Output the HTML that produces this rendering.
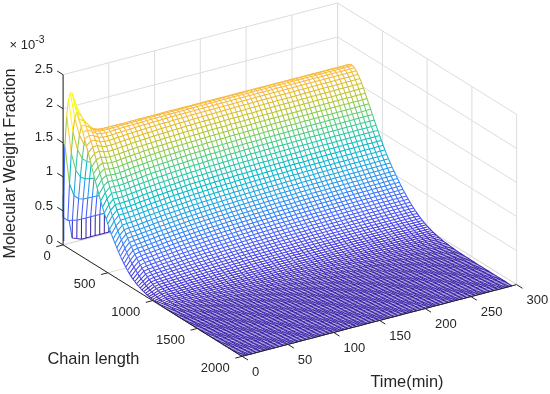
<!DOCTYPE html>
<html><head><meta charset="utf-8"><title>Molecular Weight Fraction</title><style>html,body{margin:0;padding:0;background:#fff}svg{display:block}</style></head><body>
<svg width="550" height="394" viewBox="0 0 550 394">
<rect width="550" height="394" fill="#fff"/>
<path d="M63.1 244.9 L337.6 173.2 M337.6 173.2 L337.6 3 M107.8 272.8 L382.4 201.1 M382.4 201.1 L382.4 30.9 M152.6 300.6 L427.1 228.9 M427.1 228.9 L427.1 58.7 M197.3 328.4 L471.9 256.8 M471.9 256.8 L471.9 86.6 M242.1 356.3 L516.6 284.6 M516.6 284.6 L516.6 114.4 M63.1 244.9 L242.1 356.3 M63.1 244.9 L63.1 74.7 M108.8 233 L287.9 344.4 M108.8 233 L108.8 62.8 M154.6 221 L333.6 332.4 M154.6 221 L154.6 50.8 M200.3 209.1 L379.4 320.4 M200.3 209.1 L200.3 38.9 M246.1 197.1 L425.1 308.5 M246.1 197.1 L246.1 26.9 M291.9 185.2 L470.9 296.6 M291.9 185.2 L291.9 15 M337.6 173.2 L516.6 284.6 M337.6 173.2 L337.6 3 M63.1 244.9 L337.6 173.2 M337.6 173.2 L516.6 284.6 M63.1 210.9 L337.6 139.2 M337.6 139.2 L516.6 250.6 M63.1 176.8 L337.6 105.1 M337.6 105.1 L516.6 216.5 M63.1 142.8 L337.6 71.1 M337.6 71.1 L516.6 182.5 M63.1 108.7 L337.6 37 M337.6 37 L516.6 148.4 M63.1 74.7 L337.6 3 M337.6 3 L516.6 114.4" stroke="#dcdcdc" stroke-width="1" fill="none"/>
<style>.w{fill:#fff;stroke:none}.s{fill:none;stroke-width:1.05;stroke-linejoin:round}.k0{stroke:#3e26a8}.k1{stroke:#402ab4}.k2{stroke:#422ec0}.k3{stroke:#4332cb}.k4{stroke:#4537d5}.k5{stroke:#463cde}.k6{stroke:#4741e5}.k7{stroke:#4747eb}.k8{stroke:#484df0}.k9{stroke:#4852f4}.k10{stroke:#4758f8}.k11{stroke:#465efb}.k12{stroke:#4563fd}.k13{stroke:#4269fe}.k14{stroke:#3e6fff}.k15{stroke:#3875fe}.k16{stroke:#327cfc}.k17{stroke:#2f81fa}.k18{stroke:#2e87f7}.k19{stroke:#2d8cf3}.k20{stroke:#2b91ef}.k21{stroke:#2797eb}.k22{stroke:#259be8}.k23{stroke:#23a0e5}.k24{stroke:#20a5e3}.k25{stroke:#1ca9df}.k26{stroke:#18addb}.k27{stroke:#12b1d6}.k28{stroke:#08b5d0}.k29{stroke:#01b8ca}.k30{stroke:#02bac3}.k31{stroke:#0bbdbd}.k32{stroke:#19bfb6}.k33{stroke:#24c1ae}.k34{stroke:#2cc4a7}.k35{stroke:#31c69f}.k36{stroke:#37c897}.k37{stroke:#3fca8e}.k38{stroke:#4acb84}.k39{stroke:#57cc7a}.k40{stroke:#64cd6f}.k41{stroke:#72cd64}.k42{stroke:#81cc59}.k43{stroke:#8fcb4e}.k44{stroke:#9dc943}.k45{stroke:#abc739}.k46{stroke:#b9c431}.k47{stroke:#c5c22a}.k48{stroke:#d1bf27}.k49{stroke:#dcbd29}.k50{stroke:#e6bb2d}.k51{stroke:#f0ba36}.k52{stroke:#f8ba3d}.k53{stroke:#febe3c}.k54{stroke:#fec338}.k55{stroke:#fec934}.k56{stroke:#fccf30}.k57{stroke:#fad62d}.k58{stroke:#f7dc2a}.k59{stroke:#f5e327}.k60{stroke:#f5e924}.k61{stroke:#f6ef20}.k62{stroke:#f7f51b}.k63{stroke:#f9fb15}</style>
<g class="s"><path class="w" d="M63.1 194.7L67.7 212.7L72.2 238L76.8 238.6L81.4 239.2L86 238L90.6 236.8L95.1 235.6L99.7 234.4L104.3 233.3L108.8 232.1L113.4 230.9L118 229.7L122.6 228.5L127.2 227.3L131.7 226.1L136.3 224.9L140.9 223.7L145.5 222.5L150 221.3L154.6 220.1L159.2 218.9L163.8 217.7L168.3 216.5L172.9 215.3L177.5 214.1L182.1 212.9L186.6 211.7L191.2 210.5L195.8 209.4L200.3 208.2L204.9 207L209.5 205.8L214.1 204.6L218.7 203.4L223.2 202.2L227.8 201L232.4 199.8L236.9 198.6L241.5 197.4L246.1 196.2L250.7 195L255.2 193.8L259.8 192.6L264.4 191.4L269 190.2L273.6 189L278.1 187.8L282.7 186.6L287.3 185.5L291.9 184.3L296.4 183.1L301 181.9L305.6 180.7L310.2 179.5L314.7 178.3L319.3 177.1L323.9 175.9L328.5 174.7L333 173.5L333.2 153.7L328.6 154.9L324 156.1L319.4 157.3L314.9 158.4L310.3 159.6L305.7 160.8L301.1 162L296.6 163.2L292 164.4L287.4 165.6L282.8 166.8L278.3 168L273.7 169.2L269.1 170.4L264.5 171.6L260 172.8L255.4 174L250.8 175.2L246.2 176.3L241.7 177.5L237.1 178.7L232.5 179.9L227.9 181.1L223.4 182.3L218.8 183.5L214.2 184.7L209.6 185.9L205.1 187.1L200.5 188.3L195.9 189.5L191.3 190.7L186.8 191.8L182.2 193L177.6 194.2L173 195.4L168.5 196.6L163.9 197.8L159.3 199L154.7 200.2L150.2 201.4L145.6 202.6L141 203.7L136.4 204.9L131.9 206.1L127.3 207.3L122.7 208.5L118.1 209.7L113.6 210.9L109 212.1L104.4 213.2L99.8 214.4L95.3 215.6L90.7 216.8L86.1 218L81.5 219.1L77 220.2L72.4 220.2L67.8 220.4L63.2 217.5z"/><path class="k24" d="M63.1 194.7L67.7 212.7M63.1 194.7L63.2 217.5"/><path class="k15" d="M67.7 212.7L72.2 238M67.7 212.7L67.8 220.4"/><path class="k2" d="M72.2 238L76.8 238.6M72.2 238L72.4 220.2"/><path class="k1" d="M76.8 238.6L81.4 239.2M76.8 238.6L77 220.2"/><path class="k0" d="M81.4 239.2L86 238L90.6 236.8L95.1 235.6L99.7 234.4L104.3 233.3L108.8 232.1L113.4 230.9L118 229.7L122.6 228.5L127.2 227.3L131.7 226.1L136.3 224.9L140.9 223.7L145.5 222.5L150 221.3L154.6 220.1L159.2 218.9L163.8 217.7L168.3 216.5L172.9 215.3L177.5 214.1L182.1 212.9L186.6 211.7L191.2 210.5L195.8 209.4L200.3 208.2L204.9 207L209.5 205.8L214.1 204.6L218.7 203.4L223.2 202.2L227.8 201L232.4 199.8L236.9 198.6L241.5 197.4L246.1 196.2L250.7 195L255.2 193.8L259.8 192.6L264.4 191.4L269 190.2L273.6 189L278.1 187.8L282.7 186.6L287.3 185.5L291.9 184.3L296.4 183.1L301 181.9L305.6 180.7L310.2 179.5L314.7 178.3L319.3 177.1L323.9 175.9L328.5 174.7L333 173.5M81.4 239.2L81.5 219.1M86 238L86.1 218M90.6 236.8L90.7 216.8M95.1 235.6L95.3 215.6M99.7 234.4L99.8 214.4M104.3 233.3L104.4 213.2M108.8 232.1L109 212.1M113.4 230.9L113.6 210.9M118 229.7L118.1 209.7M122.6 228.5L122.7 208.5M127.2 227.3L127.3 207.3M131.7 226.1L131.9 206.1M136.3 224.9L136.4 204.9M140.9 223.7L141 203.7M145.5 222.5L145.6 202.6M150 221.3L150.2 201.4M154.6 220.1L154.7 200.2M159.2 218.9L159.3 199M163.8 217.7L163.9 197.8M168.3 216.5L168.5 196.6M172.9 215.3L173 195.4M177.5 214.1L177.6 194.2M182.1 212.9L182.2 193M186.6 211.7L186.8 191.8M191.2 210.5L191.3 190.7M195.8 209.4L195.9 189.5M200.3 208.2L200.5 188.3M204.9 207L205.1 187.1M209.5 205.8L209.6 185.9M214.1 204.6L214.2 184.7M218.7 203.4L218.8 183.5M223.2 202.2L223.4 182.3M227.8 201L227.9 181.1M232.4 199.8L232.5 179.9M236.9 198.6L237.1 178.7M241.5 197.4L241.7 177.5M246.1 196.2L246.2 176.3M250.7 195L250.8 175.2M255.2 193.8L255.4 174M259.8 192.6L260 172.8M264.4 191.4L264.5 171.6M269 190.2L269.1 170.4M273.6 189L273.7 169.2M278.1 187.8L278.3 168M282.7 186.6L282.8 166.8M287.3 185.5L287.4 165.6M291.9 184.3L292 164.4M296.4 183.1L296.6 163.2M301 181.9L301.1 162M305.6 180.7L305.7 160.8M310.2 179.5L310.3 159.6M314.7 178.3L314.9 158.4M319.3 177.1L319.4 157.3M323.9 175.9L324 156.1M328.5 174.7L328.6 154.9M333 173.5L333.2 153.7"/><path class="w" d="M63.2 217.5L67.8 220.4L72.4 220.2L77 220.2L81.5 219.1L86.1 218L90.7 216.8L95.3 215.6L99.8 214.4L104.4 213.2L109 212.1L113.6 210.9L118.1 209.7L122.7 208.5L127.3 207.3L131.9 206.1L136.4 204.9L141 203.7L145.6 202.6L150.2 201.4L154.7 200.2L159.3 199L163.9 197.8L168.5 196.6L173 195.4L177.6 194.2L182.2 193L186.8 191.8L191.3 190.7L195.9 189.5L200.5 188.3L205.1 187.1L209.6 185.9L214.2 184.7L218.8 183.5L223.4 182.3L227.9 181.1L232.5 179.9L237.1 178.7L241.7 177.5L246.2 176.3L250.8 175.2L255.4 174L260 172.8L264.5 171.6L269.1 170.4L273.7 169.2L278.3 168L282.8 166.8L287.4 165.6L292 164.4L296.6 163.2L301.1 162L305.7 160.8L310.3 159.6L314.9 158.4L319.4 157.3L324 156.1L328.6 154.9L333.2 153.7L334.8 135.9L330.2 137.1L325.7 138.3L321.1 139.5L316.5 140.7L311.9 141.8L307.4 143L302.8 144.2L298.2 145.4L293.6 146.6L289.1 147.8L284.5 148.9L279.9 150.1L275.3 151.3L270.8 152.5L266.2 153.7L261.6 154.8L257 156L252.5 157.2L247.9 158.4L243.3 159.5L238.7 160.7L234.2 161.9L229.6 163L225 164.2L220.4 165.4L215.9 166.5L211.3 167.7L206.7 168.9L202.1 170L197.6 171.2L193 172.3L188.4 173.5L183.8 174.6L179.3 175.8L174.7 176.9L170.1 178.1L165.5 179.2L161 180.4L156.4 181.5L151.8 182.6L147.2 183.8L142.7 184.9L138.1 186L133.5 187.2L128.9 188.3L124.4 189.4L119.8 190.5L115.2 191.6L110.6 192.7L106.1 193.8L101.5 194.9L96.9 196L92.3 197.1L87.8 198.1L83.2 198.9L78.6 198.7L74 195.5L69.5 183.7L64.9 145.6z"/><path class="k14" d="M63.2 217.5L67.8 220.4M63.2 217.5L64.9 145.6"/><path class="k12" d="M67.8 220.4L72.4 220.2M67.8 220.4L69.5 183.7"/><path class="k11" d="M72.4 220.2L77 220.2L81.5 219.1L86.1 218L90.7 216.8L95.3 215.6L99.8 214.4L104.4 213.2L109 212.1L113.6 210.9L118.1 209.7L122.7 208.5L127.3 207.3L131.9 206.1L136.4 204.9L141 203.7L145.6 202.6L150.2 201.4L154.7 200.2L159.3 199L163.9 197.8L168.5 196.6L173 195.4L177.6 194.2L182.2 193L186.8 191.8L191.3 190.7L195.9 189.5L200.5 188.3L205.1 187.1L209.6 185.9L214.2 184.7L218.8 183.5L223.4 182.3L227.9 181.1L232.5 179.9L237.1 178.7L241.7 177.5L246.2 176.3L250.8 175.2L255.4 174L260 172.8L264.5 171.6L269.1 170.4L273.7 169.2L278.3 168L282.8 166.8L287.4 165.6L292 164.4L296.6 163.2L301.1 162L305.7 160.8L310.3 159.6L314.9 158.4L319.4 157.3L324 156.1L328.6 154.9L333.2 153.7M72.4 220.2L74 195.5M77 220.2L78.6 198.7M81.5 219.1L83.2 198.9M86.1 218L87.8 198.1M90.7 216.8L92.3 197.1M95.3 215.6L96.9 196M99.8 214.4L101.5 194.9M104.4 213.2L106.1 193.8M109 212.1L110.6 192.7M113.6 210.9L115.2 191.6M118.1 209.7L119.8 190.5M122.7 208.5L124.4 189.4M127.3 207.3L128.9 188.3M131.9 206.1L133.5 187.2M136.4 204.9L138.1 186M141 203.7L142.7 184.9M145.6 202.6L147.2 183.8M150.2 201.4L151.8 182.6M154.7 200.2L156.4 181.5M159.3 199L161 180.4M163.9 197.8L165.5 179.2M168.5 196.6L170.1 178.1M173 195.4L174.7 176.9M177.6 194.2L179.3 175.8M182.2 193L183.8 174.6M186.8 191.8L188.4 173.5M191.3 190.7L193 172.3M195.9 189.5L197.6 171.2M200.5 188.3L202.1 170M205.1 187.1L206.7 168.9M209.6 185.9L211.3 167.7M214.2 184.7L215.9 166.5M218.8 183.5L220.4 165.4M223.4 182.3L225 164.2M227.9 181.1L229.6 163M232.5 179.9L234.2 161.9M237.1 178.7L238.7 160.7M241.7 177.5L243.3 159.5M246.2 176.3L247.9 158.4M250.8 175.2L252.5 157.2M255.4 174L257 156M260 172.8L261.6 154.8M264.5 171.6L266.2 153.7M269.1 170.4L270.8 152.5M273.7 169.2L275.3 151.3M278.3 168L279.9 150.1M282.8 166.8L284.5 148.9M287.4 165.6L289.1 147.8M292 164.4L293.6 146.6M296.6 163.2L298.2 145.4M301.1 162L302.8 144.2M305.7 160.8L307.4 143M310.3 159.6L311.9 141.8M314.9 158.4L316.5 140.7M319.4 157.3L321.1 139.5M324 156.1L325.7 138.3M328.6 154.9L330.2 137.1M333.2 153.7L334.8 135.9"/><path class="w" d="M64.9 145.6L69.5 183.7L74 195.5L78.6 198.7L83.2 198.9L87.8 198.1L92.3 197.1L96.9 196L101.5 194.9L106.1 193.8L110.6 192.7L115.2 191.6L119.8 190.5L124.4 189.4L128.9 188.3L133.5 187.2L138.1 186L142.7 184.9L147.2 183.8L151.8 182.6L156.4 181.5L161 180.4L165.5 179.2L170.1 178.1L174.7 176.9L179.3 175.8L183.8 174.6L188.4 173.5L193 172.3L197.6 171.2L202.1 170L206.7 168.9L211.3 167.7L215.9 166.5L220.4 165.4L225 164.2L229.6 163L234.2 161.9L238.7 160.7L243.3 159.5L247.9 158.4L252.5 157.2L257 156L261.6 154.8L266.2 153.7L270.8 152.5L275.3 151.3L279.9 150.1L284.5 148.9L289.1 147.8L293.6 146.6L298.2 145.4L302.8 144.2L307.4 143L311.9 141.8L316.5 140.7L321.1 139.5L325.7 138.3L330.2 137.1L334.8 135.9L336.6 118.3L332 119.5L327.5 120.7L322.9 121.9L318.3 123L313.7 124.2L309.2 125.4L304.6 126.6L300 127.7L295.4 128.9L290.9 130.1L286.3 131.3L281.7 132.4L277.1 133.6L272.6 134.8L268 135.9L263.4 137.1L258.8 138.3L254.3 139.4L249.7 140.6L245.1 141.7L240.5 142.9L236 144L231.4 145.2L226.8 146.3L222.2 147.5L217.7 148.6L213.1 149.8L208.5 150.9L203.9 152.1L199.4 153.2L194.8 154.3L190.2 155.5L185.6 156.6L181.1 157.7L176.5 158.8L171.9 159.9L167.3 161.1L162.8 162.2L158.2 163.3L153.6 164.4L149 165.5L144.5 166.6L139.9 167.7L135.3 168.7L130.7 169.8L126.2 170.9L121.6 172L117 173L112.4 174.1L107.9 175.1L103.3 176.2L98.7 177.2L94.1 178.1L89.6 178.8L85 178.8L80.4 177L75.8 170.2L71.3 153.3L66.7 115.6z"/><path class="k44" d="M64.9 145.6L69.5 183.7M64.9 145.6L66.7 115.6"/><path class="k28" d="M69.5 183.7L74 195.5M69.5 183.7L71.3 153.3"/><path class="k23" d="M74 195.5L78.6 198.7M74 195.5L75.8 170.2"/><path class="k21" d="M78.6 198.7L83.2 198.9M78.6 198.7L80.4 177"/><path class="k20" d="M83.2 198.9L87.8 198.1L92.3 197.1L96.9 196L101.5 194.9L106.1 193.8L110.6 192.7L115.2 191.6L119.8 190.5L124.4 189.4L128.9 188.3L133.5 187.2L138.1 186L142.7 184.9L147.2 183.8L151.8 182.6L156.4 181.5L161 180.4L165.5 179.2L170.1 178.1L174.7 176.9L179.3 175.8L183.8 174.6L188.4 173.5L193 172.3L197.6 171.2L202.1 170M83.2 198.9L85 178.8M87.8 198.1L89.6 178.8M92.3 197.1L94.1 178.1M96.9 196L98.7 177.2M101.5 194.9L103.3 176.2M106.1 193.8L107.9 175.1M110.6 192.7L112.4 174.1M115.2 191.6L117 173M119.8 190.5L121.6 172M124.4 189.4L126.2 170.9M128.9 188.3L130.7 169.8M133.5 187.2L135.3 168.7M138.1 186L139.9 167.7M142.7 184.9L144.5 166.6M147.2 183.8L149 165.5M151.8 182.6L153.6 164.4M156.4 181.5L158.2 163.3M161 180.4L162.8 162.2M165.5 179.2L167.3 161.1M170.1 178.1L171.9 159.9M174.7 176.9L176.5 158.8M179.3 175.8L181.1 157.7M183.8 174.6L185.6 156.6M188.4 173.5L190.2 155.5M193 172.3L194.8 154.3M197.6 171.2L199.4 153.2"/><path class="k19" d="M202.1 170L206.7 168.9L211.3 167.7L215.9 166.5L220.4 165.4L225 164.2L229.6 163L234.2 161.9L238.7 160.7L243.3 159.5L247.9 158.4L252.5 157.2L257 156L261.6 154.8L266.2 153.7L270.8 152.5L275.3 151.3L279.9 150.1L284.5 148.9L289.1 147.8L293.6 146.6L298.2 145.4L302.8 144.2L307.4 143L311.9 141.8L316.5 140.7L321.1 139.5L325.7 138.3L330.2 137.1L334.8 135.9M202.1 170L203.9 152.1M206.7 168.9L208.5 150.9M211.3 167.7L213.1 149.8M215.9 166.5L217.7 148.6M220.4 165.4L222.2 147.5M225 164.2L226.8 146.3M229.6 163L231.4 145.2M234.2 161.9L236 144M238.7 160.7L240.5 142.9M243.3 159.5L245.1 141.7M247.9 158.4L249.7 140.6M252.5 157.2L254.3 139.4M257 156L258.8 138.3M261.6 154.8L263.4 137.1M266.2 153.7L268 135.9M270.8 152.5L272.6 134.8M275.3 151.3L277.1 133.6M279.9 150.1L281.7 132.4M284.5 148.9L286.3 131.3M289.1 147.8L290.9 130.1M293.6 146.6L295.4 128.9M298.2 145.4L300 127.7M302.8 144.2L304.6 126.6M307.4 143L309.2 125.4M311.9 141.8L313.7 124.2M316.5 140.7L318.3 123M321.1 139.5L322.9 121.9M325.7 138.3L327.5 120.7M330.2 137.1L332 119.5M334.8 135.9L336.6 118.3"/><path class="w" d="M66.7 115.6L71.3 153.3L75.8 170.2L80.4 177L85 178.8L89.6 178.8L94.1 178.1L98.7 177.2L103.3 176.2L107.9 175.1L112.4 174.1L117 173L121.6 172L126.2 170.9L130.7 169.8L135.3 168.7L139.9 167.7L144.5 166.6L149 165.5L153.6 164.4L158.2 163.3L162.8 162.2L167.3 161.1L171.9 159.9L176.5 158.8L181.1 157.7L185.6 156.6L190.2 155.5L194.8 154.3L199.4 153.2L203.9 152.1L208.5 150.9L213.1 149.8L217.7 148.6L222.2 147.5L226.8 146.3L231.4 145.2L236 144L240.5 142.9L245.1 141.7L249.7 140.6L254.3 139.4L258.8 138.3L263.4 137.1L268 135.9L272.6 134.8L277.1 133.6L281.7 132.4L286.3 131.3L290.9 130.1L295.4 128.9L300 127.7L304.6 126.6L309.2 125.4L313.7 124.2L318.3 123L322.9 121.9L327.5 120.7L332 119.5L336.6 118.3L338.4 103.2L333.8 104.4L329.2 105.5L324.7 106.7L320.1 107.9L315.5 109.1L310.9 110.2L306.4 111.4L301.8 112.6L297.2 113.7L292.6 114.9L288.1 116.1L283.5 117.2L278.9 118.4L274.3 119.6L269.8 120.7L265.2 121.9L260.6 123L256 124.2L251.5 125.3L246.9 126.5L242.3 127.6L237.7 128.8L233.2 129.9L228.6 131.1L224 132.2L219.4 133.4L214.9 134.5L210.3 135.6L205.7 136.8L201.1 137.9L196.6 139L192 140.1L187.4 141.2L182.8 142.3L178.3 143.4L173.7 144.6L169.1 145.7L164.5 146.7L160 147.8L155.4 148.9L150.8 150L146.2 151.1L141.7 152.2L137.1 153.2L132.5 154.3L127.9 155.3L123.4 156.4L118.8 157.4L114.2 158.5L109.6 159.5L105.1 160.4L100.5 161.3L95.9 162L91.3 162.3L86.8 161.6L82.2 158.5L77.6 149.8L73 131.8L68.5 99.5z"/><path class="k56" d="M66.7 115.6L71.3 153.3M66.7 115.6L68.5 99.5"/><path class="k41" d="M71.3 153.3L75.8 170.2M71.3 153.3L73 131.8"/><path class="k34" d="M75.8 170.2L80.4 177M75.8 170.2L77.6 149.8"/><path class="k31" d="M80.4 177L85 178.8M80.4 177L82.2 158.5"/><path class="k29" d="M85 178.8L89.6 178.8L94.1 178.1L98.7 177.2L103.3 176.2L107.9 175.1M85 178.8L86.8 161.6M89.6 178.8L91.3 162.3M94.1 178.1L95.9 162M98.7 177.2L100.5 161.3M103.3 176.2L105.1 160.4"/><path class="k28" d="M107.9 175.1L112.4 174.1L117 173L121.6 172L126.2 170.9L130.7 169.8L135.3 168.7L139.9 167.7L144.5 166.6L149 165.5L153.6 164.4L158.2 163.3L162.8 162.2L167.3 161.1L171.9 159.9L176.5 158.8L181.1 157.7L185.6 156.6L190.2 155.5L194.8 154.3L199.4 153.2L203.9 152.1L208.5 150.9L213.1 149.8L217.7 148.6L222.2 147.5L226.8 146.3L231.4 145.2L236 144M107.9 175.1L109.6 159.5M112.4 174.1L114.2 158.5M117 173L118.8 157.4M121.6 172L123.4 156.4M126.2 170.9L127.9 155.3M130.7 169.8L132.5 154.3M135.3 168.7L137.1 153.2M139.9 167.7L141.7 152.2M144.5 166.6L146.2 151.1M149 165.5L150.8 150M153.6 164.4L155.4 148.9M158.2 163.3L160 147.8M162.8 162.2L164.5 146.7M167.3 161.1L169.1 145.7M171.9 159.9L173.7 144.6M176.5 158.8L178.3 143.4M181.1 157.7L182.8 142.3M185.6 156.6L187.4 141.2M190.2 155.5L192 140.1M194.8 154.3L196.6 139M199.4 153.2L201.1 137.9M203.9 152.1L205.7 136.8M208.5 150.9L210.3 135.6M213.1 149.8L214.9 134.5M217.7 148.6L219.4 133.4M222.2 147.5L224 132.2M226.8 146.3L228.6 131.1M231.4 145.2L233.2 129.9"/><path class="k27" d="M236 144L240.5 142.9L245.1 141.7L249.7 140.6L254.3 139.4L258.8 138.3L263.4 137.1L268 135.9L272.6 134.8L277.1 133.6L281.7 132.4L286.3 131.3L290.9 130.1L295.4 128.9L300 127.7L304.6 126.6L309.2 125.4L313.7 124.2L318.3 123L322.9 121.9L327.5 120.7L332 119.5L336.6 118.3M236 144L237.7 128.8M240.5 142.9L242.3 127.6M245.1 141.7L246.9 126.5M249.7 140.6L251.5 125.3M254.3 139.4L256 124.2M258.8 138.3L260.6 123M263.4 137.1L265.2 121.9M268 135.9L269.8 120.7M272.6 134.8L274.3 119.6M277.1 133.6L278.9 118.4M281.7 132.4L283.5 117.2M286.3 131.3L288.1 116.1M290.9 130.1L292.6 114.9M295.4 128.9L297.2 113.7M300 127.7L301.8 112.6M304.6 126.6L306.4 111.4M309.2 125.4L310.9 110.2M313.7 124.2L315.5 109.1M318.3 123L320.1 107.9M322.9 121.9L324.7 106.7M327.5 120.7L329.2 105.5M332 119.5L333.8 104.4M336.6 118.3L338.4 103.2"/><path class="w" d="M68.5 99.5L73 131.8L77.6 149.8L82.2 158.5L86.8 161.6L91.3 162.3L95.9 162L100.5 161.3L105.1 160.4L109.6 159.5L114.2 158.5L118.8 157.4L123.4 156.4L127.9 155.3L132.5 154.3L137.1 153.2L141.7 152.2L146.2 151.1L150.8 150L155.4 148.9L160 147.8L164.5 146.7L169.1 145.7L173.7 144.6L178.3 143.4L182.8 142.3L187.4 141.2L192 140.1L196.6 139L201.1 137.9L205.7 136.8L210.3 135.6L214.9 134.5L219.4 133.4L224 132.2L228.6 131.1L233.2 129.9L237.7 128.8L242.3 127.6L246.9 126.5L251.5 125.3L256 124.2L260.6 123L265.2 121.9L269.8 120.7L274.3 119.6L278.9 118.4L283.5 117.2L288.1 116.1L292.6 114.9L297.2 113.7L301.8 112.6L306.4 111.4L310.9 110.2L315.5 109.1L320.1 107.9L324.7 106.7L329.2 105.5L333.8 104.4L338.4 103.2L340.2 90.8L335.6 91.9L331 93.1L326.5 94.3L321.9 95.5L317.3 96.6L312.7 97.8L308.2 99L303.6 100.2L299 101.3L294.4 102.5L289.9 103.7L285.3 104.8L280.7 106L276.1 107.1L271.6 108.3L267 109.5L262.4 110.6L257.8 111.8L253.3 112.9L248.7 114.1L244.1 115.2L239.5 116.4L235 117.5L230.4 118.6L225.8 119.8L221.2 120.9L216.7 122.1L212.1 123.2L207.5 124.3L202.9 125.4L198.4 126.5L193.8 127.7L189.2 128.8L184.6 129.9L180.1 131L175.5 132.1L170.9 133.2L166.3 134.3L161.8 135.4L157.2 136.5L152.6 137.5L148 138.6L143.5 139.7L138.9 140.8L134.3 141.8L129.7 142.9L125.2 143.9L120.6 145L116 146L111.4 146.9L106.9 147.8L102.3 148.6L97.7 149.1L93.1 149L88.6 147.9L84 144.2L79.4 135.1L74.8 118.4L70.3 92.8z"/><path class="k63" d="M68.5 99.5L73 131.8M68.5 99.5L70.3 92.8"/><path class="k50" d="M73 131.8L77.6 149.8M73 131.8L74.8 118.4"/><path class="k43" d="M77.6 149.8L82.2 158.5M77.6 149.8L79.4 135.1"/><path class="k39" d="M82.2 158.5L86.8 161.6M82.2 158.5L84 144.2"/><path class="k37" d="M86.8 161.6L91.3 162.3M86.8 161.6L88.6 147.9"/><path class="k36" d="M91.3 162.3L95.9 162L100.5 161.3L105.1 160.4M91.3 162.3L93.1 149M95.9 162L97.7 149.1M100.5 161.3L102.3 148.6"/><path class="k35" d="M105.1 160.4L109.6 159.5L114.2 158.5L118.8 157.4L123.4 156.4L127.9 155.3L132.5 154.3L137.1 153.2L141.7 152.2L146.2 151.1L150.8 150L155.4 148.9L160 147.8L164.5 146.7L169.1 145.7L173.7 144.6L178.3 143.4L182.8 142.3L187.4 141.2L192 140.1M105.1 160.4L106.9 147.8M109.6 159.5L111.4 146.9M114.2 158.5L116 146M118.8 157.4L120.6 145M123.4 156.4L125.2 143.9M127.9 155.3L129.7 142.9M132.5 154.3L134.3 141.8M137.1 153.2L138.9 140.8M141.7 152.2L143.5 139.7M146.2 151.1L148 138.6M150.8 150L152.6 137.5M155.4 148.9L157.2 136.5M160 147.8L161.8 135.4M164.5 146.7L166.3 134.3M169.1 145.7L170.9 133.2M173.7 144.6L175.5 132.1M178.3 143.4L180.1 131M182.8 142.3L184.6 129.9M187.4 141.2L189.2 128.8"/><path class="k34" d="M192 140.1L196.6 139L201.1 137.9L205.7 136.8L210.3 135.6L214.9 134.5L219.4 133.4L224 132.2L228.6 131.1L233.2 129.9L237.7 128.8L242.3 127.6L246.9 126.5L251.5 125.3L256 124.2L260.6 123L265.2 121.9L269.8 120.7L274.3 119.6L278.9 118.4L283.5 117.2L288.1 116.1L292.6 114.9L297.2 113.7L301.8 112.6L306.4 111.4L310.9 110.2L315.5 109.1L320.1 107.9L324.7 106.7L329.2 105.5L333.8 104.4L338.4 103.2M192 140.1L193.8 127.7M196.6 139L198.4 126.5M201.1 137.9L202.9 125.4M205.7 136.8L207.5 124.3M210.3 135.6L212.1 123.2M214.9 134.5L216.7 122.1M219.4 133.4L221.2 120.9M224 132.2L225.8 119.8M228.6 131.1L230.4 118.6M233.2 129.9L235 117.5M237.7 128.8L239.5 116.4M242.3 127.6L244.1 115.2M246.9 126.5L248.7 114.1M251.5 125.3L253.3 112.9M256 124.2L257.8 111.8M260.6 123L262.4 110.6M265.2 121.9L267 109.5M269.8 120.7L271.6 108.3M274.3 119.6L276.1 107.1M278.9 118.4L280.7 106M283.5 117.2L285.3 104.8M288.1 116.1L289.9 103.7M292.6 114.9L294.4 102.5M297.2 113.7L299 101.3M301.8 112.6L303.6 100.2M306.4 111.4L308.2 99M310.9 110.2L312.7 97.8M315.5 109.1L317.3 96.6M320.1 107.9L321.9 95.5M324.7 106.7L326.5 94.3M329.2 105.5L331 93.1M333.8 104.4L335.6 91.9M338.4 103.2L340.2 90.8"/><path class="w" d="M70.3 92.8L74.8 118.4L79.4 135.1L84 144.2L88.6 147.9L93.1 149L97.7 149.1L102.3 148.6L106.9 147.8L111.4 146.9L116 146L120.6 145L125.2 143.9L129.7 142.9L134.3 141.8L138.9 140.8L143.5 139.7L148 138.6L152.6 137.5L157.2 136.5L161.8 135.4L166.3 134.3L170.9 133.2L175.5 132.1L180.1 131L184.6 129.9L189.2 128.8L193.8 127.7L198.4 126.5L202.9 125.4L207.5 124.3L212.1 123.2L216.7 122.1L221.2 120.9L225.8 119.8L230.4 118.6L235 117.5L239.5 116.4L244.1 115.2L248.7 114.1L253.3 112.9L257.8 111.8L262.4 110.6L267 109.5L271.6 108.3L276.1 107.1L280.7 106L285.3 104.8L289.9 103.7L294.4 102.5L299 101.3L303.6 100.2L308.2 99L312.7 97.8L317.3 96.6L321.9 95.5L326.5 94.3L331 93.1L335.6 91.9L340.2 90.8L342 81L337.4 82.2L332.8 83.4L328.2 84.6L323.7 85.8L319.1 86.9L314.5 88.1L309.9 89.3L305.4 90.4L300.8 91.6L296.2 92.8L291.7 93.9L287.1 95.1L282.5 96.3L277.9 97.4L273.4 98.6L268.8 99.8L264.2 100.9L259.6 102.1L255.1 103.2L250.5 104.4L245.9 105.5L241.3 106.7L236.8 107.8L232.2 109L227.6 110.1L223 111.2L218.4 112.4L213.9 113.5L209.3 114.6L204.7 115.8L200.1 116.9L195.6 118L191 119.1L186.4 120.3L181.9 121.4L177.3 122.5L172.7 123.6L168.1 124.7L163.6 125.8L159 126.9L154.4 128L149.8 129.1L145.2 130.2L140.7 131.2L136.1 132.3L131.5 133.4L127 134.4L122.4 135.5L117.8 136.5L113.2 137.5L108.7 138.4L104.1 139.1L99.5 139.6L94.9 139.6L90.3 138.6L85.8 135.1L81.2 126.8L76.6 112.6L72 93z"/><path class="k63" d="M70.3 92.8L74.8 118.4M70.3 92.8L72 93"/><path class="k56" d="M74.8 118.4L79.4 135.1M74.8 118.4L76.6 112.6"/><path class="k49" d="M79.4 135.1L84 144.2M79.4 135.1L81.2 126.8"/><path class="k45" d="M84 144.2L88.6 147.9M84 144.2L85.8 135.1"/><path class="k43" d="M88.6 147.9L93.1 149M88.6 147.9L90.3 138.6"/><path class="k42" d="M93.1 149L97.7 149.1M93.1 149L94.9 139.6"/><path class="k41" d="M97.7 149.1L102.3 148.6L106.9 147.8L111.4 146.9L116 146L120.6 145L125.2 143.9L129.7 142.9L134.3 141.8M97.7 149.1L99.5 139.6M102.3 148.6L104.1 139.1M106.9 147.8L108.7 138.4M111.4 146.9L113.2 137.5M116 146L117.8 136.5M120.6 145L122.4 135.5M125.2 143.9L127 134.4M129.7 142.9L131.5 133.4"/><path class="k40" d="M134.3 141.8L138.9 140.8L143.5 139.7L148 138.6L152.6 137.5L157.2 136.5L161.8 135.4L166.3 134.3L170.9 133.2L175.5 132.1L180.1 131L184.6 129.9L189.2 128.8L193.8 127.7L198.4 126.5L202.9 125.4L207.5 124.3L212.1 123.2L216.7 122.1L221.2 120.9L225.8 119.8L230.4 118.6L235 117.5L239.5 116.4L244.1 115.2L248.7 114.1L253.3 112.9L257.8 111.8L262.4 110.6L267 109.5L271.6 108.3L276.1 107.1L280.7 106L285.3 104.8L289.9 103.7L294.4 102.5M134.3 141.8L136.1 132.3M138.9 140.8L140.7 131.2M143.5 139.7L145.2 130.2M148 138.6L149.8 129.1M152.6 137.5L154.4 128M157.2 136.5L159 126.9M161.8 135.4L163.6 125.8M166.3 134.3L168.1 124.7M170.9 133.2L172.7 123.6M175.5 132.1L177.3 122.5M180.1 131L181.9 121.4M184.6 129.9L186.4 120.3M189.2 128.8L191 119.1M193.8 127.7L195.6 118M198.4 126.5L200.1 116.9M202.9 125.4L204.7 115.8M207.5 124.3L209.3 114.6M212.1 123.2L213.9 113.5M216.7 122.1L218.4 112.4M221.2 120.9L223 111.2M225.8 119.8L227.6 110.1M230.4 118.6L232.2 109M235 117.5L236.8 107.8M239.5 116.4L241.3 106.7M244.1 115.2L245.9 105.5M248.7 114.1L250.5 104.4M253.3 112.9L255.1 103.2M257.8 111.8L259.6 102.1M262.4 110.6L264.2 100.9M267 109.5L268.8 99.8M271.6 108.3L273.4 98.6M276.1 107.1L277.9 97.4M280.7 106L282.5 96.3M285.3 104.8L287.1 95.1M289.9 103.7L291.7 93.9"/><path class="k39" d="M294.4 102.5L299 101.3L303.6 100.2L308.2 99L312.7 97.8L317.3 96.6L321.9 95.5L326.5 94.3L331 93.1L335.6 91.9L340.2 90.8M294.4 102.5L296.2 92.8M299 101.3L300.8 91.6M303.6 100.2L305.4 90.4M308.2 99L309.9 89.3M312.7 97.8L314.5 88.1M317.3 96.6L319.1 86.9M321.9 95.5L323.7 85.8M326.5 94.3L328.2 84.6M331 93.1L332.8 83.4M335.6 91.9L337.4 82.2M340.2 90.8L342 81"/><path class="w" d="M72 93L76.6 112.6L81.2 126.8L85.8 135.1L90.3 138.6L94.9 139.6L99.5 139.6L104.1 139.1L108.7 138.4L113.2 137.5L117.8 136.5L122.4 135.5L127 134.4L131.5 133.4L136.1 132.3L140.7 131.2L145.2 130.2L149.8 129.1L154.4 128L159 126.9L163.6 125.8L168.1 124.7L172.7 123.6L177.3 122.5L181.9 121.4L186.4 120.3L191 119.1L195.6 118L200.1 116.9L204.7 115.8L209.3 114.6L213.9 113.5L218.4 112.4L223 111.2L227.6 110.1L232.2 109L236.8 107.8L241.3 106.7L245.9 105.5L250.5 104.4L255.1 103.2L259.6 102.1L264.2 100.9L268.8 99.8L273.4 98.6L277.9 97.4L282.5 96.3L287.1 95.1L291.7 93.9L296.2 92.8L300.8 91.6L305.4 90.4L309.9 89.3L314.5 88.1L319.1 86.9L323.7 85.8L328.2 84.6L332.8 83.4L337.4 82.2L342 81L343.8 73.8L339.2 75L334.6 76.2L330 77.3L325.5 78.5L320.9 79.7L316.3 80.9L311.7 82.1L307.2 83.2L302.6 84.4L298 85.6L293.4 86.7L288.9 87.9L284.3 89.1L279.7 90.2L275.1 91.4L270.6 92.6L266 93.7L261.4 94.9L256.8 96.1L252.3 97.2L247.7 98.4L243.1 99.5L238.5 100.7L234 101.8L229.4 103L224.8 104.1L220.2 105.3L215.7 106.4L211.1 107.6L206.5 108.7L201.9 109.8L197.4 111L192.8 112.1L188.2 113.2L183.6 114.3L179.1 115.5L174.5 116.6L169.9 117.7L165.3 118.8L160.8 120L156.2 121.1L151.6 122.2L147 123.3L142.5 124.4L137.9 125.5L133.3 126.6L128.7 127.7L124.2 128.8L119.6 129.9L115 130.9L110.4 131.9L105.9 132.7L101.3 133.4L96.7 133.7L92.1 133.2L87.6 130.6L83 123.6L78.4 112.2L73.8 97.7z"/><path class="k63" d="M72 93L76.6 112.6M72 93L73.8 97.7"/><path class="k58" d="M76.6 112.6L81.2 126.8M76.6 112.6L78.4 112.2"/><path class="k52" d="M81.2 126.8L85.8 135.1M81.2 126.8L83 123.6"/><path class="k49" d="M85.8 135.1L90.3 138.6M85.8 135.1L87.6 130.6"/><path class="k47" d="M90.3 138.6L94.9 139.6M90.3 138.6L92.1 133.2"/><path class="k46" d="M94.9 139.6L99.5 139.6L104.1 139.1M94.9 139.6L96.7 133.7M99.5 139.6L101.3 133.4"/><path class="k45" d="M104.1 139.1L108.7 138.4L113.2 137.5L117.8 136.5L122.4 135.5L127 134.4L131.5 133.4L136.1 132.3L140.7 131.2L145.2 130.2L149.8 129.1L154.4 128L159 126.9M104.1 139.1L105.9 132.7M108.7 138.4L110.4 131.9M113.2 137.5L115 130.9M117.8 136.5L119.6 129.9M122.4 135.5L124.2 128.8M127 134.4L128.7 127.7M131.5 133.4L133.3 126.6M136.1 132.3L137.9 125.5M140.7 131.2L142.5 124.4M145.2 130.2L147 123.3M149.8 129.1L151.6 122.2M154.4 128L156.2 121.1"/><path class="k44" d="M159 126.9L163.6 125.8L168.1 124.7L172.7 123.6L177.3 122.5L181.9 121.4L186.4 120.3L191 119.1L195.6 118L200.1 116.9L204.7 115.8L209.3 114.6L213.9 113.5L218.4 112.4L223 111.2L227.6 110.1L232.2 109L236.8 107.8L241.3 106.7L245.9 105.5L250.5 104.4L255.1 103.2L259.6 102.1L264.2 100.9L268.8 99.8L273.4 98.6L277.9 97.4L282.5 96.3L287.1 95.1L291.7 93.9L296.2 92.8L300.8 91.6L305.4 90.4L309.9 89.3L314.5 88.1L319.1 86.9L323.7 85.8L328.2 84.6L332.8 83.4L337.4 82.2L342 81M159 126.9L160.8 120M163.6 125.8L165.3 118.8M168.1 124.7L169.9 117.7M172.7 123.6L174.5 116.6M177.3 122.5L179.1 115.5M181.9 121.4L183.6 114.3M186.4 120.3L188.2 113.2M191 119.1L192.8 112.1M195.6 118L197.4 111M200.1 116.9L201.9 109.8M204.7 115.8L206.5 108.7M209.3 114.6L211.1 107.6M213.9 113.5L215.7 106.4M218.4 112.4L220.2 105.3M223 111.2L224.8 104.1M227.6 110.1L229.4 103M232.2 109L234 101.8M236.8 107.8L238.5 100.7M241.3 106.7L243.1 99.5M245.9 105.5L247.7 98.4M250.5 104.4L252.3 97.2M255.1 103.2L256.8 96.1M259.6 102.1L261.4 94.9M264.2 100.9L266 93.7M268.8 99.8L270.6 92.6M273.4 98.6L275.1 91.4M277.9 97.4L279.7 90.2M282.5 96.3L284.3 89.1M287.1 95.1L288.9 87.9M291.7 93.9L293.4 86.7M296.2 92.8L298 85.6M300.8 91.6L302.6 84.4M305.4 90.4L307.2 83.2M309.9 89.3L311.7 82.1M314.5 88.1L316.3 80.9M319.1 86.9L320.9 79.7M323.7 85.8L325.5 78.5M328.2 84.6L330 77.3M332.8 83.4L334.6 76.2M337.4 82.2L339.2 75M342 81L343.8 73.8"/><path class="w" d="M73.8 97.7L78.4 112.2L83 123.6L87.6 130.6L92.1 133.2L96.7 133.7L101.3 133.4L105.9 132.7L110.4 131.9L115 130.9L119.6 129.9L124.2 128.8L128.7 127.7L133.3 126.6L137.9 125.5L142.5 124.4L147 123.3L151.6 122.2L156.2 121.1L160.8 120L165.3 118.8L169.9 117.7L174.5 116.6L179.1 115.5L183.6 114.3L188.2 113.2L192.8 112.1L197.4 111L201.9 109.8L206.5 108.7L211.1 107.6L215.7 106.4L220.2 105.3L224.8 104.1L229.4 103L234 101.8L238.5 100.7L243.1 99.5L247.7 98.4L252.3 97.2L256.8 96.1L261.4 94.9L266 93.7L270.6 92.6L275.1 91.4L279.7 90.2L284.3 89.1L288.9 87.9L293.4 86.7L298 85.6L302.6 84.4L307.2 83.2L311.7 82.1L316.3 80.9L320.9 79.7L325.5 78.5L330 77.3L334.6 76.2L339.2 75L343.8 73.8L345.6 68.8L341 70L336.4 71.2L331.8 72.3L327.3 73.5L322.7 74.7L318.1 75.9L313.5 77.1L309 78.2L304.4 79.4L299.8 80.6L295.2 81.8L290.7 82.9L286.1 84.1L281.5 85.3L276.9 86.5L272.4 87.6L267.8 88.8L263.2 90L258.6 91.1L254.1 92.3L249.5 93.5L244.9 94.6L240.3 95.8L235.8 96.9L231.2 98.1L226.6 99.3L222 100.4L217.5 101.6L212.9 102.7L208.3 103.9L203.7 105L199.2 106.2L194.6 107.3L190 108.5L185.4 109.6L180.9 110.8L176.3 111.9L171.7 113.1L167.1 114.2L162.6 115.3L158 116.5L153.4 117.6L148.8 118.8L144.3 119.9L139.7 121L135.1 122.2L130.5 123.3L126 124.5L121.4 125.6L116.8 126.7L112.2 127.8L107.7 128.8L103.1 129.7L98.5 130.3L93.9 130.2L89.4 128.3L84.8 122.7L80.2 114.1L75.6 104.6z"/><path class="k63" d="M73.8 97.7L78.4 112.2M73.8 97.7L75.6 104.6"/><path class="k59" d="M78.4 112.2L83 123.6M78.4 112.2L80.2 114.1"/><path class="k54" d="M83 123.6L87.6 130.6M83 123.6L84.8 122.7"/><path class="k51" d="M87.6 130.6L92.1 133.2M87.6 130.6L89.4 128.3"/><path class="k49" d="M92.1 133.2L96.7 133.7L101.3 133.4M92.1 133.2L93.9 130.2M96.7 133.7L98.5 130.3"/><path class="k48" d="M101.3 133.4L105.9 132.7L110.4 131.9L115 130.9L119.6 129.9L124.2 128.8L128.7 127.7L133.3 126.6L137.9 125.5L142.5 124.4L147 123.3L151.6 122.2L156.2 121.1L160.8 120L165.3 118.8L169.9 117.7L174.5 116.6L179.1 115.5M101.3 133.4L103.1 129.7M105.9 132.7L107.7 128.8M110.4 131.9L112.2 127.8M115 130.9L116.8 126.7M119.6 129.9L121.4 125.6M124.2 128.8L126 124.5M128.7 127.7L130.5 123.3M133.3 126.6L135.1 122.2M137.9 125.5L139.7 121M142.5 124.4L144.3 119.9M147 123.3L148.8 118.8M151.6 122.2L153.4 117.6M156.2 121.1L158 116.5M160.8 120L162.6 115.3M165.3 118.8L167.1 114.2M169.9 117.7L171.7 113.1M174.5 116.6L176.3 111.9"/><path class="k47" d="M179.1 115.5L183.6 114.3L188.2 113.2L192.8 112.1L197.4 111L201.9 109.8L206.5 108.7L211.1 107.6L215.7 106.4L220.2 105.3L224.8 104.1L229.4 103L234 101.8L238.5 100.7L243.1 99.5L247.7 98.4L252.3 97.2L256.8 96.1L261.4 94.9L266 93.7L270.6 92.6L275.1 91.4L279.7 90.2L284.3 89.1L288.9 87.9L293.4 86.7L298 85.6L302.6 84.4L307.2 83.2L311.7 82.1L316.3 80.9L320.9 79.7L325.5 78.5L330 77.3L334.6 76.2L339.2 75L343.8 73.8M179.1 115.5L180.9 110.8M183.6 114.3L185.4 109.6M188.2 113.2L190 108.5M192.8 112.1L194.6 107.3M197.4 111L199.2 106.2M201.9 109.8L203.7 105M206.5 108.7L208.3 103.9M211.1 107.6L212.9 102.7M215.7 106.4L217.5 101.6M220.2 105.3L222 100.4M224.8 104.1L226.6 99.3M229.4 103L231.2 98.1M234 101.8L235.8 96.9M238.5 100.7L240.3 95.8M243.1 99.5L244.9 94.6M247.7 98.4L249.5 93.5M252.3 97.2L254.1 92.3M256.8 96.1L258.6 91.1M261.4 94.9L263.2 90M266 93.7L267.8 88.8M270.6 92.6L272.4 87.6M275.1 91.4L276.9 86.5M279.7 90.2L281.5 85.3M284.3 89.1L286.1 84.1M288.9 87.9L290.7 82.9M293.4 86.7L295.2 81.8M298 85.6L299.8 80.6M302.6 84.4L304.4 79.4M307.2 83.2L309 78.2M311.7 82.1L313.5 77.1M316.3 80.9L318.1 75.9M320.9 79.7L322.7 74.7M325.5 78.5L327.3 73.5M330 77.3L331.8 72.3M334.6 76.2L336.4 71.2M339.2 75L341 70M343.8 73.8L345.6 68.8"/><path class="w" d="M75.6 104.6L80.2 114.1L84.8 122.7L89.4 128.3L93.9 130.2L98.5 130.3L103.1 129.7L107.7 128.8L112.2 127.8L116.8 126.7L121.4 125.6L126 124.5L130.5 123.3L135.1 122.2L139.7 121L144.3 119.9L148.8 118.8L153.4 117.6L158 116.5L162.6 115.3L167.1 114.2L171.7 113.1L176.3 111.9L180.9 110.8L185.4 109.6L190 108.5L194.6 107.3L199.2 106.2L203.7 105L208.3 103.9L212.9 102.7L217.5 101.6L222 100.4L226.6 99.3L231.2 98.1L235.8 96.9L240.3 95.8L244.9 94.6L249.5 93.5L254.1 92.3L258.6 91.1L263.2 90L267.8 88.8L272.4 87.6L276.9 86.5L281.5 85.3L286.1 84.1L290.7 82.9L295.2 81.8L299.8 80.6L304.4 79.4L309 78.2L313.5 77.1L318.1 75.9L322.7 74.7L327.3 73.5L331.8 72.3L336.4 71.2L341 70L345.6 68.8L347.3 65.7L342.8 66.9L338.2 68.1L333.6 69.3L329 70.5L324.5 71.7L319.9 72.8L315.3 74L310.7 75.2L306.2 76.4L301.6 77.6L297 78.7L292.4 79.9L287.9 81.1L283.3 82.3L278.7 83.5L274.1 84.6L269.6 85.8L265 87L260.4 88.2L255.8 89.3L251.3 90.5L246.7 91.7L242.1 92.9L237.5 94L233 95.2L228.4 96.4L223.8 97.6L219.2 98.7L214.7 99.9L210.1 101.1L205.5 102.2L200.9 103.4L196.4 104.6L191.8 105.7L187.2 106.9L182.6 108.1L178.1 109.2L173.5 110.4L168.9 111.6L164.3 112.7L159.8 113.9L155.2 115.1L150.6 116.3L146 117.4L141.5 118.6L136.9 119.8L132.3 121L127.7 122.2L123.2 123.4L118.6 124.5L114 125.7L109.4 126.8L104.9 127.9L100.3 128.8L95.7 129.1L91.1 127.9L86.6 123.3L82 117.2L77.4 111.9z"/><path class="k63" d="M75.6 104.6L80.2 114.1M75.6 104.6L77.4 111.9"/><path class="k59" d="M80.2 114.1L84.8 122.7M80.2 114.1L82 117.2"/><path class="k55" d="M84.8 122.7L89.4 128.3M84.8 122.7L86.6 123.3"/><path class="k52" d="M89.4 128.3L93.9 130.2M89.4 128.3L91.1 127.9"/><path class="k51" d="M93.9 130.2L98.5 130.3L103.1 129.7M93.9 130.2L95.7 129.1M98.5 130.3L100.3 128.8"/><path class="k50" d="M103.1 129.7L107.7 128.8L112.2 127.8L116.8 126.7L121.4 125.6L126 124.5L130.5 123.3L135.1 122.2L139.7 121L144.3 119.9L148.8 118.8L153.4 117.6L158 116.5L162.6 115.3L167.1 114.2L171.7 113.1L176.3 111.9L180.9 110.8L185.4 109.6L190 108.5L194.6 107.3L199.2 106.2L203.7 105L208.3 103.9L212.9 102.7L217.5 101.6L222 100.4L226.6 99.3L231.2 98.1L235.8 96.9L240.3 95.8L244.9 94.6L249.5 93.5L254.1 92.3M103.1 129.7L104.9 127.9M107.7 128.8L109.4 126.8M112.2 127.8L114 125.7M116.8 126.7L118.6 124.5M121.4 125.6L123.2 123.4M126 124.5L127.7 122.2M130.5 123.3L132.3 121M135.1 122.2L136.9 119.8M139.7 121L141.5 118.6M144.3 119.9L146 117.4M148.8 118.8L150.6 116.3M153.4 117.6L155.2 115.1M158 116.5L159.8 113.9M162.6 115.3L164.3 112.7M167.1 114.2L168.9 111.6M171.7 113.1L173.5 110.4M176.3 111.9L178.1 109.2M180.9 110.8L182.6 108.1M185.4 109.6L187.2 106.9M190 108.5L191.8 105.7M194.6 107.3L196.4 104.6M199.2 106.2L200.9 103.4M203.7 105L205.5 102.2M208.3 103.9L210.1 101.1M212.9 102.7L214.7 99.9M217.5 101.6L219.2 98.7M222 100.4L223.8 97.6M226.6 99.3L228.4 96.4M231.2 98.1L233 95.2M235.8 96.9L237.5 94M240.3 95.8L242.1 92.9M244.9 94.6L246.7 91.7M249.5 93.5L251.3 90.5"/><path class="k49" d="M254.1 92.3L258.6 91.1L263.2 90L267.8 88.8L272.4 87.6L276.9 86.5L281.5 85.3L286.1 84.1L290.7 82.9L295.2 81.8L299.8 80.6L304.4 79.4L309 78.2L313.5 77.1L318.1 75.9L322.7 74.7L327.3 73.5L331.8 72.3L336.4 71.2L341 70L345.6 68.8M254.1 92.3L255.8 89.3M258.6 91.1L260.4 88.2M263.2 90L265 87M267.8 88.8L269.6 85.8M272.4 87.6L274.1 84.6M276.9 86.5L278.7 83.5M281.5 85.3L283.3 82.3M286.1 84.1L287.9 81.1M290.7 82.9L292.4 79.9M295.2 81.8L297 78.7M299.8 80.6L301.6 77.6M304.4 79.4L306.2 76.4M309 78.2L310.7 75.2M313.5 77.1L315.3 74M318.1 75.9L319.9 72.8M322.7 74.7L324.5 71.7M327.3 73.5L329 70.5M331.8 72.3L333.6 69.3M336.4 71.2L338.2 68.1M341 70L342.8 66.9M345.6 68.8L347.3 65.7"/><path class="w" d="M77.4 111.9L82 117.2L86.6 123.3L91.1 127.9L95.7 129.1L100.3 128.8L104.9 127.9L109.4 126.8L114 125.7L118.6 124.5L123.2 123.4L127.7 122.2L132.3 121L136.9 119.8L141.5 118.6L146 117.4L150.6 116.3L155.2 115.1L159.8 113.9L164.3 112.7L168.9 111.6L173.5 110.4L178.1 109.2L182.6 108.1L187.2 106.9L191.8 105.7L196.4 104.6L200.9 103.4L205.5 102.2L210.1 101.1L214.7 99.9L219.2 98.7L223.8 97.6L228.4 96.4L233 95.2L237.5 94L242.1 92.9L246.7 91.7L251.3 90.5L255.8 89.3L260.4 88.2L265 87L269.6 85.8L274.1 84.6L278.7 83.5L283.3 82.3L287.9 81.1L292.4 79.9L297 78.7L301.6 77.6L306.2 76.4L310.7 75.2L315.3 74L319.9 72.8L324.5 71.7L329 70.5L333.6 69.3L338.2 68.1L342.8 66.9L347.3 65.7L349.1 64.3L344.6 65.5L340 66.7L335.4 67.9L330.8 69.1L326.3 70.3L321.7 71.5L317.1 72.7L312.5 73.8L308 75L303.4 76.2L298.8 77.4L294.2 78.6L289.7 79.8L285.1 81L280.5 82.2L275.9 83.3L271.4 84.5L266.8 85.7L262.2 86.9L257.6 88.1L253.1 89.3L248.5 90.4L243.9 91.6L239.3 92.8L234.8 94L230.2 95.2L225.6 96.4L221 97.6L216.5 98.7L211.9 99.9L207.3 101.1L202.7 102.3L198.2 103.5L193.6 104.7L189 105.9L184.4 107.1L179.9 108.2L175.3 109.4L170.7 110.6L166.1 111.8L161.6 113L157 114.3L152.4 115.5L147.8 116.7L143.3 117.9L138.7 119.1L134.1 120.4L129.5 121.6L125 122.9L120.4 124.1L115.8 125.3L111.2 126.6L106.7 127.8L102.1 128.9L97.5 129.5L92.9 128.7L88.4 125.2L83.8 121.1L79.2 119z"/><path class="k60" d="M77.4 111.9L82 117.2M77.4 111.9L79.2 119"/><path class="k58" d="M82 117.2L86.6 123.3M82 117.2L83.8 121.1"/><path class="k55" d="M86.6 123.3L91.1 127.9M86.6 123.3L88.4 125.2"/><path class="k53" d="M91.1 127.9L95.7 129.1M91.1 127.9L92.9 128.7"/><path class="k52" d="M95.7 129.1L100.3 128.8L104.9 127.9M95.7 129.1L97.5 129.5M100.3 128.8L102.1 128.9"/><path class="k51" d="M104.9 127.9L109.4 126.8L114 125.7L118.6 124.5L123.2 123.4L127.7 122.2L132.3 121L136.9 119.8L141.5 118.6L146 117.4L150.6 116.3L155.2 115.1L159.8 113.9L164.3 112.7L168.9 111.6L173.5 110.4L178.1 109.2L182.6 108.1L187.2 106.9L191.8 105.7L196.4 104.6L200.9 103.4L205.5 102.2L210.1 101.1L214.7 99.9L219.2 98.7L223.8 97.6L228.4 96.4L233 95.2L237.5 94L242.1 92.9L246.7 91.7L251.3 90.5L255.8 89.3L260.4 88.2L265 87L269.6 85.8L274.1 84.6L278.7 83.5L283.3 82.3L287.9 81.1L292.4 79.9L297 78.7L301.6 77.6L306.2 76.4L310.7 75.2L315.3 74L319.9 72.8L324.5 71.7L329 70.5L333.6 69.3L338.2 68.1L342.8 66.9L347.3 65.7M104.9 127.9L106.7 127.8M109.4 126.8L111.2 126.6M114 125.7L115.8 125.3M118.6 124.5L120.4 124.1M123.2 123.4L125 122.9M127.7 122.2L129.5 121.6M132.3 121L134.1 120.4M136.9 119.8L138.7 119.1M141.5 118.6L143.3 117.9M146 117.4L147.8 116.7M150.6 116.3L152.4 115.5M155.2 115.1L157 114.3M159.8 113.9L161.6 113M164.3 112.7L166.1 111.8M168.9 111.6L170.7 110.6M173.5 110.4L175.3 109.4M178.1 109.2L179.9 108.2M182.6 108.1L184.4 107.1M187.2 106.9L189 105.9M191.8 105.7L193.6 104.7M196.4 104.6L198.2 103.5M200.9 103.4L202.7 102.3M205.5 102.2L207.3 101.1M210.1 101.1L211.9 99.9M214.7 99.9L216.5 98.7M219.2 98.7L221 97.6M223.8 97.6L225.6 96.4M228.4 96.4L230.2 95.2M233 95.2L234.8 94M237.5 94L239.3 92.8M242.1 92.9L243.9 91.6M246.7 91.7L248.5 90.4M251.3 90.5L253.1 89.3M255.8 89.3L257.6 88.1M260.4 88.2L262.2 86.9M265 87L266.8 85.7M269.6 85.8L271.4 84.5M274.1 84.6L275.9 83.3M278.7 83.5L280.5 82.2M283.3 82.3L285.1 81M287.9 81.1L289.7 79.8M292.4 79.9L294.2 78.6M297 78.7L298.8 77.4M301.6 77.6L303.4 76.2M306.2 76.4L308 75M310.7 75.2L312.5 73.8M315.3 74L317.1 72.7M319.9 72.8L321.7 71.5M324.5 71.7L326.3 70.3M329 70.5L330.8 69.1M333.6 69.3L335.4 67.9M338.2 68.1L340 66.7M342.8 66.9L344.6 65.5M347.3 65.7L349.1 64.3"/><path class="w" d="M79.2 119L83.8 121.1L88.4 125.2L92.9 128.7L97.5 129.5L102.1 128.9L106.7 127.8L111.2 126.6L115.8 125.3L120.4 124.1L125 122.9L129.5 121.6L134.1 120.4L138.7 119.1L143.3 117.9L147.8 116.7L152.4 115.5L157 114.3L161.6 113L166.1 111.8L170.7 110.6L175.3 109.4L179.9 108.2L184.4 107.1L189 105.9L193.6 104.7L198.2 103.5L202.7 102.3L207.3 101.1L211.9 99.9L216.5 98.7L221 97.6L225.6 96.4L230.2 95.2L234.8 94L239.3 92.8L243.9 91.6L248.5 90.4L253.1 89.3L257.6 88.1L262.2 86.9L266.8 85.7L271.4 84.5L275.9 83.3L280.5 82.2L285.1 81L289.7 79.8L294.2 78.6L298.8 77.4L303.4 76.2L308 75L312.5 73.8L317.1 72.7L321.7 71.5L326.3 70.3L330.8 69.1L335.4 67.9L340 66.7L344.6 65.5L349.1 64.3L350.9 64.4L346.4 65.5L341.8 66.7L337.2 67.9L332.6 69.1L328.1 70.3L323.5 71.5L318.9 72.7L314.3 73.9L309.8 75.1L305.2 76.3L300.6 77.5L296 78.7L291.5 79.9L286.9 81.1L282.3 82.3L277.7 83.5L273.1 84.6L268.6 85.8L264 87L259.4 88.2L254.8 89.4L250.3 90.6L245.7 91.8L241.1 93L236.6 94.2L232 95.4L227.4 96.6L222.8 97.8L218.2 99L213.7 100.2L209.1 101.4L204.5 102.6L199.9 103.8L195.4 105.1L190.8 106.3L186.2 107.5L181.7 108.7L177.1 109.9L172.5 111.2L167.9 112.4L163.4 113.6L158.8 114.9L154.2 116.1L149.6 117.4L145.1 118.6L140.5 119.9L135.9 121.2L131.3 122.5L126.8 123.8L122.2 125.1L117.6 126.4L113 127.7L108.5 129L103.9 130.3L99.3 131.1L94.7 130.7L90.2 127.9L85.6 125.5L81 125.9z"/><path class="k58" d="M79.2 119L83.8 121.1M79.2 119L81 125.9"/><path class="k57" d="M83.8 121.1L88.4 125.2M83.8 121.1L85.6 125.5"/><path class="k55" d="M88.4 125.2L92.9 128.7M88.4 125.2L90.2 127.9"/><path class="k53" d="M92.9 128.7L97.5 129.5M92.9 128.7L94.7 130.7"/><path class="k52" d="M97.5 129.5L102.1 128.9L106.7 127.8L111.2 126.6L115.8 125.3L120.4 124.1L125 122.9L129.5 121.6L134.1 120.4L138.7 119.1L143.3 117.9L147.8 116.7L152.4 115.5L157 114.3L161.6 113L166.1 111.8L170.7 110.6L175.3 109.4L179.9 108.2L184.4 107.1L189 105.9L193.6 104.7L198.2 103.5L202.7 102.3L207.3 101.1L211.9 99.9L216.5 98.7L221 97.6L225.6 96.4L230.2 95.2L234.8 94L239.3 92.8L243.9 91.6L248.5 90.4L253.1 89.3L257.6 88.1L262.2 86.9L266.8 85.7L271.4 84.5L275.9 83.3L280.5 82.2L285.1 81L289.7 79.8L294.2 78.6L298.8 77.4L303.4 76.2L308 75L312.5 73.8L317.1 72.7L321.7 71.5L326.3 70.3L330.8 69.1L335.4 67.9L340 66.7L344.6 65.5L349.1 64.3M97.5 129.5L99.3 131.1M102.1 128.9L103.9 130.3M106.7 127.8L108.5 129M111.2 126.6L113 127.7M115.8 125.3L117.6 126.4M120.4 124.1L122.2 125.1M125 122.9L126.8 123.8M129.5 121.6L131.3 122.5M134.1 120.4L135.9 121.2M138.7 119.1L140.5 119.9M143.3 117.9L145.1 118.6M147.8 116.7L149.6 117.4M152.4 115.5L154.2 116.1M157 114.3L158.8 114.9M161.6 113L163.4 113.6M166.1 111.8L167.9 112.4M170.7 110.6L172.5 111.2M175.3 109.4L177.1 109.9M179.9 108.2L181.7 108.7M184.4 107.1L186.2 107.5M189 105.9L190.8 106.3M193.6 104.7L195.4 105.1M198.2 103.5L199.9 103.8M202.7 102.3L204.5 102.6M207.3 101.1L209.1 101.4M211.9 99.9L213.7 100.2M216.5 98.7L218.2 99M221 97.6L222.8 97.8M225.6 96.4L227.4 96.6M230.2 95.2L232 95.4M234.8 94L236.6 94.2M239.3 92.8L241.1 93M243.9 91.6L245.7 91.8M248.5 90.4L250.3 90.6M253.1 89.3L254.8 89.4M257.6 88.1L259.4 88.2M262.2 86.9L264 87M266.8 85.7L268.6 85.8M271.4 84.5L273.1 84.6M275.9 83.3L277.7 83.5M280.5 82.2L282.3 82.3M285.1 81L286.9 81.1M289.7 79.8L291.5 79.9M294.2 78.6L296 78.7M298.8 77.4L300.6 77.5M303.4 76.2L305.2 76.3M308 75L309.8 75.1M312.5 73.8L314.3 73.9M317.1 72.7L318.9 72.7M321.7 71.5L323.5 71.5M326.3 70.3L328.1 70.3M330.8 69.1L332.6 69.1M335.4 67.9L337.2 67.9M340 66.7L341.8 66.7M344.6 65.5L346.4 65.5M349.1 64.3L350.9 64.4"/><path class="w" d="M81 125.9L85.6 125.5L90.2 127.9L94.7 130.7L99.3 131.1L103.9 130.3L108.5 129L113 127.7L117.6 126.4L122.2 125.1L126.8 123.8L131.3 122.5L135.9 121.2L140.5 119.9L145.1 118.6L149.6 117.4L154.2 116.1L158.8 114.9L163.4 113.6L167.9 112.4L172.5 111.2L177.1 109.9L181.7 108.7L186.2 107.5L190.8 106.3L195.4 105.1L199.9 103.8L204.5 102.6L209.1 101.4L213.7 100.2L218.2 99L222.8 97.8L227.4 96.6L232 95.4L236.6 94.2L241.1 93L245.7 91.8L250.3 90.6L254.8 89.4L259.4 88.2L264 87L268.6 85.8L273.1 84.6L277.7 83.5L282.3 82.3L286.9 81.1L291.5 79.9L296 78.7L300.6 77.5L305.2 76.3L309.8 75.1L314.3 73.9L318.9 72.7L323.5 71.5L328.1 70.3L332.6 69.1L337.2 67.9L341.8 66.7L346.4 65.5L350.9 64.4L352.7 65.6L348.1 66.8L343.6 68L339 69.2L334.4 70.4L329.8 71.6L325.3 72.8L320.7 74L316.1 75.2L311.5 76.4L307 77.6L302.4 78.8L297.8 80L293.2 81.2L288.7 82.4L284.1 83.6L279.5 84.8L274.9 86L270.4 87.2L265.8 88.4L261.2 89.6L256.6 90.8L252.1 92L247.5 93.2L242.9 94.4L238.3 95.6L233.8 96.8L229.2 98.1L224.6 99.3L220 100.5L215.5 101.7L210.9 102.9L206.3 104.2L201.7 105.4L197.2 106.6L192.6 107.9L188 109.1L183.4 110.4L178.9 111.6L174.3 112.9L169.7 114.1L165.1 115.4L160.6 116.7L156 117.9L151.4 119.2L146.8 120.5L142.3 121.9L137.7 123.2L133.1 124.5L128.5 125.9L124 127.3L119.4 128.6L114.8 130L110.2 131.4L105.7 132.8L101.1 133.8L96.5 133.6L91.9 131.3L87.4 130.2L82.8 132.5z"/><path class="k56" d="M81 125.9L85.6 125.5M81 125.9L82.8 132.5"/><path class="k55" d="M85.6 125.5L90.2 127.9M85.6 125.5L87.4 130.2"/><path class="k54" d="M90.2 127.9L94.7 130.7M90.2 127.9L91.9 131.3"/><path class="k53" d="M94.7 130.7L99.3 131.1M94.7 130.7L96.5 133.6"/><path class="k52" d="M99.3 131.1L103.9 130.3L108.5 129L113 127.7L117.6 126.4L122.2 125.1L126.8 123.8L131.3 122.5L135.9 121.2L140.5 119.9L145.1 118.6L149.6 117.4L154.2 116.1L158.8 114.9L163.4 113.6L167.9 112.4L172.5 111.2L177.1 109.9L181.7 108.7L186.2 107.5L190.8 106.3L195.4 105.1L199.9 103.8L204.5 102.6L209.1 101.4L213.7 100.2L218.2 99L222.8 97.8L227.4 96.6L232 95.4L236.6 94.2L241.1 93L245.7 91.8L250.3 90.6L254.8 89.4L259.4 88.2L264 87L268.6 85.8L273.1 84.6L277.7 83.5L282.3 82.3L286.9 81.1L291.5 79.9L296 78.7L300.6 77.5L305.2 76.3L309.8 75.1L314.3 73.9L318.9 72.7L323.5 71.5L328.1 70.3L332.6 69.1L337.2 67.9L341.8 66.7L346.4 65.5L350.9 64.4M99.3 131.1L101.1 133.8M103.9 130.3L105.7 132.8M108.5 129L110.2 131.4M113 127.7L114.8 130M117.6 126.4L119.4 128.6M122.2 125.1L124 127.3M126.8 123.8L128.5 125.9M131.3 122.5L133.1 124.5M135.9 121.2L137.7 123.2M140.5 119.9L142.3 121.9M145.1 118.6L146.8 120.5M149.6 117.4L151.4 119.2M154.2 116.1L156 117.9M158.8 114.9L160.6 116.7M163.4 113.6L165.1 115.4M167.9 112.4L169.7 114.1M172.5 111.2L174.3 112.9M177.1 109.9L178.9 111.6M181.7 108.7L183.4 110.4M186.2 107.5L188 109.1M190.8 106.3L192.6 107.9M195.4 105.1L197.2 106.6M199.9 103.8L201.7 105.4M204.5 102.6L206.3 104.2M209.1 101.4L210.9 102.9M213.7 100.2L215.5 101.7M218.2 99L220 100.5M222.8 97.8L224.6 99.3M227.4 96.6L229.2 98.1M232 95.4L233.8 96.8M236.6 94.2L238.3 95.6M241.1 93L242.9 94.4M245.7 91.8L247.5 93.2M250.3 90.6L252.1 92M254.8 89.4L256.6 90.8M259.4 88.2L261.2 89.6M264 87L265.8 88.4M268.6 85.8L270.4 87.2M273.1 84.6L274.9 86M277.7 83.5L279.5 84.8M282.3 82.3L284.1 83.6M286.9 81.1L288.7 82.4M291.5 79.9L293.2 81.2M296 78.7L297.8 80M300.6 77.5L302.4 78.8M305.2 76.3L307 77.6M309.8 75.1L311.5 76.4M314.3 73.9L316.1 75.2M318.9 72.7L320.7 74M323.5 71.5L325.3 72.8M328.1 70.3L329.8 71.6M332.6 69.1L334.4 70.4M337.2 67.9L339 69.2M341.8 66.7L343.6 68M346.4 65.5L348.1 66.8M350.9 64.4L352.7 65.6"/><path class="w" d="M82.8 132.5L87.4 130.2L91.9 131.3L96.5 133.6L101.1 133.8L105.7 132.8L110.2 131.4L114.8 130L119.4 128.6L124 127.3L128.5 125.9L133.1 124.5L137.7 123.2L142.3 121.9L146.8 120.5L151.4 119.2L156 117.9L160.6 116.7L165.1 115.4L169.7 114.1L174.3 112.9L178.9 111.6L183.4 110.4L188 109.1L192.6 107.9L197.2 106.6L201.7 105.4L206.3 104.2L210.9 102.9L215.5 101.7L220 100.5L224.6 99.3L229.2 98.1L233.8 96.8L238.3 95.6L242.9 94.4L247.5 93.2L252.1 92L256.6 90.8L261.2 89.6L265.8 88.4L270.4 87.2L274.9 86L279.5 84.8L284.1 83.6L288.7 82.4L293.2 81.2L297.8 80L302.4 78.8L307 77.6L311.5 76.4L316.1 75.2L320.7 74L325.3 72.8L329.8 71.6L334.4 70.4L339 69.2L343.6 68L348.1 66.8L352.7 65.6L354.5 67.8L349.9 69L345.4 70.2L340.8 71.4L336.2 72.6L331.6 73.8L327.1 75L322.5 76.2L317.9 77.4L313.3 78.6L308.8 79.8L304.2 81L299.6 82.2L295 83.4L290.5 84.6L285.9 85.8L281.3 87.1L276.7 88.3L272.2 89.5L267.6 90.7L263 91.9L258.4 93.1L253.9 94.4L249.3 95.6L244.7 96.8L240.1 98L235.6 99.3L231 100.5L226.4 101.7L221.8 103L217.3 104.2L212.7 105.4L208.1 106.7L203.5 107.9L199 109.2L194.4 110.4L189.8 111.7L185.2 113L180.7 114.3L176.1 115.5L171.5 116.8L166.9 118.1L162.4 119.4L157.8 120.8L153.2 122.1L148.6 123.4L144.1 124.8L139.5 126.2L134.9 127.5L130.3 128.9L125.8 130.4L121.2 131.8L116.6 133.3L112 134.7L107.5 136.2L102.9 137.3L98.3 137.3L93.7 135.5L89.2 135.4L84.6 139.1z"/><path class="k54" d="M82.8 132.5L87.4 130.2L91.9 131.3M82.8 132.5L84.6 139.1M87.4 130.2L89.2 135.4"/><path class="k53" d="M91.9 131.3L96.5 133.6M91.9 131.3L93.7 135.5"/><path class="k52" d="M96.5 133.6L101.1 133.8M124 127.3L128.5 125.9L133.1 124.5L137.7 123.2L142.3 121.9L146.8 120.5L151.4 119.2L156 117.9L160.6 116.7L165.1 115.4L169.7 114.1L174.3 112.9L178.9 111.6L183.4 110.4L188 109.1L192.6 107.9L197.2 106.6L201.7 105.4L206.3 104.2L210.9 102.9L215.5 101.7L220 100.5L224.6 99.3L229.2 98.1L233.8 96.8L238.3 95.6L242.9 94.4L247.5 93.2L252.1 92L256.6 90.8L261.2 89.6L265.8 88.4L270.4 87.2L274.9 86L279.5 84.8L284.1 83.6L288.7 82.4L293.2 81.2L297.8 80L302.4 78.8L307 77.6L311.5 76.4L316.1 75.2L320.7 74L325.3 72.8L329.8 71.6L334.4 70.4L339 69.2L343.6 68L348.1 66.8L352.7 65.6M96.5 133.6L98.3 137.3M124 127.3L125.8 130.4M128.5 125.9L130.3 128.9M133.1 124.5L134.9 127.5M137.7 123.2L139.5 126.2M142.3 121.9L144.1 124.8M146.8 120.5L148.6 123.4M151.4 119.2L153.2 122.1M156 117.9L157.8 120.8M160.6 116.7L162.4 119.4M165.1 115.4L166.9 118.1M169.7 114.1L171.5 116.8M174.3 112.9L176.1 115.5M178.9 111.6L180.7 114.3M183.4 110.4L185.2 113M188 109.1L189.8 111.7M192.6 107.9L194.4 110.4M197.2 106.6L199 109.2M201.7 105.4L203.5 107.9M206.3 104.2L208.1 106.7M210.9 102.9L212.7 105.4M215.5 101.7L217.3 104.2M220 100.5L221.8 103M224.6 99.3L226.4 101.7M229.2 98.1L231 100.5M233.8 96.8L235.6 99.3M238.3 95.6L240.1 98M242.9 94.4L244.7 96.8M247.5 93.2L249.3 95.6M252.1 92L253.9 94.4M256.6 90.8L258.4 93.1M261.2 89.6L263 91.9M265.8 88.4L267.6 90.7M270.4 87.2L272.2 89.5M274.9 86L276.7 88.3M279.5 84.8L281.3 87.1M284.1 83.6L285.9 85.8M288.7 82.4L290.5 84.6M293.2 81.2L295 83.4M297.8 80L299.6 82.2M302.4 78.8L304.2 81M307 77.6L308.8 79.8M311.5 76.4L313.3 78.6M316.1 75.2L317.9 77.4M320.7 74L322.5 76.2M325.3 72.8L327.1 75M329.8 71.6L331.6 73.8M334.4 70.4L336.2 72.6M339 69.2L340.8 71.4M343.6 68L345.4 70.2M348.1 66.8L349.9 69M352.7 65.6L354.5 67.8"/><path class="k51" d="M101.1 133.8L105.7 132.8L110.2 131.4L114.8 130L119.4 128.6L124 127.3M101.1 133.8L102.9 137.3M105.7 132.8L107.5 136.2M110.2 131.4L112 134.7M114.8 130L116.6 133.3M119.4 128.6L121.2 131.8"/><path class="w" d="M84.6 139.1L89.2 135.4L93.7 135.5L98.3 137.3L102.9 137.3L107.5 136.2L112 134.7L116.6 133.3L121.2 131.8L125.8 130.4L130.3 128.9L134.9 127.5L139.5 126.2L144.1 124.8L148.6 123.4L153.2 122.1L157.8 120.8L162.4 119.4L166.9 118.1L171.5 116.8L176.1 115.5L180.7 114.3L185.2 113L189.8 111.7L194.4 110.4L199 109.2L203.5 107.9L208.1 106.7L212.7 105.4L217.3 104.2L221.8 103L226.4 101.7L231 100.5L235.6 99.3L240.1 98L244.7 96.8L249.3 95.6L253.9 94.4L258.4 93.1L263 91.9L267.6 90.7L272.2 89.5L276.7 88.3L281.3 87.1L285.9 85.8L290.5 84.6L295 83.4L299.6 82.2L304.2 81L308.8 79.8L313.3 78.6L317.9 77.4L322.5 76.2L327.1 75L331.6 73.8L336.2 72.6L340.8 71.4L345.4 70.2L349.9 69L354.5 67.8L356.3 70.8L351.7 72L347.1 73.2L342.6 74.4L338 75.6L333.4 76.8L328.8 78L324.3 79.2L319.7 80.4L315.1 81.6L310.5 82.9L306 84.1L301.4 85.3L296.8 86.5L292.2 87.7L287.7 88.9L283.1 90.2L278.5 91.4L273.9 92.6L269.4 93.8L264.8 95.1L260.2 96.3L255.6 97.5L251.1 98.7L246.5 100L241.9 101.2L237.3 102.5L232.8 103.7L228.2 105L223.6 106.2L219 107.5L214.5 108.7L209.9 110L205.3 111.3L200.7 112.5L196.2 113.8L191.6 115.1L187 116.4L182.4 117.7L177.9 119L173.3 120.3L168.7 121.7L164.1 123L159.6 124.3L155 125.7L150.4 127.1L145.8 128.5L141.3 129.9L136.7 131.3L132.1 132.8L127.5 134.2L123 135.7L118.4 137.2L113.8 138.8L109.2 140.3L104.7 141.5L100.1 141.7L95.5 140.2L90.9 141.1L86.4 145.8z"/><path class="k52" d="M84.6 139.1L89.2 135.4M93.7 135.5L98.3 137.3M185.2 113L189.8 111.7L194.4 110.4L199 109.2L203.5 107.9L208.1 106.7L212.7 105.4L217.3 104.2L221.8 103L226.4 101.7L231 100.5L235.6 99.3L240.1 98L244.7 96.8L249.3 95.6L253.9 94.4L258.4 93.1L263 91.9L267.6 90.7L272.2 89.5L276.7 88.3L281.3 87.1L285.9 85.8L290.5 84.6L295 83.4L299.6 82.2L304.2 81L308.8 79.8L313.3 78.6L317.9 77.4L322.5 76.2L327.1 75L331.6 73.8L336.2 72.6L340.8 71.4L345.4 70.2L349.9 69L354.5 67.8M84.6 139.1L86.4 145.8M93.7 135.5L95.5 140.2M185.2 113L187 116.4M189.8 111.7L191.6 115.1M194.4 110.4L196.2 113.8M199 109.2L200.7 112.5M203.5 107.9L205.3 111.3M208.1 106.7L209.9 110M212.7 105.4L214.5 108.7M217.3 104.2L219 107.5M221.8 103L223.6 106.2M226.4 101.7L228.2 105M231 100.5L232.8 103.7M235.6 99.3L237.3 102.5M240.1 98L241.9 101.2M244.7 96.8L246.5 100M249.3 95.6L251.1 98.7M253.9 94.4L255.6 97.5M258.4 93.1L260.2 96.3M263 91.9L264.8 95.1M267.6 90.7L269.4 93.8M272.2 89.5L273.9 92.6M276.7 88.3L278.5 91.4M281.3 87.1L283.1 90.2M285.9 85.8L287.7 88.9M290.5 84.6L292.2 87.7M295 83.4L296.8 86.5M299.6 82.2L301.4 85.3M304.2 81L306 84.1M308.8 79.8L310.5 82.9M313.3 78.6L315.1 81.6M317.9 77.4L319.7 80.4M322.5 76.2L324.3 79.2M327.1 75L328.8 78M331.6 73.8L333.4 76.8M336.2 72.6L338 75.6M340.8 71.4L342.6 74.4M345.4 70.2L347.1 73.2M349.9 69L351.7 72M354.5 67.8L356.3 70.8"/><path class="k53" d="M89.2 135.4L93.7 135.5M89.2 135.4L90.9 141.1"/><path class="k51" d="M98.3 137.3L102.9 137.3M116.6 133.3L121.2 131.8L125.8 130.4L130.3 128.9L134.9 127.5L139.5 126.2L144.1 124.8L148.6 123.4L153.2 122.1L157.8 120.8L162.4 119.4L166.9 118.1L171.5 116.8L176.1 115.5L180.7 114.3L185.2 113M98.3 137.3L100.1 141.7M116.6 133.3L118.4 137.2M121.2 131.8L123 135.7M125.8 130.4L127.5 134.2M130.3 128.9L132.1 132.8M134.9 127.5L136.7 131.3M139.5 126.2L141.3 129.9M144.1 124.8L145.8 128.5M148.6 123.4L150.4 127.1M153.2 122.1L155 125.7M157.8 120.8L159.6 124.3M162.4 119.4L164.1 123M166.9 118.1L168.7 121.7M171.5 116.8L173.3 120.3M176.1 115.5L177.9 119M180.7 114.3L182.4 117.7"/><path class="k50" d="M102.9 137.3L107.5 136.2L112 134.7L116.6 133.3M102.9 137.3L104.7 141.5M107.5 136.2L109.2 140.3M112 134.7L113.8 138.8"/><path class="w" d="M86.4 145.8L90.9 141.1L95.5 140.2L100.1 141.7L104.7 141.5L109.2 140.3L113.8 138.8L118.4 137.2L123 135.7L127.5 134.2L132.1 132.8L136.7 131.3L141.3 129.9L145.8 128.5L150.4 127.1L155 125.7L159.6 124.3L164.1 123L168.7 121.7L173.3 120.3L177.9 119L182.4 117.7L187 116.4L191.6 115.1L196.2 113.8L200.7 112.5L205.3 111.3L209.9 110L214.5 108.7L219 107.5L223.6 106.2L228.2 105L232.8 103.7L237.3 102.5L241.9 101.2L246.5 100L251.1 98.7L255.6 97.5L260.2 96.3L264.8 95.1L269.4 93.8L273.9 92.6L278.5 91.4L283.1 90.2L287.7 88.9L292.2 87.7L296.8 86.5L301.4 85.3L306 84.1L310.5 82.9L315.1 81.6L319.7 80.4L324.3 79.2L328.8 78L333.4 76.8L338 75.6L342.6 74.4L347.1 73.2L351.7 72L356.3 70.8L358.1 74.4L353.5 75.6L348.9 76.9L344.4 78.1L339.8 79.3L335.2 80.5L330.6 81.7L326.1 82.9L321.5 84.1L316.9 85.3L312.3 86.6L307.8 87.8L303.2 89L298.6 90.2L294 91.5L289.5 92.7L284.9 93.9L280.3 95.1L275.7 96.4L271.2 97.6L266.6 98.8L262 100.1L257.4 101.3L252.9 102.6L248.3 103.8L243.7 105.1L239.1 106.3L234.6 107.6L230 108.8L225.4 110.1L220.8 111.4L216.3 112.6L211.7 113.9L207.1 115.2L202.5 116.5L198 117.8L193.4 119.1L188.8 120.4L184.2 121.8L179.7 123.1L175.1 124.4L170.5 125.8L165.9 127.2L161.4 128.5L156.8 129.9L152.2 131.4L147.6 132.8L143.1 134.2L138.5 135.7L133.9 137.2L129.3 138.7L124.8 140.2L120.2 141.8L115.6 143.4L111 144.9L106.5 146.2L101.9 146.6L97.3 145.5L92.7 147.1L88.2 152.7z"/><path class="k49" d="M86.4 145.8L90.9 141.1M104.7 141.5L109.2 140.3L113.8 138.8L118.4 137.2L123 135.7M86.4 145.8L88.2 152.7M104.7 141.5L106.5 146.2M109.2 140.3L111 144.9M113.8 138.8L115.6 143.4M118.4 137.2L120.2 141.8"/><path class="k51" d="M90.9 141.1L95.5 140.2L100.1 141.7M177.9 119L182.4 117.7L187 116.4L191.6 115.1L196.2 113.8L200.7 112.5L205.3 111.3L209.9 110L214.5 108.7L219 107.5L223.6 106.2L228.2 105L232.8 103.7L237.3 102.5L241.9 101.2L246.5 100L251.1 98.7L255.6 97.5L260.2 96.3L264.8 95.1L269.4 93.8L273.9 92.6L278.5 91.4L283.1 90.2L287.7 88.9L292.2 87.7L296.8 86.5L301.4 85.3L306 84.1L310.5 82.9L315.1 81.6L319.7 80.4L324.3 79.2L328.8 78L333.4 76.8L338 75.6L342.6 74.4L347.1 73.2L351.7 72L356.3 70.8M90.9 141.1L92.7 147.1M95.5 140.2L97.3 145.5M177.9 119L179.7 123.1M182.4 117.7L184.2 121.8M187 116.4L188.8 120.4M191.6 115.1L193.4 119.1M196.2 113.8L198 117.8M200.7 112.5L202.5 116.5M205.3 111.3L207.1 115.2M209.9 110L211.7 113.9M214.5 108.7L216.3 112.6M219 107.5L220.8 111.4M223.6 106.2L225.4 110.1M228.2 105L230 108.8M232.8 103.7L234.6 107.6M237.3 102.5L239.1 106.3M241.9 101.2L243.7 105.1M246.5 100L248.3 103.8M251.1 98.7L252.9 102.6M255.6 97.5L257.4 101.3M260.2 96.3L262 100.1M264.8 95.1L266.6 98.8M269.4 93.8L271.2 97.6M273.9 92.6L275.7 96.4M278.5 91.4L280.3 95.1M283.1 90.2L284.9 93.9M287.7 88.9L289.5 92.7M292.2 87.7L294 91.5M296.8 86.5L298.6 90.2M301.4 85.3L303.2 89M306 84.1L307.8 87.8M310.5 82.9L312.3 86.6M315.1 81.6L316.9 85.3M319.7 80.4L321.5 84.1M324.3 79.2L326.1 82.9M328.8 78L330.6 81.7M333.4 76.8L335.2 80.5M338 75.6L339.8 79.3M342.6 74.4L344.4 78.1M347.1 73.2L348.9 76.9M351.7 72L353.5 75.6M356.3 70.8L358.1 74.4"/><path class="k50" d="M100.1 141.7L104.7 141.5M123 135.7L127.5 134.2L132.1 132.8L136.7 131.3L141.3 129.9L145.8 128.5L150.4 127.1L155 125.7L159.6 124.3L164.1 123L168.7 121.7L173.3 120.3L177.9 119M100.1 141.7L101.9 146.6M123 135.7L124.8 140.2M127.5 134.2L129.3 138.7M132.1 132.8L133.9 137.2M136.7 131.3L138.5 135.7M141.3 129.9L143.1 134.2M145.8 128.5L147.6 132.8M150.4 127.1L152.2 131.4M155 125.7L156.8 129.9M159.6 124.3L161.4 128.5M164.1 123L165.9 127.2M168.7 121.7L170.5 125.8M173.3 120.3L175.1 124.4"/><path class="w" d="M88.2 152.7L92.7 147.1L97.3 145.5L101.9 146.6L106.5 146.2L111 144.9L115.6 143.4L120.2 141.8L124.8 140.2L129.3 138.7L133.9 137.2L138.5 135.7L143.1 134.2L147.6 132.8L152.2 131.4L156.8 129.9L161.4 128.5L165.9 127.2L170.5 125.8L175.1 124.4L179.7 123.1L184.2 121.8L188.8 120.4L193.4 119.1L198 117.8L202.5 116.5L207.1 115.2L211.7 113.9L216.3 112.6L220.8 111.4L225.4 110.1L230 108.8L234.6 107.6L239.1 106.3L243.7 105.1L248.3 103.8L252.9 102.6L257.4 101.3L262 100.1L266.6 98.8L271.2 97.6L275.7 96.4L280.3 95.1L284.9 93.9L289.5 92.7L294 91.5L298.6 90.2L303.2 89L307.8 87.8L312.3 86.6L316.9 85.3L321.5 84.1L326.1 82.9L330.6 81.7L335.2 80.5L339.8 79.3L344.4 78.1L348.9 76.9L353.5 75.6L358.1 74.4L359.9 78.6L355.3 79.8L350.7 81L346.1 82.3L341.6 83.5L337 84.7L332.4 85.9L327.9 87.1L323.3 88.3L318.7 89.6L314.1 90.8L309.6 92L305 93.2L300.4 94.5L295.8 95.7L291.2 96.9L286.7 98.2L282.1 99.4L277.5 100.6L272.9 101.9L268.4 103.1L263.8 104.4L259.2 105.6L254.7 106.9L250.1 108.1L245.5 109.4L240.9 110.7L236.4 111.9L231.8 113.2L227.2 114.5L222.6 115.8L218.1 117.1L213.5 118.4L208.9 119.7L204.3 121L199.8 122.3L195.2 123.6L190.6 125L186 126.3L181.4 127.7L176.9 129L172.3 130.4L167.7 131.8L163.2 133.2L158.6 134.6L154 136.1L149.4 137.5L144.9 139L140.3 140.5L135.7 142.1L131.1 143.6L126.6 145.2L122 146.8L117.4 148.4L112.8 150L108.2 151.4L103.7 151.8L99.1 151.1L94.5 153.5L90 159.8z"/><path class="k47" d="M88.2 152.7L92.7 147.1M88.2 152.7L90 159.8"/><path class="k49" d="M92.7 147.1L97.3 145.5L101.9 146.6M133.9 137.2L138.5 135.7L143.1 134.2L147.6 132.8L152.2 131.4L156.8 129.9L161.4 128.5L165.9 127.2L170.5 125.8L175.1 124.4L179.7 123.1L184.2 121.8L188.8 120.4L193.4 119.1M92.7 147.1L94.5 153.5M97.3 145.5L99.1 151.1M133.9 137.2L135.7 142.1M138.5 135.7L140.3 140.5M143.1 134.2L144.9 139M147.6 132.8L149.4 137.5M152.2 131.4L154 136.1M156.8 129.9L158.6 134.6M161.4 128.5L163.2 133.2M165.9 127.2L167.7 131.8M170.5 125.8L172.3 130.4M175.1 124.4L176.9 129M179.7 123.1L181.4 127.7M184.2 121.8L186 126.3M188.8 120.4L190.6 125"/><path class="k48" d="M101.9 146.6L106.5 146.2L111 144.9L115.6 143.4L120.2 141.8L124.8 140.2L129.3 138.7L133.9 137.2M101.9 146.6L103.7 151.8M106.5 146.2L108.2 151.4M111 144.9L112.8 150M115.6 143.4L117.4 148.4M120.2 141.8L122 146.8M124.8 140.2L126.6 145.2M129.3 138.7L131.1 143.6"/><path class="k50" d="M193.4 119.1L198 117.8L202.5 116.5L207.1 115.2L211.7 113.9L216.3 112.6L220.8 111.4L225.4 110.1L230 108.8L234.6 107.6L239.1 106.3L243.7 105.1L248.3 103.8L252.9 102.6L257.4 101.3L262 100.1L266.6 98.8L271.2 97.6L275.7 96.4L280.3 95.1L284.9 93.9L289.5 92.7L294 91.5L298.6 90.2L303.2 89L307.8 87.8L312.3 86.6L316.9 85.3L321.5 84.1L326.1 82.9L330.6 81.7L335.2 80.5L339.8 79.3L344.4 78.1L348.9 76.9L353.5 75.6L358.1 74.4M193.4 119.1L195.2 123.6M198 117.8L199.8 122.3M202.5 116.5L204.3 121M207.1 115.2L208.9 119.7M211.7 113.9L213.5 118.4M216.3 112.6L218.1 117.1M220.8 111.4L222.6 115.8M225.4 110.1L227.2 114.5M230 108.8L231.8 113.2M234.6 107.6L236.4 111.9M239.1 106.3L240.9 110.7M243.7 105.1L245.5 109.4M248.3 103.8L250.1 108.1M252.9 102.6L254.7 106.9M257.4 101.3L259.2 105.6M262 100.1L263.8 104.4M266.6 98.8L268.4 103.1M271.2 97.6L272.9 101.9M275.7 96.4L277.5 100.6M280.3 95.1L282.1 99.4M284.9 93.9L286.7 98.2M289.5 92.7L291.2 96.9M294 91.5L295.8 95.7M298.6 90.2L300.4 94.5M303.2 89L305 93.2M307.8 87.8L309.6 92M312.3 86.6L314.1 90.8M316.9 85.3L318.7 89.6M321.5 84.1L323.3 88.3M326.1 82.9L327.9 87.1M330.6 81.7L332.4 85.9M335.2 80.5L337 84.7M339.8 79.3L341.6 83.5M344.4 78.1L346.1 82.3M348.9 76.9L350.7 81M353.5 75.6L355.3 79.8M358.1 74.4L359.9 78.6"/><path class="w" d="M90 159.8L94.5 153.5L99.1 151.1L103.7 151.8L108.2 151.4L112.8 150L117.4 148.4L122 146.8L126.6 145.2L131.1 143.6L135.7 142.1L140.3 140.5L144.9 139L149.4 137.5L154 136.1L158.6 134.6L163.2 133.2L167.7 131.8L172.3 130.4L176.9 129L181.4 127.7L186 126.3L190.6 125L195.2 123.6L199.8 122.3L204.3 121L208.9 119.7L213.5 118.4L218.1 117.1L222.6 115.8L227.2 114.5L231.8 113.2L236.4 111.9L240.9 110.7L245.5 109.4L250.1 108.1L254.7 106.9L259.2 105.6L263.8 104.4L268.4 103.1L272.9 101.9L277.5 100.6L282.1 99.4L286.7 98.2L291.2 96.9L295.8 95.7L300.4 94.5L305 93.2L309.6 92L314.1 90.8L318.7 89.6L323.3 88.3L327.9 87.1L332.4 85.9L337 84.7L341.6 83.5L346.1 82.3L350.7 81L355.3 79.8L359.9 78.6L361.7 83.2L357.1 84.4L352.5 85.6L347.9 86.9L343.4 88.1L338.8 89.3L334.2 90.5L329.6 91.7L325.1 93L320.5 94.2L315.9 95.4L311.3 96.6L306.8 97.9L302.2 99.1L297.6 100.4L293 101.6L288.5 102.8L283.9 104.1L279.3 105.3L274.7 106.6L270.2 107.8L265.6 109.1L261 110.3L256.4 111.6L251.9 112.9L247.3 114.1L242.7 115.4L238.1 116.7L233.6 118L229 119.3L224.4 120.6L219.8 121.9L215.3 123.2L210.7 124.5L206.1 125.8L201.5 127.2L197 128.5L192.4 129.9L187.8 131.2L183.2 132.6L178.7 134L174.1 135.4L169.5 136.8L164.9 138.3L160.4 139.7L155.8 141.2L151.2 142.7L146.6 144.2L142.1 145.7L137.5 147.3L132.9 148.8L128.3 150.5L123.8 152.1L119.2 153.8L114.6 155.4L110 156.8L105.5 157.4L100.9 156.9L96.3 160L91.7 166.9z"/><path class="k45" d="M90 159.8L94.5 153.5M90 159.8L91.7 166.9"/><path class="k47" d="M94.5 153.5L99.1 151.1L103.7 151.8L108.2 151.4M122 146.8L126.6 145.2L131.1 143.6L135.7 142.1L140.3 140.5L144.9 139L149.4 137.5L154 136.1M94.5 153.5L96.3 160M99.1 151.1L100.9 156.9M103.7 151.8L105.5 157.4M122 146.8L123.8 152.1M126.6 145.2L128.3 150.5M131.1 143.6L132.9 148.8M135.7 142.1L137.5 147.3M140.3 140.5L142.1 145.7M144.9 139L146.6 144.2M149.4 137.5L151.2 142.7"/><path class="k46" d="M108.2 151.4L112.8 150L117.4 148.4L122 146.8M108.2 151.4L110 156.8M112.8 150L114.6 155.4M117.4 148.4L119.2 153.8"/><path class="k48" d="M154 136.1L158.6 134.6L163.2 133.2L167.7 131.8L172.3 130.4L176.9 129L181.4 127.7L186 126.3L190.6 125L195.2 123.6L199.8 122.3L204.3 121L208.9 119.7L213.5 118.4L218.1 117.1L222.6 115.8L227.2 114.5M154 136.1L155.8 141.2M158.6 134.6L160.4 139.7M163.2 133.2L164.9 138.3M167.7 131.8L169.5 136.8M172.3 130.4L174.1 135.4M176.9 129L178.7 134M181.4 127.7L183.2 132.6M186 126.3L187.8 131.2M190.6 125L192.4 129.9M195.2 123.6L197 128.5M199.8 122.3L201.5 127.2M204.3 121L206.1 125.8M208.9 119.7L210.7 124.5M213.5 118.4L215.3 123.2M218.1 117.1L219.8 121.9M222.6 115.8L224.4 120.6"/><path class="k49" d="M227.2 114.5L231.8 113.2L236.4 111.9L240.9 110.7L245.5 109.4L250.1 108.1L254.7 106.9L259.2 105.6L263.8 104.4L268.4 103.1L272.9 101.9L277.5 100.6L282.1 99.4L286.7 98.2L291.2 96.9L295.8 95.7L300.4 94.5L305 93.2L309.6 92L314.1 90.8L318.7 89.6L323.3 88.3L327.9 87.1L332.4 85.9L337 84.7L341.6 83.5L346.1 82.3L350.7 81L355.3 79.8L359.9 78.6M227.2 114.5L229 119.3M231.8 113.2L233.6 118M236.4 111.9L238.1 116.7M240.9 110.7L242.7 115.4M245.5 109.4L247.3 114.1M250.1 108.1L251.9 112.9M254.7 106.9L256.4 111.6M259.2 105.6L261 110.3M263.8 104.4L265.6 109.1M268.4 103.1L270.2 107.8M272.9 101.9L274.7 106.6M277.5 100.6L279.3 105.3M282.1 99.4L283.9 104.1M286.7 98.2L288.5 102.8M291.2 96.9L293 101.6M295.8 95.7L297.6 100.4M300.4 94.5L302.2 99.1M305 93.2L306.8 97.9M309.6 92L311.3 96.6M314.1 90.8L315.9 95.4M318.7 89.6L320.5 94.2M323.3 88.3L325.1 93M327.9 87.1L329.6 91.7M332.4 85.9L334.2 90.5M337 84.7L338.8 89.3M341.6 83.5L343.4 88.1M346.1 82.3L347.9 86.9M350.7 81L352.5 85.6M355.3 79.8L357.1 84.4M359.9 78.6L361.7 83.2"/><path class="w" d="M91.7 166.9L96.3 160L100.9 156.9L105.5 157.4L110 156.8L114.6 155.4L119.2 153.8L123.8 152.1L128.3 150.5L132.9 148.8L137.5 147.3L142.1 145.7L146.6 144.2L151.2 142.7L155.8 141.2L160.4 139.7L164.9 138.3L169.5 136.8L174.1 135.4L178.7 134L183.2 132.6L187.8 131.2L192.4 129.9L197 128.5L201.5 127.2L206.1 125.8L210.7 124.5L215.3 123.2L219.8 121.9L224.4 120.6L229 119.3L233.6 118L238.1 116.7L242.7 115.4L247.3 114.1L251.9 112.9L256.4 111.6L261 110.3L265.6 109.1L270.2 107.8L274.7 106.6L279.3 105.3L283.9 104.1L288.5 102.8L293 101.6L297.6 100.4L302.2 99.1L306.8 97.9L311.3 96.6L315.9 95.4L320.5 94.2L325.1 93L329.6 91.7L334.2 90.5L338.8 89.3L343.4 88.1L347.9 86.9L352.5 85.6L357.1 84.4L361.7 83.2L363.5 88.1L358.9 89.3L354.3 90.5L349.7 91.8L345.2 93L340.6 94.2L336 95.4L331.4 96.7L326.9 97.9L322.3 99.1L317.7 100.3L313.1 101.6L308.6 102.8L304 104.1L299.4 105.3L294.8 106.5L290.3 107.8L285.7 109L281.1 110.3L276.5 111.5L272 112.8L267.4 114.1L262.8 115.3L258.2 116.6L253.7 117.9L249.1 119.2L244.5 120.5L239.9 121.7L235.4 123L230.8 124.3L226.2 125.7L221.6 127L217.1 128.3L212.5 129.6L207.9 131L203.3 132.3L198.8 133.7L194.2 135.1L189.6 136.4L185 137.8L180.5 139.2L175.9 140.7L171.3 142.1L166.7 143.6L162.2 145L157.6 146.5L153 148L148.4 149.6L143.9 151.1L139.3 152.7L134.7 154.3L130.1 156L125.6 157.6L121 159.3L116.4 161L111.8 162.5L107.3 163.2L102.7 163L98.1 166.6L93.5 174z"/><path class="k42" d="M91.7 166.9L96.3 160M91.7 166.9L93.5 174"/><path class="k45" d="M96.3 160L100.9 156.9L105.5 157.4L110 156.8L114.6 155.4L119.2 153.8L123.8 152.1L128.3 150.5L132.9 148.8L137.5 147.3L142.1 145.7M96.3 160L98.1 166.6M100.9 156.9L102.7 163M105.5 157.4L107.3 163.2M110 156.8L111.8 162.5M114.6 155.4L116.4 161M119.2 153.8L121 159.3M123.8 152.1L125.6 157.6M128.3 150.5L130.1 156M132.9 148.8L134.7 154.3M137.5 147.3L139.3 152.7"/><path class="k46" d="M142.1 145.7L146.6 144.2L151.2 142.7L155.8 141.2L160.4 139.7L164.9 138.3L169.5 136.8L174.1 135.4L178.7 134L183.2 132.6M142.1 145.7L143.9 151.1M146.6 144.2L148.4 149.6M151.2 142.7L153 148M155.8 141.2L157.6 146.5M160.4 139.7L162.2 145M164.9 138.3L166.7 143.6M169.5 136.8L171.3 142.1M174.1 135.4L175.9 140.7M178.7 134L180.5 139.2"/><path class="k47" d="M183.2 132.6L187.8 131.2L192.4 129.9L197 128.5L201.5 127.2L206.1 125.8L210.7 124.5L215.3 123.2L219.8 121.9L224.4 120.6L229 119.3L233.6 118L238.1 116.7L242.7 115.4L247.3 114.1L251.9 112.9L256.4 111.6L261 110.3L265.6 109.1L270.2 107.8L274.7 106.6L279.3 105.3L283.9 104.1L288.5 102.8L293 101.6L297.6 100.4L302.2 99.1L306.8 97.9M183.2 132.6L185 137.8M187.8 131.2L189.6 136.4M192.4 129.9L194.2 135.1M197 128.5L198.8 133.7M201.5 127.2L203.3 132.3M206.1 125.8L207.9 131M210.7 124.5L212.5 129.6M215.3 123.2L217.1 128.3M219.8 121.9L221.6 127M224.4 120.6L226.2 125.7M229 119.3L230.8 124.3M233.6 118L235.4 123M238.1 116.7L239.9 121.7M242.7 115.4L244.5 120.5M247.3 114.1L249.1 119.2M251.9 112.9L253.7 117.9M256.4 111.6L258.2 116.6M261 110.3L262.8 115.3M265.6 109.1L267.4 114.1M270.2 107.8L272 112.8M274.7 106.6L276.5 111.5M279.3 105.3L281.1 110.3M283.9 104.1L285.7 109M288.5 102.8L290.3 107.8M293 101.6L294.8 106.5M297.6 100.4L299.4 105.3M302.2 99.1L304 104.1"/><path class="k48" d="M306.8 97.9L311.3 96.6L315.9 95.4L320.5 94.2L325.1 93L329.6 91.7L334.2 90.5L338.8 89.3L343.4 88.1L347.9 86.9L352.5 85.6L357.1 84.4L361.7 83.2M306.8 97.9L308.6 102.8M311.3 96.6L313.1 101.6M315.9 95.4L317.7 100.3M320.5 94.2L322.3 99.1M325.1 93L326.9 97.9M329.6 91.7L331.4 96.7M334.2 90.5L336 95.4M338.8 89.3L340.6 94.2M343.4 88.1L345.2 93M347.9 86.9L349.7 91.8M352.5 85.6L354.3 90.5M357.1 84.4L358.9 89.3M361.7 83.2L363.5 88.1"/><path class="w" d="M93.5 174L98.1 166.6L102.7 163L107.3 163.2L111.8 162.5L116.4 161L121 159.3L125.6 157.6L130.1 156L134.7 154.3L139.3 152.7L143.9 151.1L148.4 149.6L153 148L157.6 146.5L162.2 145L166.7 143.6L171.3 142.1L175.9 140.7L180.5 139.2L185 137.8L189.6 136.4L194.2 135.1L198.8 133.7L203.3 132.3L207.9 131L212.5 129.6L217.1 128.3L221.6 127L226.2 125.7L230.8 124.3L235.4 123L239.9 121.7L244.5 120.5L249.1 119.2L253.7 117.9L258.2 116.6L262.8 115.3L267.4 114.1L272 112.8L276.5 111.5L281.1 110.3L285.7 109L290.3 107.8L294.8 106.5L299.4 105.3L304 104.1L308.6 102.8L313.1 101.6L317.7 100.3L322.3 99.1L326.9 97.9L331.4 96.7L336 95.4L340.6 94.2L345.2 93L349.7 91.8L354.3 90.5L358.9 89.3L363.5 88.1L365.2 93.2L360.7 94.4L356.1 95.6L351.5 96.9L346.9 98.1L342.4 99.3L337.8 100.6L333.2 101.8L328.6 103L324.1 104.3L319.5 105.5L314.9 106.7L310.3 108L305.8 109.2L301.2 110.5L296.6 111.7L292 113L287.5 114.2L282.9 115.5L278.3 116.7L273.7 118L269.2 119.3L264.6 120.5L260 121.8L255.4 123.1L250.9 124.4L246.3 125.7L241.7 127L237.1 128.3L232.6 129.6L228 130.9L223.4 132.3L218.8 133.6L214.3 134.9L209.7 136.3L205.1 137.7L200.5 139L196 140.4L191.4 141.8L186.8 143.2L182.2 144.6L177.7 146.1L173.1 147.5L168.5 149L163.9 150.5L159.4 152L154.8 153.5L150.2 155.1L145.6 156.7L141.1 158.3L136.5 159.9L131.9 161.6L127.3 163.3L122.8 165L118.2 166.7L113.6 168.2L109 169L104.5 169.1L99.9 173.2L95.3 181z"/><path class="k40" d="M93.5 174L98.1 166.6M93.5 174L95.3 181"/><path class="k43" d="M98.1 166.6L102.7 163M107.3 163.2L111.8 162.5L116.4 161L121 159.3L125.6 157.6L130.1 156L134.7 154.3M98.1 166.6L99.9 173.2M107.3 163.2L109 169M111.8 162.5L113.6 168.2M116.4 161L118.2 166.7M121 159.3L122.8 165M125.6 157.6L127.3 163.3M130.1 156L131.9 161.6"/><path class="k44" d="M102.7 163L107.3 163.2M134.7 154.3L139.3 152.7L143.9 151.1L148.4 149.6L153 148L157.6 146.5L162.2 145L166.7 143.6M102.7 163L104.5 169.1M134.7 154.3L136.5 159.9M139.3 152.7L141.1 158.3M143.9 151.1L145.6 156.7M148.4 149.6L150.2 155.1M153 148L154.8 153.5M157.6 146.5L159.4 152M162.2 145L163.9 150.5"/><path class="k45" d="M166.7 143.6L171.3 142.1L175.9 140.7L180.5 139.2L185 137.8L189.6 136.4L194.2 135.1L198.8 133.7L203.3 132.3L207.9 131L212.5 129.6L217.1 128.3L221.6 127L226.2 125.7M166.7 143.6L168.5 149M171.3 142.1L173.1 147.5M175.9 140.7L177.7 146.1M180.5 139.2L182.2 144.6M185 137.8L186.8 143.2M189.6 136.4L191.4 141.8M194.2 135.1L196 140.4M198.8 133.7L200.5 139M203.3 132.3L205.1 137.7M207.9 131L209.7 136.3M212.5 129.6L214.3 134.9M217.1 128.3L218.8 133.6M221.6 127L223.4 132.3"/><path class="k46" d="M226.2 125.7L230.8 124.3L235.4 123L239.9 121.7L244.5 120.5L249.1 119.2L253.7 117.9L258.2 116.6L262.8 115.3L267.4 114.1L272 112.8L276.5 111.5L281.1 110.3L285.7 109L290.3 107.8L294.8 106.5L299.4 105.3L304 104.1L308.6 102.8L313.1 101.6L317.7 100.3L322.3 99.1L326.9 97.9L331.4 96.7L336 95.4L340.6 94.2L345.2 93L349.7 91.8L354.3 90.5L358.9 89.3L363.5 88.1M226.2 125.7L228 130.9M230.8 124.3L232.6 129.6M235.4 123L237.1 128.3M239.9 121.7L241.7 127M244.5 120.5L246.3 125.7M249.1 119.2L250.9 124.4M253.7 117.9L255.4 123.1M258.2 116.6L260 121.8M262.8 115.3L264.6 120.5M267.4 114.1L269.2 119.3M272 112.8L273.7 118M276.5 111.5L278.3 116.7M281.1 110.3L282.9 115.5M285.7 109L287.5 114.2M290.3 107.8L292 113M294.8 106.5L296.6 111.7M299.4 105.3L301.2 110.5M304 104.1L305.8 109.2M308.6 102.8L310.3 108M313.1 101.6L314.9 106.7M317.7 100.3L319.5 105.5M322.3 99.1L324.1 104.3M326.9 97.9L328.6 103M331.4 96.7L333.2 101.8M336 95.4L337.8 100.6M340.6 94.2L342.4 99.3M345.2 93L346.9 98.1M349.7 91.8L351.5 96.9M354.3 90.5L356.1 95.6M358.9 89.3L360.7 94.4M363.5 88.1L365.2 93.2"/><path class="w" d="M95.3 181L99.9 173.2L104.5 169.1L109 169L113.6 168.2L118.2 166.7L122.8 165L127.3 163.3L131.9 161.6L136.5 159.9L141.1 158.3L145.6 156.7L150.2 155.1L154.8 153.5L159.4 152L163.9 150.5L168.5 149L173.1 147.5L177.7 146.1L182.2 144.6L186.8 143.2L191.4 141.8L196 140.4L200.5 139L205.1 137.7L209.7 136.3L214.3 134.9L218.8 133.6L223.4 132.3L228 130.9L232.6 129.6L237.1 128.3L241.7 127L246.3 125.7L250.9 124.4L255.4 123.1L260 121.8L264.6 120.5L269.2 119.3L273.7 118L278.3 116.7L282.9 115.5L287.5 114.2L292 113L296.6 111.7L301.2 110.5L305.8 109.2L310.3 108L314.9 106.7L319.5 105.5L324.1 104.3L328.6 103L333.2 101.8L337.8 100.6L342.4 99.3L346.9 98.1L351.5 96.9L356.1 95.6L360.7 94.4L365.2 93.2L367 98.5L362.5 99.7L357.9 100.9L353.3 102.1L348.7 103.4L344.2 104.6L339.6 105.8L335 107.1L330.4 108.3L325.9 109.5L321.3 110.8L316.7 112L312.1 113.3L307.6 114.5L303 115.8L298.4 117L293.8 118.3L289.3 119.5L284.7 120.8L280.1 122.1L275.5 123.3L271 124.6L266.4 125.9L261.8 127.2L257.2 128.5L252.7 129.8L248.1 131.1L243.5 132.4L238.9 133.7L234.4 135L229.8 136.3L225.2 137.7L220.6 139L216.1 140.4L211.5 141.7L206.9 143.1L202.3 144.5L197.8 145.9L193.2 147.3L188.6 148.7L184 150.2L179.5 151.6L174.9 153.1L170.3 154.6L165.7 156.1L161.2 157.6L156.6 159.2L152 160.7L147.4 162.3L142.9 163.9L138.3 165.6L133.7 167.3L129.1 169L124.6 170.7L120 172.5L115.4 174L110.8 174.9L106.3 175.3L101.7 179.7L97.1 187.8z"/><path class="k38" d="M95.3 181L99.9 173.2M95.3 181L97.1 187.8"/><path class="k40" d="M99.9 173.2L104.5 169.1M99.9 173.2L101.7 179.7"/><path class="k42" d="M104.5 169.1L109 169M131.9 161.6L136.5 159.9L141.1 158.3L145.6 156.7L150.2 155.1L154.8 153.5L159.4 152M104.5 169.1L106.3 175.3M131.9 161.6L133.7 167.3M136.5 159.9L138.3 165.6M141.1 158.3L142.9 163.9M145.6 156.7L147.4 162.3M150.2 155.1L152 160.7M154.8 153.5L156.6 159.2"/><path class="k41" d="M109 169L113.6 168.2L118.2 166.7L122.8 165L127.3 163.3L131.9 161.6M109 169L110.8 174.9M113.6 168.2L115.4 174M118.2 166.7L120 172.5M122.8 165L124.6 170.7M127.3 163.3L129.1 169"/><path class="k43" d="M159.4 152L163.9 150.5L168.5 149L173.1 147.5L177.7 146.1L182.2 144.6L186.8 143.2L191.4 141.8L196 140.4L200.5 139M159.4 152L161.2 157.6M163.9 150.5L165.7 156.1M168.5 149L170.3 154.6M173.1 147.5L174.9 153.1M177.7 146.1L179.5 151.6M182.2 144.6L184 150.2M186.8 143.2L188.6 148.7M191.4 141.8L193.2 147.3M196 140.4L197.8 145.9"/><path class="k44" d="M200.5 139L205.1 137.7L209.7 136.3L214.3 134.9L218.8 133.6L223.4 132.3L228 130.9L232.6 129.6L237.1 128.3L241.7 127L246.3 125.7L250.9 124.4L255.4 123.1L260 121.8L264.6 120.5L269.2 119.3L273.7 118L278.3 116.7L282.9 115.5L287.5 114.2L292 113L296.6 111.7L301.2 110.5L305.8 109.2L310.3 108L314.9 106.7L319.5 105.5L324.1 104.3L328.6 103M200.5 139L202.3 144.5M205.1 137.7L206.9 143.1M209.7 136.3L211.5 141.7M214.3 134.9L216.1 140.4M218.8 133.6L220.6 139M223.4 132.3L225.2 137.7M228 130.9L229.8 136.3M232.6 129.6L234.4 135M237.1 128.3L238.9 133.7M241.7 127L243.5 132.4M246.3 125.7L248.1 131.1M250.9 124.4L252.7 129.8M255.4 123.1L257.2 128.5M260 121.8L261.8 127.2M264.6 120.5L266.4 125.9M269.2 119.3L271 124.6M273.7 118L275.5 123.3M278.3 116.7L280.1 122.1M282.9 115.5L284.7 120.8M287.5 114.2L289.3 119.5M292 113L293.8 118.3M296.6 111.7L298.4 117M301.2 110.5L303 115.8M305.8 109.2L307.6 114.5M310.3 108L312.1 113.3M314.9 106.7L316.7 112M319.5 105.5L321.3 110.8M324.1 104.3L325.9 109.5"/><path class="k45" d="M328.6 103L333.2 101.8L337.8 100.6L342.4 99.3L346.9 98.1L351.5 96.9L356.1 95.6L360.7 94.4L365.2 93.2M328.6 103L330.4 108.3M333.2 101.8L335 107.1M337.8 100.6L339.6 105.8M342.4 99.3L344.2 104.6M346.9 98.1L348.7 103.4M351.5 96.9L353.3 102.1M356.1 95.6L357.9 100.9M360.7 94.4L362.5 99.7M365.2 93.2L367 98.5"/><path class="w" d="M97.1 187.8L101.7 179.7L106.3 175.3L110.8 174.9L115.4 174L120 172.5L124.6 170.7L129.1 169L133.7 167.3L138.3 165.6L142.9 163.9L147.4 162.3L152 160.7L156.6 159.2L161.2 157.6L165.7 156.1L170.3 154.6L174.9 153.1L179.5 151.6L184 150.2L188.6 148.7L193.2 147.3L197.8 145.9L202.3 144.5L206.9 143.1L211.5 141.7L216.1 140.4L220.6 139L225.2 137.7L229.8 136.3L234.4 135L238.9 133.7L243.5 132.4L248.1 131.1L252.7 129.8L257.2 128.5L261.8 127.2L266.4 125.9L271 124.6L275.5 123.3L280.1 122.1L284.7 120.8L289.3 119.5L293.8 118.3L298.4 117L303 115.8L307.6 114.5L312.1 113.3L316.7 112L321.3 110.8L325.9 109.5L330.4 108.3L335 107.1L339.6 105.8L344.2 104.6L348.7 103.4L353.3 102.1L357.9 100.9L362.5 99.7L367 98.5L368.8 103.8L364.2 105L359.7 106.3L355.1 107.5L350.5 108.7L346 110L341.4 111.2L336.8 112.4L332.2 113.7L327.6 114.9L323.1 116.1L318.5 117.4L313.9 118.6L309.4 119.9L304.8 121.1L300.2 122.4L295.6 123.7L291.1 124.9L286.5 126.2L281.9 127.5L277.3 128.7L272.8 130L268.2 131.3L263.6 132.6L259 133.9L254.5 135.2L249.9 136.5L245.3 137.8L240.7 139.1L236.2 140.5L231.6 141.8L227 143.2L222.4 144.5L217.9 145.9L213.3 147.2L208.7 148.6L204.1 150L199.6 151.4L195 152.8L190.4 154.3L185.8 155.7L181.2 157.2L176.7 158.7L172.1 160.2L167.5 161.7L162.9 163.2L158.4 164.8L153.8 166.4L149.2 168L144.7 169.6L140.1 171.3L135.5 173L130.9 174.7L126.4 176.5L121.8 178.2L117.2 179.8L112.6 180.8L108.1 181.4L103.5 186.2L98.9 194.5z"/><path class="k35" d="M97.1 187.8L101.7 179.7M97.1 187.8L98.9 194.5"/><path class="k38" d="M101.7 179.7L106.3 175.3M101.7 179.7L103.5 186.2"/><path class="k40" d="M106.3 175.3L110.8 174.9M129.1 169L133.7 167.3L138.3 165.6L142.9 163.9L147.4 162.3L152 160.7M106.3 175.3L108.1 181.4M129.1 169L130.9 174.7M133.7 167.3L135.5 173M138.3 165.6L140.1 171.3M142.9 163.9L144.7 169.6M147.4 162.3L149.2 168"/><path class="k39" d="M110.8 174.9L115.4 174L120 172.5L124.6 170.7L129.1 169M110.8 174.9L112.6 180.8M115.4 174L117.2 179.8M120 172.5L121.8 178.2M124.6 170.7L126.4 176.5"/><path class="k41" d="M152 160.7L156.6 159.2L161.2 157.6L165.7 156.1L170.3 154.6L174.9 153.1L179.5 151.6L184 150.2L188.6 148.7M152 160.7L153.8 166.4M156.6 159.2L158.4 164.8M161.2 157.6L162.9 163.2M165.7 156.1L167.5 161.7M170.3 154.6L172.1 160.2M174.9 153.1L176.7 158.7M179.5 151.6L181.2 157.2M184 150.2L185.8 155.7"/><path class="k42" d="M188.6 148.7L193.2 147.3L197.8 145.9L202.3 144.5L206.9 143.1L211.5 141.7L216.1 140.4L220.6 139L225.2 137.7L229.8 136.3L234.4 135L238.9 133.7L243.5 132.4L248.1 131.1L252.7 129.8L257.2 128.5L261.8 127.2L266.4 125.9M188.6 148.7L190.4 154.3M193.2 147.3L195 152.8M197.8 145.9L199.6 151.4M202.3 144.5L204.1 150M206.9 143.1L208.7 148.6M211.5 141.7L213.3 147.2M216.1 140.4L217.9 145.9M220.6 139L222.4 144.5M225.2 137.7L227 143.2M229.8 136.3L231.6 141.8M234.4 135L236.2 140.5M238.9 133.7L240.7 139.1M243.5 132.4L245.3 137.8M248.1 131.1L249.9 136.5M252.7 129.8L254.5 135.2M257.2 128.5L259 133.9M261.8 127.2L263.6 132.6"/><path class="k43" d="M266.4 125.9L271 124.6L275.5 123.3L280.1 122.1L284.7 120.8L289.3 119.5L293.8 118.3L298.4 117L303 115.8L307.6 114.5L312.1 113.3L316.7 112L321.3 110.8L325.9 109.5L330.4 108.3L335 107.1L339.6 105.8L344.2 104.6L348.7 103.4L353.3 102.1L357.9 100.9L362.5 99.7L367 98.5M266.4 125.9L268.2 131.3M271 124.6L272.8 130M275.5 123.3L277.3 128.7M280.1 122.1L281.9 127.5M284.7 120.8L286.5 126.2M289.3 119.5L291.1 124.9M293.8 118.3L295.6 123.7M298.4 117L300.2 122.4M303 115.8L304.8 121.1M307.6 114.5L309.4 119.9M312.1 113.3L313.9 118.6M316.7 112L318.5 117.4M321.3 110.8L323.1 116.1M325.9 109.5L327.6 114.9M330.4 108.3L332.2 113.7M335 107.1L336.8 112.4M339.6 105.8L341.4 111.2M344.2 104.6L346 110M348.7 103.4L350.5 108.7M353.3 102.1L355.1 107.5M357.9 100.9L359.7 106.3M362.5 99.7L364.2 105M367 98.5L368.8 103.8"/><path class="w" d="M98.9 194.5L103.5 186.2L108.1 181.4L112.6 180.8L117.2 179.8L121.8 178.2L126.4 176.5L130.9 174.7L135.5 173L140.1 171.3L144.7 169.6L149.2 168L153.8 166.4L158.4 164.8L162.9 163.2L167.5 161.7L172.1 160.2L176.7 158.7L181.2 157.2L185.8 155.7L190.4 154.3L195 152.8L199.6 151.4L204.1 150L208.7 148.6L213.3 147.2L217.9 145.9L222.4 144.5L227 143.2L231.6 141.8L236.2 140.5L240.7 139.1L245.3 137.8L249.9 136.5L254.5 135.2L259 133.9L263.6 132.6L268.2 131.3L272.8 130L277.3 128.7L281.9 127.5L286.5 126.2L291.1 124.9L295.6 123.7L300.2 122.4L304.8 121.1L309.4 119.9L313.9 118.6L318.5 117.4L323.1 116.1L327.6 114.9L332.2 113.7L336.8 112.4L341.4 111.2L346 110L350.5 108.7L355.1 107.5L359.7 106.3L364.2 105L368.8 103.8L370.6 109.2L366 110.4L361.5 111.7L356.9 112.9L352.3 114.1L347.7 115.4L343.2 116.6L338.6 117.8L334 119.1L329.4 120.3L324.9 121.6L320.3 122.8L315.7 124.1L311.1 125.3L306.6 126.6L302 127.8L297.4 129.1L292.8 130.4L288.3 131.6L283.7 132.9L279.1 134.2L274.5 135.5L270 136.8L265.4 138.1L260.8 139.4L256.2 140.7L251.7 142L247.1 143.3L242.5 144.6L237.9 146L233.4 147.3L228.8 148.6L224.2 150L219.6 151.4L215.1 152.8L210.5 154.1L205.9 155.5L201.3 157L196.8 158.4L192.2 159.8L187.6 161.3L183 162.8L178.5 164.3L173.9 165.8L169.3 167.3L164.7 168.8L160.2 170.4L155.6 172L151 173.6L146.4 175.3L141.9 177L137.3 178.7L132.7 180.4L128.1 182.2L123.6 184L119 185.6L114.4 186.6L109.8 187.4L105.3 192.5L100.7 201z"/><path class="k33" d="M98.9 194.5L103.5 186.2M98.9 194.5L100.7 201"/><path class="k36" d="M103.5 186.2L108.1 181.4M103.5 186.2L105.3 192.5"/><path class="k38" d="M108.1 181.4L112.6 180.8M126.4 176.5L130.9 174.7L135.5 173L140.1 171.3L144.7 169.6L149.2 168M108.1 181.4L109.8 187.4M126.4 176.5L128.1 182.2M130.9 174.7L132.7 180.4M135.5 173L137.3 178.7M140.1 171.3L141.9 177M144.7 169.6L146.4 175.3"/><path class="k37" d="M112.6 180.8L117.2 179.8L121.8 178.2L126.4 176.5M112.6 180.8L114.4 186.6M117.2 179.8L119 185.6M121.8 178.2L123.6 184"/><path class="k39" d="M149.2 168L153.8 166.4L158.4 164.8L162.9 163.2L167.5 161.7L172.1 160.2L176.7 158.7L181.2 157.2M149.2 168L151 173.6M153.8 166.4L155.6 172M158.4 164.8L160.2 170.4M162.9 163.2L164.7 168.8M167.5 161.7L169.3 167.3M172.1 160.2L173.9 165.8M176.7 158.7L178.5 164.3"/><path class="k40" d="M181.2 157.2L185.8 155.7L190.4 154.3L195 152.8L199.6 151.4L204.1 150L208.7 148.6L213.3 147.2L217.9 145.9L222.4 144.5L227 143.2L231.6 141.8L236.2 140.5M181.2 157.2L183 162.8M185.8 155.7L187.6 161.3M190.4 154.3L192.2 159.8M195 152.8L196.8 158.4M199.6 151.4L201.3 157M204.1 150L205.9 155.5M208.7 148.6L210.5 154.1M213.3 147.2L215.1 152.8M217.9 145.9L219.6 151.4M222.4 144.5L224.2 150M227 143.2L228.8 148.6M231.6 141.8L233.4 147.3"/><path class="k41" d="M236.2 140.5L240.7 139.1L245.3 137.8L249.9 136.5L254.5 135.2L259 133.9L263.6 132.6L268.2 131.3L272.8 130L277.3 128.7L281.9 127.5L286.5 126.2L291.1 124.9L295.6 123.7L300.2 122.4L304.8 121.1L309.4 119.9L313.9 118.6L318.5 117.4L323.1 116.1L327.6 114.9L332.2 113.7L336.8 112.4L341.4 111.2L346 110L350.5 108.7L355.1 107.5L359.7 106.3L364.2 105L368.8 103.8M236.2 140.5L237.9 146M240.7 139.1L242.5 144.6M245.3 137.8L247.1 143.3M249.9 136.5L251.7 142M254.5 135.2L256.2 140.7M259 133.9L260.8 139.4M263.6 132.6L265.4 138.1M268.2 131.3L270 136.8M272.8 130L274.5 135.5M277.3 128.7L279.1 134.2M281.9 127.5L283.7 132.9M286.5 126.2L288.3 131.6M291.1 124.9L292.8 130.4M295.6 123.7L297.4 129.1M300.2 122.4L302 127.8M304.8 121.1L306.6 126.6M309.4 119.9L311.1 125.3M313.9 118.6L315.7 124.1M318.5 117.4L320.3 122.8M323.1 116.1L324.9 121.6M327.6 114.9L329.4 120.3M332.2 113.7L334 119.1M336.8 112.4L338.6 117.8M341.4 111.2L343.2 116.6M346 110L347.7 115.4M350.5 108.7L352.3 114.1M355.1 107.5L356.9 112.9M359.7 106.3L361.5 111.7M364.2 105L366 110.4M368.8 103.8L370.6 109.2"/><path class="w" d="M100.7 201L105.3 192.5L109.8 187.4L114.4 186.6L119 185.6L123.6 184L128.1 182.2L132.7 180.4L137.3 178.7L141.9 177L146.4 175.3L151 173.6L155.6 172L160.2 170.4L164.7 168.8L169.3 167.3L173.9 165.8L178.5 164.3L183 162.8L187.6 161.3L192.2 159.8L196.8 158.4L201.3 157L205.9 155.5L210.5 154.1L215.1 152.8L219.6 151.4L224.2 150L228.8 148.6L233.4 147.3L237.9 146L242.5 144.6L247.1 143.3L251.7 142L256.2 140.7L260.8 139.4L265.4 138.1L270 136.8L274.5 135.5L279.1 134.2L283.7 132.9L288.3 131.6L292.8 130.4L297.4 129.1L302 127.8L306.6 126.6L311.1 125.3L315.7 124.1L320.3 122.8L324.9 121.6L329.4 120.3L334 119.1L338.6 117.8L343.2 116.6L347.7 115.4L352.3 114.1L356.9 112.9L361.5 111.7L366 110.4L370.6 109.2L372.4 114.6L367.8 115.8L363.3 117L358.7 118.3L354.1 119.5L349.5 120.7L345 122L340.4 123.2L335.8 124.5L331.2 125.7L326.7 127L322.1 128.2L317.5 129.5L312.9 130.7L308.4 132L303.8 133.2L299.2 134.5L294.6 135.8L290.1 137L285.5 138.3L280.9 139.6L276.3 140.9L271.8 142.2L267.2 143.5L262.6 144.8L258 146.1L253.5 147.4L248.9 148.7L244.3 150.1L239.7 151.4L235.2 152.8L230.6 154.1L226 155.5L221.4 156.9L216.9 158.2L212.3 159.6L207.7 161L203.1 162.5L198.6 163.9L194 165.3L189.4 166.8L184.8 168.3L180.3 169.8L175.7 171.3L171.1 172.8L166.5 174.4L162 176L157.4 177.6L152.8 179.2L148.2 180.9L143.7 182.6L139.1 184.3L134.5 186L129.9 187.8L125.4 189.6L120.8 191.2L116.2 192.3L111.6 193.3L107.1 198.6L102.5 207.2z"/><path class="k31" d="M100.7 201L105.3 192.5M100.7 201L102.5 207.2"/><path class="k34" d="M105.3 192.5L109.8 187.4M105.3 192.5L107.1 198.6"/><path class="k36" d="M109.8 187.4L114.4 186.6M123.6 184L128.1 182.2L132.7 180.4L137.3 178.7L141.9 177L146.4 175.3M109.8 187.4L111.6 193.3M123.6 184L125.4 189.6M128.1 182.2L129.9 187.8M132.7 180.4L134.5 186M137.3 178.7L139.1 184.3M141.9 177L143.7 182.6"/><path class="k35" d="M114.4 186.6L119 185.6L123.6 184M114.4 186.6L116.2 192.3M119 185.6L120.8 191.2"/><path class="k37" d="M146.4 175.3L151 173.6L155.6 172L160.2 170.4L164.7 168.8L169.3 167.3L173.9 165.8M146.4 175.3L148.2 180.9M151 173.6L152.8 179.2M155.6 172L157.4 177.6M160.2 170.4L162 176M164.7 168.8L166.5 174.4M169.3 167.3L171.1 172.8"/><path class="k38" d="M173.9 165.8L178.5 164.3L183 162.8L187.6 161.3L192.2 159.8L196.8 158.4L201.3 157L205.9 155.5L210.5 154.1L215.1 152.8L219.6 151.4M173.9 165.8L175.7 171.3M178.5 164.3L180.3 169.8M183 162.8L184.8 168.3M187.6 161.3L189.4 166.8M192.2 159.8L194 165.3M196.8 158.4L198.6 163.9M201.3 157L203.1 162.5M205.9 155.5L207.7 161M210.5 154.1L212.3 159.6M215.1 152.8L216.9 158.2"/><path class="k39" d="M219.6 151.4L224.2 150L228.8 148.6L233.4 147.3L237.9 146L242.5 144.6L247.1 143.3L251.7 142L256.2 140.7L260.8 139.4L265.4 138.1L270 136.8L274.5 135.5L279.1 134.2L283.7 132.9L288.3 131.6L292.8 130.4L297.4 129.1L302 127.8L306.6 126.6L311.1 125.3L315.7 124.1L320.3 122.8L324.9 121.6L329.4 120.3L334 119.1L338.6 117.8M219.6 151.4L221.4 156.9M224.2 150L226 155.5M228.8 148.6L230.6 154.1M233.4 147.3L235.2 152.8M237.9 146L239.7 151.4M242.5 144.6L244.3 150.1M247.1 143.3L248.9 148.7M251.7 142L253.5 147.4M256.2 140.7L258 146.1M260.8 139.4L262.6 144.8M265.4 138.1L267.2 143.5M270 136.8L271.8 142.2M274.5 135.5L276.3 140.9M279.1 134.2L280.9 139.6M283.7 132.9L285.5 138.3M288.3 131.6L290.1 137M292.8 130.4L294.6 135.8M297.4 129.1L299.2 134.5M302 127.8L303.8 133.2M306.6 126.6L308.4 132M311.1 125.3L312.9 130.7M315.7 124.1L317.5 129.5M320.3 122.8L322.1 128.2M324.9 121.6L326.7 127M329.4 120.3L331.2 125.7M334 119.1L335.8 124.5"/><path class="k40" d="M338.6 117.8L343.2 116.6L347.7 115.4L352.3 114.1L356.9 112.9L361.5 111.7L366 110.4L370.6 109.2M338.6 117.8L340.4 123.2M343.2 116.6L345 122M347.7 115.4L349.5 120.7M352.3 114.1L354.1 119.5M356.9 112.9L358.7 118.3M361.5 111.7L363.3 117M366 110.4L367.8 115.8M370.6 109.2L372.4 114.6"/><path class="w" d="M102.5 207.2L107.1 198.6L111.6 193.3L116.2 192.3L120.8 191.2L125.4 189.6L129.9 187.8L134.5 186L139.1 184.3L143.7 182.6L148.2 180.9L152.8 179.2L157.4 177.6L162 176L166.5 174.4L171.1 172.8L175.7 171.3L180.3 169.8L184.8 168.3L189.4 166.8L194 165.3L198.6 163.9L203.1 162.5L207.7 161L212.3 159.6L216.9 158.2L221.4 156.9L226 155.5L230.6 154.1L235.2 152.8L239.7 151.4L244.3 150.1L248.9 148.7L253.5 147.4L258 146.1L262.6 144.8L267.2 143.5L271.8 142.2L276.3 140.9L280.9 139.6L285.5 138.3L290.1 137L294.6 135.8L299.2 134.5L303.8 133.2L308.4 132L312.9 130.7L317.5 129.5L322.1 128.2L326.7 127L331.2 125.7L335.8 124.5L340.4 123.2L345 122L349.5 120.7L354.1 119.5L358.7 118.3L363.3 117L367.8 115.8L372.4 114.6L374.2 119.9L369.6 121.2L365 122.4L360.5 123.6L355.9 124.8L351.3 126.1L346.7 127.3L342.2 128.6L337.6 129.8L333 131.1L328.4 132.3L323.9 133.6L319.3 134.8L314.7 136.1L310.1 137.3L305.6 138.6L301 139.9L296.4 141.1L291.8 142.4L287.3 143.7L282.7 145L278.1 146.3L273.5 147.6L269 148.9L264.4 150.2L259.8 151.5L255.2 152.8L250.7 154.1L246.1 155.5L241.5 156.8L236.9 158.2L232.4 159.5L227.8 160.9L223.2 162.3L218.6 163.7L214.1 165.1L209.5 166.5L204.9 167.9L200.3 169.3L195.8 170.8L191.2 172.3L186.6 173.7L182 175.2L177.5 176.8L172.9 178.3L168.3 179.9L163.7 181.5L159.2 183.1L154.6 184.7L150 186.4L145.4 188.1L140.9 189.8L136.3 191.5L131.7 193.3L127.1 195.1L122.6 196.8L118 197.9L113.4 199.1L108.8 204.6L104.3 213.1z"/><path class="k29" d="M102.5 207.2L107.1 198.6M102.5 207.2L104.3 213.1"/><path class="k32" d="M107.1 198.6L111.6 193.3M107.1 198.6L108.8 204.6"/><path class="k34" d="M111.6 193.3L116.2 192.3L120.8 191.2M125.4 189.6L129.9 187.8L134.5 186L139.1 184.3L143.7 182.6M111.6 193.3L113.4 199.1M116.2 192.3L118 197.9M125.4 189.6L127.1 195.1M129.9 187.8L131.7 193.3M134.5 186L136.3 191.5M139.1 184.3L140.9 189.8"/><path class="k33" d="M120.8 191.2L125.4 189.6M120.8 191.2L122.6 196.8"/><path class="k35" d="M143.7 182.6L148.2 180.9L152.8 179.2L157.4 177.6L162 176L166.5 174.4L171.1 172.8M143.7 182.6L145.4 188.1M148.2 180.9L150 186.4M152.8 179.2L154.6 184.7M157.4 177.6L159.2 183.1M162 176L163.7 181.5M166.5 174.4L168.3 179.9"/><path class="k36" d="M171.1 172.8L175.7 171.3L180.3 169.8L184.8 168.3L189.4 166.8L194 165.3L198.6 163.9L203.1 162.5L207.7 161M171.1 172.8L172.9 178.3M175.7 171.3L177.5 176.8M180.3 169.8L182 175.2M184.8 168.3L186.6 173.7M189.4 166.8L191.2 172.3M194 165.3L195.8 170.8M198.6 163.9L200.3 169.3M203.1 162.5L204.9 167.9"/><path class="k37" d="M207.7 161L212.3 159.6L216.9 158.2L221.4 156.9L226 155.5L230.6 154.1L235.2 152.8L239.7 151.4L244.3 150.1L248.9 148.7L253.5 147.4L258 146.1L262.6 144.8L267.2 143.5L271.8 142.2L276.3 140.9L280.9 139.6L285.5 138.3L290.1 137M207.7 161L209.5 166.5M212.3 159.6L214.1 165.1M216.9 158.2L218.6 163.7M221.4 156.9L223.2 162.3M226 155.5L227.8 160.9M230.6 154.1L232.4 159.5M235.2 152.8L236.9 158.2M239.7 151.4L241.5 156.8M244.3 150.1L246.1 155.5M248.9 148.7L250.7 154.1M253.5 147.4L255.2 152.8M258 146.1L259.8 151.5M262.6 144.8L264.4 150.2M267.2 143.5L269 148.9M271.8 142.2L273.5 147.6M276.3 140.9L278.1 146.3M280.9 139.6L282.7 145M285.5 138.3L287.3 143.7"/><path class="k38" d="M290.1 137L294.6 135.8L299.2 134.5L303.8 133.2L308.4 132L312.9 130.7L317.5 129.5L322.1 128.2L326.7 127L331.2 125.7L335.8 124.5L340.4 123.2L345 122L349.5 120.7L354.1 119.5L358.7 118.3L363.3 117L367.8 115.8L372.4 114.6M290.1 137L291.8 142.4M294.6 135.8L296.4 141.1M299.2 134.5L301 139.9M303.8 133.2L305.6 138.6M308.4 132L310.1 137.3M312.9 130.7L314.7 136.1M317.5 129.5L319.3 134.8M322.1 128.2L323.9 133.6M326.7 127L328.4 132.3M331.2 125.7L333 131.1M335.8 124.5L337.6 129.8M340.4 123.2L342.2 128.6M345 122L346.7 127.3M349.5 120.7L351.3 126.1M354.1 119.5L355.9 124.8M358.7 118.3L360.5 123.6M363.3 117L365 122.4M367.8 115.8L369.6 121.2M372.4 114.6L374.2 119.9"/><path class="w" d="M104.3 213.1L108.8 204.6L113.4 199.1L118 197.9L122.6 196.8L127.1 195.1L131.7 193.3L136.3 191.5L140.9 189.8L145.4 188.1L150 186.4L154.6 184.7L159.2 183.1L163.7 181.5L168.3 179.9L172.9 178.3L177.5 176.8L182 175.2L186.6 173.7L191.2 172.3L195.8 170.8L200.3 169.3L204.9 167.9L209.5 166.5L214.1 165.1L218.6 163.7L223.2 162.3L227.8 160.9L232.4 159.5L236.9 158.2L241.5 156.8L246.1 155.5L250.7 154.1L255.2 152.8L259.8 151.5L264.4 150.2L269 148.9L273.5 147.6L278.1 146.3L282.7 145L287.3 143.7L291.8 142.4L296.4 141.1L301 139.9L305.6 138.6L310.1 137.3L314.7 136.1L319.3 134.8L323.9 133.6L328.4 132.3L333 131.1L337.6 129.8L342.2 128.6L346.7 127.3L351.3 126.1L355.9 124.8L360.5 123.6L365 122.4L369.6 121.2L374.2 119.9L376 125.2L371.4 126.4L366.8 127.7L362.3 128.9L357.7 130.1L353.1 131.4L348.5 132.6L344 133.8L339.4 135.1L334.8 136.3L330.2 137.6L325.7 138.8L321.1 140.1L316.5 141.4L311.9 142.6L307.4 143.9L302.8 145.2L298.2 146.4L293.6 147.7L289.1 149L284.5 150.3L279.9 151.6L275.3 152.9L270.8 154.2L266.2 155.5L261.6 156.8L257 158.1L252.5 159.4L247.9 160.8L243.3 162.1L238.7 163.5L234.2 164.8L229.6 166.2L225 167.6L220.4 169L215.9 170.4L211.3 171.8L206.7 173.2L202.1 174.7L197.6 176.1L193 177.6L188.4 179.1L183.8 180.6L179.3 182.1L174.7 183.7L170.1 185.2L165.5 186.8L161 188.4L156.4 190.1L151.8 191.7L147.2 193.4L142.7 195.1L138.1 196.9L133.5 198.7L128.9 200.5L124.4 202.1L119.8 203.4L115.2 204.6L110.6 210.3L106.1 218.7z"/><path class="k27" d="M104.3 213.1L108.8 204.6M104.3 213.1L106.1 218.7"/><path class="k30" d="M108.8 204.6L113.4 199.1M108.8 204.6L110.6 210.3"/><path class="k32" d="M113.4 199.1L118 197.9L122.6 196.8L127.1 195.1L131.7 193.3L136.3 191.5L140.9 189.8M113.4 199.1L115.2 204.6M118 197.9L119.8 203.4M122.6 196.8L124.4 202.1M127.1 195.1L128.9 200.5M131.7 193.3L133.5 198.7M136.3 191.5L138.1 196.9"/><path class="k33" d="M140.9 189.8L145.4 188.1L150 186.4L154.6 184.7L159.2 183.1L163.7 181.5M140.9 189.8L142.7 195.1M145.4 188.1L147.2 193.4M150 186.4L151.8 191.7M154.6 184.7L156.4 190.1M159.2 183.1L161 188.4"/><path class="k34" d="M163.7 181.5L168.3 179.9L172.9 178.3L177.5 176.8L182 175.2L186.6 173.7L191.2 172.3L195.8 170.8L200.3 169.3M163.7 181.5L165.5 186.8M168.3 179.9L170.1 185.2M172.9 178.3L174.7 183.7M177.5 176.8L179.3 182.1M182 175.2L183.8 180.6M186.6 173.7L188.4 179.1M191.2 172.3L193 177.6M195.8 170.8L197.6 176.1"/><path class="k35" d="M200.3 169.3L204.9 167.9L209.5 166.5L214.1 165.1L218.6 163.7L223.2 162.3L227.8 160.9L232.4 159.5L236.9 158.2L241.5 156.8L246.1 155.5L250.7 154.1L255.2 152.8L259.8 151.5M200.3 169.3L202.1 174.7M204.9 167.9L206.7 173.2M209.5 166.5L211.3 171.8M214.1 165.1L215.9 170.4M218.6 163.7L220.4 169M223.2 162.3L225 167.6M227.8 160.9L229.6 166.2M232.4 159.5L234.2 164.8M236.9 158.2L238.7 163.5M241.5 156.8L243.3 162.1M246.1 155.5L247.9 160.8M250.7 154.1L252.5 159.4M255.2 152.8L257 158.1"/><path class="k36" d="M259.8 151.5L264.4 150.2L269 148.9L273.5 147.6L278.1 146.3L282.7 145L287.3 143.7L291.8 142.4L296.4 141.1L301 139.9L305.6 138.6L310.1 137.3L314.7 136.1L319.3 134.8L323.9 133.6L328.4 132.3L333 131.1L337.6 129.8L342.2 128.6L346.7 127.3L351.3 126.1L355.9 124.8L360.5 123.6L365 122.4L369.6 121.2L374.2 119.9M259.8 151.5L261.6 156.8M264.4 150.2L266.2 155.5M269 148.9L270.8 154.2M273.5 147.6L275.3 152.9M278.1 146.3L279.9 151.6M282.7 145L284.5 150.3M287.3 143.7L289.1 149M291.8 142.4L293.6 147.7M296.4 141.1L298.2 146.4M301 139.9L302.8 145.2M305.6 138.6L307.4 143.9M310.1 137.3L311.9 142.6M314.7 136.1L316.5 141.4M319.3 134.8L321.1 140.1M323.9 133.6L325.7 138.8M328.4 132.3L330.2 137.6M333 131.1L334.8 136.3M337.6 129.8L339.4 135.1M342.2 128.6L344 133.8M346.7 127.3L348.5 132.6M351.3 126.1L353.1 131.4M355.9 124.8L357.7 130.1M360.5 123.6L362.3 128.9M365 122.4L366.8 127.7M369.6 121.2L371.4 126.4M374.2 119.9L376 125.2"/><path class="w" d="M106.1 218.7L110.6 210.3L115.2 204.6L119.8 203.4L124.4 202.1L128.9 200.5L133.5 198.7L138.1 196.9L142.7 195.1L147.2 193.4L151.8 191.7L156.4 190.1L161 188.4L165.5 186.8L170.1 185.2L174.7 183.7L179.3 182.1L183.8 180.6L188.4 179.1L193 177.6L197.6 176.1L202.1 174.7L206.7 173.2L211.3 171.8L215.9 170.4L220.4 169L225 167.6L229.6 166.2L234.2 164.8L238.7 163.5L243.3 162.1L247.9 160.8L252.5 159.4L257 158.1L261.6 156.8L266.2 155.5L270.8 154.2L275.3 152.9L279.9 151.6L284.5 150.3L289.1 149L293.6 147.7L298.2 146.4L302.8 145.2L307.4 143.9L311.9 142.6L316.5 141.4L321.1 140.1L325.7 138.8L330.2 137.6L334.8 136.3L339.4 135.1L344 133.8L348.5 132.6L353.1 131.4L357.7 130.1L362.3 128.9L366.8 127.7L371.4 126.4L376 125.2L377.8 130.4L373.2 131.6L368.6 132.8L364 134.1L359.5 135.3L354.9 136.5L350.3 137.8L345.8 139L341.2 140.3L336.6 141.5L332 142.8L327.5 144L322.9 145.3L318.3 146.5L313.7 147.8L309.1 149.1L304.6 150.3L300 151.6L295.4 152.9L290.9 154.2L286.3 155.5L281.7 156.8L277.1 158.1L272.6 159.4L268 160.7L263.4 162L258.8 163.3L254.2 164.7L249.7 166L245.1 167.3L240.5 168.7L235.9 170.1L231.4 171.4L226.8 172.8L222.2 174.2L217.7 175.6L213.1 177L208.5 178.5L203.9 179.9L199.3 181.4L194.8 182.8L190.2 184.3L185.6 185.8L181.1 187.4L176.5 188.9L171.9 190.5L167.3 192.1L162.8 193.7L158.2 195.3L153.6 197L149 198.7L144.4 200.4L139.9 202.1L135.3 203.9L130.7 205.7L126.1 207.4L121.6 208.6L117 210L112.4 215.8L107.8 224.1z"/><path class="k25" d="M106.1 218.7L110.6 210.3M106.1 218.7L107.8 224.1"/><path class="k28" d="M110.6 210.3L115.2 204.6M110.6 210.3L112.4 215.8"/><path class="k30" d="M115.2 204.6L119.8 203.4L124.4 202.1L128.9 200.5L133.5 198.7L138.1 196.9M115.2 204.6L117 210M119.8 203.4L121.6 208.6M124.4 202.1L126.1 207.4M128.9 200.5L130.7 205.7M133.5 198.7L135.3 203.9"/><path class="k31" d="M138.1 196.9L142.7 195.1L147.2 193.4L151.8 191.7L156.4 190.1L161 188.4M138.1 196.9L139.9 202.1M142.7 195.1L144.4 200.4M147.2 193.4L149 198.7M151.8 191.7L153.6 197M156.4 190.1L158.2 195.3"/><path class="k32" d="M161 188.4L165.5 186.8L170.1 185.2L174.7 183.7L179.3 182.1L183.8 180.6L188.4 179.1M161 188.4L162.8 193.7M165.5 186.8L167.3 192.1M170.1 185.2L171.9 190.5M174.7 183.7L176.5 188.9M179.3 182.1L181.1 187.4M183.8 180.6L185.6 185.8"/><path class="k33" d="M188.4 179.1L193 177.6L197.6 176.1L202.1 174.7L206.7 173.2L211.3 171.8L215.9 170.4L220.4 169L225 167.6L229.6 166.2L234.2 164.8L238.7 163.5M188.4 179.1L190.2 184.3M193 177.6L194.8 182.8M197.6 176.1L199.3 181.4M202.1 174.7L203.9 179.9M206.7 173.2L208.5 178.5M211.3 171.8L213.1 177M215.9 170.4L217.7 175.6M220.4 169L222.2 174.2M225 167.6L226.8 172.8M229.6 166.2L231.4 171.4M234.2 164.8L235.9 170.1"/><path class="k34" d="M238.7 163.5L243.3 162.1L247.9 160.8L252.5 159.4L257 158.1L261.6 156.8L266.2 155.5L270.8 154.2L275.3 152.9L279.9 151.6L284.5 150.3L289.1 149L293.6 147.7L298.2 146.4L302.8 145.2L307.4 143.9L311.9 142.6L316.5 141.4L321.1 140.1L325.7 138.8L330.2 137.6L334.8 136.3L339.4 135.1L344 133.8L348.5 132.6L353.1 131.4L357.7 130.1L362.3 128.9L366.8 127.7L371.4 126.4M238.7 163.5L240.5 168.7M243.3 162.1L245.1 167.3M247.9 160.8L249.7 166M252.5 159.4L254.2 164.7M257 158.1L258.8 163.3M261.6 156.8L263.4 162M266.2 155.5L268 160.7M270.8 154.2L272.6 159.4M275.3 152.9L277.1 158.1M279.9 151.6L281.7 156.8M284.5 150.3L286.3 155.5M289.1 149L290.9 154.2M293.6 147.7L295.4 152.9M298.2 146.4L300 151.6M302.8 145.2L304.6 150.3M307.4 143.9L309.1 149.1M311.9 142.6L313.7 147.8M316.5 141.4L318.3 146.5M321.1 140.1L322.9 145.3M325.7 138.8L327.5 144M330.2 137.6L332 142.8M334.8 136.3L336.6 141.5M339.4 135.1L341.2 140.3M344 133.8L345.8 139M348.5 132.6L350.3 137.8M353.1 131.4L354.9 136.5M357.7 130.1L359.5 135.3M362.3 128.9L364 134.1M366.8 127.7L368.6 132.8"/><path class="k35" d="M371.4 126.4L376 125.2M371.4 126.4L373.2 131.6M376 125.2L377.8 130.4"/><path class="w" d="M107.8 224.1L112.4 215.8L117 210L121.6 208.6L126.1 207.4L130.7 205.7L135.3 203.9L139.9 202.1L144.4 200.4L149 198.7L153.6 197L158.2 195.3L162.8 193.7L167.3 192.1L171.9 190.5L176.5 188.9L181.1 187.4L185.6 185.8L190.2 184.3L194.8 182.8L199.3 181.4L203.9 179.9L208.5 178.5L213.1 177L217.7 175.6L222.2 174.2L226.8 172.8L231.4 171.4L235.9 170.1L240.5 168.7L245.1 167.3L249.7 166L254.2 164.7L258.8 163.3L263.4 162L268 160.7L272.6 159.4L277.1 158.1L281.7 156.8L286.3 155.5L290.9 154.2L295.4 152.9L300 151.6L304.6 150.3L309.1 149.1L313.7 147.8L318.3 146.5L322.9 145.3L327.5 144L332 142.8L336.6 141.5L341.2 140.3L345.8 139L350.3 137.8L354.9 136.5L359.5 135.3L364 134.1L368.6 132.8L373.2 131.6L377.8 130.4L379.6 135.5L375 136.7L370.4 137.9L365.8 139.1L361.3 140.4L356.7 141.6L352.1 142.9L347.5 144.1L343 145.4L338.4 146.6L333.8 147.9L329.2 149.1L324.7 150.4L320.1 151.6L315.5 152.9L310.9 154.2L306.4 155.4L301.8 156.7L297.2 158L292.6 159.3L288.1 160.6L283.5 161.9L278.9 163.2L274.3 164.5L269.8 165.8L265.2 167.1L260.6 168.4L256 169.7L251.5 171.1L246.9 172.4L242.3 173.8L237.7 175.1L233.2 176.5L228.6 177.9L224 179.3L219.4 180.7L214.9 182.1L210.3 183.6L205.7 185L201.1 186.5L196.6 187.9L192 189.4L187.4 190.9L182.8 192.4L178.3 194L173.7 195.6L169.1 197.1L164.5 198.7L160 200.4L155.4 202L150.8 203.7L146.2 205.4L141.7 207.2L137.1 209L132.5 210.7L127.9 212.4L123.4 213.7L118.8 215.2L114.2 221L109.6 229.2z"/><path class="k23" d="M107.8 224.1L112.4 215.8M107.8 224.1L109.6 229.2"/><path class="k26" d="M112.4 215.8L117 210M112.4 215.8L114.2 221"/><path class="k28" d="M117 210L121.6 208.6L126.1 207.4L130.7 205.7L135.3 203.9M117 210L118.8 215.2M121.6 208.6L123.4 213.7M126.1 207.4L127.9 212.4M130.7 205.7L132.5 210.7"/><path class="k29" d="M135.3 203.9L139.9 202.1L144.4 200.4L149 198.7L153.6 197M135.3 203.9L137.1 209M139.9 202.1L141.7 207.2M144.4 200.4L146.2 205.4M149 198.7L150.8 203.7"/><path class="k30" d="M153.6 197L158.2 195.3L162.8 193.7L167.3 192.1L171.9 190.5L176.5 188.9L181.1 187.4M153.6 197L155.4 202M158.2 195.3L160 200.4M162.8 193.7L164.5 198.7M167.3 192.1L169.1 197.1M171.9 190.5L173.7 195.6M176.5 188.9L178.3 194"/><path class="k31" d="M181.1 187.4L185.6 185.8L190.2 184.3L194.8 182.8L199.3 181.4L203.9 179.9L208.5 178.5L213.1 177L217.7 175.6L222.2 174.2M181.1 187.4L182.8 192.4M185.6 185.8L187.4 190.9M190.2 184.3L192 189.4M194.8 182.8L196.6 187.9M199.3 181.4L201.1 186.5M203.9 179.9L205.7 185M208.5 178.5L210.3 183.6M213.1 177L214.9 182.1M217.7 175.6L219.4 180.7"/><path class="k32" d="M222.2 174.2L226.8 172.8L231.4 171.4L235.9 170.1L240.5 168.7L245.1 167.3L249.7 166L254.2 164.7L258.8 163.3L263.4 162L268 160.7L272.6 159.4L277.1 158.1L281.7 156.8L286.3 155.5L290.9 154.2L295.4 152.9L300 151.6L304.6 150.3M222.2 174.2L224 179.3M226.8 172.8L228.6 177.9M231.4 171.4L233.2 176.5M235.9 170.1L237.7 175.1M240.5 168.7L242.3 173.8M245.1 167.3L246.9 172.4M249.7 166L251.5 171.1M254.2 164.7L256 169.7M258.8 163.3L260.6 168.4M263.4 162L265.2 167.1M268 160.7L269.8 165.8M272.6 159.4L274.3 164.5M277.1 158.1L278.9 163.2M281.7 156.8L283.5 161.9M286.3 155.5L288.1 160.6M290.9 154.2L292.6 159.3M295.4 152.9L297.2 158M300 151.6L301.8 156.7"/><path class="k33" d="M304.6 150.3L309.1 149.1L313.7 147.8L318.3 146.5L322.9 145.3L327.5 144L332 142.8L336.6 141.5L341.2 140.3L345.8 139L350.3 137.8L354.9 136.5L359.5 135.3L364 134.1L368.6 132.8L373.2 131.6L377.8 130.4M304.6 150.3L306.4 155.4M309.1 149.1L310.9 154.2M313.7 147.8L315.5 152.9M318.3 146.5L320.1 151.6M322.9 145.3L324.7 150.4M327.5 144L329.2 149.1M332 142.8L333.8 147.9M336.6 141.5L338.4 146.6M341.2 140.3L343 145.4M345.8 139L347.5 144.1M350.3 137.8L352.1 142.9M354.9 136.5L356.7 141.6M359.5 135.3L361.3 140.4M364 134.1L365.8 139.1M368.6 132.8L370.4 137.9M373.2 131.6L375 136.7M377.8 130.4L379.6 135.5"/><path class="w" d="M109.6 229.2L114.2 221L118.8 215.2L123.4 213.7L127.9 212.4L132.5 210.7L137.1 209L141.7 207.2L146.2 205.4L150.8 203.7L155.4 202L160 200.4L164.5 198.7L169.1 197.1L173.7 195.6L178.3 194L182.8 192.4L187.4 190.9L192 189.4L196.6 187.9L201.1 186.5L205.7 185L210.3 183.6L214.9 182.1L219.4 180.7L224 179.3L228.6 177.9L233.2 176.5L237.7 175.1L242.3 173.8L246.9 172.4L251.5 171.1L256 169.7L260.6 168.4L265.2 167.1L269.8 165.8L274.3 164.5L278.9 163.2L283.5 161.9L288.1 160.6L292.6 159.3L297.2 158L301.8 156.7L306.4 155.4L310.9 154.2L315.5 152.9L320.1 151.6L324.7 150.4L329.2 149.1L333.8 147.9L338.4 146.6L343 145.4L347.5 144.1L352.1 142.9L356.7 141.6L361.3 140.4L365.8 139.1L370.4 137.9L375 136.7L379.6 135.5L381.4 140.4L376.8 141.6L372.2 142.9L367.6 144.1L363.1 145.3L358.5 146.6L353.9 147.8L349.3 149.1L344.8 150.3L340.2 151.6L335.6 152.8L331 154.1L326.5 155.3L321.9 156.6L317.3 157.8L312.7 159.1L308.2 160.4L303.6 161.7L299 162.9L294.4 164.2L289.9 165.5L285.3 166.8L280.7 168.1L276.1 169.4L271.6 170.7L267 172L262.4 173.4L257.8 174.7L253.3 176L248.7 177.4L244.1 178.7L239.5 180.1L235 181.5L230.4 182.9L225.8 184.3L221.2 185.7L216.7 187.1L212.1 188.5L207.5 189.9L202.9 191.4L198.4 192.9L193.8 194.4L189.2 195.9L184.6 197.4L180.1 198.9L175.5 200.5L170.9 202.1L166.3 203.7L161.8 205.3L157.2 207L152.6 208.6L148 210.3L143.5 212.1L138.9 213.8L134.3 215.6L129.7 217.3L125.2 218.7L120.6 220.3L116 226L111.4 234.1z"/><path class="k21" d="M109.6 229.2L114.2 221M109.6 229.2L111.4 234.1"/><path class="k24" d="M114.2 221L118.8 215.2M114.2 221L116 226"/><path class="k26" d="M118.8 215.2L123.4 213.7M118.8 215.2L120.6 220.3"/><path class="k27" d="M123.4 213.7L127.9 212.4L132.5 210.7L137.1 209L141.7 207.2L146.2 205.4L150.8 203.7M123.4 213.7L125.2 218.7M127.9 212.4L129.7 217.3M132.5 210.7L134.3 215.6M137.1 209L138.9 213.8M141.7 207.2L143.5 212.1M146.2 205.4L148 210.3"/><path class="k28" d="M150.8 203.7L155.4 202L160 200.4L164.5 198.7L169.1 197.1L173.7 195.6M150.8 203.7L152.6 208.6M155.4 202L157.2 207M160 200.4L161.8 205.3M164.5 198.7L166.3 203.7M169.1 197.1L170.9 202.1"/><path class="k29" d="M173.7 195.6L178.3 194L182.8 192.4L187.4 190.9L192 189.4L196.6 187.9L201.1 186.5L205.7 185M173.7 195.6L175.5 200.5M178.3 194L180.1 198.9M182.8 192.4L184.6 197.4M187.4 190.9L189.2 195.9M192 189.4L193.8 194.4M196.6 187.9L198.4 192.9M201.1 186.5L202.9 191.4"/><path class="k30" d="M205.7 185L210.3 183.6L214.9 182.1L219.4 180.7L224 179.3L228.6 177.9L233.2 176.5L237.7 175.1L242.3 173.8L246.9 172.4L251.5 171.1L256 169.7L260.6 168.4L265.2 167.1M205.7 185L207.5 189.9M210.3 183.6L212.1 188.5M214.9 182.1L216.7 187.1M219.4 180.7L221.2 185.7M224 179.3L225.8 184.3M228.6 177.9L230.4 182.9M233.2 176.5L235 181.5M237.7 175.1L239.5 180.1M242.3 173.8L244.1 178.7M246.9 172.4L248.7 177.4M251.5 171.1L253.3 176M256 169.7L257.8 174.7M260.6 168.4L262.4 173.4"/><path class="k31" d="M265.2 167.1L269.8 165.8L274.3 164.5L278.9 163.2L283.5 161.9L288.1 160.6L292.6 159.3L297.2 158L301.8 156.7L306.4 155.4L310.9 154.2L315.5 152.9L320.1 151.6L324.7 150.4L329.2 149.1L333.8 147.9L338.4 146.6L343 145.4L347.5 144.1L352.1 142.9L356.7 141.6L361.3 140.4L365.8 139.1L370.4 137.9L375 136.7L379.6 135.5M265.2 167.1L267 172M269.8 165.8L271.6 170.7M274.3 164.5L276.1 169.4M278.9 163.2L280.7 168.1M283.5 161.9L285.3 166.8M288.1 160.6L289.9 165.5M292.6 159.3L294.4 164.2M297.2 158L299 162.9M301.8 156.7L303.6 161.7M306.4 155.4L308.2 160.4M310.9 154.2L312.7 159.1M315.5 152.9L317.3 157.8M320.1 151.6L321.9 156.6M324.7 150.4L326.5 155.3M329.2 149.1L331 154.1M333.8 147.9L335.6 152.8M338.4 146.6L340.2 151.6M343 145.4L344.8 150.3M347.5 144.1L349.3 149.1M352.1 142.9L353.9 147.8M356.7 141.6L358.5 146.6M361.3 140.4L363.1 145.3M365.8 139.1L367.6 144.1M370.4 137.9L372.2 142.9M375 136.7L376.8 141.6M379.6 135.5L381.4 140.4"/><path class="w" d="M111.4 234.1L116 226L120.6 220.3L125.2 218.7L129.7 217.3L134.3 215.6L138.9 213.8L143.5 212.1L148 210.3L152.6 208.6L157.2 207L161.8 205.3L166.3 203.7L170.9 202.1L175.5 200.5L180.1 198.9L184.6 197.4L189.2 195.9L193.8 194.4L198.4 192.9L202.9 191.4L207.5 189.9L212.1 188.5L216.7 187.1L221.2 185.7L225.8 184.3L230.4 182.9L235 181.5L239.5 180.1L244.1 178.7L248.7 177.4L253.3 176L257.8 174.7L262.4 173.4L267 172L271.6 170.7L276.1 169.4L280.7 168.1L285.3 166.8L289.9 165.5L294.4 164.2L299 162.9L303.6 161.7L308.2 160.4L312.7 159.1L317.3 157.8L321.9 156.6L326.5 155.3L331 154.1L335.6 152.8L340.2 151.6L344.8 150.3L349.3 149.1L353.9 147.8L358.5 146.6L363.1 145.3L367.6 144.1L372.2 142.9L376.8 141.6L381.4 140.4L383.1 145.2L378.6 146.4L374 147.7L369.4 148.9L364.8 150.2L360.3 151.4L355.7 152.6L351.1 153.9L346.5 155.1L342 156.4L337.4 157.6L332.8 158.9L328.2 160.1L323.7 161.4L319.1 162.7L314.5 163.9L309.9 165.2L305.4 166.5L300.8 167.7L296.2 169L291.6 170.3L287.1 171.6L282.5 172.9L277.9 174.2L273.3 175.5L268.8 176.9L264.2 178.2L259.6 179.5L255 180.8L250.5 182.2L245.9 183.5L241.3 184.9L236.7 186.3L232.2 187.7L227.6 189.1L223 190.5L218.4 191.9L213.9 193.3L209.3 194.7L204.7 196.2L200.1 197.7L195.6 199.1L191 200.6L186.4 202.2L181.8 203.7L177.3 205.3L172.7 206.8L168.1 208.4L163.5 210L159 211.7L154.4 213.4L149.8 215.1L145.2 216.8L140.7 218.6L136.1 220.3L131.5 222L126.9 223.4L122.4 225.1L117.8 230.8L113.2 238.8z"/><path class="k20" d="M111.4 234.1L116 226M111.4 234.1L113.2 238.8"/><path class="k23" d="M116 226L120.6 220.3M116 226L117.8 230.8"/><path class="k25" d="M120.6 220.3L125.2 218.7L129.7 217.3L134.3 215.6L138.9 213.8L143.5 212.1M120.6 220.3L122.4 225.1M125.2 218.7L126.9 223.4M129.7 217.3L131.5 222M134.3 215.6L136.1 220.3M138.9 213.8L140.7 218.6"/><path class="k26" d="M143.5 212.1L148 210.3L152.6 208.6L157.2 207L161.8 205.3M143.5 212.1L145.2 216.8M148 210.3L149.8 215.1M152.6 208.6L154.4 213.4M157.2 207L159 211.7"/><path class="k27" d="M161.8 205.3L166.3 203.7L170.9 202.1L175.5 200.5L180.1 198.9L184.6 197.4L189.2 195.9L193.8 194.4M161.8 205.3L163.5 210M166.3 203.7L168.1 208.4M170.9 202.1L172.7 206.8M175.5 200.5L177.3 205.3M180.1 198.9L181.8 203.7M184.6 197.4L186.4 202.2M189.2 195.9L191 200.6"/><path class="k28" d="M193.8 194.4L198.4 192.9L202.9 191.4L207.5 189.9L212.1 188.5L216.7 187.1L221.2 185.7L225.8 184.3L230.4 182.9L235 181.5L239.5 180.1M193.8 194.4L195.6 199.1M198.4 192.9L200.1 197.7M202.9 191.4L204.7 196.2M207.5 189.9L209.3 194.7M212.1 188.5L213.9 193.3M216.7 187.1L218.4 191.9M221.2 185.7L223 190.5M225.8 184.3L227.6 189.1M230.4 182.9L232.2 187.7M235 181.5L236.7 186.3"/><path class="k29" d="M239.5 180.1L244.1 178.7L248.7 177.4L253.3 176L257.8 174.7L262.4 173.4L267 172L271.6 170.7L276.1 169.4L280.7 168.1L285.3 166.8L289.9 165.5L294.4 164.2L299 162.9L303.6 161.7L308.2 160.4L312.7 159.1L317.3 157.8L321.9 156.6L326.5 155.3L331 154.1L335.6 152.8L340.2 151.6L344.8 150.3M239.5 180.1L241.3 184.9M244.1 178.7L245.9 183.5M248.7 177.4L250.5 182.2M253.3 176L255 180.8M257.8 174.7L259.6 179.5M262.4 173.4L264.2 178.2M267 172L268.8 176.9M271.6 170.7L273.3 175.5M276.1 169.4L277.9 174.2M280.7 168.1L282.5 172.9M285.3 166.8L287.1 171.6M289.9 165.5L291.6 170.3M294.4 164.2L296.2 169M299 162.9L300.8 167.7M303.6 161.7L305.4 166.5M308.2 160.4L309.9 165.2M312.7 159.1L314.5 163.9M317.3 157.8L319.1 162.7M321.9 156.6L323.7 161.4M326.5 155.3L328.2 160.1M331 154.1L332.8 158.9M335.6 152.8L337.4 157.6M340.2 151.6L342 156.4"/><path class="k30" d="M344.8 150.3L349.3 149.1L353.9 147.8L358.5 146.6L363.1 145.3L367.6 144.1L372.2 142.9L376.8 141.6L381.4 140.4M344.8 150.3L346.5 155.1M349.3 149.1L351.1 153.9M353.9 147.8L355.7 152.6M358.5 146.6L360.3 151.4M363.1 145.3L364.8 150.2M367.6 144.1L369.4 148.9M372.2 142.9L374 147.7M376.8 141.6L378.6 146.4M381.4 140.4L383.1 145.2"/><path class="w" d="M113.2 238.8L117.8 230.8L122.4 225.1L126.9 223.4L131.5 222L136.1 220.3L140.7 218.6L145.2 216.8L149.8 215.1L154.4 213.4L159 211.7L163.5 210L168.1 208.4L172.7 206.8L177.3 205.3L181.8 203.7L186.4 202.2L191 200.6L195.6 199.1L200.1 197.7L204.7 196.2L209.3 194.7L213.9 193.3L218.4 191.9L223 190.5L227.6 189.1L232.2 187.7L236.7 186.3L241.3 184.9L245.9 183.5L250.5 182.2L255 180.8L259.6 179.5L264.2 178.2L268.8 176.9L273.3 175.5L277.9 174.2L282.5 172.9L287.1 171.6L291.6 170.3L296.2 169L300.8 167.7L305.4 166.5L309.9 165.2L314.5 163.9L319.1 162.7L323.7 161.4L328.2 160.1L332.8 158.9L337.4 157.6L342 156.4L346.5 155.1L351.1 153.9L355.7 152.6L360.3 151.4L364.8 150.2L369.4 148.9L374 147.7L378.6 146.4L383.1 145.2L384.9 149.9L380.4 151.1L375.8 152.4L371.2 153.6L366.6 154.8L362.1 156.1L357.5 157.3L352.9 158.5L348.3 159.8L343.8 161L339.2 162.3L334.6 163.5L330 164.8L325.5 166.1L320.9 167.3L316.3 168.6L311.7 169.9L307.2 171.1L302.6 172.4L298 173.7L293.4 175L288.9 176.3L284.3 177.6L279.7 178.9L275.1 180.2L270.6 181.5L266 182.8L261.4 184.2L256.8 185.5L252.3 186.8L247.7 188.2L243.1 189.6L238.5 190.9L234 192.3L229.4 193.7L224.8 195.1L220.2 196.5L215.7 197.9L211.1 199.4L206.5 200.8L201.9 202.3L197.4 203.8L192.8 205.3L188.2 206.8L183.6 208.3L179.1 209.9L174.5 211.4L169.9 213L165.3 214.6L160.8 216.3L156.2 217.9L151.6 219.6L147 221.3L142.5 223.1L137.9 224.8L133.3 226.5L128.7 227.9L124.2 229.7L119.6 235.3L115 243.4z"/><path class="k18" d="M113.2 238.8L117.8 230.8M113.2 238.8L115 243.4"/><path class="k21" d="M117.8 230.8L122.4 225.1M117.8 230.8L119.6 235.3"/><path class="k23" d="M122.4 225.1L126.9 223.4L131.5 222L136.1 220.3M122.4 225.1L124.2 229.7M126.9 223.4L128.7 227.9M131.5 222L133.3 226.5"/><path class="k24" d="M136.1 220.3L140.7 218.6L145.2 216.8L149.8 215.1L154.4 213.4M136.1 220.3L137.9 224.8M140.7 218.6L142.5 223.1M145.2 216.8L147 221.3M149.8 215.1L151.6 219.6"/><path class="k25" d="M154.4 213.4L159 211.7L163.5 210L168.1 208.4L172.7 206.8L177.3 205.3L181.8 203.7M154.4 213.4L156.2 217.9M159 211.7L160.8 216.3M163.5 210L165.3 214.6M168.1 208.4L169.9 213M172.7 206.8L174.5 211.4M177.3 205.3L179.1 209.9"/><path class="k26" d="M181.8 203.7L186.4 202.2L191 200.6L195.6 199.1L200.1 197.7L204.7 196.2L209.3 194.7L213.9 193.3M181.8 203.7L183.6 208.3M186.4 202.2L188.2 206.8M191 200.6L192.8 205.3M195.6 199.1L197.4 203.8M200.1 197.7L201.9 202.3M204.7 196.2L206.5 200.8M209.3 194.7L211.1 199.4"/><path class="k27" d="M213.9 193.3L218.4 191.9L223 190.5L227.6 189.1L232.2 187.7L236.7 186.3L241.3 184.9L245.9 183.5L250.5 182.2L255 180.8L259.6 179.5L264.2 178.2L268.8 176.9L273.3 175.5L277.9 174.2L282.5 172.9M213.9 193.3L215.7 197.9M218.4 191.9L220.2 196.5M223 190.5L224.8 195.1M227.6 189.1L229.4 193.7M232.2 187.7L234 192.3M236.7 186.3L238.5 190.9M241.3 184.9L243.1 189.6M245.9 183.5L247.7 188.2M250.5 182.2L252.3 186.8M255 180.8L256.8 185.5M259.6 179.5L261.4 184.2M264.2 178.2L266 182.8M268.8 176.9L270.6 181.5M273.3 175.5L275.1 180.2M277.9 174.2L279.7 178.9"/><path class="k28" d="M282.5 172.9L287.1 171.6L291.6 170.3L296.2 169L300.8 167.7L305.4 166.5L309.9 165.2L314.5 163.9L319.1 162.7L323.7 161.4L328.2 160.1L332.8 158.9L337.4 157.6L342 156.4L346.5 155.1L351.1 153.9L355.7 152.6L360.3 151.4L364.8 150.2L369.4 148.9L374 147.7L378.6 146.4L383.1 145.2M282.5 172.9L284.3 177.6M287.1 171.6L288.9 176.3M291.6 170.3L293.4 175M296.2 169L298 173.7M300.8 167.7L302.6 172.4M305.4 166.5L307.2 171.1M309.9 165.2L311.7 169.9M314.5 163.9L316.3 168.6M319.1 162.7L320.9 167.3M323.7 161.4L325.5 166.1M328.2 160.1L330 164.8M332.8 158.9L334.6 163.5M337.4 157.6L339.2 162.3M342 156.4L343.8 161M346.5 155.1L348.3 159.8M351.1 153.9L352.9 158.5M355.7 152.6L357.5 157.3M360.3 151.4L362.1 156.1M364.8 150.2L366.6 154.8M369.4 148.9L371.2 153.6M374 147.7L375.8 152.4M378.6 146.4L380.4 151.1M383.1 145.2L384.9 149.9"/><path class="w" d="M115 243.4L119.6 235.3L124.2 229.7L128.7 227.9L133.3 226.5L137.9 224.8L142.5 223.1L147 221.3L151.6 219.6L156.2 217.9L160.8 216.3L165.3 214.6L169.9 213L174.5 211.4L179.1 209.9L183.6 208.3L188.2 206.8L192.8 205.3L197.4 203.8L201.9 202.3L206.5 200.8L211.1 199.4L215.7 197.9L220.2 196.5L224.8 195.1L229.4 193.7L234 192.3L238.5 190.9L243.1 189.6L247.7 188.2L252.3 186.8L256.8 185.5L261.4 184.2L266 182.8L270.6 181.5L275.1 180.2L279.7 178.9L284.3 177.6L288.9 176.3L293.4 175L298 173.7L302.6 172.4L307.2 171.1L311.7 169.9L316.3 168.6L320.9 167.3L325.5 166.1L330 164.8L334.6 163.5L339.2 162.3L343.8 161L348.3 159.8L352.9 158.5L357.5 157.3L362.1 156.1L366.6 154.8L371.2 153.6L375.8 152.4L380.4 151.1L384.9 149.9L386.7 154.4L382.2 155.6L377.6 156.9L373 158.1L368.4 159.4L363.9 160.6L359.3 161.8L354.7 163.1L350.1 164.3L345.6 165.6L341 166.8L336.4 168.1L331.8 169.3L327.2 170.6L322.7 171.8L318.1 173.1L313.5 174.4L308.9 175.7L304.4 176.9L299.8 178.2L295.2 179.5L290.6 180.8L286.1 182.1L281.5 183.4L276.9 184.7L272.4 186L267.8 187.3L263.2 188.7L258.6 190L254.1 191.3L249.5 192.7L244.9 194.1L240.3 195.4L235.8 196.8L231.2 198.2L226.6 199.6L222 201L217.4 202.4L212.9 203.8L208.3 205.3L203.7 206.8L199.2 208.2L194.6 209.7L190 211.2L185.4 212.7L180.8 214.3L176.3 215.9L171.7 217.4L167.1 219L162.6 220.7L158 222.3L153.4 224L148.8 225.7L144.2 227.4L139.7 229.2L135.1 230.8L130.5 232.3L126 234.1L121.4 239.8L116.8 247.9z"/><path class="k17" d="M115 243.4L119.6 235.3M115 243.4L116.8 247.9"/><path class="k20" d="M119.6 235.3L124.2 229.7M119.6 235.3L121.4 239.8"/><path class="k22" d="M124.2 229.7L128.7 227.9L133.3 226.5L137.9 224.8L142.5 223.1L147 221.3M124.2 229.7L126 234.1M128.7 227.9L130.5 232.3M133.3 226.5L135.1 230.8M137.9 224.8L139.7 229.2M142.5 223.1L144.2 227.4"/><path class="k23" d="M147 221.3L151.6 219.6L156.2 217.9L160.8 216.3L165.3 214.6M147 221.3L148.8 225.7M151.6 219.6L153.4 224M156.2 217.9L158 222.3M160.8 216.3L162.6 220.7"/><path class="k24" d="M165.3 214.6L169.9 213L174.5 211.4L179.1 209.9L183.6 208.3L188.2 206.8L192.8 205.3L197.4 203.8M165.3 214.6L167.1 219M169.9 213L171.7 217.4M174.5 211.4L176.3 215.9M179.1 209.9L180.8 214.3M183.6 208.3L185.4 212.7M188.2 206.8L190 211.2M192.8 205.3L194.6 209.7"/><path class="k25" d="M197.4 203.8L201.9 202.3L206.5 200.8L211.1 199.4L215.7 197.9L220.2 196.5L224.8 195.1L229.4 193.7L234 192.3L238.5 190.9L243.1 189.6M197.4 203.8L199.2 208.2M201.9 202.3L203.7 206.8M206.5 200.8L208.3 205.3M211.1 199.4L212.9 203.8M215.7 197.9L217.4 202.4M220.2 196.5L222 201M224.8 195.1L226.6 199.6M229.4 193.7L231.2 198.2M234 192.3L235.8 196.8M238.5 190.9L240.3 195.4"/><path class="k26" d="M243.1 189.6L247.7 188.2L252.3 186.8L256.8 185.5L261.4 184.2L266 182.8L270.6 181.5L275.1 180.2L279.7 178.9L284.3 177.6L288.9 176.3L293.4 175L298 173.7L302.6 172.4L307.2 171.1L311.7 169.9L316.3 168.6L320.9 167.3L325.5 166.1L330 164.8L334.6 163.5L339.2 162.3L343.8 161L348.3 159.8L352.9 158.5M243.1 189.6L244.9 194.1M247.7 188.2L249.5 192.7M252.3 186.8L254.1 191.3M256.8 185.5L258.6 190M261.4 184.2L263.2 188.7M266 182.8L267.8 187.3M270.6 181.5L272.4 186M275.1 180.2L276.9 184.7M279.7 178.9L281.5 183.4M284.3 177.6L286.1 182.1M288.9 176.3L290.6 180.8M293.4 175L295.2 179.5M298 173.7L299.8 178.2M302.6 172.4L304.4 176.9M307.2 171.1L308.9 175.7M311.7 169.9L313.5 174.4M316.3 168.6L318.1 173.1M320.9 167.3L322.7 171.8M325.5 166.1L327.2 170.6M330 164.8L331.8 169.3M334.6 163.5L336.4 168.1M339.2 162.3L341 166.8M343.8 161L345.6 165.6M348.3 159.8L350.1 164.3"/><path class="k27" d="M352.9 158.5L357.5 157.3L362.1 156.1L366.6 154.8L371.2 153.6L375.8 152.4L380.4 151.1L384.9 149.9M352.9 158.5L354.7 163.1M357.5 157.3L359.3 161.8M362.1 156.1L363.9 160.6M366.6 154.8L368.4 159.4M371.2 153.6L373 158.1M375.8 152.4L377.6 156.9M380.4 151.1L382.2 155.6M384.9 149.9L386.7 154.4"/><path class="w" d="M116.8 247.9L121.4 239.8L126 234.1L130.5 232.3L135.1 230.8L139.7 229.2L144.2 227.4L148.8 225.7L153.4 224L158 222.3L162.6 220.7L167.1 219L171.7 217.4L176.3 215.9L180.8 214.3L185.4 212.7L190 211.2L194.6 209.7L199.2 208.2L203.7 206.8L208.3 205.3L212.9 203.8L217.4 202.4L222 201L226.6 199.6L231.2 198.2L235.8 196.8L240.3 195.4L244.9 194.1L249.5 192.7L254.1 191.3L258.6 190L263.2 188.7L267.8 187.3L272.4 186L276.9 184.7L281.5 183.4L286.1 182.1L290.6 180.8L295.2 179.5L299.8 178.2L304.4 176.9L308.9 175.7L313.5 174.4L318.1 173.1L322.7 171.8L327.2 170.6L331.8 169.3L336.4 168.1L341 166.8L345.6 165.6L350.1 164.3L354.7 163.1L359.3 161.8L363.9 160.6L368.4 159.4L373 158.1L377.6 156.9L382.2 155.6L386.7 154.4L388.5 158.8L383.9 160L379.4 161.3L374.8 162.5L370.2 163.7L365.6 165L361.1 166.2L356.5 167.4L351.9 168.7L347.3 169.9L342.8 171.2L338.2 172.4L333.6 173.7L329 175L324.5 176.2L319.9 177.5L315.3 178.7L310.7 180L306.2 181.3L301.6 182.6L297 183.9L292.4 185.2L287.9 186.5L283.3 187.8L278.7 189.1L274.1 190.4L269.6 191.7L265 193L260.4 194.4L255.8 195.7L251.3 197L246.7 198.4L242.1 199.8L237.5 201.1L233 202.5L228.4 203.9L223.8 205.3L219.2 206.7L214.7 208.2L210.1 209.6L205.5 211.1L200.9 212.5L196.4 214L191.8 215.5L187.2 217L182.6 218.6L178.1 220.1L173.5 221.7L168.9 223.3L164.3 224.9L159.8 226.5L155.2 228.2L150.6 229.9L146 231.6L141.5 233.3L136.9 235L132.3 236.4L127.7 238.3L123.2 244.1L118.6 252.1z"/><path class="k15" d="M116.8 247.9L121.4 239.8M116.8 247.9L118.6 252.1"/><path class="k18" d="M121.4 239.8L126 234.1M121.4 239.8L123.2 244.1"/><path class="k20" d="M126 234.1L130.5 232.3M126 234.1L127.7 238.3"/><path class="k21" d="M130.5 232.3L135.1 230.8L139.7 229.2L144.2 227.4L148.8 225.7L153.4 224L158 222.3M130.5 232.3L132.3 236.4M135.1 230.8L136.9 235M139.7 229.2L141.5 233.3M144.2 227.4L146 231.6M148.8 225.7L150.6 229.9M153.4 224L155.2 228.2"/><path class="k22" d="M158 222.3L162.6 220.7L167.1 219L171.7 217.4L176.3 215.9L180.8 214.3M158 222.3L159.8 226.5M162.6 220.7L164.3 224.9M167.1 219L168.9 223.3M171.7 217.4L173.5 221.7M176.3 215.9L178.1 220.1"/><path class="k23" d="M180.8 214.3L185.4 212.7L190 211.2L194.6 209.7L199.2 208.2L203.7 206.8L208.3 205.3L212.9 203.8L217.4 202.4M180.8 214.3L182.6 218.6M185.4 212.7L187.2 217M190 211.2L191.8 215.5M194.6 209.7L196.4 214M199.2 208.2L200.9 212.5M203.7 206.8L205.5 211.1M208.3 205.3L210.1 209.6M212.9 203.8L214.7 208.2"/><path class="k24" d="M217.4 202.4L222 201L226.6 199.6L231.2 198.2L235.8 196.8L240.3 195.4L244.9 194.1L249.5 192.7L254.1 191.3L258.6 190L263.2 188.7L267.8 187.3L272.4 186L276.9 184.7M217.4 202.4L219.2 206.7M222 201L223.8 205.3M226.6 199.6L228.4 203.9M231.2 198.2L233 202.5M235.8 196.8L237.5 201.1M240.3 195.4L242.1 199.8M244.9 194.1L246.7 198.4M249.5 192.7L251.3 197M254.1 191.3L255.8 195.7M258.6 190L260.4 194.4M263.2 188.7L265 193M267.8 187.3L269.6 191.7M272.4 186L274.1 190.4"/><path class="k25" d="M276.9 184.7L281.5 183.4L286.1 182.1L290.6 180.8L295.2 179.5L299.8 178.2L304.4 176.9L308.9 175.7L313.5 174.4L318.1 173.1L322.7 171.8L327.2 170.6L331.8 169.3L336.4 168.1L341 166.8L345.6 165.6L350.1 164.3L354.7 163.1L359.3 161.8L363.9 160.6L368.4 159.4L373 158.1L377.6 156.9L382.2 155.6L386.7 154.4M276.9 184.7L278.7 189.1M281.5 183.4L283.3 187.8M286.1 182.1L287.9 186.5M290.6 180.8L292.4 185.2M295.2 179.5L297 183.9M299.8 178.2L301.6 182.6M304.4 176.9L306.2 181.3M308.9 175.7L310.7 180M313.5 174.4L315.3 178.7M318.1 173.1L319.9 177.5M322.7 171.8L324.5 176.2M327.2 170.6L329 175M331.8 169.3L333.6 173.7M336.4 168.1L338.2 172.4M341 166.8L342.8 171.2M345.6 165.6L347.3 169.9M350.1 164.3L351.9 168.7M354.7 163.1L356.5 167.4M359.3 161.8L361.1 166.2M363.9 160.6L365.6 165M368.4 159.4L370.2 163.7M373 158.1L374.8 162.5M377.6 156.9L379.4 161.3M382.2 155.6L383.9 160M386.7 154.4L388.5 158.8"/><path class="w" d="M118.6 252.1L123.2 244.1L127.7 238.3L132.3 236.4L136.9 235L141.5 233.3L146 231.6L150.6 229.9L155.2 228.2L159.8 226.5L164.3 224.9L168.9 223.3L173.5 221.7L178.1 220.1L182.6 218.6L187.2 217L191.8 215.5L196.4 214L200.9 212.5L205.5 211.1L210.1 209.6L214.7 208.2L219.2 206.7L223.8 205.3L228.4 203.9L233 202.5L237.5 201.1L242.1 199.8L246.7 198.4L251.3 197L255.8 195.7L260.4 194.4L265 193L269.6 191.7L274.1 190.4L278.7 189.1L283.3 187.8L287.9 186.5L292.4 185.2L297 183.9L301.6 182.6L306.2 181.3L310.7 180L315.3 178.7L319.9 177.5L324.5 176.2L329 175L333.6 173.7L338.2 172.4L342.8 171.2L347.3 169.9L351.9 168.7L356.5 167.4L361.1 166.2L365.6 165L370.2 163.7L374.8 162.5L379.4 161.3L383.9 160L388.5 158.8L390.3 163L385.7 164.3L381.2 165.5L376.6 166.7L372 168L367.4 169.2L362.9 170.4L358.3 171.7L353.7 172.9L349.1 174.2L344.6 175.4L340 176.7L335.4 177.9L330.8 179.2L326.3 180.4L321.7 181.7L317.1 183L312.5 184.2L308 185.5L303.4 186.8L298.8 188.1L294.2 189.4L289.7 190.7L285.1 192L280.5 193.3L275.9 194.6L271.4 195.9L266.8 197.2L262.2 198.5L257.6 199.9L253.1 201.2L248.5 202.6L243.9 203.9L239.3 205.3L234.8 206.7L230.2 208.1L225.6 209.5L221 210.9L216.5 212.3L211.9 213.7L207.3 215.2L202.7 216.7L198.2 218.1L193.6 219.6L189 221.1L184.4 222.7L179.9 224.2L175.3 225.8L170.7 227.3L166.1 228.9L161.6 230.6L157 232.2L152.4 233.9L147.8 235.6L143.3 237.3L138.7 239L134.1 240.5L129.5 242.4L125 248.3L120.4 256.2z"/><path class="k14" d="M118.6 252.1L123.2 244.1M118.6 252.1L120.4 256.2"/><path class="k17" d="M123.2 244.1L127.7 238.3M123.2 244.1L125 248.3"/><path class="k19" d="M127.7 238.3L132.3 236.4L136.9 235L141.5 233.3L146 231.6M127.7 238.3L129.5 242.4M132.3 236.4L134.1 240.5M136.9 235L138.7 239M141.5 233.3L143.3 237.3"/><path class="k20" d="M146 231.6L150.6 229.9L155.2 228.2L159.8 226.5L164.3 224.9M146 231.6L147.8 235.6M150.6 229.9L152.4 233.9M155.2 228.2L157 232.2M159.8 226.5L161.6 230.6"/><path class="k21" d="M164.3 224.9L168.9 223.3L173.5 221.7L178.1 220.1L182.6 218.6L187.2 217L191.8 215.5M164.3 224.9L166.1 228.9M168.9 223.3L170.7 227.3M173.5 221.7L175.3 225.8M178.1 220.1L179.9 224.2M182.6 218.6L184.4 222.7M187.2 217L189 221.1"/><path class="k22" d="M191.8 215.5L196.4 214L200.9 212.5L205.5 211.1L210.1 209.6L214.7 208.2L219.2 206.7L223.8 205.3L228.4 203.9L233 202.5L237.5 201.1M191.8 215.5L193.6 219.6M196.4 214L198.2 218.1M200.9 212.5L202.7 216.7M205.5 211.1L207.3 215.2M210.1 209.6L211.9 213.7M214.7 208.2L216.5 212.3M219.2 206.7L221 210.9M223.8 205.3L225.6 209.5M228.4 203.9L230.2 208.1M233 202.5L234.8 206.7"/><path class="k23" d="M237.5 201.1L242.1 199.8L246.7 198.4L251.3 197L255.8 195.7L260.4 194.4L265 193L269.6 191.7L274.1 190.4L278.7 189.1L283.3 187.8L287.9 186.5L292.4 185.2L297 183.9L301.6 182.6L306.2 181.3L310.7 180L315.3 178.7L319.9 177.5L324.5 176.2M237.5 201.1L239.3 205.3M242.1 199.8L243.9 203.9M246.7 198.4L248.5 202.6M251.3 197L253.1 201.2M255.8 195.7L257.6 199.9M260.4 194.4L262.2 198.5M265 193L266.8 197.2M269.6 191.7L271.4 195.9M274.1 190.4L275.9 194.6M278.7 189.1L280.5 193.3M283.3 187.8L285.1 192M287.9 186.5L289.7 190.7M292.4 185.2L294.2 189.4M297 183.9L298.8 188.1M301.6 182.6L303.4 186.8M306.2 181.3L308 185.5M310.7 180L312.5 184.2M315.3 178.7L317.1 183M319.9 177.5L321.7 181.7"/><path class="k24" d="M324.5 176.2L329 175L333.6 173.7L338.2 172.4L342.8 171.2L347.3 169.9L351.9 168.7L356.5 167.4L361.1 166.2L365.6 165L370.2 163.7L374.8 162.5L379.4 161.3L383.9 160L388.5 158.8M324.5 176.2L326.3 180.4M329 175L330.8 179.2M333.6 173.7L335.4 177.9M338.2 172.4L340 176.7M342.8 171.2L344.6 175.4M347.3 169.9L349.1 174.2M351.9 168.7L353.7 172.9M356.5 167.4L358.3 171.7M361.1 166.2L362.9 170.4M365.6 165L367.4 169.2M370.2 163.7L372 168M374.8 162.5L376.6 166.7M379.4 161.3L381.2 165.5M383.9 160L385.7 164.3M388.5 158.8L390.3 163"/><path class="w" d="M120.4 256.2L125 248.3L129.5 242.4L134.1 240.5L138.7 239L143.3 237.3L147.8 235.6L152.4 233.9L157 232.2L161.6 230.6L166.1 228.9L170.7 227.3L175.3 225.8L179.9 224.2L184.4 222.7L189 221.1L193.6 219.6L198.2 218.1L202.7 216.7L207.3 215.2L211.9 213.7L216.5 212.3L221 210.9L225.6 209.5L230.2 208.1L234.8 206.7L239.3 205.3L243.9 203.9L248.5 202.6L253.1 201.2L257.6 199.9L262.2 198.5L266.8 197.2L271.4 195.9L275.9 194.6L280.5 193.3L285.1 192L289.7 190.7L294.2 189.4L298.8 188.1L303.4 186.8L308 185.5L312.5 184.2L317.1 183L321.7 181.7L326.3 180.4L330.8 179.2L335.4 177.9L340 176.7L344.6 175.4L349.1 174.2L353.7 172.9L358.3 171.7L362.9 170.4L367.4 169.2L372 168L376.6 166.7L381.2 165.5L385.7 164.3L390.3 163L392.1 167.1L387.5 168.3L382.9 169.6L378.4 170.8L373.8 172L369.2 173.3L364.6 174.5L360.1 175.7L355.5 177L350.9 178.2L346.3 179.5L341.8 180.7L337.2 182L332.6 183.2L328 184.5L323.5 185.8L318.9 187L314.3 188.3L309.7 189.6L305.2 190.8L300.6 192.1L296 193.4L291.4 194.7L286.9 196L282.3 197.3L277.7 198.6L273.1 199.9L268.6 201.2L264 202.6L259.4 203.9L254.8 205.2L250.3 206.6L245.7 208L241.1 209.3L236.5 210.7L232 212.1L227.4 213.5L222.8 214.9L218.2 216.3L213.7 217.7L209.1 219.2L204.5 220.6L199.9 222.1L195.4 223.6L190.8 225.1L186.2 226.6L181.6 228.1L177.1 229.7L172.5 231.3L167.9 232.9L163.3 234.5L158.8 236.1L154.2 237.8L149.6 239.5L145 241.2L140.5 242.9L135.9 244.4L131.3 246.5L126.7 252.4L122.2 260.1z"/><path class="k12" d="M120.4 256.2L125 248.3M120.4 256.2L122.2 260.1"/><path class="k15" d="M125 248.3L129.5 242.4M125 248.3L126.7 252.4"/><path class="k18" d="M129.5 242.4L134.1 240.5L138.7 239L143.3 237.3L147.8 235.6L152.4 233.9M129.5 242.4L131.3 246.5M134.1 240.5L135.9 244.4M138.7 239L140.5 242.9M143.3 237.3L145 241.2M147.8 235.6L149.6 239.5"/><path class="k19" d="M152.4 233.9L157 232.2L161.6 230.6L166.1 228.9L170.7 227.3L175.3 225.8M152.4 233.9L154.2 237.8M157 232.2L158.8 236.1M161.6 230.6L163.3 234.5M166.1 228.9L167.9 232.9M170.7 227.3L172.5 231.3"/><path class="k20" d="M175.3 225.8L179.9 224.2L184.4 222.7L189 221.1L193.6 219.6L198.2 218.1L202.7 216.7L207.3 215.2M175.3 225.8L177.1 229.7M179.9 224.2L181.6 228.1M184.4 222.7L186.2 226.6M189 221.1L190.8 225.1M193.6 219.6L195.4 223.6M198.2 218.1L199.9 222.1M202.7 216.7L204.5 220.6"/><path class="k21" d="M207.3 215.2L211.9 213.7L216.5 212.3L221 210.9L225.6 209.5L230.2 208.1L234.8 206.7L239.3 205.3L243.9 203.9L248.5 202.6L253.1 201.2L257.6 199.9M207.3 215.2L209.1 219.2M211.9 213.7L213.7 217.7M216.5 212.3L218.2 216.3M221 210.9L222.8 214.9M225.6 209.5L227.4 213.5M230.2 208.1L232 212.1M234.8 206.7L236.5 210.7M239.3 205.3L241.1 209.3M243.9 203.9L245.7 208M248.5 202.6L250.3 206.6M253.1 201.2L254.8 205.2"/><path class="k22" d="M257.6 199.9L262.2 198.5L266.8 197.2L271.4 195.9L275.9 194.6L280.5 193.3L285.1 192L289.7 190.7L294.2 189.4L298.8 188.1L303.4 186.8L308 185.5L312.5 184.2L317.1 183L321.7 181.7L326.3 180.4L330.8 179.2L335.4 177.9L340 176.7L344.6 175.4L349.1 174.2L353.7 172.9L358.3 171.7L362.9 170.4L367.4 169.2L372 168L376.6 166.7L381.2 165.5L385.7 164.3L390.3 163M257.6 199.9L259.4 203.9M262.2 198.5L264 202.6M266.8 197.2L268.6 201.2M271.4 195.9L273.1 199.9M275.9 194.6L277.7 198.6M280.5 193.3L282.3 197.3M285.1 192L286.9 196M289.7 190.7L291.4 194.7M294.2 189.4L296 193.4M298.8 188.1L300.6 192.1M303.4 186.8L305.2 190.8M308 185.5L309.7 189.6M312.5 184.2L314.3 188.3M317.1 183L318.9 187M321.7 181.7L323.5 185.8M326.3 180.4L328 184.5M330.8 179.2L332.6 183.2M335.4 177.9L337.2 182M340 176.7L341.8 180.7M344.6 175.4L346.3 179.5M349.1 174.2L350.9 178.2M353.7 172.9L355.5 177M358.3 171.7L360.1 175.7M362.9 170.4L364.6 174.5M367.4 169.2L369.2 173.3M372 168L373.8 172M376.6 166.7L378.4 170.8M381.2 165.5L382.9 169.6M385.7 164.3L387.5 168.3M390.3 163L392.1 167.1"/><path class="w" d="M122.2 260.1L126.7 252.4L131.3 246.5L135.9 244.4L140.5 242.9L145 241.2L149.6 239.5L154.2 237.8L158.8 236.1L163.3 234.5L167.9 232.9L172.5 231.3L177.1 229.7L181.6 228.1L186.2 226.6L190.8 225.1L195.4 223.6L199.9 222.1L204.5 220.6L209.1 219.2L213.7 217.7L218.2 216.3L222.8 214.9L227.4 213.5L232 212.1L236.5 210.7L241.1 209.3L245.7 208L250.3 206.6L254.8 205.2L259.4 203.9L264 202.6L268.6 201.2L273.1 199.9L277.7 198.6L282.3 197.3L286.9 196L291.4 194.7L296 193.4L300.6 192.1L305.2 190.8L309.7 189.6L314.3 188.3L318.9 187L323.5 185.8L328 184.5L332.6 183.2L337.2 182L341.8 180.7L346.3 179.5L350.9 178.2L355.5 177L360.1 175.7L364.6 174.5L369.2 173.3L373.8 172L378.4 170.8L382.9 169.6L387.5 168.3L392.1 167.1L393.9 171L389.3 172.3L384.7 173.5L380.2 174.7L375.6 176L371 177.2L366.4 178.4L361.9 179.7L357.3 180.9L352.7 182.1L348.1 183.4L343.6 184.6L339 185.9L334.4 187.2L329.8 188.4L325.3 189.7L320.7 190.9L316.1 192.2L311.5 193.5L307 194.8L302.4 196L297.8 197.3L293.2 198.6L288.7 199.9L284.1 201.2L279.5 202.5L274.9 203.8L270.4 205.1L265.8 206.5L261.2 207.8L256.6 209.1L252.1 210.5L247.5 211.8L242.9 213.2L238.3 214.6L233.8 215.9L229.2 217.3L224.6 218.7L220 220.1L215.5 221.6L210.9 223L206.3 224.5L201.7 225.9L197.2 227.4L192.6 228.9L188 230.4L183.4 232L178.9 233.5L174.3 235.1L169.7 236.7L165.1 238.3L160.6 240L156 241.7L151.4 243.4L146.8 245.1L142.3 246.7L137.7 248.3L133.1 250.4L128.5 256.3L124 263.8z"/><path class="k11" d="M122.2 260.1L126.7 252.4M122.2 260.1L124 263.8"/><path class="k14" d="M126.7 252.4L131.3 246.5M126.7 252.4L128.5 256.3"/><path class="k16" d="M131.3 246.5L135.9 244.4M131.3 246.5L133.1 250.4"/><path class="k17" d="M135.9 244.4L140.5 242.9L145 241.2L149.6 239.5L154.2 237.8L158.8 236.1M135.9 244.4L137.7 248.3M140.5 242.9L142.3 246.7M145 241.2L146.8 245.1M149.6 239.5L151.4 243.4M154.2 237.8L156 241.7"/><path class="k18" d="M158.8 236.1L163.3 234.5L167.9 232.9L172.5 231.3L177.1 229.7L181.6 228.1M158.8 236.1L160.6 240M163.3 234.5L165.1 238.3M167.9 232.9L169.7 236.7M172.5 231.3L174.3 235.1M177.1 229.7L178.9 233.5"/><path class="k19" d="M181.6 228.1L186.2 226.6L190.8 225.1L195.4 223.6L199.9 222.1L204.5 220.6L209.1 219.2L213.7 217.7L218.2 216.3M181.6 228.1L183.4 232M186.2 226.6L188 230.4M190.8 225.1L192.6 228.9M195.4 223.6L197.2 227.4M199.9 222.1L201.7 225.9M204.5 220.6L206.3 224.5M209.1 219.2L210.9 223M213.7 217.7L215.5 221.6"/><path class="k20" d="M218.2 216.3L222.8 214.9L227.4 213.5L232 212.1L236.5 210.7L241.1 209.3L245.7 208L250.3 206.6L254.8 205.2L259.4 203.9L264 202.6L268.6 201.2L273.1 199.9L277.7 198.6L282.3 197.3M218.2 216.3L220 220.1M222.8 214.9L224.6 218.7M227.4 213.5L229.2 217.3M232 212.1L233.8 215.9M236.5 210.7L238.3 214.6M241.1 209.3L242.9 213.2M245.7 208L247.5 211.8M250.3 206.6L252.1 210.5M254.8 205.2L256.6 209.1M259.4 203.9L261.2 207.8M264 202.6L265.8 206.5M268.6 201.2L270.4 205.1M273.1 199.9L274.9 203.8M277.7 198.6L279.5 202.5"/><path class="k21" d="M282.3 197.3L286.9 196L291.4 194.7L296 193.4L300.6 192.1L305.2 190.8L309.7 189.6L314.3 188.3L318.9 187L323.5 185.8L328 184.5L332.6 183.2L337.2 182L341.8 180.7L346.3 179.5L350.9 178.2L355.5 177L360.1 175.7L364.6 174.5L369.2 173.3L373.8 172L378.4 170.8L382.9 169.6L387.5 168.3L392.1 167.1M282.3 197.3L284.1 201.2M286.9 196L288.7 199.9M291.4 194.7L293.2 198.6M296 193.4L297.8 197.3M300.6 192.1L302.4 196M305.2 190.8L307 194.8M309.7 189.6L311.5 193.5M314.3 188.3L316.1 192.2M318.9 187L320.7 190.9M323.5 185.8L325.3 189.7M328 184.5L329.8 188.4M332.6 183.2L334.4 187.2M337.2 182L339 185.9M341.8 180.7L343.6 184.6M346.3 179.5L348.1 183.4M350.9 178.2L352.7 182.1M355.5 177L357.3 180.9M360.1 175.7L361.9 179.7M364.6 174.5L366.4 178.4M369.2 173.3L371 177.2M373.8 172L375.6 176M378.4 170.8L380.2 174.7M382.9 169.6L384.7 173.5M387.5 168.3L389.3 172.3M392.1 167.1L393.9 171"/><path class="w" d="M124 263.8L128.5 256.3L133.1 250.4L137.7 248.3L142.3 246.7L146.8 245.1L151.4 243.4L156 241.7L160.6 240L165.1 238.3L169.7 236.7L174.3 235.1L178.9 233.5L183.4 232L188 230.4L192.6 228.9L197.2 227.4L201.7 225.9L206.3 224.5L210.9 223L215.5 221.6L220 220.1L224.6 218.7L229.2 217.3L233.8 215.9L238.3 214.6L242.9 213.2L247.5 211.8L252.1 210.5L256.6 209.1L261.2 207.8L265.8 206.5L270.4 205.1L274.9 203.8L279.5 202.5L284.1 201.2L288.7 199.9L293.2 198.6L297.8 197.3L302.4 196L307 194.8L311.5 193.5L316.1 192.2L320.7 190.9L325.3 189.7L329.8 188.4L334.4 187.2L339 185.9L343.6 184.6L348.1 183.4L352.7 182.1L357.3 180.9L361.9 179.7L366.4 178.4L371 177.2L375.6 176L380.2 174.7L384.7 173.5L389.3 172.3L393.9 171L395.7 174.8L391.1 176L386.5 177.3L381.9 178.5L377.4 179.7L372.8 181L368.2 182.2L363.6 183.4L359.1 184.7L354.5 185.9L349.9 187.2L345.4 188.4L340.8 189.7L336.2 190.9L331.6 192.2L327.1 193.4L322.5 194.7L317.9 196L313.3 197.2L308.8 198.5L304.2 199.8L299.6 201.1L295 202.4L290.5 203.7L285.9 205L281.3 206.3L276.7 207.6L272.1 208.9L267.6 210.2L263 211.6L258.4 212.9L253.8 214.2L249.3 215.6L244.7 217L240.1 218.3L235.6 219.7L231 221.1L226.4 222.5L221.8 223.9L217.2 225.4L212.7 226.8L208.1 228.2L203.5 229.7L198.9 231.2L194.4 232.7L189.8 234.2L185.2 235.8L180.7 237.3L176.1 238.9L171.5 240.5L166.9 242.1L162.3 243.7L157.8 245.4L153.2 247.1L148.6 248.8L144.1 250.5L139.5 252.1L134.9 254.2L130.3 260.1L125.8 267.3z"/><path class="k10" d="M124 263.8L128.5 256.3M124 263.8L125.8 267.3"/><path class="k13" d="M128.5 256.3L133.1 250.4M128.5 256.3L130.3 260.1"/><path class="k15" d="M133.1 250.4L137.7 248.3L142.3 246.7M133.1 250.4L134.9 254.2M137.7 248.3L139.5 252.1"/><path class="k16" d="M142.3 246.7L146.8 245.1L151.4 243.4L156 241.7L160.6 240L165.1 238.3M142.3 246.7L144.1 250.5M146.8 245.1L148.6 248.8M151.4 243.4L153.2 247.1M156 241.7L157.8 245.4M160.6 240L162.3 243.7"/><path class="k17" d="M165.1 238.3L169.7 236.7L174.3 235.1L178.9 233.5L183.4 232L188 230.4L192.6 228.9M165.1 238.3L166.9 242.1M169.7 236.7L171.5 240.5M174.3 235.1L176.1 238.9M178.9 233.5L180.7 237.3M183.4 232L185.2 235.8M188 230.4L189.8 234.2"/><path class="k18" d="M192.6 228.9L197.2 227.4L201.7 225.9L206.3 224.5L210.9 223L215.5 221.6L220 220.1L224.6 218.7L229.2 217.3M192.6 228.9L194.4 232.7M197.2 227.4L198.9 231.2M201.7 225.9L203.5 229.7M206.3 224.5L208.1 228.2M210.9 223L212.7 226.8M215.5 221.6L217.2 225.4M220 220.1L221.8 223.9M224.6 218.7L226.4 222.5"/><path class="k19" d="M229.2 217.3L233.8 215.9L238.3 214.6L242.9 213.2L247.5 211.8L252.1 210.5L256.6 209.1L261.2 207.8L265.8 206.5L270.4 205.1L274.9 203.8L279.5 202.5L284.1 201.2L288.7 199.9L293.2 198.6L297.8 197.3L302.4 196L307 194.8M229.2 217.3L231 221.1M233.8 215.9L235.6 219.7M238.3 214.6L240.1 218.3M242.9 213.2L244.7 217M247.5 211.8L249.3 215.6M252.1 210.5L253.8 214.2M256.6 209.1L258.4 212.9M261.2 207.8L263 211.6M265.8 206.5L267.6 210.2M270.4 205.1L272.1 208.9M274.9 203.8L276.7 207.6M279.5 202.5L281.3 206.3M284.1 201.2L285.9 205M288.7 199.9L290.5 203.7M293.2 198.6L295 202.4M297.8 197.3L299.6 201.1M302.4 196L304.2 199.8"/><path class="k20" d="M307 194.8L311.5 193.5L316.1 192.2L320.7 190.9L325.3 189.7L329.8 188.4L334.4 187.2L339 185.9L343.6 184.6L348.1 183.4L352.7 182.1L357.3 180.9L361.9 179.7L366.4 178.4L371 177.2L375.6 176L380.2 174.7L384.7 173.5L389.3 172.3L393.9 171M307 194.8L308.8 198.5M311.5 193.5L313.3 197.2M316.1 192.2L317.9 196M320.7 190.9L322.5 194.7M325.3 189.7L327.1 193.4M329.8 188.4L331.6 192.2M334.4 187.2L336.2 190.9M339 185.9L340.8 189.7M343.6 184.6L345.4 188.4M348.1 183.4L349.9 187.2M352.7 182.1L354.5 185.9M357.3 180.9L359.1 184.7M361.9 179.7L363.6 183.4M366.4 178.4L368.2 182.2M371 177.2L372.8 181M375.6 176L377.4 179.7M380.2 174.7L381.9 178.5M384.7 173.5L386.5 177.3M389.3 172.3L391.1 176M393.9 171L395.7 174.8"/><path class="w" d="M125.8 267.3L130.3 260.1L134.9 254.2L139.5 252.1L144.1 250.5L148.6 248.8L153.2 247.1L157.8 245.4L162.3 243.7L166.9 242.1L171.5 240.5L176.1 238.9L180.7 237.3L185.2 235.8L189.8 234.2L194.4 232.7L198.9 231.2L203.5 229.7L208.1 228.2L212.7 226.8L217.2 225.4L221.8 223.9L226.4 222.5L231 221.1L235.6 219.7L240.1 218.3L244.7 217L249.3 215.6L253.8 214.2L258.4 212.9L263 211.6L267.6 210.2L272.1 208.9L276.7 207.6L281.3 206.3L285.9 205L290.5 203.7L295 202.4L299.6 201.1L304.2 199.8L308.8 198.5L313.3 197.2L317.9 196L322.5 194.7L327.1 193.4L331.6 192.2L336.2 190.9L340.8 189.7L345.4 188.4L349.9 187.2L354.5 185.9L359.1 184.7L363.6 183.4L368.2 182.2L372.8 181L377.4 179.7L381.9 178.5L386.5 177.3L391.1 176L395.7 174.8L397.5 178.5L392.9 179.7L388.3 181L383.7 182.2L379.2 183.4L374.6 184.7L370 185.9L365.4 187.2L360.9 188.4L356.3 189.6L351.7 190.9L347.1 192.1L342.6 193.4L338 194.6L333.4 195.9L328.8 197.2L324.3 198.4L319.7 199.7L315.1 201L310.5 202.2L306 203.5L301.4 204.8L296.8 206.1L292.2 207.4L287.7 208.7L283.1 210L278.5 211.3L273.9 212.6L269.4 213.9L264.8 215.3L260.2 216.6L255.6 218L251.1 219.3L246.5 220.7L241.9 222L237.3 223.4L232.8 224.8L228.2 226.2L223.6 227.6L219 229.1L214.5 230.5L209.9 232L205.3 233.4L200.7 234.9L196.2 236.4L191.6 237.9L187 239.5L182.4 241L177.9 242.6L173.3 244.2L168.7 245.8L164.1 247.4L159.6 249.1L155 250.8L150.4 252.5L145.8 254.1L141.3 255.7L136.7 257.9L132.1 263.7L127.5 270.5z"/><path class="k9" d="M125.8 267.3L130.3 260.1M125.8 267.3L127.5 270.5"/><path class="k12" d="M130.3 260.1L134.9 254.2M130.3 260.1L132.1 263.7"/><path class="k14" d="M134.9 254.2L139.5 252.1L144.1 250.5L148.6 248.8M134.9 254.2L136.7 257.9M139.5 252.1L141.3 255.7M144.1 250.5L145.8 254.1"/><path class="k15" d="M148.6 248.8L153.2 247.1L157.8 245.4L162.3 243.7L166.9 242.1L171.5 240.5M148.6 248.8L150.4 252.5M153.2 247.1L155 250.8M157.8 245.4L159.6 249.1M162.3 243.7L164.1 247.4M166.9 242.1L168.7 245.8"/><path class="k16" d="M171.5 240.5L176.1 238.9L180.7 237.3L185.2 235.8L189.8 234.2L194.4 232.7L198.9 231.2M171.5 240.5L173.3 244.2M176.1 238.9L177.9 242.6M180.7 237.3L182.4 241M185.2 235.8L187 239.5M189.8 234.2L191.6 237.9M194.4 232.7L196.2 236.4"/><path class="k17" d="M198.9 231.2L203.5 229.7L208.1 228.2L212.7 226.8L217.2 225.4L221.8 223.9L226.4 222.5L231 221.1L235.6 219.7L240.1 218.3M198.9 231.2L200.7 234.9M203.5 229.7L205.3 233.4M208.1 228.2L209.9 232M212.7 226.8L214.5 230.5M217.2 225.4L219 229.1M221.8 223.9L223.6 227.6M226.4 222.5L228.2 226.2M231 221.1L232.8 224.8M235.6 219.7L237.3 223.4"/><path class="k18" d="M240.1 218.3L244.7 217L249.3 215.6L253.8 214.2L258.4 212.9L263 211.6L267.6 210.2L272.1 208.9L276.7 207.6L281.3 206.3L285.9 205L290.5 203.7L295 202.4L299.6 201.1L304.2 199.8L308.8 198.5L313.3 197.2L317.9 196L322.5 194.7L327.1 193.4L331.6 192.2M240.1 218.3L241.9 222M244.7 217L246.5 220.7M249.3 215.6L251.1 219.3M253.8 214.2L255.6 218M258.4 212.9L260.2 216.6M263 211.6L264.8 215.3M267.6 210.2L269.4 213.9M272.1 208.9L273.9 212.6M276.7 207.6L278.5 211.3M281.3 206.3L283.1 210M285.9 205L287.7 208.7M290.5 203.7L292.2 207.4M295 202.4L296.8 206.1M299.6 201.1L301.4 204.8M304.2 199.8L306 203.5M308.8 198.5L310.5 202.2M313.3 197.2L315.1 201M317.9 196L319.7 199.7M322.5 194.7L324.3 198.4M327.1 193.4L328.8 197.2"/><path class="k19" d="M331.6 192.2L336.2 190.9L340.8 189.7L345.4 188.4L349.9 187.2L354.5 185.9L359.1 184.7L363.6 183.4L368.2 182.2L372.8 181L377.4 179.7L381.9 178.5L386.5 177.3L391.1 176L395.7 174.8M331.6 192.2L333.4 195.9M336.2 190.9L338 194.6M340.8 189.7L342.6 193.4M345.4 188.4L347.1 192.1M349.9 187.2L351.7 190.9M354.5 185.9L356.3 189.6M359.1 184.7L360.9 188.4M363.6 183.4L365.4 187.2M368.2 182.2L370 185.9M372.8 181L374.6 184.7M377.4 179.7L379.2 183.4M381.9 178.5L383.7 182.2M386.5 177.3L388.3 181M391.1 176L392.9 179.7M395.7 174.8L397.5 178.5"/><path class="w" d="M127.5 270.5L132.1 263.7L136.7 257.9L141.3 255.7L145.8 254.1L150.4 252.5L155 250.8L159.6 249.1L164.1 247.4L168.7 245.8L173.3 244.2L177.9 242.6L182.4 241L187 239.5L191.6 237.9L196.2 236.4L200.7 234.9L205.3 233.4L209.9 232L214.5 230.5L219 229.1L223.6 227.6L228.2 226.2L232.8 224.8L237.3 223.4L241.9 222L246.5 220.7L251.1 219.3L255.6 218L260.2 216.6L264.8 215.3L269.4 213.9L273.9 212.6L278.5 211.3L283.1 210L287.7 208.7L292.2 207.4L296.8 206.1L301.4 204.8L306 203.5L310.5 202.2L315.1 201L319.7 199.7L324.3 198.4L328.8 197.2L333.4 195.9L338 194.6L342.6 193.4L347.1 192.1L351.7 190.9L356.3 189.6L360.9 188.4L365.4 187.2L370 185.9L374.6 184.7L379.2 183.4L383.7 182.2L388.3 181L392.9 179.7L397.5 178.5L399.3 182.2L394.7 183.4L390.1 184.6L385.5 185.9L381 187.1L376.4 188.3L371.8 189.6L367.2 190.8L362.7 192L358.1 193.3L353.5 194.5L348.9 195.8L344.4 197L339.8 198.3L335.2 199.5L330.6 200.8L326.1 202.1L321.5 203.3L316.9 204.6L312.3 205.9L307.8 207.2L303.2 208.4L298.6 209.7L294 211L289.5 212.3L284.9 213.6L280.3 214.9L275.7 216.3L271.2 217.6L266.6 218.9L262 220.3L257.4 221.6L252.9 223L248.3 224.3L243.7 225.7L239.1 227.1L234.6 228.5L230 229.9L225.4 231.3L220.8 232.7L216.3 234.1L211.7 235.6L207.1 237L202.5 238.5L198 240L193.4 241.5L188.8 243.1L184.2 244.6L179.7 246.2L175.1 247.7L170.5 249.3L165.9 251L161.4 252.6L156.8 254.3L152.2 256L147.6 257.6L143.1 259.2L138.5 261.5L133.9 267.1L129.3 273.6z"/><path class="k8" d="M127.5 270.5L132.1 263.7M127.5 270.5L129.3 273.6"/><path class="k10" d="M132.1 263.7L136.7 257.9M132.1 263.7L133.9 267.1"/><path class="k13" d="M136.7 257.9L141.3 255.7L145.8 254.1L150.4 252.5L155 250.8M136.7 257.9L138.5 261.5M141.3 255.7L143.1 259.2M145.8 254.1L147.6 257.6M150.4 252.5L152.2 256"/><path class="k14" d="M155 250.8L159.6 249.1L164.1 247.4L168.7 245.8L173.3 244.2L177.9 242.6M155 250.8L156.8 254.3M159.6 249.1L161.4 252.6M164.1 247.4L165.9 251M168.7 245.8L170.5 249.3M173.3 244.2L175.1 247.7"/><path class="k15" d="M177.9 242.6L182.4 241L187 239.5L191.6 237.9L196.2 236.4L200.7 234.9L205.3 233.4M177.9 242.6L179.7 246.2M182.4 241L184.2 244.6M187 239.5L188.8 243.1M191.6 237.9L193.4 241.5M196.2 236.4L198 240M200.7 234.9L202.5 238.5"/><path class="k16" d="M205.3 233.4L209.9 232L214.5 230.5L219 229.1L223.6 227.6L228.2 226.2L232.8 224.8L237.3 223.4L241.9 222L246.5 220.7L251.1 219.3M205.3 233.4L207.1 237M209.9 232L211.7 235.6M214.5 230.5L216.3 234.1M219 229.1L220.8 232.7M223.6 227.6L225.4 231.3M228.2 226.2L230 229.9M232.8 224.8L234.6 228.5M237.3 223.4L239.1 227.1M241.9 222L243.7 225.7M246.5 220.7L248.3 224.3"/><path class="k17" d="M251.1 219.3L255.6 218L260.2 216.6L264.8 215.3L269.4 213.9L273.9 212.6L278.5 211.3L283.1 210L287.7 208.7L292.2 207.4L296.8 206.1L301.4 204.8L306 203.5L310.5 202.2L315.1 201L319.7 199.7L324.3 198.4L328.8 197.2L333.4 195.9L338 194.6L342.6 193.4L347.1 192.1L351.7 190.9L356.3 189.6L360.9 188.4M251.1 219.3L252.9 223M255.6 218L257.4 221.6M260.2 216.6L262 220.3M264.8 215.3L266.6 218.9M269.4 213.9L271.2 217.6M273.9 212.6L275.7 216.3M278.5 211.3L280.3 214.9M283.1 210L284.9 213.6M287.7 208.7L289.5 212.3M292.2 207.4L294 211M296.8 206.1L298.6 209.7M301.4 204.8L303.2 208.4M306 203.5L307.8 207.2M310.5 202.2L312.3 205.9M315.1 201L316.9 204.6M319.7 199.7L321.5 203.3M324.3 198.4L326.1 202.1M328.8 197.2L330.6 200.8M333.4 195.9L335.2 199.5M338 194.6L339.8 198.3M342.6 193.4L344.4 197M347.1 192.1L348.9 195.8M351.7 190.9L353.5 194.5M356.3 189.6L358.1 193.3"/><path class="k18" d="M360.9 188.4L365.4 187.2L370 185.9L374.6 184.7L379.2 183.4L383.7 182.2L388.3 181L392.9 179.7L397.5 178.5M360.9 188.4L362.7 192M365.4 187.2L367.2 190.8M370 185.9L371.8 189.6M374.6 184.7L376.4 188.3M379.2 183.4L381 187.1M383.7 182.2L385.5 185.9M388.3 181L390.1 184.6M392.9 179.7L394.7 183.4M397.5 178.5L399.3 182.2"/><path class="w" d="M129.3 273.6L133.9 267.1L138.5 261.5L143.1 259.2L147.6 257.6L152.2 256L156.8 254.3L161.4 252.6L165.9 251L170.5 249.3L175.1 247.7L179.7 246.2L184.2 244.6L188.8 243.1L193.4 241.5L198 240L202.5 238.5L207.1 237L211.7 235.6L216.3 234.1L220.8 232.7L225.4 231.3L230 229.9L234.6 228.5L239.1 227.1L243.7 225.7L248.3 224.3L252.9 223L257.4 221.6L262 220.3L266.6 218.9L271.2 217.6L275.7 216.3L280.3 214.9L284.9 213.6L289.5 212.3L294 211L298.6 209.7L303.2 208.4L307.8 207.2L312.3 205.9L316.9 204.6L321.5 203.3L326.1 202.1L330.6 200.8L335.2 199.5L339.8 198.3L344.4 197L348.9 195.8L353.5 194.5L358.1 193.3L362.7 192L367.2 190.8L371.8 189.6L376.4 188.3L381 187.1L385.5 185.9L390.1 184.6L394.7 183.4L399.3 182.2L401 185.7L396.5 187L391.9 188.2L387.3 189.4L382.7 190.7L378.2 191.9L373.6 193.1L369 194.4L364.4 195.6L359.9 196.9L355.3 198.1L350.7 199.4L346.1 200.6L341.6 201.9L337 203.1L332.4 204.4L327.8 205.6L323.3 206.9L318.7 208.2L314.1 209.5L309.5 210.7L305 212L300.4 213.3L295.8 214.6L291.2 215.9L286.7 217.2L282.1 218.5L277.5 219.8L272.9 221.1L268.4 222.5L263.8 223.8L259.2 225.2L254.6 226.5L250.1 227.9L245.5 229.2L240.9 230.6L236.3 232L231.8 233.4L227.2 234.8L222.6 236.2L218 237.7L213.5 239.1L208.9 240.6L204.3 242L199.7 243.5L195.2 245L190.6 246.5L186 248.1L181.4 249.6L176.9 251.2L172.3 252.8L167.7 254.4L163.1 256L158.6 257.7L154 259.4L149.4 261L144.8 262.6L140.3 264.9L135.7 270.3L131.1 276.4z"/><path class="k7" d="M129.3 273.6L133.9 267.1M129.3 273.6L131.1 276.4"/><path class="k9" d="M133.9 267.1L138.5 261.5M133.9 267.1L135.7 270.3"/><path class="k11" d="M138.5 261.5L143.1 259.2M138.5 261.5L140.3 264.9"/><path class="k12" d="M143.1 259.2L147.6 257.6L152.2 256L156.8 254.3M143.1 259.2L144.8 262.6M147.6 257.6L149.4 261M152.2 256L154 259.4"/><path class="k13" d="M156.8 254.3L161.4 252.6L165.9 251L170.5 249.3L175.1 247.7L179.7 246.2M156.8 254.3L158.6 257.7M161.4 252.6L163.1 256M165.9 251L167.7 254.4M170.5 249.3L172.3 252.8M175.1 247.7L176.9 251.2"/><path class="k14" d="M179.7 246.2L184.2 244.6L188.8 243.1L193.4 241.5L198 240L202.5 238.5L207.1 237L211.7 235.6M179.7 246.2L181.4 249.6M184.2 244.6L186 248.1M188.8 243.1L190.6 246.5M193.4 241.5L195.2 245M198 240L199.7 243.5M202.5 238.5L204.3 242M207.1 237L208.9 240.6"/><path class="k15" d="M211.7 235.6L216.3 234.1L220.8 232.7L225.4 231.3L230 229.9L234.6 228.5L239.1 227.1L243.7 225.7L248.3 224.3L252.9 223L257.4 221.6L262 220.3M211.7 235.6L213.5 239.1M216.3 234.1L218 237.7M220.8 232.7L222.6 236.2M225.4 231.3L227.2 234.8M230 229.9L231.8 233.4M234.6 228.5L236.3 232M239.1 227.1L240.9 230.6M243.7 225.7L245.5 229.2M248.3 224.3L250.1 227.9M252.9 223L254.6 226.5M257.4 221.6L259.2 225.2"/><path class="k16" d="M262 220.3L266.6 218.9L271.2 217.6L275.7 216.3L280.3 214.9L284.9 213.6L289.5 212.3L294 211L298.6 209.7L303.2 208.4L307.8 207.2L312.3 205.9L316.9 204.6L321.5 203.3L326.1 202.1L330.6 200.8L335.2 199.5L339.8 198.3L344.4 197L348.9 195.8L353.5 194.5L358.1 193.3L362.7 192L367.2 190.8L371.8 189.6L376.4 188.3L381 187.1L385.5 185.9L390.1 184.6L394.7 183.4M262 220.3L263.8 223.8M266.6 218.9L268.4 222.5M271.2 217.6L272.9 221.1M275.7 216.3L277.5 219.8M280.3 214.9L282.1 218.5M284.9 213.6L286.7 217.2M289.5 212.3L291.2 215.9M294 211L295.8 214.6M298.6 209.7L300.4 213.3M303.2 208.4L305 212M307.8 207.2L309.5 210.7M312.3 205.9L314.1 209.5M316.9 204.6L318.7 208.2M321.5 203.3L323.3 206.9M326.1 202.1L327.8 205.6M330.6 200.8L332.4 204.4M335.2 199.5L337 203.1M339.8 198.3L341.6 201.9M344.4 197L346.1 200.6M348.9 195.8L350.7 199.4M353.5 194.5L355.3 198.1M358.1 193.3L359.9 196.9M362.7 192L364.4 195.6M367.2 190.8L369 194.4M371.8 189.6L373.6 193.1M376.4 188.3L378.2 191.9M381 187.1L382.7 190.7M385.5 185.9L387.3 189.4M390.1 184.6L391.9 188.2"/><path class="k17" d="M394.7 183.4L399.3 182.2M394.7 183.4L396.5 187M399.3 182.2L401 185.7"/><path class="w" d="M131.1 276.4L135.7 270.3L140.3 264.9L144.8 262.6L149.4 261L154 259.4L158.6 257.7L163.1 256L167.7 254.4L172.3 252.8L176.9 251.2L181.4 249.6L186 248.1L190.6 246.5L195.2 245L199.7 243.5L204.3 242L208.9 240.6L213.5 239.1L218 237.7L222.6 236.2L227.2 234.8L231.8 233.4L236.3 232L240.9 230.6L245.5 229.2L250.1 227.9L254.6 226.5L259.2 225.2L263.8 223.8L268.4 222.5L272.9 221.1L277.5 219.8L282.1 218.5L286.7 217.2L291.2 215.9L295.8 214.6L300.4 213.3L305 212L309.5 210.7L314.1 209.5L318.7 208.2L323.3 206.9L327.8 205.6L332.4 204.4L337 203.1L341.6 201.9L346.1 200.6L350.7 199.4L355.3 198.1L359.9 196.9L364.4 195.6L369 194.4L373.6 193.1L378.2 191.9L382.7 190.7L387.3 189.4L391.9 188.2L396.5 187L401 185.7L402.8 189.2L398.3 190.5L393.7 191.7L389.1 192.9L384.5 194.2L380 195.4L375.4 196.6L370.8 197.9L366.2 199.1L361.7 200.3L357.1 201.6L352.5 202.8L347.9 204.1L343.4 205.3L338.8 206.6L334.2 207.9L329.6 209.1L325.1 210.4L320.5 211.7L315.9 212.9L311.3 214.2L306.8 215.5L302.2 216.8L297.6 218.1L293 219.4L288.5 220.7L283.9 222L279.3 223.3L274.7 224.6L270.2 225.9L265.6 227.3L261 228.6L256.4 230L251.9 231.3L247.3 232.7L242.7 234.1L238.1 235.4L233.6 236.8L229 238.2L224.4 239.7L219.8 241.1L215.3 242.5L210.7 244L206.1 245.4L201.5 246.9L197 248.4L192.4 249.9L187.8 251.4L183.2 253L178.7 254.5L174.1 256.1L169.5 257.7L164.9 259.3L160.4 261L155.8 262.6L151.2 264.3L146.6 265.9L142.1 268.1L137.5 273.3L132.9 279.1z"/><path class="k6" d="M131.1 276.4L135.7 270.3M131.1 276.4L132.9 279.1"/><path class="k8" d="M135.7 270.3L140.3 264.9M135.7 270.3L137.5 273.3"/><path class="k10" d="M140.3 264.9L144.8 262.6M140.3 264.9L142.1 268.1"/><path class="k11" d="M144.8 262.6L149.4 261L154 259.4L158.6 257.7L163.1 256M144.8 262.6L146.6 265.9M149.4 261L151.2 264.3M154 259.4L155.8 262.6M158.6 257.7L160.4 261"/><path class="k12" d="M163.1 256L167.7 254.4L172.3 252.8L176.9 251.2L181.4 249.6L186 248.1M163.1 256L164.9 259.3M167.7 254.4L169.5 257.7M172.3 252.8L174.1 256.1M176.9 251.2L178.7 254.5M181.4 249.6L183.2 253"/><path class="k13" d="M186 248.1L190.6 246.5L195.2 245L199.7 243.5L204.3 242L208.9 240.6L213.5 239.1L218 237.7M186 248.1L187.8 251.4M190.6 246.5L192.4 249.9M195.2 245L197 248.4M199.7 243.5L201.5 246.9M204.3 242L206.1 245.4M208.9 240.6L210.7 244M213.5 239.1L215.3 242.5"/><path class="k14" d="M218 237.7L222.6 236.2L227.2 234.8L231.8 233.4L236.3 232L240.9 230.6L245.5 229.2L250.1 227.9L254.6 226.5L259.2 225.2L263.8 223.8L268.4 222.5L272.9 221.1M218 237.7L219.8 241.1M222.6 236.2L224.4 239.7M227.2 234.8L229 238.2M231.8 233.4L233.6 236.8M236.3 232L238.1 235.4M240.9 230.6L242.7 234.1M245.5 229.2L247.3 232.7M250.1 227.9L251.9 231.3M254.6 226.5L256.4 230M259.2 225.2L261 228.6M263.8 223.8L265.6 227.3M268.4 222.5L270.2 225.9"/><path class="k15" d="M272.9 221.1L277.5 219.8L282.1 218.5L286.7 217.2L291.2 215.9L295.8 214.6L300.4 213.3L305 212L309.5 210.7L314.1 209.5L318.7 208.2L323.3 206.9L327.8 205.6L332.4 204.4L337 203.1L341.6 201.9L346.1 200.6L350.7 199.4L355.3 198.1L359.9 196.9L364.4 195.6L369 194.4L373.6 193.1L378.2 191.9L382.7 190.7L387.3 189.4L391.9 188.2L396.5 187L401 185.7M272.9 221.1L274.7 224.6M277.5 219.8L279.3 223.3M282.1 218.5L283.9 222M286.7 217.2L288.5 220.7M291.2 215.9L293 219.4M295.8 214.6L297.6 218.1M300.4 213.3L302.2 216.8M305 212L306.8 215.5M309.5 210.7L311.3 214.2M314.1 209.5L315.9 212.9M318.7 208.2L320.5 211.7M323.3 206.9L325.1 210.4M327.8 205.6L329.6 209.1M332.4 204.4L334.2 207.9M337 203.1L338.8 206.6M341.6 201.9L343.4 205.3M346.1 200.6L347.9 204.1M350.7 199.4L352.5 202.8M355.3 198.1L357.1 201.6M359.9 196.9L361.7 200.3M364.4 195.6L366.2 199.1M369 194.4L370.8 197.9M373.6 193.1L375.4 196.6M378.2 191.9L380 195.4M382.7 190.7L384.5 194.2M387.3 189.4L389.1 192.9M391.9 188.2L393.7 191.7M396.5 187L398.3 190.5M401 185.7L402.8 189.2"/><path class="w" d="M132.9 279.1L137.5 273.3L142.1 268.1L146.6 265.9L151.2 264.3L155.8 262.6L160.4 261L164.9 259.3L169.5 257.7L174.1 256.1L178.7 254.5L183.2 253L187.8 251.4L192.4 249.9L197 248.4L201.5 246.9L206.1 245.4L210.7 244L215.3 242.5L219.8 241.1L224.4 239.7L229 238.2L233.6 236.8L238.1 235.4L242.7 234.1L247.3 232.7L251.9 231.3L256.4 230L261 228.6L265.6 227.3L270.2 225.9L274.7 224.6L279.3 223.3L283.9 222L288.5 220.7L293 219.4L297.6 218.1L302.2 216.8L306.8 215.5L311.3 214.2L315.9 212.9L320.5 211.7L325.1 210.4L329.6 209.1L334.2 207.9L338.8 206.6L343.4 205.3L347.9 204.1L352.5 202.8L357.1 201.6L361.7 200.3L366.2 199.1L370.8 197.9L375.4 196.6L380 195.4L384.5 194.2L389.1 192.9L393.7 191.7L398.3 190.5L402.8 189.2L404.6 192.6L400.1 193.9L395.5 195.1L390.9 196.3L386.3 197.6L381.8 198.8L377.2 200L372.6 201.3L368 202.5L363.4 203.7L358.9 205L354.3 206.2L349.7 207.5L345.1 208.7L340.6 210L336 211.2L331.4 212.5L326.9 213.8L322.3 215L317.7 216.3L313.1 217.6L308.5 218.9L304 220.2L299.4 221.4L294.8 222.7L290.2 224L285.7 225.3L281.1 226.7L276.5 228L271.9 229.3L267.4 230.6L262.8 232L258.2 233.3L253.6 234.7L249.1 236L244.5 237.4L239.9 238.8L235.3 240.2L230.8 241.6L226.2 243L221.6 244.4L217.1 245.8L212.5 247.3L207.9 248.7L203.3 250.2L198.8 251.7L194.2 253.2L189.6 254.7L185 256.2L180.4 257.8L175.9 259.3L171.3 260.9L166.7 262.5L162.1 264.1L157.6 265.7L153 267.4L148.4 269L143.8 271.2L139.3 276.1L134.7 281.5z"/><path class="k5" d="M132.9 279.1L137.5 273.3M132.9 279.1L134.7 281.5"/><path class="k7" d="M137.5 273.3L142.1 268.1M137.5 273.3L139.3 276.1"/><path class="k9" d="M142.1 268.1L146.6 265.9M142.1 268.1L143.8 271.2"/><path class="k10" d="M146.6 265.9L151.2 264.3L155.8 262.6L160.4 261L164.9 259.3M146.6 265.9L148.4 269M151.2 264.3L153 267.4M155.8 262.6L157.6 265.7M160.4 261L162.1 264.1"/><path class="k11" d="M164.9 259.3L169.5 257.7L174.1 256.1L178.7 254.5L183.2 253L187.8 251.4M164.9 259.3L166.7 262.5M169.5 257.7L171.3 260.9M174.1 256.1L175.9 259.3M178.7 254.5L180.4 257.8M183.2 253L185 256.2"/><path class="k12" d="M187.8 251.4L192.4 249.9L197 248.4L201.5 246.9L206.1 245.4L210.7 244L215.3 242.5L219.8 241.1L224.4 239.7M187.8 251.4L189.6 254.7M192.4 249.9L194.2 253.2M197 248.4L198.8 251.7M201.5 246.9L203.3 250.2M206.1 245.4L207.9 248.7M210.7 244L212.5 247.3M215.3 242.5L217.1 245.8M219.8 241.1L221.6 244.4"/><path class="k13" d="M224.4 239.7L229 238.2L233.6 236.8L238.1 235.4L242.7 234.1L247.3 232.7L251.9 231.3L256.4 230L261 228.6L265.6 227.3L270.2 225.9L274.7 224.6L279.3 223.3M224.4 239.7L226.2 243M229 238.2L230.8 241.6M233.6 236.8L235.3 240.2M238.1 235.4L239.9 238.8M242.7 234.1L244.5 237.4M247.3 232.7L249.1 236M251.9 231.3L253.6 234.7M256.4 230L258.2 233.3M261 228.6L262.8 232M265.6 227.3L267.4 230.6M270.2 225.9L271.9 229.3M274.7 224.6L276.5 228"/><path class="k14" d="M279.3 223.3L283.9 222L288.5 220.7L293 219.4L297.6 218.1L302.2 216.8L306.8 215.5L311.3 214.2L315.9 212.9L320.5 211.7L325.1 210.4L329.6 209.1L334.2 207.9L338.8 206.6L343.4 205.3L347.9 204.1L352.5 202.8L357.1 201.6L361.7 200.3L366.2 199.1L370.8 197.9L375.4 196.6L380 195.4L384.5 194.2L389.1 192.9L393.7 191.7L398.3 190.5L402.8 189.2M279.3 223.3L281.1 226.7M283.9 222L285.7 225.3M288.5 220.7L290.2 224M293 219.4L294.8 222.7M297.6 218.1L299.4 221.4M302.2 216.8L304 220.2M306.8 215.5L308.5 218.9M311.3 214.2L313.1 217.6M315.9 212.9L317.7 216.3M320.5 211.7L322.3 215M325.1 210.4L326.9 213.8M329.6 209.1L331.4 212.5M334.2 207.9L336 211.2M338.8 206.6L340.6 210M343.4 205.3L345.1 208.7M347.9 204.1L349.7 207.5M352.5 202.8L354.3 206.2M357.1 201.6L358.9 205M361.7 200.3L363.4 203.7M366.2 199.1L368 202.5M370.8 197.9L372.6 201.3M375.4 196.6L377.2 200M380 195.4L381.8 198.8M384.5 194.2L386.3 197.6M389.1 192.9L390.9 196.3M393.7 191.7L395.5 195.1M398.3 190.5L400.1 193.9M402.8 189.2L404.6 192.6"/><path class="w" d="M134.7 281.5L139.3 276.1L143.8 271.2L148.4 269L153 267.4L157.6 265.7L162.1 264.1L166.7 262.5L171.3 260.9L175.9 259.3L180.4 257.8L185 256.2L189.6 254.7L194.2 253.2L198.8 251.7L203.3 250.2L207.9 248.7L212.5 247.3L217.1 245.8L221.6 244.4L226.2 243L230.8 241.6L235.3 240.2L239.9 238.8L244.5 237.4L249.1 236L253.6 234.7L258.2 233.3L262.8 232L267.4 230.6L271.9 229.3L276.5 228L281.1 226.7L285.7 225.3L290.2 224L294.8 222.7L299.4 221.4L304 220.2L308.5 218.9L313.1 217.6L317.7 216.3L322.3 215L326.9 213.8L331.4 212.5L336 211.2L340.6 210L345.1 208.7L349.7 207.5L354.3 206.2L358.9 205L363.4 203.7L368 202.5L372.6 201.3L377.2 200L381.8 198.8L386.3 197.6L390.9 196.3L395.5 195.1L400.1 193.9L404.6 192.6L406.4 195.9L401.8 197.2L397.3 198.4L392.7 199.6L388.1 200.9L383.5 202.1L379 203.3L374.4 204.6L369.8 205.8L365.2 207L360.7 208.3L356.1 209.5L351.5 210.8L346.9 212L342.4 213.3L337.8 214.5L333.2 215.8L328.6 217.1L324.1 218.3L319.5 219.6L314.9 220.9L310.3 222.1L305.8 223.4L301.2 224.7L296.6 226L292 227.3L287.5 228.6L282.9 229.9L278.3 231.2L273.7 232.5L269.2 233.9L264.6 235.2L260 236.5L255.4 237.9L250.9 239.2L246.3 240.6L241.7 242L237.1 243.4L232.6 244.8L228 246.2L223.4 247.6L218.8 249L214.3 250.4L209.7 251.9L205.1 253.3L200.5 254.8L196 256.3L191.4 257.8L186.8 259.3L182.2 260.8L177.7 262.4L173.1 263.9L168.5 265.5L163.9 267.1L159.4 268.7L154.8 270.3L150.2 271.9L145.6 274.1L141.1 278.8L136.5 283.9z"/><path class="k4" d="M134.7 281.5L139.3 276.1M134.7 281.5L136.5 283.9"/><path class="k6" d="M139.3 276.1L143.8 271.2M139.3 276.1L141.1 278.8"/><path class="k8" d="M143.8 271.2L148.4 269M143.8 271.2L145.6 274.1"/><path class="k9" d="M148.4 269L153 267.4L157.6 265.7L162.1 264.1L166.7 262.5M148.4 269L150.2 271.9M153 267.4L154.8 270.3M157.6 265.7L159.4 268.7M162.1 264.1L163.9 267.1"/><path class="k10" d="M166.7 262.5L171.3 260.9L175.9 259.3L180.4 257.8L185 256.2L189.6 254.7M166.7 262.5L168.5 265.5M171.3 260.9L173.1 263.9M175.9 259.3L177.7 262.4M180.4 257.8L182.2 260.8M185 256.2L186.8 259.3"/><path class="k11" d="M189.6 254.7L194.2 253.2L198.8 251.7L203.3 250.2L207.9 248.7L212.5 247.3L217.1 245.8L221.6 244.4L226.2 243M189.6 254.7L191.4 257.8M194.2 253.2L196 256.3M198.8 251.7L200.5 254.8M203.3 250.2L205.1 253.3M207.9 248.7L209.7 251.9M212.5 247.3L214.3 250.4M217.1 245.8L218.8 249M221.6 244.4L223.4 247.6"/><path class="k12" d="M226.2 243L230.8 241.6L235.3 240.2L239.9 238.8L244.5 237.4L249.1 236L253.6 234.7L258.2 233.3L262.8 232L267.4 230.6L271.9 229.3L276.5 228L281.1 226.7L285.7 225.3M226.2 243L228 246.2M230.8 241.6L232.6 244.8M235.3 240.2L237.1 243.4M239.9 238.8L241.7 242M244.5 237.4L246.3 240.6M249.1 236L250.9 239.2M253.6 234.7L255.4 237.9M258.2 233.3L260 236.5M262.8 232L264.6 235.2M267.4 230.6L269.2 233.9M271.9 229.3L273.7 232.5M276.5 228L278.3 231.2M281.1 226.7L282.9 229.9"/><path class="k13" d="M285.7 225.3L290.2 224L294.8 222.7L299.4 221.4L304 220.2L308.5 218.9L313.1 217.6L317.7 216.3L322.3 215L326.9 213.8L331.4 212.5L336 211.2L340.6 210L345.1 208.7L349.7 207.5L354.3 206.2L358.9 205L363.4 203.7L368 202.5L372.6 201.3L377.2 200L381.8 198.8L386.3 197.6L390.9 196.3L395.5 195.1L400.1 193.9L404.6 192.6M285.7 225.3L287.5 228.6M290.2 224L292 227.3M294.8 222.7L296.6 226M299.4 221.4L301.2 224.7M304 220.2L305.8 223.4M308.5 218.9L310.3 222.1M313.1 217.6L314.9 220.9M317.7 216.3L319.5 219.6M322.3 215L324.1 218.3M326.9 213.8L328.6 217.1M331.4 212.5L333.2 215.8M336 211.2L337.8 214.5M340.6 210L342.4 213.3M345.1 208.7L346.9 212M349.7 207.5L351.5 210.8M354.3 206.2L356.1 209.5M358.9 205L360.7 208.3M363.4 203.7L365.2 207M368 202.5L369.8 205.8M372.6 201.3L374.4 204.6M377.2 200L379 203.3M381.8 198.8L383.5 202.1M386.3 197.6L388.1 200.9M390.9 196.3L392.7 199.6M395.5 195.1L397.3 198.4M400.1 193.9L401.8 197.2M404.6 192.6L406.4 195.9"/><path class="w" d="M136.5 283.9L141.1 278.8L145.6 274.1L150.2 271.9L154.8 270.3L159.4 268.7L163.9 267.1L168.5 265.5L173.1 263.9L177.7 262.4L182.2 260.8L186.8 259.3L191.4 257.8L196 256.3L200.5 254.8L205.1 253.3L209.7 251.9L214.3 250.4L218.8 249L223.4 247.6L228 246.2L232.6 244.8L237.1 243.4L241.7 242L246.3 240.6L250.9 239.2L255.4 237.9L260 236.5L264.6 235.2L269.2 233.9L273.7 232.5L278.3 231.2L282.9 229.9L287.5 228.6L292 227.3L296.6 226L301.2 224.7L305.8 223.4L310.3 222.1L314.9 220.9L319.5 219.6L324.1 218.3L328.6 217.1L333.2 215.8L337.8 214.5L342.4 213.3L346.9 212L351.5 210.8L356.1 209.5L360.7 208.3L365.2 207L369.8 205.8L374.4 204.6L379 203.3L383.5 202.1L388.1 200.9L392.7 199.6L397.3 198.4L401.8 197.2L406.4 195.9L408.2 199.1L403.6 200.4L399.1 201.6L394.5 202.8L389.9 204L385.3 205.3L380.8 206.5L376.2 207.7L371.6 209L367 210.2L362.5 211.5L357.9 212.7L353.3 213.9L348.7 215.2L344.2 216.4L339.6 217.7L335 219L330.4 220.2L325.9 221.5L321.3 222.8L316.7 224L312.1 225.3L307.6 226.6L303 227.9L298.4 229.2L293.8 230.4L289.3 231.7L284.7 233L280.1 234.4L275.5 235.7L271 237L266.4 238.3L261.8 239.7L257.2 241L252.7 242.3L248.1 243.7L243.5 245.1L238.9 246.4L234.4 247.8L229.8 249.2L225.2 250.6L220.6 252L216.1 253.5L211.5 254.9L206.9 256.3L202.3 257.8L197.8 259.3L193.2 260.8L188.6 262.3L184 263.8L179.5 265.3L174.9 266.8L170.3 268.4L165.7 270L161.2 271.6L156.6 273.1L152 274.7L147.4 276.8L142.9 281.3L138.3 286z"/><path class="k4" d="M136.5 283.9L141.1 278.8M136.5 283.9L138.3 286"/><path class="k6" d="M141.1 278.8L145.6 274.1M141.1 278.8L142.9 281.3"/><path class="k7" d="M145.6 274.1L150.2 271.9M145.6 274.1L147.4 276.8"/><path class="k8" d="M150.2 271.9L154.8 270.3L159.4 268.7L163.9 267.1M150.2 271.9L152 274.7M154.8 270.3L156.6 273.1M159.4 268.7L161.2 271.6"/><path class="k9" d="M163.9 267.1L168.5 265.5L173.1 263.9L177.7 262.4L182.2 260.8L186.8 259.3L191.4 257.8M163.9 267.1L165.7 270M168.5 265.5L170.3 268.4M173.1 263.9L174.9 266.8M177.7 262.4L179.5 265.3M182.2 260.8L184 263.8M186.8 259.3L188.6 262.3"/><path class="k10" d="M191.4 257.8L196 256.3L200.5 254.8L205.1 253.3L209.7 251.9L214.3 250.4L218.8 249L223.4 247.6L228 246.2M191.4 257.8L193.2 260.8M196 256.3L197.8 259.3M200.5 254.8L202.3 257.8M205.1 253.3L206.9 256.3M209.7 251.9L211.5 254.9M214.3 250.4L216.1 253.5M218.8 249L220.6 252M223.4 247.6L225.2 250.6"/><path class="k11" d="M228 246.2L232.6 244.8L237.1 243.4L241.7 242L246.3 240.6L250.9 239.2L255.4 237.9L260 236.5L264.6 235.2L269.2 233.9L273.7 232.5L278.3 231.2L282.9 229.9L287.5 228.6M228 246.2L229.8 249.2M232.6 244.8L234.4 247.8M237.1 243.4L238.9 246.4M241.7 242L243.5 245.1M246.3 240.6L248.1 243.7M250.9 239.2L252.7 242.3M255.4 237.9L257.2 241M260 236.5L261.8 239.7M264.6 235.2L266.4 238.3M269.2 233.9L271 237M273.7 232.5L275.5 235.7M278.3 231.2L280.1 234.4M282.9 229.9L284.7 233"/><path class="k12" d="M287.5 228.6L292 227.3L296.6 226L301.2 224.7L305.8 223.4L310.3 222.1L314.9 220.9L319.5 219.6L324.1 218.3L328.6 217.1L333.2 215.8L337.8 214.5L342.4 213.3L346.9 212L351.5 210.8L356.1 209.5L360.7 208.3L365.2 207L369.8 205.8L374.4 204.6L379 203.3L383.5 202.1L388.1 200.9L392.7 199.6L397.3 198.4L401.8 197.2L406.4 195.9M287.5 228.6L289.3 231.7M292 227.3L293.8 230.4M296.6 226L298.4 229.2M301.2 224.7L303 227.9M305.8 223.4L307.6 226.6M310.3 222.1L312.1 225.3M314.9 220.9L316.7 224M319.5 219.6L321.3 222.8M324.1 218.3L325.9 221.5M328.6 217.1L330.4 220.2M333.2 215.8L335 219M337.8 214.5L339.6 217.7M342.4 213.3L344.2 216.4M346.9 212L348.7 215.2M351.5 210.8L353.3 213.9M356.1 209.5L357.9 212.7M360.7 208.3L362.5 211.5M365.2 207L367 210.2M369.8 205.8L371.6 209M374.4 204.6L376.2 207.7M379 203.3L380.8 206.5M383.5 202.1L385.3 205.3M388.1 200.9L389.9 204M392.7 199.6L394.5 202.8M397.3 198.4L399.1 201.6M401.8 197.2L403.6 200.4M406.4 195.9L408.2 199.1"/><path class="w" d="M138.3 286L142.9 281.3L147.4 276.8L152 274.7L156.6 273.1L161.2 271.6L165.7 270L170.3 268.4L174.9 266.8L179.5 265.3L184 263.8L188.6 262.3L193.2 260.8L197.8 259.3L202.3 257.8L206.9 256.3L211.5 254.9L216.1 253.5L220.6 252L225.2 250.6L229.8 249.2L234.4 247.8L238.9 246.4L243.5 245.1L248.1 243.7L252.7 242.3L257.2 241L261.8 239.7L266.4 238.3L271 237L275.5 235.7L280.1 234.4L284.7 233L289.3 231.7L293.8 230.4L298.4 229.2L303 227.9L307.6 226.6L312.1 225.3L316.7 224L321.3 222.8L325.9 221.5L330.4 220.2L335 219L339.6 217.7L344.2 216.4L348.7 215.2L353.3 213.9L357.9 212.7L362.5 211.5L367 210.2L371.6 209L376.2 207.7L380.8 206.5L385.3 205.3L389.9 204L394.5 202.8L399.1 201.6L403.6 200.4L408.2 199.1L410 202.2L405.4 203.4L400.8 204.7L396.3 205.9L391.7 207.1L387.1 208.3L382.5 209.6L378 210.8L373.4 212L368.8 213.3L364.2 214.5L359.7 215.8L355.1 217L350.5 218.3L345.9 219.5L341.4 220.8L336.8 222L332.2 223.3L327.6 224.5L323.1 225.8L318.5 227.1L313.9 228.3L309.3 229.6L304.8 230.9L300.2 232.2L295.6 233.5L291 234.8L286.5 236.1L281.9 237.4L277.3 238.7L272.7 240L268.2 241.3L263.6 242.7L259 244L254.4 245.3L249.9 246.7L245.3 248L240.7 249.4L236.1 250.8L231.6 252.2L227 253.6L222.4 255L217.8 256.4L213.3 257.8L208.7 259.2L204.1 260.7L199.5 262.1L195 263.6L190.4 265.1L185.8 266.6L181.2 268.1L176.7 269.6L172.1 271.1L167.5 272.7L162.9 274.3L158.4 275.8L153.8 277.4L149.2 279.5L144.6 283.7L140.1 288z"/><path class="k3" d="M138.3 286L142.9 281.3M138.3 286L140.1 288"/><path class="k5" d="M142.9 281.3L147.4 276.8M142.9 281.3L144.6 283.7"/><path class="k7" d="M147.4 276.8L152 274.7L156.6 273.1L161.2 271.6L165.7 270M147.4 276.8L149.2 279.5M152 274.7L153.8 277.4M156.6 273.1L158.4 275.8M161.2 271.6L162.9 274.3"/><path class="k8" d="M165.7 270L170.3 268.4L174.9 266.8L179.5 265.3L184 263.8L188.6 262.3M165.7 270L167.5 272.7M170.3 268.4L172.1 271.1M174.9 266.8L176.7 269.6M179.5 265.3L181.2 268.1M184 263.8L185.8 266.6"/><path class="k9" d="M188.6 262.3L193.2 260.8L197.8 259.3L202.3 257.8L206.9 256.3L211.5 254.9L216.1 253.5L220.6 252L225.2 250.6M188.6 262.3L190.4 265.1M193.2 260.8L195 263.6M197.8 259.3L199.5 262.1M202.3 257.8L204.1 260.7M206.9 256.3L208.7 259.2M211.5 254.9L213.3 257.8M216.1 253.5L217.8 256.4M220.6 252L222.4 255"/><path class="k10" d="M225.2 250.6L229.8 249.2L234.4 247.8L238.9 246.4L243.5 245.1L248.1 243.7L252.7 242.3L257.2 241L261.8 239.7L266.4 238.3L271 237L275.5 235.7L280.1 234.4L284.7 233M225.2 250.6L227 253.6M229.8 249.2L231.6 252.2M234.4 247.8L236.1 250.8M238.9 246.4L240.7 249.4M243.5 245.1L245.3 248M248.1 243.7L249.9 246.7M252.7 242.3L254.4 245.3M257.2 241L259 244M261.8 239.7L263.6 242.7M266.4 238.3L268.2 241.3M271 237L272.7 240M275.5 235.7L277.3 238.7M280.1 234.4L281.9 237.4"/><path class="k11" d="M284.7 233L289.3 231.7L293.8 230.4L298.4 229.2L303 227.9L307.6 226.6L312.1 225.3L316.7 224L321.3 222.8L325.9 221.5L330.4 220.2L335 219L339.6 217.7L344.2 216.4L348.7 215.2L353.3 213.9L357.9 212.7L362.5 211.5L367 210.2L371.6 209L376.2 207.7L380.8 206.5L385.3 205.3L389.9 204L394.5 202.8L399.1 201.6L403.6 200.4L408.2 199.1M284.7 233L286.5 236.1M289.3 231.7L291 234.8M293.8 230.4L295.6 233.5M298.4 229.2L300.2 232.2M303 227.9L304.8 230.9M307.6 226.6L309.3 229.6M312.1 225.3L313.9 228.3M316.7 224L318.5 227.1M321.3 222.8L323.1 225.8M325.9 221.5L327.6 224.5M330.4 220.2L332.2 223.3M335 219L336.8 222M339.6 217.7L341.4 220.8M344.2 216.4L345.9 219.5M348.7 215.2L350.5 218.3M353.3 213.9L355.1 217M357.9 212.7L359.7 215.8M362.5 211.5L364.2 214.5M367 210.2L368.8 213.3M371.6 209L373.4 212M376.2 207.7L378 210.8M380.8 206.5L382.5 209.6M385.3 205.3L387.1 208.3M389.9 204L391.7 207.1M394.5 202.8L396.3 205.9M399.1 201.6L400.8 204.7M403.6 200.4L405.4 203.4M408.2 199.1L410 202.2"/><path class="w" d="M140.1 288L144.6 283.7L149.2 279.5L153.8 277.4L158.4 275.8L162.9 274.3L167.5 272.7L172.1 271.1L176.7 269.6L181.2 268.1L185.8 266.6L190.4 265.1L195 263.6L199.5 262.1L204.1 260.7L208.7 259.2L213.3 257.8L217.8 256.4L222.4 255L227 253.6L231.6 252.2L236.1 250.8L240.7 249.4L245.3 248L249.9 246.7L254.4 245.3L259 244L263.6 242.7L268.2 241.3L272.7 240L277.3 238.7L281.9 237.4L286.5 236.1L291 234.8L295.6 233.5L300.2 232.2L304.8 230.9L309.3 229.6L313.9 228.3L318.5 227.1L323.1 225.8L327.6 224.5L332.2 223.3L336.8 222L341.4 220.8L345.9 219.5L350.5 218.3L355.1 217L359.7 215.8L364.2 214.5L368.8 213.3L373.4 212L378 210.8L382.5 209.6L387.1 208.3L391.7 207.1L396.3 205.9L400.8 204.7L405.4 203.4L410 202.2L411.8 205.2L407.2 206.4L402.6 207.6L398.1 208.8L393.5 210.1L388.9 211.3L384.3 212.5L379.8 213.8L375.2 215L370.6 216.2L366 217.5L361.5 218.7L356.9 220L352.3 221.2L347.7 222.4L343.2 223.7L338.6 225L334 226.2L329.4 227.5L324.9 228.7L320.3 230L315.7 231.3L311.1 232.5L306.6 233.8L302 235.1L297.4 236.4L292.8 237.7L288.3 239L283.7 240.3L279.1 241.6L274.5 242.9L270 244.2L265.4 245.5L260.8 246.8L256.2 248.2L251.7 249.5L247.1 250.9L242.5 252.2L237.9 253.6L233.4 255L228.8 256.4L224.2 257.7L219.6 259.1L215.1 260.6L210.5 262L205.9 263.4L201.3 264.9L196.8 266.3L192.2 267.8L187.6 269.3L183 270.7L178.5 272.2L173.9 273.8L169.3 275.3L164.7 276.8L160.2 278.4L155.6 279.9L151 281.9L146.4 285.9L141.9 289.9z"/><path class="k3" d="M140.1 288L144.6 283.7M140.1 288L141.9 289.9"/><path class="k4" d="M144.6 283.7L149.2 279.5M144.6 283.7L146.4 285.9"/><path class="k6" d="M149.2 279.5L153.8 277.4L158.4 275.8M149.2 279.5L151 281.9M153.8 277.4L155.6 279.9"/><path class="k7" d="M158.4 275.8L162.9 274.3L167.5 272.7L172.1 271.1L176.7 269.6L181.2 268.1L185.8 266.6M158.4 275.8L160.2 278.4M162.9 274.3L164.7 276.8M167.5 272.7L169.3 275.3M172.1 271.1L173.9 273.8M176.7 269.6L178.5 272.2M181.2 268.1L183 270.7"/><path class="k8" d="M185.8 266.6L190.4 265.1L195 263.6L199.5 262.1L204.1 260.7L208.7 259.2L213.3 257.8L217.8 256.4L222.4 255M185.8 266.6L187.6 269.3M190.4 265.1L192.2 267.8M195 263.6L196.8 266.3M199.5 262.1L201.3 264.9M204.1 260.7L205.9 263.4M208.7 259.2L210.5 262M213.3 257.8L215.1 260.6M217.8 256.4L219.6 259.1"/><path class="k9" d="M222.4 255L227 253.6L231.6 252.2L236.1 250.8L240.7 249.4L245.3 248L249.9 246.7L254.4 245.3L259 244L263.6 242.7L268.2 241.3L272.7 240L277.3 238.7L281.9 237.4M222.4 255L224.2 257.7M227 253.6L228.8 256.4M231.6 252.2L233.4 255M236.1 250.8L237.9 253.6M240.7 249.4L242.5 252.2M245.3 248L247.1 250.9M249.9 246.7L251.7 249.5M254.4 245.3L256.2 248.2M259 244L260.8 246.8M263.6 242.7L265.4 245.5M268.2 241.3L270 244.2M272.7 240L274.5 242.9M277.3 238.7L279.1 241.6"/><path class="k10" d="M281.9 237.4L286.5 236.1L291 234.8L295.6 233.5L300.2 232.2L304.8 230.9L309.3 229.6L313.9 228.3L318.5 227.1L323.1 225.8L327.6 224.5L332.2 223.3L336.8 222L341.4 220.8L345.9 219.5L350.5 218.3L355.1 217L359.7 215.8L364.2 214.5L368.8 213.3L373.4 212L378 210.8L382.5 209.6L387.1 208.3L391.7 207.1L396.3 205.9L400.8 204.7L405.4 203.4L410 202.2M281.9 237.4L283.7 240.3M286.5 236.1L288.3 239M291 234.8L292.8 237.7M295.6 233.5L297.4 236.4M300.2 232.2L302 235.1M304.8 230.9L306.6 233.8M309.3 229.6L311.1 232.5M313.9 228.3L315.7 231.3M318.5 227.1L320.3 230M323.1 225.8L324.9 228.7M327.6 224.5L329.4 227.5M332.2 223.3L334 226.2M336.8 222L338.6 225M341.4 220.8L343.2 223.7M345.9 219.5L347.7 222.4M350.5 218.3L352.3 221.2M355.1 217L356.9 220M359.7 215.8L361.5 218.7M364.2 214.5L366 217.5M368.8 213.3L370.6 216.2M373.4 212L375.2 215M378 210.8L379.8 213.8M382.5 209.6L384.3 212.5M387.1 208.3L388.9 211.3M391.7 207.1L393.5 210.1M396.3 205.9L398.1 208.8M400.8 204.7L402.6 207.6M405.4 203.4L407.2 206.4M410 202.2L411.8 205.2"/><path class="w" d="M141.9 289.9L146.4 285.9L151 281.9L155.6 279.9L160.2 278.4L164.7 276.8L169.3 275.3L173.9 273.8L178.5 272.2L183 270.7L187.6 269.3L192.2 267.8L196.8 266.3L201.3 264.9L205.9 263.4L210.5 262L215.1 260.6L219.6 259.1L224.2 257.7L228.8 256.4L233.4 255L237.9 253.6L242.5 252.2L247.1 250.9L251.7 249.5L256.2 248.2L260.8 246.8L265.4 245.5L270 244.2L274.5 242.9L279.1 241.6L283.7 240.3L288.3 239L292.8 237.7L297.4 236.4L302 235.1L306.6 233.8L311.1 232.5L315.7 231.3L320.3 230L324.9 228.7L329.4 227.5L334 226.2L338.6 225L343.2 223.7L347.7 222.4L352.3 221.2L356.9 220L361.5 218.7L366 217.5L370.6 216.2L375.2 215L379.8 213.8L384.3 212.5L388.9 211.3L393.5 210.1L398.1 208.8L402.6 207.6L407.2 206.4L411.8 205.2L413.6 208L409 209.2L404.4 210.5L399.9 211.7L395.3 212.9L390.7 214.1L386.1 215.4L381.6 216.6L377 217.8L372.4 219.1L367.8 220.3L363.2 221.5L358.7 222.8L354.1 224L349.5 225.3L345 226.5L340.4 227.8L335.8 229L331.2 230.3L326.6 231.5L322.1 232.8L317.5 234.1L312.9 235.3L308.4 236.6L303.8 237.9L299.2 239.2L294.6 240.5L290.1 241.7L285.5 243L280.9 244.3L276.3 245.6L271.8 247L267.2 248.3L262.6 249.6L258 250.9L253.5 252.3L248.9 253.6L244.3 254.9L239.7 256.3L235.2 257.7L230.6 259L226 260.4L221.4 261.8L216.9 263.2L212.3 264.6L207.7 266L203.1 267.5L198.6 268.9L194 270.3L189.4 271.8L184.8 273.3L180.2 274.8L175.7 276.2L171.1 277.7L166.5 279.3L162 280.8L157.4 282.3L152.8 284.3L148.2 288L143.7 291.7z"/><path class="k2" d="M141.9 289.9L146.4 285.9M141.9 289.9L143.7 291.7"/><path class="k4" d="M146.4 285.9L151 281.9M146.4 285.9L148.2 288"/><path class="k5" d="M151 281.9L155.6 279.9M151 281.9L152.8 284.3"/><path class="k6" d="M155.6 279.9L160.2 278.4L164.7 276.8L169.3 275.3L173.9 273.8L178.5 272.2L183 270.7M155.6 279.9L157.4 282.3M160.2 278.4L162 280.8M164.7 276.8L166.5 279.3M169.3 275.3L171.1 277.7M173.9 273.8L175.7 276.2M178.5 272.2L180.2 274.8"/><path class="k7" d="M183 270.7L187.6 269.3L192.2 267.8L196.8 266.3L201.3 264.9L205.9 263.4L210.5 262L215.1 260.6M183 270.7L184.8 273.3M187.6 269.3L189.4 271.8M192.2 267.8L194 270.3M196.8 266.3L198.6 268.9M201.3 264.9L203.1 267.5M205.9 263.4L207.7 266M210.5 262L212.3 264.6"/><path class="k8" d="M215.1 260.6L219.6 259.1L224.2 257.7L228.8 256.4L233.4 255L237.9 253.6L242.5 252.2L247.1 250.9L251.7 249.5L256.2 248.2L260.8 246.8L265.4 245.5L270 244.2M215.1 260.6L216.9 263.2M219.6 259.1L221.4 261.8M224.2 257.7L226 260.4M228.8 256.4L230.6 259M233.4 255L235.2 257.7M237.9 253.6L239.7 256.3M242.5 252.2L244.3 254.9M247.1 250.9L248.9 253.6M251.7 249.5L253.5 252.3M256.2 248.2L258 250.9M260.8 246.8L262.6 249.6M265.4 245.5L267.2 248.3"/><path class="k9" d="M270 244.2L274.5 242.9L279.1 241.6L283.7 240.3L288.3 239L292.8 237.7L297.4 236.4L302 235.1L306.6 233.8L311.1 232.5L315.7 231.3L320.3 230L324.9 228.7L329.4 227.5L334 226.2L338.6 225L343.2 223.7L347.7 222.4L352.3 221.2L356.9 220L361.5 218.7L366 217.5L370.6 216.2L375.2 215L379.8 213.8L384.3 212.5L388.9 211.3L393.5 210.1L398.1 208.8L402.6 207.6L407.2 206.4L411.8 205.2M270 244.2L271.8 247M274.5 242.9L276.3 245.6M279.1 241.6L280.9 244.3M283.7 240.3L285.5 243M288.3 239L290.1 241.7M292.8 237.7L294.6 240.5M297.4 236.4L299.2 239.2M302 235.1L303.8 237.9M306.6 233.8L308.4 236.6M311.1 232.5L312.9 235.3M315.7 231.3L317.5 234.1M320.3 230L322.1 232.8M324.9 228.7L326.6 231.5M329.4 227.5L331.2 230.3M334 226.2L335.8 229M338.6 225L340.4 227.8M343.2 223.7L345 226.5M347.7 222.4L349.5 225.3M352.3 221.2L354.1 224M356.9 220L358.7 222.8M361.5 218.7L363.2 221.5M366 217.5L367.8 220.3M370.6 216.2L372.4 219.1M375.2 215L377 217.8M379.8 213.8L381.6 216.6M384.3 212.5L386.1 215.4M388.9 211.3L390.7 214.1M393.5 210.1L395.3 212.9M398.1 208.8L399.9 211.7M402.6 207.6L404.4 210.5M407.2 206.4L409 209.2M411.8 205.2L413.6 208"/><path class="w" d="M143.7 291.7L148.2 288L152.8 284.3L157.4 282.3L162 280.8L166.5 279.3L171.1 277.7L175.7 276.2L180.2 274.8L184.8 273.3L189.4 271.8L194 270.3L198.6 268.9L203.1 267.5L207.7 266L212.3 264.6L216.9 263.2L221.4 261.8L226 260.4L230.6 259L235.2 257.7L239.7 256.3L244.3 254.9L248.9 253.6L253.5 252.3L258 250.9L262.6 249.6L267.2 248.3L271.8 247L276.3 245.6L280.9 244.3L285.5 243L290.1 241.7L294.6 240.5L299.2 239.2L303.8 237.9L308.4 236.6L312.9 235.3L317.5 234.1L322.1 232.8L326.6 231.5L331.2 230.3L335.8 229L340.4 227.8L345 226.5L349.5 225.3L354.1 224L358.7 222.8L363.2 221.5L367.8 220.3L372.4 219.1L377 217.8L381.6 216.6L386.1 215.4L390.7 214.1L395.3 212.9L399.9 211.7L404.4 210.5L409 209.2L413.6 208L415.4 210.8L410.8 212L406.2 213.2L401.6 214.4L397.1 215.6L392.5 216.9L387.9 218.1L383.3 219.3L378.8 220.6L374.2 221.8L369.6 223L365 224.3L360.5 225.5L355.9 226.7L351.3 228L346.7 229.2L342.2 230.5L337.6 231.7L333 233L328.4 234.2L323.9 235.5L319.3 236.7L314.7 238L310.1 239.3L305.6 240.6L301 241.8L296.4 243.1L291.8 244.4L287.3 245.7L282.7 247L278.1 248.3L273.5 249.6L269 250.9L264.4 252.2L259.8 253.5L255.2 254.9L250.7 256.2L246.1 257.5L241.5 258.9L236.9 260.2L232.4 261.6L227.8 263L223.2 264.3L218.6 265.7L214.1 267.1L209.5 268.5L204.9 269.9L200.3 271.3L195.8 272.8L191.2 274.2L186.6 275.7L182 277.1L177.5 278.6L172.9 280.1L168.3 281.6L163.7 283.1L159.2 284.6L154.6 286.5L150 290L145.4 293.4z"/><path class="k2" d="M143.7 291.7L148.2 288M143.7 291.7L145.4 293.4"/><path class="k3" d="M148.2 288L152.8 284.3M148.2 288L150 290"/><path class="k5" d="M152.8 284.3L157.4 282.3L162 280.8L166.5 279.3L171.1 277.7L175.7 276.2M152.8 284.3L154.6 286.5M157.4 282.3L159.2 284.6M162 280.8L163.7 283.1M166.5 279.3L168.3 281.6M171.1 277.7L172.9 280.1"/><path class="k6" d="M175.7 276.2L180.2 274.8L184.8 273.3L189.4 271.8L194 270.3L198.6 268.9L203.1 267.5L207.7 266M175.7 276.2L177.5 278.6M180.2 274.8L182 277.1M184.8 273.3L186.6 275.7M189.4 271.8L191.2 274.2M194 270.3L195.8 272.8M198.6 268.9L200.3 271.3M203.1 267.5L204.9 269.9"/><path class="k7" d="M207.7 266L212.3 264.6L216.9 263.2L221.4 261.8L226 260.4L230.6 259L235.2 257.7L239.7 256.3L244.3 254.9L248.9 253.6L253.5 252.3L258 250.9M207.7 266L209.5 268.5M212.3 264.6L214.1 267.1M216.9 263.2L218.6 265.7M221.4 261.8L223.2 264.3M226 260.4L227.8 263M230.6 259L232.4 261.6M235.2 257.7L236.9 260.2M239.7 256.3L241.5 258.9M244.3 254.9L246.1 257.5M248.9 253.6L250.7 256.2M253.5 252.3L255.2 254.9"/><path class="k8" d="M258 250.9L262.6 249.6L267.2 248.3L271.8 247L276.3 245.6L280.9 244.3L285.5 243L290.1 241.7L294.6 240.5L299.2 239.2L303.8 237.9L308.4 236.6L312.9 235.3L317.5 234.1L322.1 232.8L326.6 231.5L331.2 230.3L335.8 229L340.4 227.8L345 226.5L349.5 225.3L354.1 224L358.7 222.8L363.2 221.5L367.8 220.3L372.4 219.1L377 217.8M258 250.9L259.8 253.5M262.6 249.6L264.4 252.2M267.2 248.3L269 250.9M271.8 247L273.5 249.6M276.3 245.6L278.1 248.3M280.9 244.3L282.7 247M285.5 243L287.3 245.7M290.1 241.7L291.8 244.4M294.6 240.5L296.4 243.1M299.2 239.2L301 241.8M303.8 237.9L305.6 240.6M308.4 236.6L310.1 239.3M312.9 235.3L314.7 238M317.5 234.1L319.3 236.7M322.1 232.8L323.9 235.5M326.6 231.5L328.4 234.2M331.2 230.3L333 233M335.8 229L337.6 231.7M340.4 227.8L342.2 230.5M345 226.5L346.7 229.2M349.5 225.3L351.3 228M354.1 224L355.9 226.7M358.7 222.8L360.5 225.5M363.2 221.5L365 224.3M367.8 220.3L369.6 223M372.4 219.1L374.2 221.8"/><path class="k9" d="M377 217.8L381.6 216.6L386.1 215.4L390.7 214.1L395.3 212.9L399.9 211.7L404.4 210.5L409 209.2L413.6 208M377 217.8L378.8 220.6M381.6 216.6L383.3 219.3M386.1 215.4L387.9 218.1M390.7 214.1L392.5 216.9M395.3 212.9L397.1 215.6M399.9 211.7L401.6 214.4M404.4 210.5L406.2 213.2M409 209.2L410.8 212M413.6 208L415.4 210.8"/><path class="w" d="M145.4 293.4L150 290L154.6 286.5L159.2 284.6L163.7 283.1L168.3 281.6L172.9 280.1L177.5 278.6L182 277.1L186.6 275.7L191.2 274.2L195.8 272.8L200.3 271.3L204.9 269.9L209.5 268.5L214.1 267.1L218.6 265.7L223.2 264.3L227.8 263L232.4 261.6L236.9 260.2L241.5 258.9L246.1 257.5L250.7 256.2L255.2 254.9L259.8 253.5L264.4 252.2L269 250.9L273.5 249.6L278.1 248.3L282.7 247L287.3 245.7L291.8 244.4L296.4 243.1L301 241.8L305.6 240.6L310.1 239.3L314.7 238L319.3 236.7L323.9 235.5L328.4 234.2L333 233L337.6 231.7L342.2 230.5L346.7 229.2L351.3 228L355.9 226.7L360.5 225.5L365 224.3L369.6 223L374.2 221.8L378.8 220.6L383.3 219.3L387.9 218.1L392.5 216.9L397.1 215.6L401.6 214.4L406.2 213.2L410.8 212L415.4 210.8L417.2 213.4L412.6 214.6L408 215.8L403.4 217L398.9 218.3L394.3 219.5L389.7 220.7L385.1 221.9L380.6 223.2L376 224.4L371.4 225.6L366.8 226.9L362.3 228.1L357.7 229.3L353.1 230.6L348.5 231.8L344 233.1L339.4 234.3L334.8 235.5L330.2 236.8L325.7 238.1L321.1 239.3L316.5 240.6L311.9 241.8L307.4 243.1L302.8 244.4L298.2 245.7L293.6 246.9L289.1 248.2L284.5 249.5L279.9 250.8L275.3 252.1L270.8 253.4L266.2 254.7L261.6 256L257 257.3L252.5 258.7L247.9 260L243.3 261.3L238.7 262.7L234.2 264L229.6 265.4L225 266.7L220.4 268.1L215.9 269.5L211.3 270.9L206.7 272.3L202.1 273.7L197.6 275.1L193 276.5L188.4 278L183.8 279.4L179.3 280.8L174.7 282.3L170.1 283.8L165.5 285.2L161 286.7L156.4 288.6L151.8 291.9L147.2 295z"/><path class="k1" d="M145.4 293.4L150 290M145.4 293.4L147.2 295"/><path class="k3" d="M150 290L154.6 286.5M150 290L151.8 291.9"/><path class="k4" d="M154.6 286.5L159.2 284.6L163.7 283.1L168.3 281.6M154.6 286.5L156.4 288.6M159.2 284.6L161 286.7M163.7 283.1L165.5 285.2"/><path class="k5" d="M168.3 281.6L172.9 280.1L177.5 278.6L182 277.1L186.6 275.7L191.2 274.2L195.8 272.8L200.3 271.3M168.3 281.6L170.1 283.8M172.9 280.1L174.7 282.3M177.5 278.6L179.3 280.8M182 277.1L183.8 279.4M186.6 275.7L188.4 278M191.2 274.2L193 276.5M195.8 272.8L197.6 275.1"/><path class="k6" d="M200.3 271.3L204.9 269.9L209.5 268.5L214.1 267.1L218.6 265.7L223.2 264.3L227.8 263L232.4 261.6L236.9 260.2L241.5 258.9L246.1 257.5M200.3 271.3L202.1 273.7M204.9 269.9L206.7 272.3M209.5 268.5L211.3 270.9M214.1 267.1L215.9 269.5M218.6 265.7L220.4 268.1M223.2 264.3L225 266.7M227.8 263L229.6 265.4M232.4 261.6L234.2 264M236.9 260.2L238.7 262.7M241.5 258.9L243.3 261.3"/><path class="k7" d="M246.1 257.5L250.7 256.2L255.2 254.9L259.8 253.5L264.4 252.2L269 250.9L273.5 249.6L278.1 248.3L282.7 247L287.3 245.7L291.8 244.4L296.4 243.1L301 241.8L305.6 240.6L310.1 239.3L314.7 238L319.3 236.7L323.9 235.5L328.4 234.2L333 233L337.6 231.7M246.1 257.5L247.9 260M250.7 256.2L252.5 258.7M255.2 254.9L257 257.3M259.8 253.5L261.6 256M264.4 252.2L266.2 254.7M269 250.9L270.8 253.4M273.5 249.6L275.3 252.1M278.1 248.3L279.9 250.8M282.7 247L284.5 249.5M287.3 245.7L289.1 248.2M291.8 244.4L293.6 246.9M296.4 243.1L298.2 245.7M301 241.8L302.8 244.4M305.6 240.6L307.4 243.1M310.1 239.3L311.9 241.8M314.7 238L316.5 240.6M319.3 236.7L321.1 239.3M323.9 235.5L325.7 238.1M328.4 234.2L330.2 236.8M333 233L334.8 235.5"/><path class="k8" d="M337.6 231.7L342.2 230.5L346.7 229.2L351.3 228L355.9 226.7L360.5 225.5L365 224.3L369.6 223L374.2 221.8L378.8 220.6L383.3 219.3L387.9 218.1L392.5 216.9L397.1 215.6L401.6 214.4L406.2 213.2L410.8 212L415.4 210.8M337.6 231.7L339.4 234.3M342.2 230.5L344 233.1M346.7 229.2L348.5 231.8M351.3 228L353.1 230.6M355.9 226.7L357.7 229.3M360.5 225.5L362.3 228.1M365 224.3L366.8 226.9M369.6 223L371.4 225.6M374.2 221.8L376 224.4M378.8 220.6L380.6 223.2M383.3 219.3L385.1 221.9M387.9 218.1L389.7 220.7M392.5 216.9L394.3 219.5M397.1 215.6L398.9 218.3M401.6 214.4L403.4 217M406.2 213.2L408 215.8M410.8 212L412.6 214.6M415.4 210.8L417.2 213.4"/><path class="w" d="M147.2 295L151.8 291.9L156.4 288.6L161 286.7L165.5 285.2L170.1 283.8L174.7 282.3L179.3 280.8L183.8 279.4L188.4 278L193 276.5L197.6 275.1L202.1 273.7L206.7 272.3L211.3 270.9L215.9 269.5L220.4 268.1L225 266.7L229.6 265.4L234.2 264L238.7 262.7L243.3 261.3L247.9 260L252.5 258.7L257 257.3L261.6 256L266.2 254.7L270.8 253.4L275.3 252.1L279.9 250.8L284.5 249.5L289.1 248.2L293.6 246.9L298.2 245.7L302.8 244.4L307.4 243.1L311.9 241.8L316.5 240.6L321.1 239.3L325.7 238.1L330.2 236.8L334.8 235.5L339.4 234.3L344 233.1L348.5 231.8L353.1 230.6L357.7 229.3L362.3 228.1L366.8 226.9L371.4 225.6L376 224.4L380.6 223.2L385.1 221.9L389.7 220.7L394.3 219.5L398.9 218.3L403.4 217L408 215.8L412.6 214.6L417.2 213.4L418.9 215.9L414.4 217.1L409.8 218.3L405.2 219.5L400.6 220.7L396.1 222L391.5 223.2L386.9 224.4L382.3 225.6L377.8 226.9L373.2 228.1L368.6 229.3L364 230.6L359.5 231.8L354.9 233L350.3 234.3L345.7 235.5L341.2 236.8L336.6 238L332 239.3L327.4 240.5L322.9 241.8L318.3 243L313.7 244.3L309.1 245.5L304.6 246.8L300 248.1L295.4 249.4L290.8 250.6L286.3 251.9L281.7 253.2L277.1 254.5L272.5 255.8L268 257.1L263.4 258.4L258.8 259.7L254.2 261L249.7 262.3L245.1 263.7L240.5 265L235.9 266.3L231.4 267.7L226.8 269L222.2 270.4L217.6 271.8L213.1 273.1L208.5 274.5L203.9 275.9L199.3 277.3L194.8 278.7L190.2 280.1L185.6 281.5L181 283L176.5 284.4L171.9 285.8L167.3 287.3L162.7 288.7L158.2 290.6L153.6 293.7L149 296.5z"/><path class="k1" d="M147.2 295L151.8 291.9M147.2 295L149 296.5"/><path class="k2" d="M151.8 291.9L156.4 288.6M151.8 291.9L153.6 293.7"/><path class="k3" d="M156.4 288.6L161 286.7M156.4 288.6L158.2 290.6"/><path class="k4" d="M161 286.7L165.5 285.2L170.1 283.8L174.7 282.3L179.3 280.8L183.8 279.4L188.4 278M161 286.7L162.7 288.7M165.5 285.2L167.3 287.3M170.1 283.8L171.9 285.8M174.7 282.3L176.5 284.4M179.3 280.8L181 283M183.8 279.4L185.6 281.5"/><path class="k5" d="M188.4 278L193 276.5L197.6 275.1L202.1 273.7L206.7 272.3L211.3 270.9L215.9 269.5L220.4 268.1L225 266.7L229.6 265.4M188.4 278L190.2 280.1M193 276.5L194.8 278.7M197.6 275.1L199.3 277.3M202.1 273.7L203.9 275.9M206.7 272.3L208.5 274.5M211.3 270.9L213.1 273.1M215.9 269.5L217.6 271.8M220.4 268.1L222.2 270.4M225 266.7L226.8 269"/><path class="k6" d="M229.6 265.4L234.2 264L238.7 262.7L243.3 261.3L247.9 260L252.5 258.7L257 257.3L261.6 256L266.2 254.7L270.8 253.4L275.3 252.1L279.9 250.8L284.5 249.5L289.1 248.2L293.6 246.9L298.2 245.7L302.8 244.4M229.6 265.4L231.4 267.7M234.2 264L235.9 266.3M238.7 262.7L240.5 265M243.3 261.3L245.1 263.7M247.9 260L249.7 262.3M252.5 258.7L254.2 261M257 257.3L258.8 259.7M261.6 256L263.4 258.4M266.2 254.7L268 257.1M270.8 253.4L272.5 255.8M275.3 252.1L277.1 254.5M279.9 250.8L281.7 253.2M284.5 249.5L286.3 251.9M289.1 248.2L290.8 250.6M293.6 246.9L295.4 249.4M298.2 245.7L300 248.1"/><path class="k7" d="M302.8 244.4L307.4 243.1L311.9 241.8L316.5 240.6L321.1 239.3L325.7 238.1L330.2 236.8L334.8 235.5L339.4 234.3L344 233.1L348.5 231.8L353.1 230.6L357.7 229.3L362.3 228.1L366.8 226.9L371.4 225.6L376 224.4L380.6 223.2L385.1 221.9L389.7 220.7L394.3 219.5L398.9 218.3L403.4 217L408 215.8L412.6 214.6L417.2 213.4M302.8 244.4L304.6 246.8M307.4 243.1L309.1 245.5M311.9 241.8L313.7 244.3M316.5 240.6L318.3 243M321.1 239.3L322.9 241.8M325.7 238.1L327.4 240.5M330.2 236.8L332 239.3M334.8 235.5L336.6 238M339.4 234.3L341.2 236.8M344 233.1L345.7 235.5M348.5 231.8L350.3 234.3M353.1 230.6L354.9 233M357.7 229.3L359.5 231.8M362.3 228.1L364 230.6M366.8 226.9L368.6 229.3M371.4 225.6L373.2 228.1M376 224.4L377.8 226.9M380.6 223.2L382.3 225.6M385.1 221.9L386.9 224.4M389.7 220.7L391.5 223.2M394.3 219.5L396.1 222M398.9 218.3L400.6 220.7M403.4 217L405.2 219.5M408 215.8L409.8 218.3M412.6 214.6L414.4 217.1M417.2 213.4L418.9 215.9"/><path class="w" d="M149 296.5L153.6 293.7L158.2 290.6L162.7 288.7L167.3 287.3L171.9 285.8L176.5 284.4L181 283L185.6 281.5L190.2 280.1L194.8 278.7L199.3 277.3L203.9 275.9L208.5 274.5L213.1 273.1L217.6 271.8L222.2 270.4L226.8 269L231.4 267.7L235.9 266.3L240.5 265L245.1 263.7L249.7 262.3L254.2 261L258.8 259.7L263.4 258.4L268 257.1L272.5 255.8L277.1 254.5L281.7 253.2L286.3 251.9L290.8 250.6L295.4 249.4L300 248.1L304.6 246.8L309.1 245.5L313.7 244.3L318.3 243L322.9 241.8L327.4 240.5L332 239.3L336.6 238L341.2 236.8L345.7 235.5L350.3 234.3L354.9 233L359.5 231.8L364 230.6L368.6 229.3L373.2 228.1L377.8 226.9L382.3 225.6L386.9 224.4L391.5 223.2L396.1 222L400.6 220.7L405.2 219.5L409.8 218.3L414.4 217.1L418.9 215.9L420.7 218.3L416.2 219.5L411.6 220.7L407 221.9L402.4 223.1L397.9 224.4L393.3 225.6L388.7 226.8L384.1 228L379.6 229.3L375 230.5L370.4 231.7L365.8 232.9L361.3 234.2L356.7 235.4L352.1 236.6L347.5 237.9L343 239.1L338.4 240.4L333.8 241.6L329.2 242.9L324.7 244.1L320.1 245.4L315.5 246.6L310.9 247.9L306.4 249.1L301.8 250.4L297.2 251.7L292.6 252.9L288.1 254.2L283.5 255.5L278.9 256.8L274.3 258.1L269.8 259.4L265.2 260.7L260.6 262L256 263.3L251.5 264.6L246.9 265.9L242.3 267.2L237.7 268.6L233.2 269.9L228.6 271.2L224 272.6L219.4 273.9L214.9 275.3L210.3 276.7L205.7 278L201.1 279.4L196.6 280.8L192 282.2L187.4 283.6L182.8 285L178.3 286.4L173.7 287.8L169.1 289.2L164.5 290.7L160 292.5L155.4 295.3L150.8 298z"/><path class="k1" d="M149 296.5L153.6 293.7M149 296.5L150.8 298"/><path class="k2" d="M153.6 293.7L158.2 290.6M153.6 293.7L155.4 295.3"/><path class="k3" d="M158.2 290.6L162.7 288.7L167.3 287.3L171.9 285.8M158.2 290.6L160 292.5M162.7 288.7L164.5 290.7M167.3 287.3L169.1 289.2"/><path class="k4" d="M171.9 285.8L176.5 284.4L181 283L185.6 281.5L190.2 280.1L194.8 278.7L199.3 277.3L203.9 275.9L208.5 274.5M171.9 285.8L173.7 287.8M176.5 284.4L178.3 286.4M181 283L182.8 285M185.6 281.5L187.4 283.6M190.2 280.1L192 282.2M194.8 278.7L196.6 280.8M199.3 277.3L201.1 279.4M203.9 275.9L205.7 278"/><path class="k5" d="M208.5 274.5L213.1 273.1L217.6 271.8L222.2 270.4L226.8 269L231.4 267.7L235.9 266.3L240.5 265L245.1 263.7L249.7 262.3L254.2 261L258.8 259.7L263.4 258.4L268 257.1L272.5 255.8M208.5 274.5L210.3 276.7M213.1 273.1L214.9 275.3M217.6 271.8L219.4 273.9M222.2 270.4L224 272.6M226.8 269L228.6 271.2M231.4 267.7L233.2 269.9M235.9 266.3L237.7 268.6M240.5 265L242.3 267.2M245.1 263.7L246.9 265.9M249.7 262.3L251.5 264.6M254.2 261L256 263.3M258.8 259.7L260.6 262M263.4 258.4L265.2 260.7M268 257.1L269.8 259.4"/><path class="k6" d="M272.5 255.8L277.1 254.5L281.7 253.2L286.3 251.9L290.8 250.6L295.4 249.4L300 248.1L304.6 246.8L309.1 245.5L313.7 244.3L318.3 243L322.9 241.8L327.4 240.5L332 239.3L336.6 238L341.2 236.8L345.7 235.5L350.3 234.3L354.9 233L359.5 231.8L364 230.6L368.6 229.3L373.2 228.1L377.8 226.9L382.3 225.6L386.9 224.4L391.5 223.2L396.1 222L400.6 220.7L405.2 219.5L409.8 218.3L414.4 217.1L418.9 215.9M272.5 255.8L274.3 258.1M277.1 254.5L278.9 256.8M281.7 253.2L283.5 255.5M286.3 251.9L288.1 254.2M290.8 250.6L292.6 252.9M295.4 249.4L297.2 251.7M300 248.1L301.8 250.4M304.6 246.8L306.4 249.1M309.1 245.5L310.9 247.9M313.7 244.3L315.5 246.6M318.3 243L320.1 245.4M322.9 241.8L324.7 244.1M327.4 240.5L329.2 242.9M332 239.3L333.8 241.6M336.6 238L338.4 240.4M341.2 236.8L343 239.1M345.7 235.5L347.5 237.9M350.3 234.3L352.1 236.6M354.9 233L356.7 235.4M359.5 231.8L361.3 234.2M364 230.6L365.8 232.9M368.6 229.3L370.4 231.7M373.2 228.1L375 230.5M377.8 226.9L379.6 229.3M382.3 225.6L384.1 228M386.9 224.4L388.7 226.8M391.5 223.2L393.3 225.6M396.1 222L397.9 224.4M400.6 220.7L402.4 223.1M405.2 219.5L407 221.9M409.8 218.3L411.6 220.7M414.4 217.1L416.2 219.5M418.9 215.9L420.7 218.3"/><path class="w" d="M150.8 298L155.4 295.3L160 292.5L164.5 290.7L169.1 289.2L173.7 287.8L178.3 286.4L182.8 285L187.4 283.6L192 282.2L196.6 280.8L201.1 279.4L205.7 278L210.3 276.7L214.9 275.3L219.4 273.9L224 272.6L228.6 271.2L233.2 269.9L237.7 268.6L242.3 267.2L246.9 265.9L251.5 264.6L256 263.3L260.6 262L265.2 260.7L269.8 259.4L274.3 258.1L278.9 256.8L283.5 255.5L288.1 254.2L292.6 252.9L297.2 251.7L301.8 250.4L306.4 249.1L310.9 247.9L315.5 246.6L320.1 245.4L324.7 244.1L329.2 242.9L333.8 241.6L338.4 240.4L343 239.1L347.5 237.9L352.1 236.6L356.7 235.4L361.3 234.2L365.8 232.9L370.4 231.7L375 230.5L379.6 229.3L384.1 228L388.7 226.8L393.3 225.6L397.9 224.4L402.4 223.1L407 221.9L411.6 220.7L416.2 219.5L420.7 218.3L422.5 220.6L418 221.8L413.4 223L408.8 224.2L404.2 225.4L399.6 226.6L395.1 227.9L390.5 229.1L385.9 230.3L381.4 231.5L376.8 232.7L372.2 234L367.6 235.2L363.1 236.4L358.5 237.7L353.9 238.9L349.3 240.1L344.8 241.4L340.2 242.6L335.6 243.9L331 245.1L326.4 246.3L321.9 247.6L317.3 248.8L312.7 250.1L308.1 251.4L303.6 252.6L299 253.9L294.4 255.1L289.9 256.4L285.3 257.7L280.7 259L276.1 260.2L271.6 261.5L267 262.8L262.4 264.1L257.8 265.4L253.2 266.7L248.7 268L244.1 269.3L239.5 270.7L234.9 272L230.4 273.3L225.8 274.6L221.2 276L216.6 277.3L212.1 278.7L207.5 280L202.9 281.4L198.3 282.8L193.8 284.1L189.2 285.5L184.6 286.9L180.1 288.3L175.5 289.7L170.9 291.1L166.3 292.5L161.8 294.2L157.2 296.9L152.6 299.4z"/><path class="k1" d="M150.8 298L155.4 295.3M150.8 298L152.6 299.4"/><path class="k2" d="M155.4 295.3L160 292.5L164.5 290.7M155.4 295.3L157.2 296.9M160 292.5L161.8 294.2"/><path class="k3" d="M164.5 290.7L169.1 289.2L173.7 287.8L178.3 286.4L182.8 285L187.4 283.6L192 282.2M164.5 290.7L166.3 292.5M169.1 289.2L170.9 291.1M173.7 287.8L175.5 289.7M178.3 286.4L180.1 288.3M182.8 285L184.6 286.9M187.4 283.6L189.2 285.5"/><path class="k4" d="M192 282.2L196.6 280.8L201.1 279.4L205.7 278L210.3 276.7L214.9 275.3L219.4 273.9L224 272.6L228.6 271.2L233.2 269.9L237.7 268.6L242.3 267.2M192 282.2L193.8 284.1M196.6 280.8L198.3 282.8M201.1 279.4L202.9 281.4M205.7 278L207.5 280M210.3 276.7L212.1 278.7M214.9 275.3L216.6 277.3M219.4 273.9L221.2 276M224 272.6L225.8 274.6M228.6 271.2L230.4 273.3M233.2 269.9L234.9 272M237.7 268.6L239.5 270.7"/><path class="k5" d="M242.3 267.2L246.9 265.9L251.5 264.6L256 263.3L260.6 262L265.2 260.7L269.8 259.4L274.3 258.1L278.9 256.8L283.5 255.5L288.1 254.2L292.6 252.9L297.2 251.7L301.8 250.4L306.4 249.1L310.9 247.9L315.5 246.6L320.1 245.4L324.7 244.1L329.2 242.9L333.8 241.6L338.4 240.4L343 239.1L347.5 237.9L352.1 236.6M242.3 267.2L244.1 269.3M246.9 265.9L248.7 268M251.5 264.6L253.2 266.7M256 263.3L257.8 265.4M260.6 262L262.4 264.1M265.2 260.7L267 262.8M269.8 259.4L271.6 261.5M274.3 258.1L276.1 260.2M278.9 256.8L280.7 259M283.5 255.5L285.3 257.7M288.1 254.2L289.9 256.4M292.6 252.9L294.4 255.1M297.2 251.7L299 253.9M301.8 250.4L303.6 252.6M306.4 249.1L308.1 251.4M310.9 247.9L312.7 250.1M315.5 246.6L317.3 248.8M320.1 245.4L321.9 247.6M324.7 244.1L326.4 246.3M329.2 242.9L331 245.1M333.8 241.6L335.6 243.9M338.4 240.4L340.2 242.6M343 239.1L344.8 241.4M347.5 237.9L349.3 240.1"/><path class="k6" d="M352.1 236.6L356.7 235.4L361.3 234.2L365.8 232.9L370.4 231.7L375 230.5L379.6 229.3L384.1 228L388.7 226.8L393.3 225.6L397.9 224.4L402.4 223.1L407 221.9L411.6 220.7L416.2 219.5L420.7 218.3M352.1 236.6L353.9 238.9M356.7 235.4L358.5 237.7M361.3 234.2L363.1 236.4M365.8 232.9L367.6 235.2M370.4 231.7L372.2 234M375 230.5L376.8 232.7M379.6 229.3L381.4 231.5M384.1 228L385.9 230.3M388.7 226.8L390.5 229.1M393.3 225.6L395.1 227.9M397.9 224.4L399.6 226.6M402.4 223.1L404.2 225.4M407 221.9L408.8 224.2M411.6 220.7L413.4 223M416.2 219.5L418 221.8M420.7 218.3L422.5 220.6"/><path class="w" d="M152.6 299.4L157.2 296.9L161.8 294.2L166.3 292.5L170.9 291.1L175.5 289.7L180.1 288.3L184.6 286.9L189.2 285.5L193.8 284.1L198.3 282.8L202.9 281.4L207.5 280L212.1 278.7L216.6 277.3L221.2 276L225.8 274.6L230.4 273.3L234.9 272L239.5 270.7L244.1 269.3L248.7 268L253.2 266.7L257.8 265.4L262.4 264.1L267 262.8L271.6 261.5L276.1 260.2L280.7 259L285.3 257.7L289.9 256.4L294.4 255.1L299 253.9L303.6 252.6L308.1 251.4L312.7 250.1L317.3 248.8L321.9 247.6L326.4 246.3L331 245.1L335.6 243.9L340.2 242.6L344.8 241.4L349.3 240.1L353.9 238.9L358.5 237.7L363.1 236.4L367.6 235.2L372.2 234L376.8 232.7L381.4 231.5L385.9 230.3L390.5 229.1L395.1 227.9L399.6 226.6L404.2 225.4L408.8 224.2L413.4 223L418 221.8L422.5 220.6L424.3 222.7L419.7 223.9L415.2 225.2L410.6 226.4L406 227.6L401.4 228.8L396.9 230L392.3 231.2L387.7 232.5L383.1 233.7L378.6 234.9L374 236.1L369.4 237.4L364.8 238.6L360.3 239.8L355.7 241.1L351.1 242.3L346.5 243.5L342 244.8L337.4 246L332.8 247.2L328.2 248.5L323.7 249.7L319.1 251L314.5 252.2L309.9 253.5L305.4 254.7L300.8 256L296.2 257.2L291.6 258.5L287.1 259.8L282.5 261.1L277.9 262.3L273.3 263.6L268.8 264.9L264.2 266.2L259.6 267.5L255 268.8L250.5 270.1L245.9 271.4L241.3 272.7L236.7 274L232.2 275.3L227.6 276.6L223 277.9L218.4 279.3L213.9 280.6L209.3 282L204.7 283.3L200.1 284.7L195.6 286L191 287.4L186.4 288.8L181.8 290.1L177.3 291.5L172.7 292.9L168.1 294.3L163.5 295.9L159 298.5L154.4 300.7z"/><path class="k0" d="M152.6 299.4L157.2 296.9M152.6 299.4L154.4 300.7"/><path class="k1" d="M157.2 296.9L161.8 294.2M157.2 296.9L159 298.5"/><path class="k2" d="M161.8 294.2L166.3 292.5L170.9 291.1M161.8 294.2L163.5 295.9M166.3 292.5L168.1 294.3"/><path class="k3" d="M170.9 291.1L175.5 289.7L180.1 288.3L184.6 286.9L189.2 285.5L193.8 284.1L198.3 282.8L202.9 281.4L207.5 280L212.1 278.7L216.6 277.3M170.9 291.1L172.7 292.9M175.5 289.7L177.3 291.5M180.1 288.3L181.8 290.1M184.6 286.9L186.4 288.8M189.2 285.5L191 287.4M193.8 284.1L195.6 286M198.3 282.8L200.1 284.7M202.9 281.4L204.7 283.3M207.5 280L209.3 282M212.1 278.7L213.9 280.6"/><path class="k4" d="M216.6 277.3L221.2 276L225.8 274.6L230.4 273.3L234.9 272L239.5 270.7L244.1 269.3L248.7 268L253.2 266.7L257.8 265.4L262.4 264.1L267 262.8L271.6 261.5L276.1 260.2L280.7 259L285.3 257.7L289.9 256.4M216.6 277.3L218.4 279.3M221.2 276L223 277.9M225.8 274.6L227.6 276.6M230.4 273.3L232.2 275.3M234.9 272L236.7 274M239.5 270.7L241.3 272.7M244.1 269.3L245.9 271.4M248.7 268L250.5 270.1M253.2 266.7L255 268.8M257.8 265.4L259.6 267.5M262.4 264.1L264.2 266.2M267 262.8L268.8 264.9M271.6 261.5L273.3 263.6M276.1 260.2L277.9 262.3M280.7 259L282.5 261.1M285.3 257.7L287.1 259.8"/><path class="k5" d="M289.9 256.4L294.4 255.1L299 253.9L303.6 252.6L308.1 251.4L312.7 250.1L317.3 248.8L321.9 247.6L326.4 246.3L331 245.1L335.6 243.9L340.2 242.6L344.8 241.4L349.3 240.1L353.9 238.9L358.5 237.7L363.1 236.4L367.6 235.2L372.2 234L376.8 232.7L381.4 231.5L385.9 230.3L390.5 229.1L395.1 227.9L399.6 226.6L404.2 225.4L408.8 224.2L413.4 223L418 221.8L422.5 220.6M289.9 256.4L291.6 258.5M294.4 255.1L296.2 257.2M299 253.9L300.8 256M303.6 252.6L305.4 254.7M308.1 251.4L309.9 253.5M312.7 250.1L314.5 252.2M317.3 248.8L319.1 251M321.9 247.6L323.7 249.7M326.4 246.3L328.2 248.5M331 245.1L332.8 247.2M335.6 243.9L337.4 246M340.2 242.6L342 244.8M344.8 241.4L346.5 243.5M349.3 240.1L351.1 242.3M353.9 238.9L355.7 241.1M358.5 237.7L360.3 239.8M363.1 236.4L364.8 238.6M367.6 235.2L369.4 237.4M372.2 234L374 236.1M376.8 232.7L378.6 234.9M381.4 231.5L383.1 233.7M385.9 230.3L387.7 232.5M390.5 229.1L392.3 231.2M395.1 227.9L396.9 230M399.6 226.6L401.4 228.8M404.2 225.4L406 227.6M408.8 224.2L410.6 226.4M413.4 223L415.2 225.2M418 221.8L419.7 223.9M422.5 220.6L424.3 222.7"/><path class="w" d="M154.4 300.7L159 298.5L163.5 295.9L168.1 294.3L172.7 292.9L177.3 291.5L181.8 290.1L186.4 288.8L191 287.4L195.6 286L200.1 284.7L204.7 283.3L209.3 282L213.9 280.6L218.4 279.3L223 277.9L227.6 276.6L232.2 275.3L236.7 274L241.3 272.7L245.9 271.4L250.5 270.1L255 268.8L259.6 267.5L264.2 266.2L268.8 264.9L273.3 263.6L277.9 262.3L282.5 261.1L287.1 259.8L291.6 258.5L296.2 257.2L300.8 256L305.4 254.7L309.9 253.5L314.5 252.2L319.1 251L323.7 249.7L328.2 248.5L332.8 247.2L337.4 246L342 244.8L346.5 243.5L351.1 242.3L355.7 241.1L360.3 239.8L364.8 238.6L369.4 237.4L374 236.1L378.6 234.9L383.1 233.7L387.7 232.5L392.3 231.2L396.9 230L401.4 228.8L406 227.6L410.6 226.4L415.2 225.2L419.7 223.9L424.3 222.7L426.1 224.8L421.5 226L417 227.2L412.4 228.5L407.8 229.7L403.2 230.9L398.7 232.1L394.1 233.3L389.5 234.5L384.9 235.8L380.4 237L375.8 238.2L371.2 239.4L366.6 240.7L362.1 241.9L357.5 243.1L352.9 244.3L348.3 245.6L343.8 246.8L339.2 248L334.6 249.3L330 250.5L325.5 251.8L320.9 253L316.3 254.2L311.7 255.5L307.2 256.7L302.6 258L298 259.3L293.4 260.5L288.9 261.8L284.3 263L279.7 264.3L275.1 265.6L270.6 266.9L266 268.1L261.4 269.4L256.8 270.7L252.3 272L247.7 273.3L243.1 274.6L238.5 275.9L234 277.2L229.4 278.5L224.8 279.8L220.2 281.1L215.7 282.5L211.1 283.8L206.5 285.1L201.9 286.5L197.4 287.8L192.8 289.2L188.2 290.5L183.6 291.9L179.1 293.2L174.5 294.6L169.9 296L165.3 297.6L160.8 299.9L156.2 302z"/><path class="k0" d="M154.4 300.7L159 298.5M154.4 300.7L156.2 302"/><path class="k1" d="M159 298.5L163.5 295.9M159 298.5L160.8 299.9"/><path class="k2" d="M163.5 295.9L168.1 294.3L172.7 292.9L177.3 291.5L181.8 290.1L186.4 288.8L191 287.4M163.5 295.9L165.3 297.6M168.1 294.3L169.9 296M172.7 292.9L174.5 294.6M177.3 291.5L179.1 293.2M181.8 290.1L183.6 291.9M186.4 288.8L188.2 290.5"/><path class="k3" d="M191 287.4L195.6 286L200.1 284.7L204.7 283.3L209.3 282L213.9 280.6L218.4 279.3L223 277.9L227.6 276.6L232.2 275.3L236.7 274L241.3 272.7L245.9 271.4M191 287.4L192.8 289.2M195.6 286L197.4 287.8M200.1 284.7L201.9 286.5M204.7 283.3L206.5 285.1M209.3 282L211.1 283.8M213.9 280.6L215.7 282.5M218.4 279.3L220.2 281.1M223 277.9L224.8 279.8M227.6 276.6L229.4 278.5M232.2 275.3L234 277.2M236.7 274L238.5 275.9M241.3 272.7L243.1 274.6"/><path class="k4" d="M245.9 271.4L250.5 270.1L255 268.8L259.6 267.5L264.2 266.2L268.8 264.9L273.3 263.6L277.9 262.3L282.5 261.1L287.1 259.8L291.6 258.5L296.2 257.2L300.8 256L305.4 254.7L309.9 253.5L314.5 252.2L319.1 251L323.7 249.7L328.2 248.5L332.8 247.2L337.4 246L342 244.8L346.5 243.5L351.1 242.3L355.7 241.1L360.3 239.8L364.8 238.6L369.4 237.4L374 236.1L378.6 234.9L383.1 233.7L387.7 232.5L392.3 231.2M245.9 271.4L247.7 273.3M250.5 270.1L252.3 272M255 268.8L256.8 270.7M259.6 267.5L261.4 269.4M264.2 266.2L266 268.1M268.8 264.9L270.6 266.9M273.3 263.6L275.1 265.6M277.9 262.3L279.7 264.3M282.5 261.1L284.3 263M287.1 259.8L288.9 261.8M291.6 258.5L293.4 260.5M296.2 257.2L298 259.3M300.8 256L302.6 258M305.4 254.7L307.2 256.7M309.9 253.5L311.7 255.5M314.5 252.2L316.3 254.2M319.1 251L320.9 253M323.7 249.7L325.5 251.8M328.2 248.5L330 250.5M332.8 247.2L334.6 249.3M337.4 246L339.2 248M342 244.8L343.8 246.8M346.5 243.5L348.3 245.6M351.1 242.3L352.9 244.3M355.7 241.1L357.5 243.1M360.3 239.8L362.1 241.9M364.8 238.6L366.6 240.7M369.4 237.4L371.2 239.4M374 236.1L375.8 238.2M378.6 234.9L380.4 237M383.1 233.7L384.9 235.8M387.7 232.5L389.5 234.5"/><path class="k5" d="M392.3 231.2L396.9 230L401.4 228.8L406 227.6L410.6 226.4L415.2 225.2L419.7 223.9L424.3 222.7M392.3 231.2L394.1 233.3M396.9 230L398.7 232.1M401.4 228.8L403.2 230.9M406 227.6L407.8 229.7M410.6 226.4L412.4 228.5M415.2 225.2L417 227.2M419.7 223.9L421.5 226M424.3 222.7L426.1 224.8"/><path class="w" d="M156.2 302L160.8 299.9L165.3 297.6L169.9 296L174.5 294.6L179.1 293.2L183.6 291.9L188.2 290.5L192.8 289.2L197.4 287.8L201.9 286.5L206.5 285.1L211.1 283.8L215.7 282.5L220.2 281.1L224.8 279.8L229.4 278.5L234 277.2L238.5 275.9L243.1 274.6L247.7 273.3L252.3 272L256.8 270.7L261.4 269.4L266 268.1L270.6 266.9L275.1 265.6L279.7 264.3L284.3 263L288.9 261.8L293.4 260.5L298 259.3L302.6 258L307.2 256.7L311.7 255.5L316.3 254.2L320.9 253L325.5 251.8L330 250.5L334.6 249.3L339.2 248L343.8 246.8L348.3 245.6L352.9 244.3L357.5 243.1L362.1 241.9L366.6 240.7L371.2 239.4L375.8 238.2L380.4 237L384.9 235.8L389.5 234.5L394.1 233.3L398.7 232.1L403.2 230.9L407.8 229.7L412.4 228.5L417 227.2L421.5 226L426.1 224.8L427.9 226.8L423.3 228L418.7 229.2L414.2 230.5L409.6 231.7L405 232.9L400.4 234.1L395.9 235.3L391.3 236.5L386.7 237.7L382.1 239L377.6 240.2L373 241.4L368.4 242.6L363.8 243.9L359.3 245.1L354.7 246.3L350.1 247.5L345.5 248.8L341 250L336.4 251.2L331.8 252.5L327.2 253.7L322.7 254.9L318.1 256.2L313.5 257.4L308.9 258.7L304.4 259.9L299.8 261.2L295.2 262.4L290.6 263.7L286.1 264.9L281.5 266.2L276.9 267.5L272.3 268.7L267.8 270L263.2 271.3L258.6 272.6L254 273.8L249.5 275.1L244.9 276.4L240.3 277.7L235.7 279L231.2 280.3L226.6 281.6L222 282.9L217.4 284.2L212.9 285.5L208.3 286.9L203.7 288.2L199.1 289.5L194.6 290.8L190 292.2L185.4 293.5L180.8 294.9L176.3 296.2L171.7 297.6L167.1 299.1L162.5 301.3L158 303.3z"/><path class="k0" d="M156.2 302L160.8 299.9M156.2 302L158 303.3"/><path class="k1" d="M160.8 299.9L165.3 297.6L169.9 296M160.8 299.9L162.5 301.3M165.3 297.6L167.1 299.1"/><path class="k2" d="M169.9 296L174.5 294.6L179.1 293.2L183.6 291.9L188.2 290.5L192.8 289.2L197.4 287.8L201.9 286.5L206.5 285.1L211.1 283.8M169.9 296L171.7 297.6M174.5 294.6L176.3 296.2M179.1 293.2L180.8 294.9M183.6 291.9L185.4 293.5M188.2 290.5L190 292.2M192.8 289.2L194.6 290.8M197.4 287.8L199.1 289.5M201.9 286.5L203.7 288.2M206.5 285.1L208.3 286.9"/><path class="k3" d="M211.1 283.8L215.7 282.5L220.2 281.1L224.8 279.8L229.4 278.5L234 277.2L238.5 275.9L243.1 274.6L247.7 273.3L252.3 272L256.8 270.7L261.4 269.4L266 268.1L270.6 266.9L275.1 265.6L279.7 264.3L284.3 263L288.9 261.8L293.4 260.5M211.1 283.8L212.9 285.5M215.7 282.5L217.4 284.2M220.2 281.1L222 282.9M224.8 279.8L226.6 281.6M229.4 278.5L231.2 280.3M234 277.2L235.7 279M238.5 275.9L240.3 277.7M243.1 274.6L244.9 276.4M247.7 273.3L249.5 275.1M252.3 272L254 273.8M256.8 270.7L258.6 272.6M261.4 269.4L263.2 271.3M266 268.1L267.8 270M270.6 266.9L272.3 268.7M275.1 265.6L276.9 267.5M279.7 264.3L281.5 266.2M284.3 263L286.1 264.9M288.9 261.8L290.6 263.7"/><path class="k4" d="M293.4 260.5L298 259.3L302.6 258L307.2 256.7L311.7 255.5L316.3 254.2L320.9 253L325.5 251.8L330 250.5L334.6 249.3L339.2 248L343.8 246.8L348.3 245.6L352.9 244.3L357.5 243.1L362.1 241.9L366.6 240.7L371.2 239.4L375.8 238.2L380.4 237L384.9 235.8L389.5 234.5L394.1 233.3L398.7 232.1L403.2 230.9L407.8 229.7L412.4 228.5L417 227.2L421.5 226L426.1 224.8M293.4 260.5L295.2 262.4M298 259.3L299.8 261.2M302.6 258L304.4 259.9M307.2 256.7L308.9 258.7M311.7 255.5L313.5 257.4M316.3 254.2L318.1 256.2M320.9 253L322.7 254.9M325.5 251.8L327.2 253.7M330 250.5L331.8 252.5M334.6 249.3L336.4 251.2M339.2 248L341 250M343.8 246.8L345.5 248.8M348.3 245.6L350.1 247.5M352.9 244.3L354.7 246.3M357.5 243.1L359.3 245.1M362.1 241.9L363.8 243.9M366.6 240.7L368.4 242.6M371.2 239.4L373 241.4M375.8 238.2L377.6 240.2M380.4 237L382.1 239M384.9 235.8L386.7 237.7M389.5 234.5L391.3 236.5M394.1 233.3L395.9 235.3M398.7 232.1L400.4 234.1M403.2 230.9L405 232.9M407.8 229.7L409.6 231.7M412.4 228.5L414.2 230.5M417 227.2L418.7 229.2M421.5 226L423.3 228M426.1 224.8L427.9 226.8"/><path class="w" d="M158 303.3L162.5 301.3L167.1 299.1L171.7 297.6L176.3 296.2L180.8 294.9L185.4 293.5L190 292.2L194.6 290.8L199.1 289.5L203.7 288.2L208.3 286.9L212.9 285.5L217.4 284.2L222 282.9L226.6 281.6L231.2 280.3L235.7 279L240.3 277.7L244.9 276.4L249.5 275.1L254 273.8L258.6 272.6L263.2 271.3L267.8 270L272.3 268.7L276.9 267.5L281.5 266.2L286.1 264.9L290.6 263.7L295.2 262.4L299.8 261.2L304.4 259.9L308.9 258.7L313.5 257.4L318.1 256.2L322.7 254.9L327.2 253.7L331.8 252.5L336.4 251.2L341 250L345.5 248.8L350.1 247.5L354.7 246.3L359.3 245.1L363.8 243.9L368.4 242.6L373 241.4L377.6 240.2L382.1 239L386.7 237.7L391.3 236.5L395.9 235.3L400.4 234.1L405 232.9L409.6 231.7L414.2 230.5L418.7 229.2L423.3 228L427.9 226.8L429.7 228.7L425.1 229.9L420.5 231.2L416 232.4L411.4 233.6L406.8 234.8L402.2 236L397.7 237.2L393.1 238.4L388.5 239.6L383.9 240.9L379.4 242.1L374.8 243.3L370.2 244.5L365.6 245.7L361.1 247L356.5 248.2L351.9 249.4L347.3 250.6L342.8 251.9L338.2 253.1L333.6 254.3L329 255.6L324.5 256.8L319.9 258L315.3 259.3L310.7 260.5L306.2 261.8L301.6 263L297 264.3L292.4 265.5L287.9 266.8L283.3 268L278.7 269.3L274.1 270.5L269.6 271.8L265 273.1L260.4 274.3L255.8 275.6L251.3 276.9L246.7 278.2L242.1 279.4L237.5 280.7L233 282L228.4 283.3L223.8 284.6L219.2 285.9L214.7 287.2L210.1 288.5L205.5 289.8L200.9 291.2L196.4 292.5L191.8 293.8L187.2 295.1L182.6 296.4L178.1 297.8L173.5 299.1L168.9 300.6L164.3 302.7L159.8 304.6z"/><path class="k0" d="M158 303.3L162.5 301.3M158 303.3L159.8 304.6"/><path class="k1" d="M162.5 301.3L167.1 299.1L171.7 297.6L176.3 296.2M162.5 301.3L164.3 302.7M167.1 299.1L168.9 300.6M171.7 297.6L173.5 299.1"/><path class="k2" d="M176.3 296.2L180.8 294.9L185.4 293.5L190 292.2L194.6 290.8L199.1 289.5L203.7 288.2L208.3 286.9L212.9 285.5L217.4 284.2L222 282.9L226.6 281.6L231.2 280.3L235.7 279L240.3 277.7M176.3 296.2L178.1 297.8M180.8 294.9L182.6 296.4M185.4 293.5L187.2 295.1M190 292.2L191.8 293.8M194.6 290.8L196.4 292.5M199.1 289.5L200.9 291.2M203.7 288.2L205.5 289.8M208.3 286.9L210.1 288.5M212.9 285.5L214.7 287.2M217.4 284.2L219.2 285.9M222 282.9L223.8 284.6M226.6 281.6L228.4 283.3M231.2 280.3L233 282M235.7 279L237.5 280.7"/><path class="k3" d="M240.3 277.7L244.9 276.4L249.5 275.1L254 273.8L258.6 272.6L263.2 271.3L267.8 270L272.3 268.7L276.9 267.5L281.5 266.2L286.1 264.9L290.6 263.7L295.2 262.4L299.8 261.2L304.4 259.9L308.9 258.7L313.5 257.4L318.1 256.2L322.7 254.9L327.2 253.7L331.8 252.5L336.4 251.2L341 250L345.5 248.8L350.1 247.5L354.7 246.3L359.3 245.1L363.8 243.9L368.4 242.6L373 241.4L377.6 240.2L382.1 239L386.7 237.7L391.3 236.5M240.3 277.7L242.1 279.4M244.9 276.4L246.7 278.2M249.5 275.1L251.3 276.9M254 273.8L255.8 275.6M258.6 272.6L260.4 274.3M263.2 271.3L265 273.1M267.8 270L269.6 271.8M272.3 268.7L274.1 270.5M276.9 267.5L278.7 269.3M281.5 266.2L283.3 268M286.1 264.9L287.9 266.8M290.6 263.7L292.4 265.5M295.2 262.4L297 264.3M299.8 261.2L301.6 263M304.4 259.9L306.2 261.8M308.9 258.7L310.7 260.5M313.5 257.4L315.3 259.3M318.1 256.2L319.9 258M322.7 254.9L324.5 256.8M327.2 253.7L329 255.6M331.8 252.5L333.6 254.3M336.4 251.2L338.2 253.1M341 250L342.8 251.9M345.5 248.8L347.3 250.6M350.1 247.5L351.9 249.4M354.7 246.3L356.5 248.2M359.3 245.1L361.1 247M363.8 243.9L365.6 245.7M368.4 242.6L370.2 244.5M373 241.4L374.8 243.3M377.6 240.2L379.4 242.1M382.1 239L383.9 240.9M386.7 237.7L388.5 239.6"/><path class="k4" d="M391.3 236.5L395.9 235.3L400.4 234.1L405 232.9L409.6 231.7L414.2 230.5L418.7 229.2L423.3 228L427.9 226.8M391.3 236.5L393.1 238.4M395.9 235.3L397.7 237.2M400.4 234.1L402.2 236M405 232.9L406.8 234.8M409.6 231.7L411.4 233.6M414.2 230.5L416 232.4M418.7 229.2L420.5 231.2M423.3 228L425.1 229.9M427.9 226.8L429.7 228.7"/><path class="w" d="M159.8 304.6L164.3 302.7L168.9 300.6L173.5 299.1L178.1 297.8L182.6 296.4L187.2 295.1L191.8 293.8L196.4 292.5L200.9 291.2L205.5 289.8L210.1 288.5L214.7 287.2L219.2 285.9L223.8 284.6L228.4 283.3L233 282L237.5 280.7L242.1 279.4L246.7 278.2L251.3 276.9L255.8 275.6L260.4 274.3L265 273.1L269.6 271.8L274.1 270.5L278.7 269.3L283.3 268L287.9 266.8L292.4 265.5L297 264.3L301.6 263L306.2 261.8L310.7 260.5L315.3 259.3L319.9 258L324.5 256.8L329 255.6L333.6 254.3L338.2 253.1L342.8 251.9L347.3 250.6L351.9 249.4L356.5 248.2L361.1 247L365.6 245.7L370.2 244.5L374.8 243.3L379.4 242.1L383.9 240.9L388.5 239.6L393.1 238.4L397.7 237.2L402.2 236L406.8 234.8L411.4 233.6L416 232.4L420.5 231.2L425.1 229.9L429.7 228.7L431.5 230.6L426.9 231.8L422.3 233L417.8 234.2L413.2 235.4L408.6 236.6L404 237.8L399.5 239L394.9 240.2L390.3 241.5L385.7 242.7L381.2 243.9L376.6 245.1L372 246.3L367.4 247.5L362.9 248.8L358.3 250L353.7 251.2L349.1 252.4L344.6 253.7L340 254.9L335.4 256.1L330.8 257.3L326.2 258.6L321.7 259.8L317.1 261L312.5 262.3L308 263.5L303.4 264.8L298.8 266L294.2 267.3L289.6 268.5L285.1 269.8L280.5 271L275.9 272.3L271.4 273.5L266.8 274.8L262.2 276L257.6 277.3L253.1 278.6L248.5 279.8L243.9 281.1L239.3 282.4L234.8 283.7L230.2 285L225.6 286.2L221 287.5L216.5 288.8L211.9 290.1L207.3 291.4L202.7 292.7L198.2 294L193.6 295.3L189 296.6L184.4 298L179.9 299.3L175.3 300.6L170.7 302.1L166.1 304L161.6 305.8z"/><path class="k0" d="M159.8 304.6L164.3 302.7L168.9 300.6M159.8 304.6L161.6 305.8M164.3 302.7L166.1 304"/><path class="k1" d="M168.9 300.6L173.5 299.1L178.1 297.8L182.6 296.4L187.2 295.1L191.8 293.8L196.4 292.5M168.9 300.6L170.7 302.1M173.5 299.1L175.3 300.6M178.1 297.8L179.9 299.3M182.6 296.4L184.4 298M187.2 295.1L189 296.6M191.8 293.8L193.6 295.3"/><path class="k2" d="M196.4 292.5L200.9 291.2L205.5 289.8L210.1 288.5L214.7 287.2L219.2 285.9L223.8 284.6L228.4 283.3L233 282L237.5 280.7L242.1 279.4L246.7 278.2L251.3 276.9L255.8 275.6L260.4 274.3L265 273.1L269.6 271.8L274.1 270.5L278.7 269.3M196.4 292.5L198.2 294M200.9 291.2L202.7 292.7M205.5 289.8L207.3 291.4M210.1 288.5L211.9 290.1M214.7 287.2L216.5 288.8M219.2 285.9L221 287.5M223.8 284.6L225.6 286.2M228.4 283.3L230.2 285M233 282L234.8 283.7M237.5 280.7L239.3 282.4M242.1 279.4L243.9 281.1M246.7 278.2L248.5 279.8M251.3 276.9L253.1 278.6M255.8 275.6L257.6 277.3M260.4 274.3L262.2 276M265 273.1L266.8 274.8M269.6 271.8L271.4 273.5M274.1 270.5L275.9 272.3"/><path class="k3" d="M278.7 269.3L283.3 268L287.9 266.8L292.4 265.5L297 264.3L301.6 263L306.2 261.8L310.7 260.5L315.3 259.3L319.9 258L324.5 256.8L329 255.6L333.6 254.3L338.2 253.1L342.8 251.9L347.3 250.6L351.9 249.4L356.5 248.2L361.1 247L365.6 245.7L370.2 244.5L374.8 243.3L379.4 242.1L383.9 240.9L388.5 239.6L393.1 238.4L397.7 237.2L402.2 236L406.8 234.8L411.4 233.6L416 232.4L420.5 231.2L425.1 229.9L429.7 228.7M278.7 269.3L280.5 271M283.3 268L285.1 269.8M287.9 266.8L289.6 268.5M292.4 265.5L294.2 267.3M297 264.3L298.8 266M301.6 263L303.4 264.8M306.2 261.8L308 263.5M310.7 260.5L312.5 262.3M315.3 259.3L317.1 261M319.9 258L321.7 259.8M324.5 256.8L326.2 258.6M329 255.6L330.8 257.3M333.6 254.3L335.4 256.1M338.2 253.1L340 254.9M342.8 251.9L344.6 253.7M347.3 250.6L349.1 252.4M351.9 249.4L353.7 251.2M356.5 248.2L358.3 250M361.1 247L362.9 248.8M365.6 245.7L367.4 247.5M370.2 244.5L372 246.3M374.8 243.3L376.6 245.1M379.4 242.1L381.2 243.9M383.9 240.9L385.7 242.7M388.5 239.6L390.3 241.5M393.1 238.4L394.9 240.2M397.7 237.2L399.5 239M402.2 236L404 237.8M406.8 234.8L408.6 236.6M411.4 233.6L413.2 235.4M416 232.4L417.8 234.2M420.5 231.2L422.3 233M425.1 229.9L426.9 231.8M429.7 228.7L431.5 230.6"/><path class="w" d="M161.6 305.8L166.1 304L170.7 302.1L175.3 300.6L179.9 299.3L184.4 298L189 296.6L193.6 295.3L198.2 294L202.7 292.7L207.3 291.4L211.9 290.1L216.5 288.8L221 287.5L225.6 286.2L230.2 285L234.8 283.7L239.3 282.4L243.9 281.1L248.5 279.8L253.1 278.6L257.6 277.3L262.2 276L266.8 274.8L271.4 273.5L275.9 272.3L280.5 271L285.1 269.8L289.6 268.5L294.2 267.3L298.8 266L303.4 264.8L308 263.5L312.5 262.3L317.1 261L321.7 259.8L326.2 258.6L330.8 257.3L335.4 256.1L340 254.9L344.6 253.7L349.1 252.4L353.7 251.2L358.3 250L362.9 248.8L367.4 247.5L372 246.3L376.6 245.1L381.2 243.9L385.7 242.7L390.3 241.5L394.9 240.2L399.5 239L404 237.8L408.6 236.6L413.2 235.4L417.8 234.2L422.3 233L426.9 231.8L431.5 230.6L433.3 232.3L428.7 233.5L424.1 234.7L419.5 235.9L415 237.1L410.4 238.4L405.8 239.6L401.2 240.8L396.7 242L392.1 243.2L387.5 244.4L382.9 245.6L378.4 246.8L373.8 248.1L369.2 249.3L364.6 250.5L360.1 251.7L355.5 252.9L350.9 254.2L346.3 255.4L341.8 256.6L337.2 257.8L332.6 259.1L328 260.3L323.5 261.5L318.9 262.7L314.3 264L309.7 265.2L305.2 266.5L300.6 267.7L296 268.9L291.4 270.2L286.9 271.4L282.3 272.7L277.7 273.9L273.1 275.2L268.6 276.4L264 277.7L259.4 278.9L254.8 280.2L250.3 281.5L245.7 282.7L241.1 284L236.5 285.3L232 286.5L227.4 287.8L222.8 289.1L218.2 290.4L213.7 291.7L209.1 292.9L204.5 294.2L199.9 295.5L195.4 296.8L190.8 298.1L186.2 299.4L181.6 300.7L177.1 302L172.5 303.5L167.9 305.3L163.3 307z"/><path class="k0" d="M161.6 305.8L166.1 304L170.7 302.1M161.6 305.8L163.3 307M166.1 304L167.9 305.3"/><path class="k1" d="M170.7 302.1L175.3 300.6L179.9 299.3L184.4 298L189 296.6L193.6 295.3L198.2 294L202.7 292.7L207.3 291.4L211.9 290.1L216.5 288.8M170.7 302.1L172.5 303.5M175.3 300.6L177.1 302M179.9 299.3L181.6 300.7M184.4 298L186.2 299.4M189 296.6L190.8 298.1M193.6 295.3L195.4 296.8M198.2 294L199.9 295.5M202.7 292.7L204.5 294.2M207.3 291.4L209.1 292.9M211.9 290.1L213.7 291.7"/><path class="k2" d="M216.5 288.8L221 287.5L225.6 286.2L230.2 285L234.8 283.7L239.3 282.4L243.9 281.1L248.5 279.8L253.1 278.6L257.6 277.3L262.2 276L266.8 274.8L271.4 273.5L275.9 272.3L280.5 271L285.1 269.8L289.6 268.5L294.2 267.3L298.8 266L303.4 264.8L308 263.5L312.5 262.3L317.1 261L321.7 259.8L326.2 258.6L330.8 257.3L335.4 256.1L340 254.9M216.5 288.8L218.2 290.4M221 287.5L222.8 289.1M225.6 286.2L227.4 287.8M230.2 285L232 286.5M234.8 283.7L236.5 285.3M239.3 282.4L241.1 284M243.9 281.1L245.7 282.7M248.5 279.8L250.3 281.5M253.1 278.6L254.8 280.2M257.6 277.3L259.4 278.9M262.2 276L264 277.7M266.8 274.8L268.6 276.4M271.4 273.5L273.1 275.2M275.9 272.3L277.7 273.9M280.5 271L282.3 272.7M285.1 269.8L286.9 271.4M289.6 268.5L291.4 270.2M294.2 267.3L296 268.9M298.8 266L300.6 267.7M303.4 264.8L305.2 266.5M308 263.5L309.7 265.2M312.5 262.3L314.3 264M317.1 261L318.9 262.7M321.7 259.8L323.5 261.5M326.2 258.6L328 260.3M330.8 257.3L332.6 259.1M335.4 256.1L337.2 257.8"/><path class="k3" d="M340 254.9L344.6 253.7L349.1 252.4L353.7 251.2L358.3 250L362.9 248.8L367.4 247.5L372 246.3L376.6 245.1L381.2 243.9L385.7 242.7L390.3 241.5L394.9 240.2L399.5 239L404 237.8L408.6 236.6L413.2 235.4L417.8 234.2L422.3 233L426.9 231.8L431.5 230.6M340 254.9L341.8 256.6M344.6 253.7L346.3 255.4M349.1 252.4L350.9 254.2M353.7 251.2L355.5 252.9M358.3 250L360.1 251.7M362.9 248.8L364.6 250.5M367.4 247.5L369.2 249.3M372 246.3L373.8 248.1M376.6 245.1L378.4 246.8M381.2 243.9L382.9 245.6M385.7 242.7L387.5 244.4M390.3 241.5L392.1 243.2M394.9 240.2L396.7 242M399.5 239L401.2 240.8M404 237.8L405.8 239.6M408.6 236.6L410.4 238.4M413.2 235.4L415 237.1M417.8 234.2L419.5 235.9M422.3 233L424.1 234.7M426.9 231.8L428.7 233.5M431.5 230.6L433.3 232.3"/><path class="w" d="M163.3 307L167.9 305.3L172.5 303.5L177.1 302L181.6 300.7L186.2 299.4L190.8 298.1L195.4 296.8L199.9 295.5L204.5 294.2L209.1 292.9L213.7 291.7L218.2 290.4L222.8 289.1L227.4 287.8L232 286.5L236.5 285.3L241.1 284L245.7 282.7L250.3 281.5L254.8 280.2L259.4 278.9L264 277.7L268.6 276.4L273.1 275.2L277.7 273.9L282.3 272.7L286.9 271.4L291.4 270.2L296 268.9L300.6 267.7L305.2 266.5L309.7 265.2L314.3 264L318.9 262.7L323.5 261.5L328 260.3L332.6 259.1L337.2 257.8L341.8 256.6L346.3 255.4L350.9 254.2L355.5 252.9L360.1 251.7L364.6 250.5L369.2 249.3L373.8 248.1L378.4 246.8L382.9 245.6L387.5 244.4L392.1 243.2L396.7 242L401.2 240.8L405.8 239.6L410.4 238.4L415 237.1L419.5 235.9L424.1 234.7L428.7 233.5L433.3 232.3L435.1 234L430.5 235.2L425.9 236.4L421.3 237.6L416.8 238.8L412.2 240L407.6 241.2L403 242.5L398.5 243.7L393.9 244.9L389.3 246.1L384.7 247.3L380.2 248.5L375.6 249.7L371 250.9L366.4 252.2L361.9 253.4L357.3 254.6L352.7 255.8L348.1 257L343.6 258.3L339 259.5L334.4 260.7L329.8 261.9L325.3 263.2L320.7 264.4L316.1 265.6L311.5 266.8L307 268.1L302.4 269.3L297.8 270.5L293.2 271.8L288.7 273L284.1 274.3L279.5 275.5L274.9 276.8L270.4 278L265.8 279.3L261.2 280.5L256.6 281.8L252.1 283L247.5 284.3L242.9 285.5L238.3 286.8L233.8 288.1L229.2 289.3L224.6 290.6L220 291.9L215.5 293.1L210.9 294.4L206.3 295.7L201.7 297L197.2 298.3L192.6 299.5L188 300.8L183.4 302.1L178.9 303.4L174.3 304.8L169.7 306.6L165.1 308.2z"/><path class="k0" d="M163.3 307L167.9 305.3L172.5 303.5M163.3 307L165.1 308.2M167.9 305.3L169.7 306.6"/><path class="k1" d="M172.5 303.5L177.1 302L181.6 300.7L186.2 299.4L190.8 298.1L195.4 296.8L199.9 295.5L204.5 294.2L209.1 292.9L213.7 291.7L218.2 290.4L222.8 289.1L227.4 287.8L232 286.5L236.5 285.3L241.1 284M172.5 303.5L174.3 304.8M177.1 302L178.9 303.4M181.6 300.7L183.4 302.1M186.2 299.4L188 300.8M190.8 298.1L192.6 299.5M195.4 296.8L197.2 298.3M199.9 295.5L201.7 297M204.5 294.2L206.3 295.7M209.1 292.9L210.9 294.4M213.7 291.7L215.5 293.1M218.2 290.4L220 291.9M222.8 289.1L224.6 290.6M227.4 287.8L229.2 289.3M232 286.5L233.8 288.1M236.5 285.3L238.3 286.8"/><path class="k2" d="M241.1 284L245.7 282.7L250.3 281.5L254.8 280.2L259.4 278.9L264 277.7L268.6 276.4L273.1 275.2L277.7 273.9L282.3 272.7L286.9 271.4L291.4 270.2L296 268.9L300.6 267.7L305.2 266.5L309.7 265.2L314.3 264L318.9 262.7L323.5 261.5L328 260.3L332.6 259.1L337.2 257.8L341.8 256.6L346.3 255.4L350.9 254.2L355.5 252.9L360.1 251.7L364.6 250.5L369.2 249.3L373.8 248.1L378.4 246.8L382.9 245.6L387.5 244.4L392.1 243.2L396.7 242L401.2 240.8L405.8 239.6L410.4 238.4L415 237.1L419.5 235.9L424.1 234.7L428.7 233.5L433.3 232.3M241.1 284L242.9 285.5M245.7 282.7L247.5 284.3M250.3 281.5L252.1 283M254.8 280.2L256.6 281.8M259.4 278.9L261.2 280.5M264 277.7L265.8 279.3M268.6 276.4L270.4 278M273.1 275.2L274.9 276.8M277.7 273.9L279.5 275.5M282.3 272.7L284.1 274.3M286.9 271.4L288.7 273M291.4 270.2L293.2 271.8M296 268.9L297.8 270.5M300.6 267.7L302.4 269.3M305.2 266.5L307 268.1M309.7 265.2L311.5 266.8M314.3 264L316.1 265.6M318.9 262.7L320.7 264.4M323.5 261.5L325.3 263.2M328 260.3L329.8 261.9M332.6 259.1L334.4 260.7M337.2 257.8L339 259.5M341.8 256.6L343.6 258.3M346.3 255.4L348.1 257M350.9 254.2L352.7 255.8M355.5 252.9L357.3 254.6M360.1 251.7L361.9 253.4M364.6 250.5L366.4 252.2M369.2 249.3L371 250.9M373.8 248.1L375.6 249.7M378.4 246.8L380.2 248.5M382.9 245.6L384.7 247.3M387.5 244.4L389.3 246.1M392.1 243.2L393.9 244.9M396.7 242L398.5 243.7M401.2 240.8L403 242.5M405.8 239.6L407.6 241.2M410.4 238.4L412.2 240M415 237.1L416.8 238.8M419.5 235.9L421.3 237.6M424.1 234.7L425.9 236.4M428.7 233.5L430.5 235.2M433.3 232.3L435.1 234"/><path class="w" d="M165.1 308.2L169.7 306.6L174.3 304.8L178.9 303.4L183.4 302.1L188 300.8L192.6 299.5L197.2 298.3L201.7 297L206.3 295.7L210.9 294.4L215.5 293.1L220 291.9L224.6 290.6L229.2 289.3L233.8 288.1L238.3 286.8L242.9 285.5L247.5 284.3L252.1 283L256.6 281.8L261.2 280.5L265.8 279.3L270.4 278L274.9 276.8L279.5 275.5L284.1 274.3L288.7 273L293.2 271.8L297.8 270.5L302.4 269.3L307 268.1L311.5 266.8L316.1 265.6L320.7 264.4L325.3 263.2L329.8 261.9L334.4 260.7L339 259.5L343.6 258.3L348.1 257L352.7 255.8L357.3 254.6L361.9 253.4L366.4 252.2L371 250.9L375.6 249.7L380.2 248.5L384.7 247.3L389.3 246.1L393.9 244.9L398.5 243.7L403 242.5L407.6 241.2L412.2 240L416.8 238.8L421.3 237.6L425.9 236.4L430.5 235.2L435.1 234L436.8 235.6L432.3 236.8L427.7 238L423.1 239.2L418.5 240.5L414 241.7L409.4 242.9L404.8 244.1L400.2 245.3L395.7 246.5L391.1 247.7L386.5 248.9L381.9 250.1L377.4 251.3L372.8 252.5L368.2 253.8L363.6 255L359.1 256.2L354.5 257.4L349.9 258.6L345.3 259.8L340.8 261.1L336.2 262.3L331.6 263.5L327 264.7L322.5 266L317.9 267.2L313.3 268.4L308.7 269.6L304.2 270.9L299.6 272.1L295 273.3L290.4 274.6L285.9 275.8L281.3 277L276.7 278.3L272.1 279.5L267.6 280.8L263 282L258.4 283.3L253.8 284.5L249.3 285.8L244.7 287L240.1 288.3L235.5 289.5L231 290.8L226.4 292L221.8 293.3L217.2 294.6L212.7 295.8L208.1 297.1L203.5 298.4L198.9 299.7L194.4 300.9L189.8 302.2L185.2 303.5L180.6 304.7L176.1 306.1L171.5 307.8L166.9 309.3z"/><path class="k0" d="M165.1 308.2L169.7 306.6L174.3 304.8L178.9 303.4M165.1 308.2L166.9 309.3M169.7 306.6L171.5 307.8M174.3 304.8L176.1 306.1"/><path class="k1" d="M178.9 303.4L183.4 302.1L188 300.8L192.6 299.5L197.2 298.3L201.7 297L206.3 295.7L210.9 294.4L215.5 293.1L220 291.9L224.6 290.6L229.2 289.3L233.8 288.1L238.3 286.8L242.9 285.5L247.5 284.3L252.1 283L256.6 281.8L261.2 280.5L265.8 279.3L270.4 278L274.9 276.8M178.9 303.4L180.6 304.7M183.4 302.1L185.2 303.5M188 300.8L189.8 302.2M192.6 299.5L194.4 300.9M197.2 298.3L198.9 299.7M201.7 297L203.5 298.4M206.3 295.7L208.1 297.1M210.9 294.4L212.7 295.8M215.5 293.1L217.2 294.6M220 291.9L221.8 293.3M224.6 290.6L226.4 292M229.2 289.3L231 290.8M233.8 288.1L235.5 289.5M238.3 286.8L240.1 288.3M242.9 285.5L244.7 287M247.5 284.3L249.3 285.8M252.1 283L253.8 284.5M256.6 281.8L258.4 283.3M261.2 280.5L263 282M265.8 279.3L267.6 280.8M270.4 278L272.1 279.5"/><path class="k2" d="M274.9 276.8L279.5 275.5L284.1 274.3L288.7 273L293.2 271.8L297.8 270.5L302.4 269.3L307 268.1L311.5 266.8L316.1 265.6L320.7 264.4L325.3 263.2L329.8 261.9L334.4 260.7L339 259.5L343.6 258.3L348.1 257L352.7 255.8L357.3 254.6L361.9 253.4L366.4 252.2L371 250.9L375.6 249.7L380.2 248.5L384.7 247.3L389.3 246.1L393.9 244.9L398.5 243.7L403 242.5L407.6 241.2L412.2 240L416.8 238.8L421.3 237.6L425.9 236.4L430.5 235.2L435.1 234M274.9 276.8L276.7 278.3M279.5 275.5L281.3 277M284.1 274.3L285.9 275.8M288.7 273L290.4 274.6M293.2 271.8L295 273.3M297.8 270.5L299.6 272.1M302.4 269.3L304.2 270.9M307 268.1L308.7 269.6M311.5 266.8L313.3 268.4M316.1 265.6L317.9 267.2M320.7 264.4L322.5 266M325.3 263.2L327 264.7M329.8 261.9L331.6 263.5M334.4 260.7L336.2 262.3M339 259.5L340.8 261.1M343.6 258.3L345.3 259.8M348.1 257L349.9 258.6M352.7 255.8L354.5 257.4M357.3 254.6L359.1 256.2M361.9 253.4L363.6 255M366.4 252.2L368.2 253.8M371 250.9L372.8 252.5M375.6 249.7L377.4 251.3M380.2 248.5L381.9 250.1M384.7 247.3L386.5 248.9M389.3 246.1L391.1 247.7M393.9 244.9L395.7 246.5M398.5 243.7L400.2 245.3M403 242.5L404.8 244.1M407.6 241.2L409.4 242.9M412.2 240L414 241.7M416.8 238.8L418.5 240.5M421.3 237.6L423.1 239.2M425.9 236.4L427.7 238M430.5 235.2L432.3 236.8M435.1 234L436.8 235.6"/><path class="w" d="M166.9 309.3L171.5 307.8L176.1 306.1L180.6 304.7L185.2 303.5L189.8 302.2L194.4 300.9L198.9 299.7L203.5 298.4L208.1 297.1L212.7 295.8L217.2 294.6L221.8 293.3L226.4 292L231 290.8L235.5 289.5L240.1 288.3L244.7 287L249.3 285.8L253.8 284.5L258.4 283.3L263 282L267.6 280.8L272.1 279.5L276.7 278.3L281.3 277L285.9 275.8L290.4 274.6L295 273.3L299.6 272.1L304.2 270.9L308.7 269.6L313.3 268.4L317.9 267.2L322.5 266L327 264.7L331.6 263.5L336.2 262.3L340.8 261.1L345.3 259.8L349.9 258.6L354.5 257.4L359.1 256.2L363.6 255L368.2 253.8L372.8 252.5L377.4 251.3L381.9 250.1L386.5 248.9L391.1 247.7L395.7 246.5L400.2 245.3L404.8 244.1L409.4 242.9L414 241.7L418.5 240.5L423.1 239.2L427.7 238L432.3 236.8L436.8 235.6L438.6 237.2L434.1 238.4L429.5 239.6L424.9 240.8L420.3 242L415.8 243.2L411.2 244.4L406.6 245.6L402 246.8L397.5 248L392.9 249.3L388.3 250.5L383.7 251.7L379.2 252.9L374.6 254.1L370 255.3L365.4 256.5L360.9 257.7L356.3 258.9L351.7 260.2L347.1 261.4L342.6 262.6L338 263.8L333.4 265L328.8 266.3L324.3 267.5L319.7 268.7L315.1 269.9L310.5 271.1L306 272.4L301.4 273.6L296.8 274.8L292.2 276.1L287.7 277.3L283.1 278.5L278.5 279.8L273.9 281L269.4 282.2L264.8 283.5L260.2 284.7L255.6 286L251.1 287.2L246.5 288.5L241.9 289.7L237.3 291L232.8 292.2L228.2 293.5L223.6 294.7L219 296L214.5 297.2L209.9 298.5L205.3 299.7L200.7 301L196.2 302.3L191.6 303.5L187 304.8L182.4 306.1L177.9 307.4L173.3 309L168.7 310.5z"/><path class="k0" d="M166.9 309.3L171.5 307.8L176.1 306.1L180.6 304.7L185.2 303.5L189.8 302.2M166.9 309.3L168.7 310.5M171.5 307.8L173.3 309M176.1 306.1L177.9 307.4M180.6 304.7L182.4 306.1M185.2 303.5L187 304.8"/><path class="k1" d="M189.8 302.2L194.4 300.9L198.9 299.7L203.5 298.4L208.1 297.1L212.7 295.8L217.2 294.6L221.8 293.3L226.4 292L231 290.8L235.5 289.5L240.1 288.3L244.7 287L249.3 285.8L253.8 284.5L258.4 283.3L263 282L267.6 280.8L272.1 279.5L276.7 278.3L281.3 277L285.9 275.8L290.4 274.6L295 273.3L299.6 272.1L304.2 270.9L308.7 269.6L313.3 268.4L317.9 267.2L322.5 266L327 264.7M189.8 302.2L191.6 303.5M194.4 300.9L196.2 302.3M198.9 299.7L200.7 301M203.5 298.4L205.3 299.7M208.1 297.1L209.9 298.5M212.7 295.8L214.5 297.2M217.2 294.6L219 296M221.8 293.3L223.6 294.7M226.4 292L228.2 293.5M231 290.8L232.8 292.2M235.5 289.5L237.3 291M240.1 288.3L241.9 289.7M244.7 287L246.5 288.5M249.3 285.8L251.1 287.2M253.8 284.5L255.6 286M258.4 283.3L260.2 284.7M263 282L264.8 283.5M267.6 280.8L269.4 282.2M272.1 279.5L273.9 281M276.7 278.3L278.5 279.8M281.3 277L283.1 278.5M285.9 275.8L287.7 277.3M290.4 274.6L292.2 276.1M295 273.3L296.8 274.8M299.6 272.1L301.4 273.6M304.2 270.9L306 272.4M308.7 269.6L310.5 271.1M313.3 268.4L315.1 269.9M317.9 267.2L319.7 268.7M322.5 266L324.3 267.5"/><path class="k2" d="M327 264.7L331.6 263.5L336.2 262.3L340.8 261.1L345.3 259.8L349.9 258.6L354.5 257.4L359.1 256.2L363.6 255L368.2 253.8L372.8 252.5L377.4 251.3L381.9 250.1L386.5 248.9L391.1 247.7L395.7 246.5L400.2 245.3L404.8 244.1L409.4 242.9L414 241.7L418.5 240.5L423.1 239.2L427.7 238L432.3 236.8L436.8 235.6M327 264.7L328.8 266.3M331.6 263.5L333.4 265M336.2 262.3L338 263.8M340.8 261.1L342.6 262.6M345.3 259.8L347.1 261.4M349.9 258.6L351.7 260.2M354.5 257.4L356.3 258.9M359.1 256.2L360.9 257.7M363.6 255L365.4 256.5M368.2 253.8L370 255.3M372.8 252.5L374.6 254.1M377.4 251.3L379.2 252.9M381.9 250.1L383.7 251.7M386.5 248.9L388.3 250.5M391.1 247.7L392.9 249.3M395.7 246.5L397.5 248M400.2 245.3L402 246.8M404.8 244.1L406.6 245.6M409.4 242.9L411.2 244.4M414 241.7L415.8 243.2M418.5 240.5L420.3 242M423.1 239.2L424.9 240.8M427.7 238L429.5 239.6M432.3 236.8L434.1 238.4M436.8 235.6L438.6 237.2"/><path class="w" d="M168.7 310.5L173.3 309L177.9 307.4L182.4 306.1L187 304.8L191.6 303.5L196.2 302.3L200.7 301L205.3 299.7L209.9 298.5L214.5 297.2L219 296L223.6 294.7L228.2 293.5L232.8 292.2L237.3 291L241.9 289.7L246.5 288.5L251.1 287.2L255.6 286L260.2 284.7L264.8 283.5L269.4 282.2L273.9 281L278.5 279.8L283.1 278.5L287.7 277.3L292.2 276.1L296.8 274.8L301.4 273.6L306 272.4L310.5 271.1L315.1 269.9L319.7 268.7L324.3 267.5L328.8 266.3L333.4 265L338 263.8L342.6 262.6L347.1 261.4L351.7 260.2L356.3 258.9L360.9 257.7L365.4 256.5L370 255.3L374.6 254.1L379.2 252.9L383.7 251.7L388.3 250.5L392.9 249.3L397.5 248L402 246.8L406.6 245.6L411.2 244.4L415.8 243.2L420.3 242L424.9 240.8L429.5 239.6L434.1 238.4L438.6 237.2L440.4 238.7L435.9 239.9L431.3 241.1L426.7 242.3L422.1 243.5L417.6 244.7L413 245.9L408.4 247.1L403.8 248.3L399.2 249.5L394.7 250.8L390.1 252L385.5 253.2L381 254.4L376.4 255.6L371.8 256.8L367.2 258L362.6 259.2L358.1 260.4L353.5 261.6L348.9 262.9L344.4 264.1L339.8 265.3L335.2 266.5L330.6 267.7L326.1 268.9L321.5 270.2L316.9 271.4L312.3 272.6L307.8 273.8L303.2 275.1L298.6 276.3L294 277.5L289.4 278.7L284.9 280L280.3 281.2L275.7 282.4L271.1 283.7L266.6 284.9L262 286.1L257.4 287.4L252.9 288.6L248.3 289.8L243.7 291.1L239.1 292.3L234.6 293.6L230 294.8L225.4 296.1L220.8 297.3L216.2 298.6L211.7 299.8L207.1 301.1L202.5 302.3L197.9 303.6L193.4 304.8L188.8 306.1L184.2 307.3L179.7 308.7L175.1 310.2L170.5 311.6z"/><path class="k0" d="M168.7 310.5L173.3 309L177.9 307.4L182.4 306.1L187 304.8L191.6 303.5L196.2 302.3L200.7 301L205.3 299.7L209.9 298.5M168.7 310.5L170.5 311.6M173.3 309L175.1 310.2M177.9 307.4L179.7 308.7M182.4 306.1L184.2 307.3M187 304.8L188.8 306.1M191.6 303.5L193.4 304.8M196.2 302.3L197.9 303.6M200.7 301L202.5 302.3M205.3 299.7L207.1 301.1"/><path class="k1" d="M209.9 298.5L214.5 297.2L219 296L223.6 294.7L228.2 293.5L232.8 292.2L237.3 291L241.9 289.7L246.5 288.5L251.1 287.2L255.6 286L260.2 284.7L264.8 283.5L269.4 282.2L273.9 281L278.5 279.8L283.1 278.5L287.7 277.3L292.2 276.1L296.8 274.8L301.4 273.6L306 272.4L310.5 271.1L315.1 269.9L319.7 268.7L324.3 267.5L328.8 266.3L333.4 265L338 263.8L342.6 262.6L347.1 261.4L351.7 260.2L356.3 258.9L360.9 257.7L365.4 256.5L370 255.3L374.6 254.1L379.2 252.9L383.7 251.7L388.3 250.5L392.9 249.3L397.5 248L402 246.8L406.6 245.6L411.2 244.4L415.8 243.2L420.3 242L424.9 240.8L429.5 239.6L434.1 238.4L438.6 237.2M209.9 298.5L211.7 299.8M214.5 297.2L216.2 298.6M219 296L220.8 297.3M223.6 294.7L225.4 296.1M228.2 293.5L230 294.8M232.8 292.2L234.6 293.6M237.3 291L239.1 292.3M241.9 289.7L243.7 291.1M246.5 288.5L248.3 289.8M251.1 287.2L252.9 288.6M255.6 286L257.4 287.4M260.2 284.7L262 286.1M264.8 283.5L266.6 284.9M269.4 282.2L271.1 283.7M273.9 281L275.7 282.4M278.5 279.8L280.3 281.2M283.1 278.5L284.9 280M287.7 277.3L289.4 278.7M292.2 276.1L294 277.5M296.8 274.8L298.6 276.3M301.4 273.6L303.2 275.1M306 272.4L307.8 273.8M310.5 271.1L312.3 272.6M315.1 269.9L316.9 271.4M319.7 268.7L321.5 270.2M324.3 267.5L326.1 268.9M328.8 266.3L330.6 267.7M333.4 265L335.2 266.5M338 263.8L339.8 265.3M342.6 262.6L344.4 264.1M347.1 261.4L348.9 262.9M351.7 260.2L353.5 261.6M356.3 258.9L358.1 260.4M360.9 257.7L362.6 259.2M365.4 256.5L367.2 258M370 255.3L371.8 256.8M374.6 254.1L376.4 255.6M379.2 252.9L381 254.4M383.7 251.7L385.5 253.2M388.3 250.5L390.1 252M392.9 249.3L394.7 250.8M397.5 248L399.2 249.5M402 246.8L403.8 248.3M406.6 245.6L408.4 247.1M411.2 244.4L413 245.9M415.8 243.2L417.6 244.7M420.3 242L422.1 243.5M424.9 240.8L426.7 242.3M429.5 239.6L431.3 241.1M434.1 238.4L435.9 239.9M438.6 237.2L440.4 238.7"/><path class="w" d="M170.5 311.6L175.1 310.2L179.7 308.7L184.2 307.3L188.8 306.1L193.4 304.8L197.9 303.6L202.5 302.3L207.1 301.1L211.7 299.8L216.2 298.6L220.8 297.3L225.4 296.1L230 294.8L234.6 293.6L239.1 292.3L243.7 291.1L248.3 289.8L252.9 288.6L257.4 287.4L262 286.1L266.6 284.9L271.1 283.7L275.7 282.4L280.3 281.2L284.9 280L289.4 278.7L294 277.5L298.6 276.3L303.2 275.1L307.8 273.8L312.3 272.6L316.9 271.4L321.5 270.2L326.1 268.9L330.6 267.7L335.2 266.5L339.8 265.3L344.4 264.1L348.9 262.9L353.5 261.6L358.1 260.4L362.6 259.2L367.2 258L371.8 256.8L376.4 255.6L381 254.4L385.5 253.2L390.1 252L394.7 250.8L399.2 249.5L403.8 248.3L408.4 247.1L413 245.9L417.6 244.7L422.1 243.5L426.7 242.3L431.3 241.1L435.9 239.9L440.4 238.7L442.2 240.2L437.6 241.4L433.1 242.6L428.5 243.8L423.9 245L419.3 246.2L414.8 247.4L410.2 248.6L405.6 249.8L401 251L396.5 252.2L391.9 253.4L387.3 254.6L382.7 255.8L378.2 257L373.6 258.2L369 259.5L364.4 260.7L359.9 261.9L355.3 263.1L350.7 264.3L346.1 265.5L341.6 266.7L337 267.9L332.4 269.2L327.8 270.4L323.3 271.6L318.7 272.8L314.1 274L309.5 275.2L305 276.5L300.4 277.7L295.8 278.9L291.2 280.1L286.7 281.4L282.1 282.6L277.5 283.8L272.9 285L268.4 286.3L263.8 287.5L259.2 288.7L254.6 290L250.1 291.2L245.5 292.4L240.9 293.7L236.3 294.9L231.8 296.2L227.2 297.4L222.6 298.6L218 299.9L213.5 301.1L208.9 302.4L204.3 303.6L199.7 304.9L195.2 306.1L190.6 307.3L186 308.6L181.4 309.9L176.9 311.4L172.3 312.8z"/><path class="k0" d="M170.5 311.6L175.1 310.2L179.7 308.7L184.2 307.3L188.8 306.1L193.4 304.8L197.9 303.6L202.5 302.3L207.1 301.1L211.7 299.8L216.2 298.6L220.8 297.3L225.4 296.1L230 294.8M170.5 311.6L172.3 312.8M175.1 310.2L176.9 311.4M179.7 308.7L181.4 309.9M184.2 307.3L186 308.6M188.8 306.1L190.6 307.3M193.4 304.8L195.2 306.1M197.9 303.6L199.7 304.9M202.5 302.3L204.3 303.6M207.1 301.1L208.9 302.4M211.7 299.8L213.5 301.1M216.2 298.6L218 299.9M220.8 297.3L222.6 298.6M225.4 296.1L227.2 297.4"/><path class="k1" d="M230 294.8L234.6 293.6L239.1 292.3L243.7 291.1L248.3 289.8L252.9 288.6L257.4 287.4L262 286.1L266.6 284.9L271.1 283.7L275.7 282.4L280.3 281.2L284.9 280L289.4 278.7L294 277.5L298.6 276.3L303.2 275.1L307.8 273.8L312.3 272.6L316.9 271.4L321.5 270.2L326.1 268.9L330.6 267.7L335.2 266.5L339.8 265.3L344.4 264.1L348.9 262.9L353.5 261.6L358.1 260.4L362.6 259.2L367.2 258L371.8 256.8L376.4 255.6L381 254.4L385.5 253.2L390.1 252L394.7 250.8L399.2 249.5L403.8 248.3L408.4 247.1L413 245.9L417.6 244.7L422.1 243.5L426.7 242.3L431.3 241.1L435.9 239.9L440.4 238.7M230 294.8L231.8 296.2M234.6 293.6L236.3 294.9M239.1 292.3L240.9 293.7M243.7 291.1L245.5 292.4M248.3 289.8L250.1 291.2M252.9 288.6L254.6 290M257.4 287.4L259.2 288.7M262 286.1L263.8 287.5M266.6 284.9L268.4 286.3M271.1 283.7L272.9 285M275.7 282.4L277.5 283.8M280.3 281.2L282.1 282.6M284.9 280L286.7 281.4M289.4 278.7L291.2 280.1M294 277.5L295.8 278.9M298.6 276.3L300.4 277.7M303.2 275.1L305 276.5M307.8 273.8L309.5 275.2M312.3 272.6L314.1 274M316.9 271.4L318.7 272.8M321.5 270.2L323.3 271.6M326.1 268.9L327.8 270.4M330.6 267.7L332.4 269.2M335.2 266.5L337 267.9M339.8 265.3L341.6 266.7M344.4 264.1L346.1 265.5M348.9 262.9L350.7 264.3M353.5 261.6L355.3 263.1M358.1 260.4L359.9 261.9M362.6 259.2L364.4 260.7M367.2 258L369 259.5M371.8 256.8L373.6 258.2M376.4 255.6L378.2 257M381 254.4L382.7 255.8M385.5 253.2L387.3 254.6M390.1 252L391.9 253.4M394.7 250.8L396.5 252.2M399.2 249.5L401 251M403.8 248.3L405.6 249.8M408.4 247.1L410.2 248.6M413 245.9L414.8 247.4M417.6 244.7L419.3 246.2M422.1 243.5L423.9 245M426.7 242.3L428.5 243.8M431.3 241.1L433.1 242.6M435.9 239.9L437.6 241.4M440.4 238.7L442.2 240.2"/><path class="w" d="M172.3 312.8L176.9 311.4L181.4 309.9L186 308.6L190.6 307.3L195.2 306.1L199.7 304.9L204.3 303.6L208.9 302.4L213.5 301.1L218 299.9L222.6 298.6L227.2 297.4L231.8 296.2L236.3 294.9L240.9 293.7L245.5 292.4L250.1 291.2L254.6 290L259.2 288.7L263.8 287.5L268.4 286.3L272.9 285L277.5 283.8L282.1 282.6L286.7 281.4L291.2 280.1L295.8 278.9L300.4 277.7L305 276.5L309.5 275.2L314.1 274L318.7 272.8L323.3 271.6L327.8 270.4L332.4 269.2L337 267.9L341.6 266.7L346.1 265.5L350.7 264.3L355.3 263.1L359.9 261.9L364.4 260.7L369 259.5L373.6 258.2L378.2 257L382.7 255.8L387.3 254.6L391.9 253.4L396.5 252.2L401 251L405.6 249.8L410.2 248.6L414.8 247.4L419.3 246.2L423.9 245L428.5 243.8L433.1 242.6L437.6 241.4L442.2 240.2L444 241.6L439.4 242.8L434.9 244L430.3 245.2L425.7 246.4L421.1 247.6L416.6 248.8L412 250L407.4 251.2L402.8 252.4L398.3 253.6L393.7 254.8L389.1 256L384.5 257.2L380 258.4L375.4 259.7L370.8 260.9L366.2 262.1L361.7 263.3L357.1 264.5L352.5 265.7L347.9 266.9L343.4 268.1L338.8 269.3L334.2 270.5L329.6 271.8L325.1 273L320.5 274.2L315.9 275.4L311.3 276.6L306.8 277.8L302.2 279.1L297.6 280.3L293 281.5L288.5 282.7L283.9 283.9L279.3 285.2L274.7 286.4L270.2 287.6L265.6 288.8L261 290.1L256.4 291.3L251.9 292.5L247.3 293.8L242.7 295L238.1 296.2L233.6 297.5L229 298.7L224.4 299.9L219.8 301.2L215.3 302.4L210.7 303.6L206.1 304.9L201.5 306.1L197 307.4L192.4 308.6L187.8 309.8L183.2 311.1L178.7 312.6L174.1 313.9z"/><path class="k0" d="M172.3 312.8L176.9 311.4L181.4 309.9L186 308.6L190.6 307.3L195.2 306.1L199.7 304.9L204.3 303.6L208.9 302.4L213.5 301.1L218 299.9L222.6 298.6L227.2 297.4L231.8 296.2L236.3 294.9L240.9 293.7L245.5 292.4L250.1 291.2L254.6 290M172.3 312.8L174.1 313.9M176.9 311.4L178.7 312.6M181.4 309.9L183.2 311.1M186 308.6L187.8 309.8M190.6 307.3L192.4 308.6M195.2 306.1L197 307.4M199.7 304.9L201.5 306.1M204.3 303.6L206.1 304.9M208.9 302.4L210.7 303.6M213.5 301.1L215.3 302.4M218 299.9L219.8 301.2M222.6 298.6L224.4 299.9M227.2 297.4L229 298.7M231.8 296.2L233.6 297.5M236.3 294.9L238.1 296.2M240.9 293.7L242.7 295M245.5 292.4L247.3 293.8M250.1 291.2L251.9 292.5"/><path class="k1" d="M254.6 290L259.2 288.7L263.8 287.5L268.4 286.3L272.9 285L277.5 283.8L282.1 282.6L286.7 281.4L291.2 280.1L295.8 278.9L300.4 277.7L305 276.5L309.5 275.2L314.1 274L318.7 272.8L323.3 271.6L327.8 270.4L332.4 269.2L337 267.9L341.6 266.7L346.1 265.5L350.7 264.3L355.3 263.1L359.9 261.9L364.4 260.7L369 259.5L373.6 258.2L378.2 257L382.7 255.8L387.3 254.6L391.9 253.4L396.5 252.2L401 251L405.6 249.8L410.2 248.6L414.8 247.4L419.3 246.2L423.9 245L428.5 243.8L433.1 242.6L437.6 241.4L442.2 240.2M254.6 290L256.4 291.3M259.2 288.7L261 290.1M263.8 287.5L265.6 288.8M268.4 286.3L270.2 287.6M272.9 285L274.7 286.4M277.5 283.8L279.3 285.2M282.1 282.6L283.9 283.9M286.7 281.4L288.5 282.7M291.2 280.1L293 281.5M295.8 278.9L297.6 280.3M300.4 277.7L302.2 279.1M305 276.5L306.8 277.8M309.5 275.2L311.3 276.6M314.1 274L315.9 275.4M318.7 272.8L320.5 274.2M323.3 271.6L325.1 273M327.8 270.4L329.6 271.8M332.4 269.2L334.2 270.5M337 267.9L338.8 269.3M341.6 266.7L343.4 268.1M346.1 265.5L347.9 266.9M350.7 264.3L352.5 265.7M355.3 263.1L357.1 264.5M359.9 261.9L361.7 263.3M364.4 260.7L366.2 262.1M369 259.5L370.8 260.9M373.6 258.2L375.4 259.7M378.2 257L380 258.4M382.7 255.8L384.5 257.2M387.3 254.6L389.1 256M391.9 253.4L393.7 254.8M396.5 252.2L398.3 253.6M401 251L402.8 252.4M405.6 249.8L407.4 251.2M410.2 248.6L412 250M414.8 247.4L416.6 248.8M419.3 246.2L421.1 247.6M423.9 245L425.7 246.4M428.5 243.8L430.3 245.2M433.1 242.6L434.9 244M437.6 241.4L439.4 242.8M442.2 240.2L444 241.6"/><path class="w" d="M174.1 313.9L178.7 312.6L183.2 311.1L187.8 309.8L192.4 308.6L197 307.4L201.5 306.1L206.1 304.9L210.7 303.6L215.3 302.4L219.8 301.2L224.4 299.9L229 298.7L233.6 297.5L238.1 296.2L242.7 295L247.3 293.8L251.9 292.5L256.4 291.3L261 290.1L265.6 288.8L270.2 287.6L274.7 286.4L279.3 285.2L283.9 283.9L288.5 282.7L293 281.5L297.6 280.3L302.2 279.1L306.8 277.8L311.3 276.6L315.9 275.4L320.5 274.2L325.1 273L329.6 271.8L334.2 270.5L338.8 269.3L343.4 268.1L347.9 266.9L352.5 265.7L357.1 264.5L361.7 263.3L366.2 262.1L370.8 260.9L375.4 259.7L380 258.4L384.5 257.2L389.1 256L393.7 254.8L398.3 253.6L402.8 252.4L407.4 251.2L412 250L416.6 248.8L421.1 247.6L425.7 246.4L430.3 245.2L434.9 244L439.4 242.8L444 241.6L445.8 243L441.2 244.2L436.6 245.4L432.1 246.6L427.5 247.8L422.9 249L418.3 250.2L413.8 251.4L409.2 252.6L404.6 253.8L400 255L395.5 256.2L390.9 257.4L386.3 258.6L381.7 259.8L377.2 261L372.6 262.2L368 263.4L363.4 264.6L358.9 265.8L354.3 267.1L349.7 268.3L345.1 269.5L340.6 270.7L336 271.9L331.4 273.1L326.8 274.3L322.3 275.5L317.7 276.7L313.1 278L308.5 279.2L304 280.4L299.4 281.6L294.8 282.8L290.2 284L285.7 285.3L281.1 286.5L276.5 287.7L271.9 288.9L267.4 290.1L262.8 291.4L258.2 292.6L253.6 293.8L249.1 295L244.5 296.3L239.9 297.5L235.3 298.7L230.8 300L226.2 301.2L221.6 302.4L217 303.7L212.5 304.9L207.9 306.1L203.3 307.3L198.7 308.6L194.2 309.8L189.6 311L185 312.3L180.4 313.7L175.9 315z"/><path class="k0" d="M174.1 313.9L178.7 312.6L183.2 311.1L187.8 309.8L192.4 308.6L197 307.4L201.5 306.1L206.1 304.9L210.7 303.6L215.3 302.4L219.8 301.2L224.4 299.9L229 298.7L233.6 297.5L238.1 296.2L242.7 295L247.3 293.8L251.9 292.5L256.4 291.3L261 290.1L265.6 288.8L270.2 287.6L274.7 286.4L279.3 285.2L283.9 283.9M174.1 313.9L175.9 315M178.7 312.6L180.4 313.7M183.2 311.1L185 312.3M187.8 309.8L189.6 311M192.4 308.6L194.2 309.8M197 307.4L198.7 308.6M201.5 306.1L203.3 307.3M206.1 304.9L207.9 306.1M210.7 303.6L212.5 304.9M215.3 302.4L217 303.7M219.8 301.2L221.6 302.4M224.4 299.9L226.2 301.2M229 298.7L230.8 300M233.6 297.5L235.3 298.7M238.1 296.2L239.9 297.5M242.7 295L244.5 296.3M247.3 293.8L249.1 295M251.9 292.5L253.6 293.8M256.4 291.3L258.2 292.6M261 290.1L262.8 291.4M265.6 288.8L267.4 290.1M270.2 287.6L271.9 288.9M274.7 286.4L276.5 287.7M279.3 285.2L281.1 286.5"/><path class="k1" d="M283.9 283.9L288.5 282.7L293 281.5L297.6 280.3L302.2 279.1L306.8 277.8L311.3 276.6L315.9 275.4L320.5 274.2L325.1 273L329.6 271.8L334.2 270.5L338.8 269.3L343.4 268.1L347.9 266.9L352.5 265.7L357.1 264.5L361.7 263.3L366.2 262.1L370.8 260.9L375.4 259.7L380 258.4L384.5 257.2L389.1 256L393.7 254.8L398.3 253.6L402.8 252.4L407.4 251.2L412 250L416.6 248.8L421.1 247.6L425.7 246.4L430.3 245.2L434.9 244L439.4 242.8L444 241.6M283.9 283.9L285.7 285.3M288.5 282.7L290.2 284M293 281.5L294.8 282.8M297.6 280.3L299.4 281.6M302.2 279.1L304 280.4M306.8 277.8L308.5 279.2M311.3 276.6L313.1 278M315.9 275.4L317.7 276.7M320.5 274.2L322.3 275.5M325.1 273L326.8 274.3M329.6 271.8L331.4 273.1M334.2 270.5L336 271.9M338.8 269.3L340.6 270.7M343.4 268.1L345.1 269.5M347.9 266.9L349.7 268.3M352.5 265.7L354.3 267.1M357.1 264.5L358.9 265.8M361.7 263.3L363.4 264.6M366.2 262.1L368 263.4M370.8 260.9L372.6 262.2M375.4 259.7L377.2 261M380 258.4L381.7 259.8M384.5 257.2L386.3 258.6M389.1 256L390.9 257.4M393.7 254.8L395.5 256.2M398.3 253.6L400 255M402.8 252.4L404.6 253.8M407.4 251.2L409.2 252.6M412 250L413.8 251.4M416.6 248.8L418.3 250.2M421.1 247.6L422.9 249M425.7 246.4L427.5 247.8M430.3 245.2L432.1 246.6M434.9 244L436.6 245.4M439.4 242.8L441.2 244.2M444 241.6L445.8 243"/><path class="w" d="M175.9 315L180.4 313.7L185 312.3L189.6 311L194.2 309.8L198.7 308.6L203.3 307.3L207.9 306.1L212.5 304.9L217 303.7L221.6 302.4L226.2 301.2L230.8 300L235.3 298.7L239.9 297.5L244.5 296.3L249.1 295L253.6 293.8L258.2 292.6L262.8 291.4L267.4 290.1L271.9 288.9L276.5 287.7L281.1 286.5L285.7 285.3L290.2 284L294.8 282.8L299.4 281.6L304 280.4L308.5 279.2L313.1 278L317.7 276.7L322.3 275.5L326.8 274.3L331.4 273.1L336 271.9L340.6 270.7L345.1 269.5L349.7 268.3L354.3 267.1L358.9 265.8L363.4 264.6L368 263.4L372.6 262.2L377.2 261L381.7 259.8L386.3 258.6L390.9 257.4L395.5 256.2L400 255L404.6 253.8L409.2 252.6L413.8 251.4L418.3 250.2L422.9 249L427.5 247.8L432.1 246.6L436.6 245.4L441.2 244.2L445.8 243L447.6 244.3L443 245.5L438.4 246.7L433.9 247.9L429.3 249.1L424.7 250.3L420.1 251.5L415.6 252.7L411 253.9L406.4 255.1L401.8 256.3L397.3 257.5L392.7 258.7L388.1 259.9L383.5 261.2L379 262.4L374.4 263.6L369.8 264.8L365.2 266L360.7 267.2L356.1 268.4L351.5 269.6L346.9 270.8L342.4 272L337.8 273.2L333.2 274.4L328.6 275.6L324.1 276.8L319.5 278.1L314.9 279.3L310.3 280.5L305.8 281.7L301.2 282.9L296.6 284.1L292 285.3L287.5 286.6L282.9 287.8L278.3 289L273.7 290.2L269.2 291.4L264.6 292.6L260 293.9L255.4 295.1L250.9 296.3L246.3 297.5L241.7 298.8L237.1 300L232.6 301.2L228 302.4L223.4 303.7L218.8 304.9L214.3 306.1L209.7 307.3L205.1 308.6L200.5 309.8L196 311L191.4 312.2L186.8 313.5L182.2 314.9L177.7 316.2z"/><path class="k0" d="M175.9 315L180.4 313.7L185 312.3L189.6 311L194.2 309.8L198.7 308.6L203.3 307.3L207.9 306.1L212.5 304.9L217 303.7L221.6 302.4L226.2 301.2L230.8 300L235.3 298.7L239.9 297.5L244.5 296.3L249.1 295L253.6 293.8L258.2 292.6L262.8 291.4L267.4 290.1L271.9 288.9L276.5 287.7L281.1 286.5L285.7 285.3L290.2 284L294.8 282.8L299.4 281.6L304 280.4L308.5 279.2L313.1 278L317.7 276.7L322.3 275.5L326.8 274.3L331.4 273.1M175.9 315L177.7 316.2M180.4 313.7L182.2 314.9M185 312.3L186.8 313.5M189.6 311L191.4 312.2M194.2 309.8L196 311M198.7 308.6L200.5 309.8M203.3 307.3L205.1 308.6M207.9 306.1L209.7 307.3M212.5 304.9L214.3 306.1M217 303.7L218.8 304.9M221.6 302.4L223.4 303.7M226.2 301.2L228 302.4M230.8 300L232.6 301.2M235.3 298.7L237.1 300M239.9 297.5L241.7 298.8M244.5 296.3L246.3 297.5M249.1 295L250.9 296.3M253.6 293.8L255.4 295.1M258.2 292.6L260 293.9M262.8 291.4L264.6 292.6M267.4 290.1L269.2 291.4M271.9 288.9L273.7 290.2M276.5 287.7L278.3 289M281.1 286.5L282.9 287.8M285.7 285.3L287.5 286.6M290.2 284L292 285.3M294.8 282.8L296.6 284.1M299.4 281.6L301.2 282.9M304 280.4L305.8 281.7M308.5 279.2L310.3 280.5M313.1 278L314.9 279.3M317.7 276.7L319.5 278.1M322.3 275.5L324.1 276.8M326.8 274.3L328.6 275.6"/><path class="k1" d="M331.4 273.1L336 271.9L340.6 270.7L345.1 269.5L349.7 268.3L354.3 267.1L358.9 265.8L363.4 264.6L368 263.4L372.6 262.2L377.2 261L381.7 259.8L386.3 258.6L390.9 257.4L395.5 256.2L400 255L404.6 253.8L409.2 252.6L413.8 251.4L418.3 250.2L422.9 249L427.5 247.8L432.1 246.6L436.6 245.4L441.2 244.2L445.8 243M331.4 273.1L333.2 274.4M336 271.9L337.8 273.2M340.6 270.7L342.4 272M345.1 269.5L346.9 270.8M349.7 268.3L351.5 269.6M354.3 267.1L356.1 268.4M358.9 265.8L360.7 267.2M363.4 264.6L365.2 266M368 263.4L369.8 264.8M372.6 262.2L374.4 263.6M377.2 261L379 262.4M381.7 259.8L383.5 261.2M386.3 258.6L388.1 259.9M390.9 257.4L392.7 258.7M395.5 256.2L397.3 257.5M400 255L401.8 256.3M404.6 253.8L406.4 255.1M409.2 252.6L411 253.9M413.8 251.4L415.6 252.7M418.3 250.2L420.1 251.5M422.9 249L424.7 250.3M427.5 247.8L429.3 249.1M432.1 246.6L433.9 247.9M436.6 245.4L438.4 246.7M441.2 244.2L443 245.5M445.8 243L447.6 244.3"/><path class="w" d="M177.7 316.2L182.2 314.9L186.8 313.5L191.4 312.2L196 311L200.5 309.8L205.1 308.6L209.7 307.3L214.3 306.1L218.8 304.9L223.4 303.7L228 302.4L232.6 301.2L237.1 300L241.7 298.8L246.3 297.5L250.9 296.3L255.4 295.1L260 293.9L264.6 292.6L269.2 291.4L273.7 290.2L278.3 289L282.9 287.8L287.5 286.6L292 285.3L296.6 284.1L301.2 282.9L305.8 281.7L310.3 280.5L314.9 279.3L319.5 278.1L324.1 276.8L328.6 275.6L333.2 274.4L337.8 273.2L342.4 272L346.9 270.8L351.5 269.6L356.1 268.4L360.7 267.2L365.2 266L369.8 264.8L374.4 263.6L379 262.4L383.5 261.2L388.1 259.9L392.7 258.7L397.3 257.5L401.8 256.3L406.4 255.1L411 253.9L415.6 252.7L420.1 251.5L424.7 250.3L429.3 249.1L433.9 247.9L438.4 246.7L443 245.5L447.6 244.3L449.4 245.6L444.8 246.8L440.2 248L435.6 249.2L431.1 250.4L426.5 251.6L421.9 252.8L417.4 254L412.8 255.2L408.2 256.4L403.6 257.6L399.1 258.9L394.5 260.1L389.9 261.3L385.3 262.5L380.8 263.7L376.2 264.9L371.6 266.1L367 267.3L362.4 268.5L357.9 269.7L353.3 270.9L348.7 272.1L344.1 273.3L339.6 274.5L335 275.7L330.4 276.9L325.9 278.1L321.3 279.3L316.7 280.6L312.1 281.8L307.5 283L303 284.2L298.4 285.4L293.8 286.6L289.2 287.8L284.7 289L280.1 290.3L275.5 291.5L270.9 292.7L266.4 293.9L261.8 295.1L257.2 296.3L252.6 297.6L248.1 298.8L243.5 300L238.9 301.2L234.3 302.4L229.8 303.7L225.2 304.9L220.6 306.1L216 307.3L211.5 308.5L206.9 309.8L202.3 311L197.8 312.2L193.2 313.4L188.6 314.7L184 316L179.4 317.3z"/><path class="k0" d="M177.7 316.2L182.2 314.9L186.8 313.5L191.4 312.2L196 311L200.5 309.8L205.1 308.6L209.7 307.3L214.3 306.1L218.8 304.9L223.4 303.7L228 302.4L232.6 301.2L237.1 300L241.7 298.8L246.3 297.5L250.9 296.3L255.4 295.1L260 293.9L264.6 292.6L269.2 291.4L273.7 290.2L278.3 289L282.9 287.8L287.5 286.6L292 285.3L296.6 284.1L301.2 282.9L305.8 281.7L310.3 280.5L314.9 279.3L319.5 278.1L324.1 276.8L328.6 275.6L333.2 274.4L337.8 273.2L342.4 272L346.9 270.8L351.5 269.6L356.1 268.4L360.7 267.2L365.2 266L369.8 264.8L374.4 263.6L379 262.4L383.5 261.2L388.1 259.9L392.7 258.7L397.3 257.5L401.8 256.3L406.4 255.1L411 253.9L415.6 252.7L420.1 251.5L424.7 250.3M177.7 316.2L179.4 317.3M182.2 314.9L184 316M186.8 313.5L188.6 314.7M191.4 312.2L193.2 313.4M196 311L197.8 312.2M200.5 309.8L202.3 311M205.1 308.6L206.9 309.8M209.7 307.3L211.5 308.5M214.3 306.1L216 307.3M218.8 304.9L220.6 306.1M223.4 303.7L225.2 304.9M228 302.4L229.8 303.7M232.6 301.2L234.3 302.4M237.1 300L238.9 301.2M241.7 298.8L243.5 300M246.3 297.5L248.1 298.8M250.9 296.3L252.6 297.6M255.4 295.1L257.2 296.3M260 293.9L261.8 295.1M264.6 292.6L266.4 293.9M269.2 291.4L270.9 292.7M273.7 290.2L275.5 291.5M278.3 289L280.1 290.3M282.9 287.8L284.7 289M287.5 286.6L289.2 287.8M292 285.3L293.8 286.6M296.6 284.1L298.4 285.4M301.2 282.9L303 284.2M305.8 281.7L307.5 283M310.3 280.5L312.1 281.8M314.9 279.3L316.7 280.6M319.5 278.1L321.3 279.3M324.1 276.8L325.9 278.1M328.6 275.6L330.4 276.9M333.2 274.4L335 275.7M337.8 273.2L339.6 274.5M342.4 272L344.1 273.3M346.9 270.8L348.7 272.1M351.5 269.6L353.3 270.9M356.1 268.4L357.9 269.7M360.7 267.2L362.4 268.5M365.2 266L367 267.3M369.8 264.8L371.6 266.1M374.4 263.6L376.2 264.9M379 262.4L380.8 263.7M383.5 261.2L385.3 262.5M388.1 259.9L389.9 261.3M392.7 258.7L394.5 260.1M397.3 257.5L399.1 258.9M401.8 256.3L403.6 257.6M406.4 255.1L408.2 256.4M411 253.9L412.8 255.2M415.6 252.7L417.4 254M420.1 251.5L421.9 252.8"/><path class="k1" d="M424.7 250.3L429.3 249.1L433.9 247.9L438.4 246.7L443 245.5L447.6 244.3M424.7 250.3L426.5 251.6M429.3 249.1L431.1 250.4M433.9 247.9L435.6 249.2M438.4 246.7L440.2 248M443 245.5L444.8 246.8M447.6 244.3L449.4 245.6"/><path class="w" d="M179.4 317.3L184 316L188.6 314.7L193.2 313.4L197.8 312.2L202.3 311L206.9 309.8L211.5 308.5L216 307.3L220.6 306.1L225.2 304.9L229.8 303.7L234.3 302.4L238.9 301.2L243.5 300L248.1 298.8L252.6 297.6L257.2 296.3L261.8 295.1L266.4 293.9L270.9 292.7L275.5 291.5L280.1 290.3L284.7 289L289.2 287.8L293.8 286.6L298.4 285.4L303 284.2L307.5 283L312.1 281.8L316.7 280.6L321.3 279.3L325.9 278.1L330.4 276.9L335 275.7L339.6 274.5L344.1 273.3L348.7 272.1L353.3 270.9L357.9 269.7L362.4 268.5L367 267.3L371.6 266.1L376.2 264.9L380.8 263.7L385.3 262.5L389.9 261.3L394.5 260.1L399.1 258.9L403.6 257.6L408.2 256.4L412.8 255.2L417.4 254L421.9 252.8L426.5 251.6L431.1 250.4L435.6 249.2L440.2 248L444.8 246.8L449.4 245.6L451.2 246.9L446.6 248.1L442 249.3L437.4 250.5L432.9 251.7L428.3 252.9L423.7 254.1L419.1 255.3L414.6 256.5L410 257.7L405.4 258.9L400.8 260.1L396.3 261.3L391.7 262.5L387.1 263.7L382.5 264.9L378 266.1L373.4 267.3L368.8 268.5L364.2 269.8L359.7 271L355.1 272.2L350.5 273.4L345.9 274.6L341.4 275.8L336.8 277L332.2 278.2L327.6 279.4L323.1 280.6L318.5 281.8L313.9 283L309.3 284.2L304.8 285.4L300.2 286.6L295.6 287.9L291 289.1L286.5 290.3L281.9 291.5L277.3 292.7L272.7 293.9L268.2 295.1L263.6 296.3L259 297.6L254.4 298.8L249.9 300L245.3 301.2L240.7 302.4L236.1 303.6L231.6 304.9L227 306.1L222.4 307.3L217.8 308.5L213.3 309.7L208.7 310.9L204.1 312.2L199.5 313.4L195 314.6L190.4 315.8L185.8 317.2L181.2 318.4z"/><path class="k0" d="M179.4 317.3L184 316L188.6 314.7L193.2 313.4L197.8 312.2L202.3 311L206.9 309.8L211.5 308.5L216 307.3L220.6 306.1L225.2 304.9L229.8 303.7L234.3 302.4L238.9 301.2L243.5 300L248.1 298.8L252.6 297.6L257.2 296.3L261.8 295.1L266.4 293.9L270.9 292.7L275.5 291.5L280.1 290.3L284.7 289L289.2 287.8L293.8 286.6L298.4 285.4L303 284.2L307.5 283L312.1 281.8L316.7 280.6L321.3 279.3L325.9 278.1L330.4 276.9L335 275.7L339.6 274.5L344.1 273.3L348.7 272.1L353.3 270.9L357.9 269.7L362.4 268.5L367 267.3L371.6 266.1L376.2 264.9L380.8 263.7L385.3 262.5L389.9 261.3L394.5 260.1L399.1 258.9L403.6 257.6L408.2 256.4L412.8 255.2L417.4 254L421.9 252.8L426.5 251.6L431.1 250.4L435.6 249.2L440.2 248L444.8 246.8L449.4 245.6M179.4 317.3L181.2 318.4M184 316L185.8 317.2M188.6 314.7L190.4 315.8M193.2 313.4L195 314.6M197.8 312.2L199.5 313.4M202.3 311L204.1 312.2M206.9 309.8L208.7 310.9M211.5 308.5L213.3 309.7M216 307.3L217.8 308.5M220.6 306.1L222.4 307.3M225.2 304.9L227 306.1M229.8 303.7L231.6 304.9M234.3 302.4L236.1 303.6M238.9 301.2L240.7 302.4M243.5 300L245.3 301.2M248.1 298.8L249.9 300M252.6 297.6L254.4 298.8M257.2 296.3L259 297.6M261.8 295.1L263.6 296.3M266.4 293.9L268.2 295.1M270.9 292.7L272.7 293.9M275.5 291.5L277.3 292.7M280.1 290.3L281.9 291.5M284.7 289L286.5 290.3M289.2 287.8L291 289.1M293.8 286.6L295.6 287.9M298.4 285.4L300.2 286.6M303 284.2L304.8 285.4M307.5 283L309.3 284.2M312.1 281.8L313.9 283M316.7 280.6L318.5 281.8M321.3 279.3L323.1 280.6M325.9 278.1L327.6 279.4M330.4 276.9L332.2 278.2M335 275.7L336.8 277M339.6 274.5L341.4 275.8M344.1 273.3L345.9 274.6M348.7 272.1L350.5 273.4M353.3 270.9L355.1 272.2M357.9 269.7L359.7 271M362.4 268.5L364.2 269.8M367 267.3L368.8 268.5M371.6 266.1L373.4 267.3M376.2 264.9L378 266.1M380.8 263.7L382.5 264.9M385.3 262.5L387.1 263.7M389.9 261.3L391.7 262.5M394.5 260.1L396.3 261.3M399.1 258.9L400.8 260.1M403.6 257.6L405.4 258.9M408.2 256.4L410 257.7M412.8 255.2L414.6 256.5M417.4 254L419.1 255.3M421.9 252.8L423.7 254.1M426.5 251.6L428.3 252.9M431.1 250.4L432.9 251.7M435.6 249.2L437.4 250.5M440.2 248L442 249.3M444.8 246.8L446.6 248.1M449.4 245.6L451.2 246.9"/><path class="w" d="M181.2 318.4L185.8 317.2L190.4 315.8L195 314.6L199.5 313.4L204.1 312.2L208.7 310.9L213.3 309.7L217.8 308.5L222.4 307.3L227 306.1L231.6 304.9L236.1 303.6L240.7 302.4L245.3 301.2L249.9 300L254.4 298.8L259 297.6L263.6 296.3L268.2 295.1L272.7 293.9L277.3 292.7L281.9 291.5L286.5 290.3L291 289.1L295.6 287.9L300.2 286.6L304.8 285.4L309.3 284.2L313.9 283L318.5 281.8L323.1 280.6L327.6 279.4L332.2 278.2L336.8 277L341.4 275.8L345.9 274.6L350.5 273.4L355.1 272.2L359.7 271L364.2 269.8L368.8 268.5L373.4 267.3L378 266.1L382.5 264.9L387.1 263.7L391.7 262.5L396.3 261.3L400.8 260.1L405.4 258.9L410 257.7L414.6 256.5L419.1 255.3L423.7 254.1L428.3 252.9L432.9 251.7L437.4 250.5L442 249.3L446.6 248.1L451.2 246.9L453 248.2L448.4 249.4L443.8 250.6L439.2 251.8L434.7 253L430.1 254.2L425.5 255.4L420.9 256.6L416.4 257.8L411.8 259L407.2 260.2L402.6 261.4L398.1 262.6L393.5 263.8L388.9 265L384.3 266.2L379.8 267.4L375.2 268.6L370.6 269.8L366 271L361.5 272.2L356.9 273.4L352.3 274.6L347.7 275.8L343.2 277L338.6 278.2L334 279.4L329.4 280.6L324.9 281.8L320.3 283L315.7 284.3L311.1 285.5L306.6 286.7L302 287.9L297.4 289.1L292.8 290.3L288.3 291.5L283.7 292.7L279.1 293.9L274.5 295.1L270 296.3L265.4 297.6L260.8 298.8L256.2 300L251.7 301.2L247.1 302.4L242.5 303.6L237.9 304.8L233.4 306L228.8 307.3L224.2 308.5L219.6 309.7L215.1 310.9L210.5 312.1L205.9 313.3L201.3 314.5L196.8 315.8L192.2 317L187.6 318.3L183 319.5z"/><path class="k0" d="M181.2 318.4L185.8 317.2L190.4 315.8L195 314.6L199.5 313.4L204.1 312.2L208.7 310.9L213.3 309.7L217.8 308.5L222.4 307.3L227 306.1L231.6 304.9L236.1 303.6L240.7 302.4L245.3 301.2L249.9 300L254.4 298.8L259 297.6L263.6 296.3L268.2 295.1L272.7 293.9L277.3 292.7L281.9 291.5L286.5 290.3L291 289.1L295.6 287.9L300.2 286.6L304.8 285.4L309.3 284.2L313.9 283L318.5 281.8L323.1 280.6L327.6 279.4L332.2 278.2L336.8 277L341.4 275.8L345.9 274.6L350.5 273.4L355.1 272.2L359.7 271L364.2 269.8L368.8 268.5L373.4 267.3L378 266.1L382.5 264.9L387.1 263.7L391.7 262.5L396.3 261.3L400.8 260.1L405.4 258.9L410 257.7L414.6 256.5L419.1 255.3L423.7 254.1L428.3 252.9L432.9 251.7L437.4 250.5L442 249.3L446.6 248.1L451.2 246.9M181.2 318.4L183 319.5M185.8 317.2L187.6 318.3M190.4 315.8L192.2 317M195 314.6L196.8 315.8M199.5 313.4L201.3 314.5M204.1 312.2L205.9 313.3M208.7 310.9L210.5 312.1M213.3 309.7L215.1 310.9M217.8 308.5L219.6 309.7M222.4 307.3L224.2 308.5M227 306.1L228.8 307.3M231.6 304.9L233.4 306M236.1 303.6L237.9 304.8M240.7 302.4L242.5 303.6M245.3 301.2L247.1 302.4M249.9 300L251.7 301.2M254.4 298.8L256.2 300M259 297.6L260.8 298.8M263.6 296.3L265.4 297.6M268.2 295.1L270 296.3M272.7 293.9L274.5 295.1M277.3 292.7L279.1 293.9M281.9 291.5L283.7 292.7M286.5 290.3L288.3 291.5M291 289.1L292.8 290.3M295.6 287.9L297.4 289.1M300.2 286.6L302 287.9M304.8 285.4L306.6 286.7M309.3 284.2L311.1 285.5M313.9 283L315.7 284.3M318.5 281.8L320.3 283M323.1 280.6L324.9 281.8M327.6 279.4L329.4 280.6M332.2 278.2L334 279.4M336.8 277L338.6 278.2M341.4 275.8L343.2 277M345.9 274.6L347.7 275.8M350.5 273.4L352.3 274.6M355.1 272.2L356.9 273.4M359.7 271L361.5 272.2M364.2 269.8L366 271M368.8 268.5L370.6 269.8M373.4 267.3L375.2 268.6M378 266.1L379.8 267.4M382.5 264.9L384.3 266.2M387.1 263.7L388.9 265M391.7 262.5L393.5 263.8M396.3 261.3L398.1 262.6M400.8 260.1L402.6 261.4M405.4 258.9L407.2 260.2M410 257.7L411.8 259M414.6 256.5L416.4 257.8M419.1 255.3L420.9 256.6M423.7 254.1L425.5 255.4M428.3 252.9L430.1 254.2M432.9 251.7L434.7 253M437.4 250.5L439.2 251.8M442 249.3L443.8 250.6M446.6 248.1L448.4 249.4M451.2 246.9L453 248.2"/><path class="w" d="M183 319.5L187.6 318.3L192.2 317L196.8 315.8L201.3 314.5L205.9 313.3L210.5 312.1L215.1 310.9L219.6 309.7L224.2 308.5L228.8 307.3L233.4 306L237.9 304.8L242.5 303.6L247.1 302.4L251.7 301.2L256.2 300L260.8 298.8L265.4 297.6L270 296.3L274.5 295.1L279.1 293.9L283.7 292.7L288.3 291.5L292.8 290.3L297.4 289.1L302 287.9L306.6 286.7L311.1 285.5L315.7 284.3L320.3 283L324.9 281.8L329.4 280.6L334 279.4L338.6 278.2L343.2 277L347.7 275.8L352.3 274.6L356.9 273.4L361.5 272.2L366 271L370.6 269.8L375.2 268.6L379.8 267.4L384.3 266.2L388.9 265L393.5 263.8L398.1 262.6L402.6 261.4L407.2 260.2L411.8 259L416.4 257.8L420.9 256.6L425.5 255.4L430.1 254.2L434.7 253L439.2 251.8L443.8 250.6L448.4 249.4L453 248.2L454.7 249.4L450.2 250.6L445.6 251.8L441 253L436.4 254.2L431.9 255.4L427.3 256.6L422.7 257.8L418.1 259L413.6 260.2L409 261.4L404.4 262.6L399.8 263.8L395.3 265L390.7 266.2L386.1 267.4L381.5 268.6L377 269.8L372.4 271L367.8 272.2L363.2 273.4L358.7 274.6L354.1 275.8L349.5 277L344.9 278.2L340.4 279.4L335.8 280.7L331.2 281.9L326.6 283.1L322.1 284.3L317.5 285.5L312.9 286.7L308.3 287.9L303.8 289.1L299.2 290.3L294.6 291.5L290 292.7L285.5 293.9L280.9 295.1L276.3 296.3L271.7 297.5L267.2 298.7L262.6 300L258 301.2L253.4 302.4L248.9 303.6L244.3 304.8L239.7 306L235.1 307.2L230.6 308.4L226 309.6L221.4 310.9L216.8 312.1L212.3 313.3L207.7 314.5L203.1 315.7L198.5 316.9L194 318.1L189.4 319.4L184.8 320.6z"/><path class="k0" d="M183 319.5L187.6 318.3L192.2 317L196.8 315.8L201.3 314.5L205.9 313.3L210.5 312.1L215.1 310.9L219.6 309.7L224.2 308.5L228.8 307.3L233.4 306L237.9 304.8L242.5 303.6L247.1 302.4L251.7 301.2L256.2 300L260.8 298.8L265.4 297.6L270 296.3L274.5 295.1L279.1 293.9L283.7 292.7L288.3 291.5L292.8 290.3L297.4 289.1L302 287.9L306.6 286.7L311.1 285.5L315.7 284.3L320.3 283L324.9 281.8L329.4 280.6L334 279.4L338.6 278.2L343.2 277L347.7 275.8L352.3 274.6L356.9 273.4L361.5 272.2L366 271L370.6 269.8L375.2 268.6L379.8 267.4L384.3 266.2L388.9 265L393.5 263.8L398.1 262.6L402.6 261.4L407.2 260.2L411.8 259L416.4 257.8L420.9 256.6L425.5 255.4L430.1 254.2L434.7 253L439.2 251.8L443.8 250.6L448.4 249.4L453 248.2M183 319.5L184.8 320.6M187.6 318.3L189.4 319.4M192.2 317L194 318.1M196.8 315.8L198.5 316.9M201.3 314.5L203.1 315.7M205.9 313.3L207.7 314.5M210.5 312.1L212.3 313.3M215.1 310.9L216.8 312.1M219.6 309.7L221.4 310.9M224.2 308.5L226 309.6M228.8 307.3L230.6 308.4M233.4 306L235.1 307.2M237.9 304.8L239.7 306M242.5 303.6L244.3 304.8M247.1 302.4L248.9 303.6M251.7 301.2L253.4 302.4M256.2 300L258 301.2M260.8 298.8L262.6 300M265.4 297.6L267.2 298.7M270 296.3L271.7 297.5M274.5 295.1L276.3 296.3M279.1 293.9L280.9 295.1M283.7 292.7L285.5 293.9M288.3 291.5L290 292.7M292.8 290.3L294.6 291.5M297.4 289.1L299.2 290.3M302 287.9L303.8 289.1M306.6 286.7L308.3 287.9M311.1 285.5L312.9 286.7M315.7 284.3L317.5 285.5M320.3 283L322.1 284.3M324.9 281.8L326.6 283.1M329.4 280.6L331.2 281.9M334 279.4L335.8 280.7M338.6 278.2L340.4 279.4M343.2 277L344.9 278.2M347.7 275.8L349.5 277M352.3 274.6L354.1 275.8M356.9 273.4L358.7 274.6M361.5 272.2L363.2 273.4M366 271L367.8 272.2M370.6 269.8L372.4 271M375.2 268.6L377 269.8M379.8 267.4L381.5 268.6M384.3 266.2L386.1 267.4M388.9 265L390.7 266.2M393.5 263.8L395.3 265M398.1 262.6L399.8 263.8M402.6 261.4L404.4 262.6M407.2 260.2L409 261.4M411.8 259L413.6 260.2M416.4 257.8L418.1 259M420.9 256.6L422.7 257.8M425.5 255.4L427.3 256.6M430.1 254.2L431.9 255.4M434.7 253L436.4 254.2M439.2 251.8L441 253M443.8 250.6L445.6 251.8M448.4 249.4L450.2 250.6M453 248.2L454.7 249.4"/><path class="w" d="M184.8 320.6L189.4 319.4L194 318.1L198.5 316.9L203.1 315.7L207.7 314.5L212.3 313.3L216.8 312.1L221.4 310.9L226 309.6L230.6 308.4L235.1 307.2L239.7 306L244.3 304.8L248.9 303.6L253.4 302.4L258 301.2L262.6 300L267.2 298.7L271.7 297.5L276.3 296.3L280.9 295.1L285.5 293.9L290 292.7L294.6 291.5L299.2 290.3L303.8 289.1L308.3 287.9L312.9 286.7L317.5 285.5L322.1 284.3L326.6 283.1L331.2 281.9L335.8 280.7L340.4 279.4L344.9 278.2L349.5 277L354.1 275.8L358.7 274.6L363.2 273.4L367.8 272.2L372.4 271L377 269.8L381.5 268.6L386.1 267.4L390.7 266.2L395.3 265L399.8 263.8L404.4 262.6L409 261.4L413.6 260.2L418.1 259L422.7 257.8L427.3 256.6L431.9 255.4L436.4 254.2L441 253L445.6 251.8L450.2 250.6L454.7 249.4L456.5 250.7L452 251.9L447.4 253.1L442.8 254.3L438.2 255.5L433.7 256.7L429.1 257.9L424.5 259.1L419.9 260.3L415.4 261.5L410.8 262.7L406.2 263.9L401.6 265L397.1 266.2L392.5 267.4L387.9 268.6L383.3 269.8L378.8 271L374.2 272.2L369.6 273.4L365 274.6L360.5 275.9L355.9 277.1L351.3 278.3L346.7 279.5L342.2 280.7L337.6 281.9L333 283.1L328.4 284.3L323.9 285.5L319.3 286.7L314.7 287.9L310.1 289.1L305.6 290.3L301 291.5L296.4 292.7L291.8 293.9L287.3 295.1L282.7 296.3L278.1 297.5L273.5 298.7L269 299.9L264.4 301.1L259.8 302.3L255.2 303.6L250.7 304.8L246.1 306L241.5 307.2L236.9 308.4L232.4 309.6L227.8 310.8L223.2 312L218.6 313.2L214.1 314.4L209.5 315.6L204.9 316.8L200.3 318.1L195.8 319.3L191.2 320.5L186.6 321.8z"/><path class="k0" d="M184.8 320.6L189.4 319.4L194 318.1L198.5 316.9L203.1 315.7L207.7 314.5L212.3 313.3L216.8 312.1L221.4 310.9L226 309.6L230.6 308.4L235.1 307.2L239.7 306L244.3 304.8L248.9 303.6L253.4 302.4L258 301.2L262.6 300L267.2 298.7L271.7 297.5L276.3 296.3L280.9 295.1L285.5 293.9L290 292.7L294.6 291.5L299.2 290.3L303.8 289.1L308.3 287.9L312.9 286.7L317.5 285.5L322.1 284.3L326.6 283.1L331.2 281.9L335.8 280.7L340.4 279.4L344.9 278.2L349.5 277L354.1 275.8L358.7 274.6L363.2 273.4L367.8 272.2L372.4 271L377 269.8L381.5 268.6L386.1 267.4L390.7 266.2L395.3 265L399.8 263.8L404.4 262.6L409 261.4L413.6 260.2L418.1 259L422.7 257.8L427.3 256.6L431.9 255.4L436.4 254.2L441 253L445.6 251.8L450.2 250.6L454.7 249.4M184.8 320.6L186.6 321.8M189.4 319.4L191.2 320.5M194 318.1L195.8 319.3M198.5 316.9L200.3 318.1M203.1 315.7L204.9 316.8M207.7 314.5L209.5 315.6M212.3 313.3L214.1 314.4M216.8 312.1L218.6 313.2M221.4 310.9L223.2 312M226 309.6L227.8 310.8M230.6 308.4L232.4 309.6M235.1 307.2L236.9 308.4M239.7 306L241.5 307.2M244.3 304.8L246.1 306M248.9 303.6L250.7 304.8M253.4 302.4L255.2 303.6M258 301.2L259.8 302.3M262.6 300L264.4 301.1M267.2 298.7L269 299.9M271.7 297.5L273.5 298.7M276.3 296.3L278.1 297.5M280.9 295.1L282.7 296.3M285.5 293.9L287.3 295.1M290 292.7L291.8 293.9M294.6 291.5L296.4 292.7M299.2 290.3L301 291.5M303.8 289.1L305.6 290.3M308.3 287.9L310.1 289.1M312.9 286.7L314.7 287.9M317.5 285.5L319.3 286.7M322.1 284.3L323.9 285.5M326.6 283.1L328.4 284.3M331.2 281.9L333 283.1M335.8 280.7L337.6 281.9M340.4 279.4L342.2 280.7M344.9 278.2L346.7 279.5M349.5 277L351.3 278.3M354.1 275.8L355.9 277.1M358.7 274.6L360.5 275.9M363.2 273.4L365 274.6M367.8 272.2L369.6 273.4M372.4 271L374.2 272.2M377 269.8L378.8 271M381.5 268.6L383.3 269.8M386.1 267.4L387.9 268.6M390.7 266.2L392.5 267.4M395.3 265L397.1 266.2M399.8 263.8L401.6 265M404.4 262.6L406.2 263.9M409 261.4L410.8 262.7M413.6 260.2L415.4 261.5M418.1 259L419.9 260.3M422.7 257.8L424.5 259.1M427.3 256.6L429.1 257.9M431.9 255.4L433.7 256.7M436.4 254.2L438.2 255.5M441 253L442.8 254.3M445.6 251.8L447.4 253.1M450.2 250.6L452 251.9M454.7 249.4L456.5 250.7"/><path class="w" d="M186.6 321.8L191.2 320.5L195.8 319.3L200.3 318.1L204.9 316.8L209.5 315.6L214.1 314.4L218.6 313.2L223.2 312L227.8 310.8L232.4 309.6L236.9 308.4L241.5 307.2L246.1 306L250.7 304.8L255.2 303.6L259.8 302.3L264.4 301.1L269 299.9L273.5 298.7L278.1 297.5L282.7 296.3L287.3 295.1L291.8 293.9L296.4 292.7L301 291.5L305.6 290.3L310.1 289.1L314.7 287.9L319.3 286.7L323.9 285.5L328.4 284.3L333 283.1L337.6 281.9L342.2 280.7L346.7 279.5L351.3 278.3L355.9 277.1L360.5 275.9L365 274.6L369.6 273.4L374.2 272.2L378.8 271L383.3 269.8L387.9 268.6L392.5 267.4L397.1 266.2L401.6 265L406.2 263.9L410.8 262.7L415.4 261.5L419.9 260.3L424.5 259.1L429.1 257.9L433.7 256.7L438.2 255.5L442.8 254.3L447.4 253.1L452 251.9L456.5 250.7L458.3 251.9L453.8 253.1L449.2 254.3L444.6 255.5L440 256.7L435.5 257.9L430.9 259.1L426.3 260.3L421.7 261.5L417.1 262.7L412.6 263.9L408 265.1L403.4 266.3L398.9 267.5L394.3 268.7L389.7 269.9L385.1 271L380.6 272.2L376 273.4L371.4 274.6L366.8 275.8L362.2 277L357.7 278.2L353.1 279.4L348.5 280.7L344 281.9L339.4 283.1L334.8 284.3L330.2 285.5L325.6 286.7L321.1 287.9L316.5 289.1L311.9 290.3L307.4 291.5L302.8 292.7L298.2 293.9L293.6 295.1L289.1 296.3L284.5 297.5L279.9 298.7L275.3 299.9L270.8 301.1L266.2 302.3L261.6 303.5L257 304.7L252.4 305.9L247.9 307.1L243.3 308.3L238.7 309.5L234.2 310.8L229.6 312L225 313.2L220.4 314.4L215.9 315.6L211.3 316.8L206.7 318L202.1 319.2L197.6 320.4L193 321.7L188.4 322.9z"/><path class="k0" d="M186.6 321.8L191.2 320.5L195.8 319.3L200.3 318.1L204.9 316.8L209.5 315.6L214.1 314.4L218.6 313.2L223.2 312L227.8 310.8L232.4 309.6L236.9 308.4L241.5 307.2L246.1 306L250.7 304.8L255.2 303.6L259.8 302.3L264.4 301.1L269 299.9L273.5 298.7L278.1 297.5L282.7 296.3L287.3 295.1L291.8 293.9L296.4 292.7L301 291.5L305.6 290.3L310.1 289.1L314.7 287.9L319.3 286.7L323.9 285.5L328.4 284.3L333 283.1L337.6 281.9L342.2 280.7L346.7 279.5L351.3 278.3L355.9 277.1L360.5 275.9L365 274.6L369.6 273.4L374.2 272.2L378.8 271L383.3 269.8L387.9 268.6L392.5 267.4L397.1 266.2L401.6 265L406.2 263.9L410.8 262.7L415.4 261.5L419.9 260.3L424.5 259.1L429.1 257.9L433.7 256.7L438.2 255.5L442.8 254.3L447.4 253.1L452 251.9L456.5 250.7M186.6 321.8L188.4 322.9M191.2 320.5L193 321.7M195.8 319.3L197.6 320.4M200.3 318.1L202.1 319.2M204.9 316.8L206.7 318M209.5 315.6L211.3 316.8M214.1 314.4L215.9 315.6M218.6 313.2L220.4 314.4M223.2 312L225 313.2M227.8 310.8L229.6 312M232.4 309.6L234.2 310.8M236.9 308.4L238.7 309.5M241.5 307.2L243.3 308.3M246.1 306L247.9 307.1M250.7 304.8L252.4 305.9M255.2 303.6L257 304.7M259.8 302.3L261.6 303.5M264.4 301.1L266.2 302.3M269 299.9L270.8 301.1M273.5 298.7L275.3 299.9M278.1 297.5L279.9 298.7M282.7 296.3L284.5 297.5M287.3 295.1L289.1 296.3M291.8 293.9L293.6 295.1M296.4 292.7L298.2 293.9M301 291.5L302.8 292.7M305.6 290.3L307.4 291.5M310.1 289.1L311.9 290.3M314.7 287.9L316.5 289.1M319.3 286.7L321.1 287.9M323.9 285.5L325.6 286.7M328.4 284.3L330.2 285.5M333 283.1L334.8 284.3M337.6 281.9L339.4 283.1M342.2 280.7L344 281.9M346.7 279.5L348.5 280.7M351.3 278.3L353.1 279.4M355.9 277.1L357.7 278.2M360.5 275.9L362.2 277M365 274.6L366.8 275.8M369.6 273.4L371.4 274.6M374.2 272.2L376 273.4M378.8 271L380.6 272.2M383.3 269.8L385.1 271M387.9 268.6L389.7 269.9M392.5 267.4L394.3 268.7M397.1 266.2L398.9 267.5M401.6 265L403.4 266.3M406.2 263.9L408 265.1M410.8 262.7L412.6 263.9M415.4 261.5L417.1 262.7M419.9 260.3L421.7 261.5M424.5 259.1L426.3 260.3M429.1 257.9L430.9 259.1M433.7 256.7L435.5 257.9M438.2 255.5L440 256.7M442.8 254.3L444.6 255.5M447.4 253.1L449.2 254.3M452 251.9L453.8 253.1M456.5 250.7L458.3 251.9"/><path class="w" d="M188.4 322.9L193 321.7L197.6 320.4L202.1 319.2L206.7 318L211.3 316.8L215.9 315.6L220.4 314.4L225 313.2L229.6 312L234.2 310.8L238.7 309.5L243.3 308.3L247.9 307.1L252.4 305.9L257 304.7L261.6 303.5L266.2 302.3L270.8 301.1L275.3 299.9L279.9 298.7L284.5 297.5L289.1 296.3L293.6 295.1L298.2 293.9L302.8 292.7L307.4 291.5L311.9 290.3L316.5 289.1L321.1 287.9L325.6 286.7L330.2 285.5L334.8 284.3L339.4 283.1L344 281.9L348.5 280.7L353.1 279.4L357.7 278.2L362.2 277L366.8 275.8L371.4 274.6L376 273.4L380.6 272.2L385.1 271L389.7 269.9L394.3 268.7L398.9 267.5L403.4 266.3L408 265.1L412.6 263.9L417.1 262.7L421.7 261.5L426.3 260.3L430.9 259.1L435.5 257.9L440 256.7L444.6 255.5L449.2 254.3L453.8 253.1L458.3 251.9L460.1 253.1L455.5 254.3L451 255.5L446.4 256.7L441.8 257.9L437.2 259.1L432.7 260.3L428.1 261.5L423.5 262.7L418.9 263.9L414.4 265L409.8 266.2L405.2 267.4L400.6 268.6L396.1 269.8L391.5 271L386.9 272.2L382.3 273.4L377.8 274.6L373.2 275.8L368.6 277L364 278.2L359.5 279.4L354.9 280.6L350.3 281.8L345.7 283L341.2 284.2L336.6 285.4L332 286.6L327.4 287.8L322.9 289L318.3 290.2L313.7 291.4L309.1 292.6L304.6 293.8L300 295L295.4 296.2L290.8 297.5L286.3 298.7L281.7 299.9L277.1 301.1L272.5 302.3L268 303.5L263.4 304.7L258.8 305.9L254.2 307.1L249.7 308.3L245.1 309.5L240.5 310.7L235.9 311.9L231.4 313.1L226.8 314.3L222.2 315.5L217.6 316.7L213.1 317.9L208.5 319.1L203.9 320.3L199.3 321.5L194.8 322.8L190.2 324z"/><path class="k0" d="M188.4 322.9L193 321.7L197.6 320.4L202.1 319.2L206.7 318L211.3 316.8L215.9 315.6L220.4 314.4L225 313.2L229.6 312L234.2 310.8L238.7 309.5L243.3 308.3L247.9 307.1L252.4 305.9L257 304.7L261.6 303.5L266.2 302.3L270.8 301.1L275.3 299.9L279.9 298.7L284.5 297.5L289.1 296.3L293.6 295.1L298.2 293.9L302.8 292.7L307.4 291.5L311.9 290.3L316.5 289.1L321.1 287.9L325.6 286.7L330.2 285.5L334.8 284.3L339.4 283.1L344 281.9L348.5 280.7L353.1 279.4L357.7 278.2L362.2 277L366.8 275.8L371.4 274.6L376 273.4L380.6 272.2L385.1 271L389.7 269.9L394.3 268.7L398.9 267.5L403.4 266.3L408 265.1L412.6 263.9L417.1 262.7L421.7 261.5L426.3 260.3L430.9 259.1L435.5 257.9L440 256.7L444.6 255.5L449.2 254.3L453.8 253.1L458.3 251.9M188.4 322.9L190.2 324M193 321.7L194.8 322.8M197.6 320.4L199.3 321.5M202.1 319.2L203.9 320.3M206.7 318L208.5 319.1M211.3 316.8L213.1 317.9M215.9 315.6L217.6 316.7M220.4 314.4L222.2 315.5M225 313.2L226.8 314.3M229.6 312L231.4 313.1M234.2 310.8L235.9 311.9M238.7 309.5L240.5 310.7M243.3 308.3L245.1 309.5M247.9 307.1L249.7 308.3M252.4 305.9L254.2 307.1M257 304.7L258.8 305.9M261.6 303.5L263.4 304.7M266.2 302.3L268 303.5M270.8 301.1L272.5 302.3M275.3 299.9L277.1 301.1M279.9 298.7L281.7 299.9M284.5 297.5L286.3 298.7M289.1 296.3L290.8 297.5M293.6 295.1L295.4 296.2M298.2 293.9L300 295M302.8 292.7L304.6 293.8M307.4 291.5L309.1 292.6M311.9 290.3L313.7 291.4M316.5 289.1L318.3 290.2M321.1 287.9L322.9 289M325.6 286.7L327.4 287.8M330.2 285.5L332 286.6M334.8 284.3L336.6 285.4M339.4 283.1L341.2 284.2M344 281.9L345.7 283M348.5 280.7L350.3 281.8M353.1 279.4L354.9 280.6M357.7 278.2L359.5 279.4M362.2 277L364 278.2M366.8 275.8L368.6 277M371.4 274.6L373.2 275.8M376 273.4L377.8 274.6M380.6 272.2L382.3 273.4M385.1 271L386.9 272.2M389.7 269.9L391.5 271M394.3 268.7L396.1 269.8M398.9 267.5L400.6 268.6M403.4 266.3L405.2 267.4M408 265.1L409.8 266.2M412.6 263.9L414.4 265M417.1 262.7L418.9 263.9M421.7 261.5L423.5 262.7M426.3 260.3L428.1 261.5M430.9 259.1L432.7 260.3M435.5 257.9L437.2 259.1M440 256.7L441.8 257.9M444.6 255.5L446.4 256.7M449.2 254.3L451 255.5M453.8 253.1L455.5 254.3M458.3 251.9L460.1 253.1"/><path class="w" d="M190.2 324L194.8 322.8L199.3 321.5L203.9 320.3L208.5 319.1L213.1 317.9L217.6 316.7L222.2 315.5L226.8 314.3L231.4 313.1L235.9 311.9L240.5 310.7L245.1 309.5L249.7 308.3L254.2 307.1L258.8 305.9L263.4 304.7L268 303.5L272.5 302.3L277.1 301.1L281.7 299.9L286.3 298.7L290.8 297.5L295.4 296.2L300 295L304.6 293.8L309.1 292.6L313.7 291.4L318.3 290.2L322.9 289L327.4 287.8L332 286.6L336.6 285.4L341.2 284.2L345.7 283L350.3 281.8L354.9 280.6L359.5 279.4L364 278.2L368.6 277L373.2 275.8L377.8 274.6L382.3 273.4L386.9 272.2L391.5 271L396.1 269.8L400.6 268.6L405.2 267.4L409.8 266.2L414.4 265L418.9 263.9L423.5 262.7L428.1 261.5L432.7 260.3L437.2 259.1L441.8 257.9L446.4 256.7L451 255.5L455.5 254.3L460.1 253.1L461.9 254.3L457.3 255.5L452.8 256.7L448.2 257.8L443.6 259L439 260.2L434.5 261.4L429.9 262.6L425.3 263.8L420.7 265L416.2 266.2L411.6 267.4L407 268.6L402.4 269.8L397.9 271L393.3 272.2L388.7 273.4L384.1 274.6L379.6 275.8L375 277L370.4 278.2L365.8 279.4L361.3 280.6L356.7 281.8L352.1 283L347.5 284.2L343 285.4L338.4 286.6L333.8 287.8L329.2 289L324.7 290.2L320.1 291.4L315.5 292.6L310.9 293.8L306.4 295L301.8 296.2L297.2 297.4L292.6 298.6L288.1 299.8L283.5 301L278.9 302.2L274.3 303.4L269.8 304.6L265.2 305.8L260.6 307L256 308.2L251.5 309.4L246.9 310.6L242.3 311.8L237.7 313L233.2 314.2L228.6 315.4L224 316.6L219.4 317.9L214.9 319.1L210.3 320.3L205.7 321.5L201.1 322.7L196.6 323.9L192 325.1z"/><path class="k0" d="M190.2 324L194.8 322.8L199.3 321.5L203.9 320.3L208.5 319.1L213.1 317.9L217.6 316.7L222.2 315.5L226.8 314.3L231.4 313.1L235.9 311.9L240.5 310.7L245.1 309.5L249.7 308.3L254.2 307.1L258.8 305.9L263.4 304.7L268 303.5L272.5 302.3L277.1 301.1L281.7 299.9L286.3 298.7L290.8 297.5L295.4 296.2L300 295L304.6 293.8L309.1 292.6L313.7 291.4L318.3 290.2L322.9 289L327.4 287.8L332 286.6L336.6 285.4L341.2 284.2L345.7 283L350.3 281.8L354.9 280.6L359.5 279.4L364 278.2L368.6 277L373.2 275.8L377.8 274.6L382.3 273.4L386.9 272.2L391.5 271L396.1 269.8L400.6 268.6L405.2 267.4L409.8 266.2L414.4 265L418.9 263.9L423.5 262.7L428.1 261.5L432.7 260.3L437.2 259.1L441.8 257.9L446.4 256.7L451 255.5L455.5 254.3L460.1 253.1M190.2 324L192 325.1M194.8 322.8L196.6 323.9M199.3 321.5L201.1 322.7M203.9 320.3L205.7 321.5M208.5 319.1L210.3 320.3M213.1 317.9L214.9 319.1M217.6 316.7L219.4 317.9M222.2 315.5L224 316.6M226.8 314.3L228.6 315.4M231.4 313.1L233.2 314.2M235.9 311.9L237.7 313M240.5 310.7L242.3 311.8M245.1 309.5L246.9 310.6M249.7 308.3L251.5 309.4M254.2 307.1L256 308.2M258.8 305.9L260.6 307M263.4 304.7L265.2 305.8M268 303.5L269.8 304.6M272.5 302.3L274.3 303.4M277.1 301.1L278.9 302.2M281.7 299.9L283.5 301M286.3 298.7L288.1 299.8M290.8 297.5L292.6 298.6M295.4 296.2L297.2 297.4M300 295L301.8 296.2M304.6 293.8L306.4 295M309.1 292.6L310.9 293.8M313.7 291.4L315.5 292.6M318.3 290.2L320.1 291.4M322.9 289L324.7 290.2M327.4 287.8L329.2 289M332 286.6L333.8 287.8M336.6 285.4L338.4 286.6M341.2 284.2L343 285.4M345.7 283L347.5 284.2M350.3 281.8L352.1 283M354.9 280.6L356.7 281.8M359.5 279.4L361.3 280.6M364 278.2L365.8 279.4M368.6 277L370.4 278.2M373.2 275.8L375 277M377.8 274.6L379.6 275.8M382.3 273.4L384.1 274.6M386.9 272.2L388.7 273.4M391.5 271L393.3 272.2M396.1 269.8L397.9 271M400.6 268.6L402.4 269.8M405.2 267.4L407 268.6M409.8 266.2L411.6 267.4M414.4 265L416.2 266.2M418.9 263.9L420.7 265M423.5 262.7L425.3 263.8M428.1 261.5L429.9 262.6M432.7 260.3L434.5 261.4M437.2 259.1L439 260.2M441.8 257.9L443.6 259M446.4 256.7L448.2 257.8M451 255.5L452.8 256.7M455.5 254.3L457.3 255.5M460.1 253.1L461.9 254.3"/><path class="w" d="M192 325.1L196.6 323.9L201.1 322.7L205.7 321.5L210.3 320.3L214.9 319.1L219.4 317.9L224 316.6L228.6 315.4L233.2 314.2L237.7 313L242.3 311.8L246.9 310.6L251.5 309.4L256 308.2L260.6 307L265.2 305.8L269.8 304.6L274.3 303.4L278.9 302.2L283.5 301L288.1 299.8L292.6 298.6L297.2 297.4L301.8 296.2L306.4 295L310.9 293.8L315.5 292.6L320.1 291.4L324.7 290.2L329.2 289L333.8 287.8L338.4 286.6L343 285.4L347.5 284.2L352.1 283L356.7 281.8L361.3 280.6L365.8 279.4L370.4 278.2L375 277L379.6 275.8L384.1 274.6L388.7 273.4L393.3 272.2L397.9 271L402.4 269.8L407 268.6L411.6 267.4L416.2 266.2L420.7 265L425.3 263.8L429.9 262.6L434.5 261.4L439 260.2L443.6 259L448.2 257.8L452.8 256.7L457.3 255.5L461.9 254.3L463.7 255.4L459.1 256.6L454.5 257.8L450 259L445.4 260.2L440.8 261.4L436.2 262.6L431.7 263.8L427.1 265L422.5 266.2L417.9 267.4L413.4 268.6L408.8 269.8L404.2 271L399.6 272.2L395.1 273.4L390.5 274.6L385.9 275.8L381.3 277L376.8 278.2L372.2 279.4L367.6 280.6L363 281.8L358.5 283L353.9 284.2L349.3 285.4L344.7 286.6L340.2 287.8L335.6 289L331 290.2L326.4 291.4L321.9 292.6L317.3 293.8L312.7 295L308.1 296.2L303.6 297.4L299 298.6L294.4 299.8L289.8 301L285.3 302.2L280.7 303.4L276.1 304.6L271.5 305.8L267 307L262.4 308.2L257.8 309.4L253.2 310.6L248.7 311.8L244.1 313L239.5 314.2L234.9 315.4L230.4 316.6L225.8 317.8L221.2 319L216.6 320.2L212.1 321.4L207.5 322.6L202.9 323.8L198.3 325L193.8 326.2z"/><path class="k0" d="M192 325.1L196.6 323.9L201.1 322.7L205.7 321.5L210.3 320.3L214.9 319.1L219.4 317.9L224 316.6L228.6 315.4L233.2 314.2L237.7 313L242.3 311.8L246.9 310.6L251.5 309.4L256 308.2L260.6 307L265.2 305.8L269.8 304.6L274.3 303.4L278.9 302.2L283.5 301L288.1 299.8L292.6 298.6L297.2 297.4L301.8 296.2L306.4 295L310.9 293.8L315.5 292.6L320.1 291.4L324.7 290.2L329.2 289L333.8 287.8L338.4 286.6L343 285.4L347.5 284.2L352.1 283L356.7 281.8L361.3 280.6L365.8 279.4L370.4 278.2L375 277L379.6 275.8L384.1 274.6L388.7 273.4L393.3 272.2L397.9 271L402.4 269.8L407 268.6L411.6 267.4L416.2 266.2L420.7 265L425.3 263.8L429.9 262.6L434.5 261.4L439 260.2L443.6 259L448.2 257.8L452.8 256.7L457.3 255.5L461.9 254.3M192 325.1L193.8 326.2M196.6 323.9L198.3 325M201.1 322.7L202.9 323.8M205.7 321.5L207.5 322.6M210.3 320.3L212.1 321.4M214.9 319.1L216.6 320.2M219.4 317.9L221.2 319M224 316.6L225.8 317.8M228.6 315.4L230.4 316.6M233.2 314.2L234.9 315.4M237.7 313L239.5 314.2M242.3 311.8L244.1 313M246.9 310.6L248.7 311.8M251.5 309.4L253.2 310.6M256 308.2L257.8 309.4M260.6 307L262.4 308.2M265.2 305.8L267 307M269.8 304.6L271.5 305.8M274.3 303.4L276.1 304.6M278.9 302.2L280.7 303.4M283.5 301L285.3 302.2M288.1 299.8L289.8 301M292.6 298.6L294.4 299.8M297.2 297.4L299 298.6M301.8 296.2L303.6 297.4M306.4 295L308.1 296.2M310.9 293.8L312.7 295M315.5 292.6L317.3 293.8M320.1 291.4L321.9 292.6M324.7 290.2L326.4 291.4M329.2 289L331 290.2M333.8 287.8L335.6 289M338.4 286.6L340.2 287.8M343 285.4L344.7 286.6M347.5 284.2L349.3 285.4M352.1 283L353.9 284.2M356.7 281.8L358.5 283M361.3 280.6L363 281.8M365.8 279.4L367.6 280.6M370.4 278.2L372.2 279.4M375 277L376.8 278.2M379.6 275.8L381.3 277M384.1 274.6L385.9 275.8M388.7 273.4L390.5 274.6M393.3 272.2L395.1 273.4M397.9 271L399.6 272.2M402.4 269.8L404.2 271M407 268.6L408.8 269.8M411.6 267.4L413.4 268.6M416.2 266.2L417.9 267.4M420.7 265L422.5 266.2M425.3 263.8L427.1 265M429.9 262.6L431.7 263.8M434.5 261.4L436.2 262.6M439 260.2L440.8 261.4M443.6 259L445.4 260.2M448.2 257.8L450 259M452.8 256.7L454.5 257.8M457.3 255.5L459.1 256.6M461.9 254.3L463.7 255.4"/><path class="w" d="M193.8 326.2L198.3 325L202.9 323.8L207.5 322.6L212.1 321.4L216.6 320.2L221.2 319L225.8 317.8L230.4 316.6L234.9 315.4L239.5 314.2L244.1 313L248.7 311.8L253.2 310.6L257.8 309.4L262.4 308.2L267 307L271.5 305.8L276.1 304.6L280.7 303.4L285.3 302.2L289.8 301L294.4 299.8L299 298.6L303.6 297.4L308.1 296.2L312.7 295L317.3 293.8L321.9 292.6L326.4 291.4L331 290.2L335.6 289L340.2 287.8L344.7 286.6L349.3 285.4L353.9 284.2L358.5 283L363 281.8L367.6 280.6L372.2 279.4L376.8 278.2L381.3 277L385.9 275.8L390.5 274.6L395.1 273.4L399.6 272.2L404.2 271L408.8 269.8L413.4 268.6L417.9 267.4L422.5 266.2L427.1 265L431.7 263.8L436.2 262.6L440.8 261.4L445.4 260.2L450 259L454.5 257.8L459.1 256.6L463.7 255.4L465.5 256.6L460.9 257.8L456.3 259L451.8 260.2L447.2 261.4L442.6 262.6L438 263.8L433.5 265L428.9 266.2L424.3 267.4L419.7 268.6L415.2 269.8L410.6 271L406 272.1L401.4 273.3L396.9 274.5L392.3 275.7L387.7 276.9L383.1 278.1L378.6 279.3L374 280.5L369.4 281.7L364.8 282.9L360.3 284.1L355.7 285.3L351.1 286.5L346.5 287.7L342 288.9L337.4 290.1L332.8 291.3L328.2 292.5L323.7 293.7L319.1 294.9L314.5 296.1L309.9 297.3L305.4 298.5L300.8 299.7L296.2 300.9L291.6 302.1L287.1 303.3L282.5 304.5L277.9 305.7L273.3 306.9L268.8 308.1L264.2 309.3L259.6 310.5L255 311.7L250.5 312.9L245.9 314.1L241.3 315.3L236.7 316.5L232.2 317.7L227.6 318.9L223 320.1L218.4 321.3L213.9 322.5L209.3 323.7L204.7 324.9L200.1 326.1L195.6 327.3z"/><path class="k0" d="M193.8 326.2L198.3 325L202.9 323.8L207.5 322.6L212.1 321.4L216.6 320.2L221.2 319L225.8 317.8L230.4 316.6L234.9 315.4L239.5 314.2L244.1 313L248.7 311.8L253.2 310.6L257.8 309.4L262.4 308.2L267 307L271.5 305.8L276.1 304.6L280.7 303.4L285.3 302.2L289.8 301L294.4 299.8L299 298.6L303.6 297.4L308.1 296.2L312.7 295L317.3 293.8L321.9 292.6L326.4 291.4L331 290.2L335.6 289L340.2 287.8L344.7 286.6L349.3 285.4L353.9 284.2L358.5 283L363 281.8L367.6 280.6L372.2 279.4L376.8 278.2L381.3 277L385.9 275.8L390.5 274.6L395.1 273.4L399.6 272.2L404.2 271L408.8 269.8L413.4 268.6L417.9 267.4L422.5 266.2L427.1 265L431.7 263.8L436.2 262.6L440.8 261.4L445.4 260.2L450 259L454.5 257.8L459.1 256.6L463.7 255.4M193.8 326.2L195.6 327.3M198.3 325L200.1 326.1M202.9 323.8L204.7 324.9M207.5 322.6L209.3 323.7M212.1 321.4L213.9 322.5M216.6 320.2L218.4 321.3M221.2 319L223 320.1M225.8 317.8L227.6 318.9M230.4 316.6L232.2 317.7M234.9 315.4L236.7 316.5M239.5 314.2L241.3 315.3M244.1 313L245.9 314.1M248.7 311.8L250.5 312.9M253.2 310.6L255 311.7M257.8 309.4L259.6 310.5M262.4 308.2L264.2 309.3M267 307L268.8 308.1M271.5 305.8L273.3 306.9M276.1 304.6L277.9 305.7M280.7 303.4L282.5 304.5M285.3 302.2L287.1 303.3M289.8 301L291.6 302.1M294.4 299.8L296.2 300.9M299 298.6L300.8 299.7M303.6 297.4L305.4 298.5M308.1 296.2L309.9 297.3M312.7 295L314.5 296.1M317.3 293.8L319.1 294.9M321.9 292.6L323.7 293.7M326.4 291.4L328.2 292.5M331 290.2L332.8 291.3M335.6 289L337.4 290.1M340.2 287.8L342 288.9M344.7 286.6L346.5 287.7M349.3 285.4L351.1 286.5M353.9 284.2L355.7 285.3M358.5 283L360.3 284.1M363 281.8L364.8 282.9M367.6 280.6L369.4 281.7M372.2 279.4L374 280.5M376.8 278.2L378.6 279.3M381.3 277L383.1 278.1M385.9 275.8L387.7 276.9M390.5 274.6L392.3 275.7M395.1 273.4L396.9 274.5M399.6 272.2L401.4 273.3M404.2 271L406 272.1M408.8 269.8L410.6 271M413.4 268.6L415.2 269.8M417.9 267.4L419.7 268.6M422.5 266.2L424.3 267.4M427.1 265L428.9 266.2M431.7 263.8L433.5 265M436.2 262.6L438 263.8M440.8 261.4L442.6 262.6M445.4 260.2L447.2 261.4M450 259L451.8 260.2M454.5 257.8L456.3 259M459.1 256.6L460.9 257.8M463.7 255.4L465.5 256.6"/><path class="w" d="M195.6 327.3L200.1 326.1L204.7 324.9L209.3 323.7L213.9 322.5L218.4 321.3L223 320.1L227.6 318.9L232.2 317.7L236.7 316.5L241.3 315.3L245.9 314.1L250.5 312.9L255 311.7L259.6 310.5L264.2 309.3L268.8 308.1L273.3 306.9L277.9 305.7L282.5 304.5L287.1 303.3L291.6 302.1L296.2 300.9L300.8 299.7L305.4 298.5L309.9 297.3L314.5 296.1L319.1 294.9L323.7 293.7L328.2 292.5L332.8 291.3L337.4 290.1L342 288.9L346.5 287.7L351.1 286.5L355.7 285.3L360.3 284.1L364.8 282.9L369.4 281.7L374 280.5L378.6 279.3L383.1 278.1L387.7 276.9L392.3 275.7L396.9 274.5L401.4 273.3L406 272.1L410.6 271L415.2 269.8L419.7 268.6L424.3 267.4L428.9 266.2L433.5 265L438 263.8L442.6 262.6L447.2 261.4L451.8 260.2L456.3 259L460.9 257.8L465.5 256.6L467.3 257.7L462.7 258.9L458.1 260.1L453.5 261.3L449 262.5L444.4 263.7L439.8 264.9L435.2 266.1L430.7 267.3L426.1 268.5L421.5 269.7L417 270.9L412.4 272.1L407.8 273.3L403.2 274.5L398.6 275.7L394.1 276.9L389.5 278.1L384.9 279.3L380.4 280.5L375.8 281.7L371.2 282.9L366.6 284.1L362.1 285.3L357.5 286.5L352.9 287.7L348.3 288.9L343.8 290.1L339.2 291.3L334.6 292.5L330 293.7L325.4 294.9L320.9 296.1L316.3 297.3L311.7 298.5L307.1 299.7L302.6 300.8L298 302L293.4 303.2L288.9 304.4L284.3 305.6L279.7 306.8L275.1 308L270.6 309.2L266 310.4L261.4 311.6L256.8 312.8L252.2 314L247.7 315.2L243.1 316.4L238.5 317.6L233.9 318.8L229.4 320L224.8 321.2L220.2 322.4L215.7 323.6L211.1 324.8L206.5 326L201.9 327.2L197.3 328.4z"/><path class="k0" d="M195.6 327.3L200.1 326.1L204.7 324.9L209.3 323.7L213.9 322.5L218.4 321.3L223 320.1L227.6 318.9L232.2 317.7L236.7 316.5L241.3 315.3L245.9 314.1L250.5 312.9L255 311.7L259.6 310.5L264.2 309.3L268.8 308.1L273.3 306.9L277.9 305.7L282.5 304.5L287.1 303.3L291.6 302.1L296.2 300.9L300.8 299.7L305.4 298.5L309.9 297.3L314.5 296.1L319.1 294.9L323.7 293.7L328.2 292.5L332.8 291.3L337.4 290.1L342 288.9L346.5 287.7L351.1 286.5L355.7 285.3L360.3 284.1L364.8 282.9L369.4 281.7L374 280.5L378.6 279.3L383.1 278.1L387.7 276.9L392.3 275.7L396.9 274.5L401.4 273.3L406 272.1L410.6 271L415.2 269.8L419.7 268.6L424.3 267.4L428.9 266.2L433.5 265L438 263.8L442.6 262.6L447.2 261.4L451.8 260.2L456.3 259L460.9 257.8L465.5 256.6M195.6 327.3L197.3 328.4M200.1 326.1L201.9 327.2M204.7 324.9L206.5 326M209.3 323.7L211.1 324.8M213.9 322.5L215.7 323.6M218.4 321.3L220.2 322.4M223 320.1L224.8 321.2M227.6 318.9L229.4 320M232.2 317.7L233.9 318.8M236.7 316.5L238.5 317.6M241.3 315.3L243.1 316.4M245.9 314.1L247.7 315.2M250.5 312.9L252.2 314M255 311.7L256.8 312.8M259.6 310.5L261.4 311.6M264.2 309.3L266 310.4M268.8 308.1L270.6 309.2M273.3 306.9L275.1 308M277.9 305.7L279.7 306.8M282.5 304.5L284.3 305.6M287.1 303.3L288.9 304.4M291.6 302.1L293.4 303.2M296.2 300.9L298 302M300.8 299.7L302.6 300.8M305.4 298.5L307.1 299.7M309.9 297.3L311.7 298.5M314.5 296.1L316.3 297.3M319.1 294.9L320.9 296.1M323.7 293.7L325.4 294.9M328.2 292.5L330 293.7M332.8 291.3L334.6 292.5M337.4 290.1L339.2 291.3M342 288.9L343.8 290.1M346.5 287.7L348.3 288.9M351.1 286.5L352.9 287.7M355.7 285.3L357.5 286.5M360.3 284.1L362.1 285.3M364.8 282.9L366.6 284.1M369.4 281.7L371.2 282.9M374 280.5L375.8 281.7M378.6 279.3L380.4 280.5M383.1 278.1L384.9 279.3M387.7 276.9L389.5 278.1M392.3 275.7L394.1 276.9M396.9 274.5L398.6 275.7M401.4 273.3L403.2 274.5M406 272.1L407.8 273.3M410.6 271L412.4 272.1M415.2 269.8L417 270.9M419.7 268.6L421.5 269.7M424.3 267.4L426.1 268.5M428.9 266.2L430.7 267.3M433.5 265L435.2 266.1M438 263.8L439.8 264.9M442.6 262.6L444.4 263.7M447.2 261.4L449 262.5M451.8 260.2L453.5 261.3M456.3 259L458.1 260.1M460.9 257.8L462.7 258.9M465.5 256.6L467.3 257.7"/><path class="w" d="M197.3 328.4L201.9 327.2L206.5 326L211.1 324.8L215.7 323.6L220.2 322.4L224.8 321.2L229.4 320L233.9 318.8L238.5 317.6L243.1 316.4L247.7 315.2L252.2 314L256.8 312.8L261.4 311.6L266 310.4L270.6 309.2L275.1 308L279.7 306.8L284.3 305.6L288.9 304.4L293.4 303.2L298 302L302.6 300.8L307.1 299.7L311.7 298.5L316.3 297.3L320.9 296.1L325.4 294.9L330 293.7L334.6 292.5L339.2 291.3L343.8 290.1L348.3 288.9L352.9 287.7L357.5 286.5L362.1 285.3L366.6 284.1L371.2 282.9L375.8 281.7L380.4 280.5L384.9 279.3L389.5 278.1L394.1 276.9L398.6 275.7L403.2 274.5L407.8 273.3L412.4 272.1L417 270.9L421.5 269.7L426.1 268.5L430.7 267.3L435.2 266.1L439.8 264.9L444.4 263.7L449 262.5L453.5 261.3L458.1 260.1L462.7 258.9L467.3 257.7L469.1 258.9L464.5 260.1L459.9 261.3L455.3 262.5L450.8 263.7L446.2 264.9L441.6 266.1L437 267.3L432.5 268.5L427.9 269.7L423.3 270.9L418.7 272.1L414.2 273.3L409.6 274.4L405 275.6L400.4 276.8L395.9 278L391.3 279.2L386.7 280.4L382.1 281.6L377.6 282.8L373 284L368.4 285.2L363.8 286.4L359.3 287.6L354.7 288.8L350.1 290L345.5 291.2L341 292.4L336.4 293.6L331.8 294.8L327.2 296L322.7 297.2L318.1 298.4L313.5 299.6L308.9 300.8L304.4 302L299.8 303.2L295.2 304.4L290.6 305.6L286.1 306.8L281.5 308L276.9 309.2L272.3 310.4L267.8 311.6L263.2 312.8L258.6 314L254 315.2L249.5 316.4L244.9 317.6L240.3 318.8L235.7 320L231.2 321.2L226.6 322.4L222 323.6L217.4 324.8L212.9 326L208.3 327.2L203.7 328.4L199.1 329.6z"/><path class="k0" d="M197.3 328.4L201.9 327.2L206.5 326L211.1 324.8L215.7 323.6L220.2 322.4L224.8 321.2L229.4 320L233.9 318.8L238.5 317.6L243.1 316.4L247.7 315.2L252.2 314L256.8 312.8L261.4 311.6L266 310.4L270.6 309.2L275.1 308L279.7 306.8L284.3 305.6L288.9 304.4L293.4 303.2L298 302L302.6 300.8L307.1 299.7L311.7 298.5L316.3 297.3L320.9 296.1L325.4 294.9L330 293.7L334.6 292.5L339.2 291.3L343.8 290.1L348.3 288.9L352.9 287.7L357.5 286.5L362.1 285.3L366.6 284.1L371.2 282.9L375.8 281.7L380.4 280.5L384.9 279.3L389.5 278.1L394.1 276.9L398.6 275.7L403.2 274.5L407.8 273.3L412.4 272.1L417 270.9L421.5 269.7L426.1 268.5L430.7 267.3L435.2 266.1L439.8 264.9L444.4 263.7L449 262.5L453.5 261.3L458.1 260.1L462.7 258.9L467.3 257.7M197.3 328.4L199.1 329.6M201.9 327.2L203.7 328.4M206.5 326L208.3 327.2M211.1 324.8L212.9 326M215.7 323.6L217.4 324.8M220.2 322.4L222 323.6M224.8 321.2L226.6 322.4M229.4 320L231.2 321.2M233.9 318.8L235.7 320M238.5 317.6L240.3 318.8M243.1 316.4L244.9 317.6M247.7 315.2L249.5 316.4M252.2 314L254 315.2M256.8 312.8L258.6 314M261.4 311.6L263.2 312.8M266 310.4L267.8 311.6M270.6 309.2L272.3 310.4M275.1 308L276.9 309.2M279.7 306.8L281.5 308M284.3 305.6L286.1 306.8M288.9 304.4L290.6 305.6M293.4 303.2L295.2 304.4M298 302L299.8 303.2M302.6 300.8L304.4 302M307.1 299.7L308.9 300.8M311.7 298.5L313.5 299.6M316.3 297.3L318.1 298.4M320.9 296.1L322.7 297.2M325.4 294.9L327.2 296M330 293.7L331.8 294.8M334.6 292.5L336.4 293.6M339.2 291.3L341 292.4M343.8 290.1L345.5 291.2M348.3 288.9L350.1 290M352.9 287.7L354.7 288.8M357.5 286.5L359.3 287.6M362.1 285.3L363.8 286.4M366.6 284.1L368.4 285.2M371.2 282.9L373 284M375.8 281.7L377.6 282.8M380.4 280.5L382.1 281.6M384.9 279.3L386.7 280.4M389.5 278.1L391.3 279.2M394.1 276.9L395.9 278M398.6 275.7L400.4 276.8M403.2 274.5L405 275.6M407.8 273.3L409.6 274.4M412.4 272.1L414.2 273.3M417 270.9L418.7 272.1M421.5 269.7L423.3 270.9M426.1 268.5L427.9 269.7M430.7 267.3L432.5 268.5M435.2 266.1L437 267.3M439.8 264.9L441.6 266.1M444.4 263.7L446.2 264.9M449 262.5L450.8 263.7M453.5 261.3L455.3 262.5M458.1 260.1L459.9 261.3M462.7 258.9L464.5 260.1M467.3 257.7L469.1 258.9"/><path class="w" d="M199.1 329.6L203.7 328.4L208.3 327.2L212.9 326L217.4 324.8L222 323.6L226.6 322.4L231.2 321.2L235.7 320L240.3 318.8L244.9 317.6L249.5 316.4L254 315.2L258.6 314L263.2 312.8L267.8 311.6L272.3 310.4L276.9 309.2L281.5 308L286.1 306.8L290.6 305.6L295.2 304.4L299.8 303.2L304.4 302L308.9 300.8L313.5 299.6L318.1 298.4L322.7 297.2L327.2 296L331.8 294.8L336.4 293.6L341 292.4L345.5 291.2L350.1 290L354.7 288.8L359.3 287.6L363.8 286.4L368.4 285.2L373 284L377.6 282.8L382.1 281.6L386.7 280.4L391.3 279.2L395.9 278L400.4 276.8L405 275.6L409.6 274.4L414.2 273.3L418.7 272.1L423.3 270.9L427.9 269.7L432.5 268.5L437 267.3L441.6 266.1L446.2 264.9L450.8 263.7L455.3 262.5L459.9 261.3L464.5 260.1L469.1 258.9L470.9 260L466.3 261.2L461.7 262.4L457.1 263.6L452.6 264.8L448 266L443.4 267.2L438.8 268.4L434.3 269.6L429.7 270.8L425.1 272L420.5 273.2L416 274.4L411.4 275.6L406.8 276.8L402.2 278L397.7 279.2L393.1 280.4L388.5 281.6L383.9 282.8L379.4 284L374.8 285.2L370.2 286.4L365.6 287.6L361.1 288.7L356.5 289.9L351.9 291.1L347.3 292.3L342.8 293.5L338.2 294.7L333.6 295.9L329 297.1L324.5 298.3L319.9 299.5L315.3 300.7L310.7 301.9L306.2 303.1L301.6 304.3L297 305.5L292.4 306.7L287.9 307.9L283.3 309.1L278.7 310.3L274.1 311.5L269.6 312.7L265 313.9L260.4 315.1L255.8 316.3L251.3 317.5L246.7 318.7L242.1 319.9L237.5 321.1L233 322.3L228.4 323.5L223.8 324.7L219.2 325.9L214.7 327.1L210.1 328.3L205.5 329.5L200.9 330.7z"/><path class="k0" d="M199.1 329.6L203.7 328.4L208.3 327.2L212.9 326L217.4 324.8L222 323.6L226.6 322.4L231.2 321.2L235.7 320L240.3 318.8L244.9 317.6L249.5 316.4L254 315.2L258.6 314L263.2 312.8L267.8 311.6L272.3 310.4L276.9 309.2L281.5 308L286.1 306.8L290.6 305.6L295.2 304.4L299.8 303.2L304.4 302L308.9 300.8L313.5 299.6L318.1 298.4L322.7 297.2L327.2 296L331.8 294.8L336.4 293.6L341 292.4L345.5 291.2L350.1 290L354.7 288.8L359.3 287.6L363.8 286.4L368.4 285.2L373 284L377.6 282.8L382.1 281.6L386.7 280.4L391.3 279.2L395.9 278L400.4 276.8L405 275.6L409.6 274.4L414.2 273.3L418.7 272.1L423.3 270.9L427.9 269.7L432.5 268.5L437 267.3L441.6 266.1L446.2 264.9L450.8 263.7L455.3 262.5L459.9 261.3L464.5 260.1L469.1 258.9M199.1 329.6L200.9 330.7M203.7 328.4L205.5 329.5M208.3 327.2L210.1 328.3M212.9 326L214.7 327.1M217.4 324.8L219.2 325.9M222 323.6L223.8 324.7M226.6 322.4L228.4 323.5M231.2 321.2L233 322.3M235.7 320L237.5 321.1M240.3 318.8L242.1 319.9M244.9 317.6L246.7 318.7M249.5 316.4L251.3 317.5M254 315.2L255.8 316.3M258.6 314L260.4 315.1M263.2 312.8L265 313.9M267.8 311.6L269.6 312.7M272.3 310.4L274.1 311.5M276.9 309.2L278.7 310.3M281.5 308L283.3 309.1M286.1 306.8L287.9 307.9M290.6 305.6L292.4 306.7M295.2 304.4L297 305.5M299.8 303.2L301.6 304.3M304.4 302L306.2 303.1M308.9 300.8L310.7 301.9M313.5 299.6L315.3 300.7M318.1 298.4L319.9 299.5M322.7 297.2L324.5 298.3M327.2 296L329 297.1M331.8 294.8L333.6 295.9M336.4 293.6L338.2 294.7M341 292.4L342.8 293.5M345.5 291.2L347.3 292.3M350.1 290L351.9 291.1M354.7 288.8L356.5 289.9M359.3 287.6L361.1 288.7M363.8 286.4L365.6 287.6M368.4 285.2L370.2 286.4M373 284L374.8 285.2M377.6 282.8L379.4 284M382.1 281.6L383.9 282.8M386.7 280.4L388.5 281.6M391.3 279.2L393.1 280.4M395.9 278L397.7 279.2M400.4 276.8L402.2 278M405 275.6L406.8 276.8M409.6 274.4L411.4 275.6M414.2 273.3L416 274.4M418.7 272.1L420.5 273.2M423.3 270.9L425.1 272M427.9 269.7L429.7 270.8M432.5 268.5L434.3 269.6M437 267.3L438.8 268.4M441.6 266.1L443.4 267.2M446.2 264.9L448 266M450.8 263.7L452.6 264.8M455.3 262.5L457.1 263.6M459.9 261.3L461.7 262.4M464.5 260.1L466.3 261.2M469.1 258.9L470.9 260"/><path class="w" d="M200.9 330.7L205.5 329.5L210.1 328.3L214.7 327.1L219.2 325.9L223.8 324.7L228.4 323.5L233 322.3L237.5 321.1L242.1 319.9L246.7 318.7L251.3 317.5L255.8 316.3L260.4 315.1L265 313.9L269.6 312.7L274.1 311.5L278.7 310.3L283.3 309.1L287.9 307.9L292.4 306.7L297 305.5L301.6 304.3L306.2 303.1L310.7 301.9L315.3 300.7L319.9 299.5L324.5 298.3L329 297.1L333.6 295.9L338.2 294.7L342.8 293.5L347.3 292.3L351.9 291.1L356.5 289.9L361.1 288.7L365.6 287.6L370.2 286.4L374.8 285.2L379.4 284L383.9 282.8L388.5 281.6L393.1 280.4L397.7 279.2L402.2 278L406.8 276.8L411.4 275.6L416 274.4L420.5 273.2L425.1 272L429.7 270.8L434.3 269.6L438.8 268.4L443.4 267.2L448 266L452.6 264.8L457.1 263.6L461.7 262.4L466.3 261.2L470.9 260L472.6 261.2L468.1 262.4L463.5 263.6L458.9 264.8L454.3 266L449.8 267.2L445.2 268.4L440.6 269.5L436 270.7L431.5 271.9L426.9 273.1L422.3 274.3L417.7 275.5L413.2 276.7L408.6 277.9L404 279.1L399.4 280.3L394.9 281.5L390.3 282.7L385.7 283.9L381.1 285.1L376.6 286.3L372 287.5L367.4 288.7L362.8 289.9L358.3 291.1L353.7 292.3L349.1 293.5L344.5 294.7L340 295.9L335.4 297.1L330.8 298.3L326.2 299.5L321.7 300.7L317.1 301.9L312.5 303L307.9 304.2L303.4 305.4L298.8 306.6L294.2 307.8L289.6 309L285.1 310.2L280.5 311.4L275.9 312.6L271.3 313.8L266.8 315L262.2 316.2L257.6 317.4L253 318.6L248.5 319.8L243.9 321L239.3 322.2L234.7 323.4L230.2 324.6L225.6 325.8L221 327L216.4 328.2L211.9 329.4L207.3 330.6L202.7 331.8z"/><path class="k0" d="M200.9 330.7L205.5 329.5L210.1 328.3L214.7 327.1L219.2 325.9L223.8 324.7L228.4 323.5L233 322.3L237.5 321.1L242.1 319.9L246.7 318.7L251.3 317.5L255.8 316.3L260.4 315.1L265 313.9L269.6 312.7L274.1 311.5L278.7 310.3L283.3 309.1L287.9 307.9L292.4 306.7L297 305.5L301.6 304.3L306.2 303.1L310.7 301.9L315.3 300.7L319.9 299.5L324.5 298.3L329 297.1L333.6 295.9L338.2 294.7L342.8 293.5L347.3 292.3L351.9 291.1L356.5 289.9L361.1 288.7L365.6 287.6L370.2 286.4L374.8 285.2L379.4 284L383.9 282.8L388.5 281.6L393.1 280.4L397.7 279.2L402.2 278L406.8 276.8L411.4 275.6L416 274.4L420.5 273.2L425.1 272L429.7 270.8L434.3 269.6L438.8 268.4L443.4 267.2L448 266L452.6 264.8L457.1 263.6L461.7 262.4L466.3 261.2L470.9 260M200.9 330.7L202.7 331.8M205.5 329.5L207.3 330.6M210.1 328.3L211.9 329.4M214.7 327.1L216.4 328.2M219.2 325.9L221 327M223.8 324.7L225.6 325.8M228.4 323.5L230.2 324.6M233 322.3L234.7 323.4M237.5 321.1L239.3 322.2M242.1 319.9L243.9 321M246.7 318.7L248.5 319.8M251.3 317.5L253 318.6M255.8 316.3L257.6 317.4M260.4 315.1L262.2 316.2M265 313.9L266.8 315M269.6 312.7L271.3 313.8M274.1 311.5L275.9 312.6M278.7 310.3L280.5 311.4M283.3 309.1L285.1 310.2M287.9 307.9L289.6 309M292.4 306.7L294.2 307.8M297 305.5L298.8 306.6M301.6 304.3L303.4 305.4M306.2 303.1L307.9 304.2M310.7 301.9L312.5 303M315.3 300.7L317.1 301.9M319.9 299.5L321.7 300.7M324.5 298.3L326.2 299.5M329 297.1L330.8 298.3M333.6 295.9L335.4 297.1M338.2 294.7L340 295.9M342.8 293.5L344.5 294.7M347.3 292.3L349.1 293.5M351.9 291.1L353.7 292.3M356.5 289.9L358.3 291.1M361.1 288.7L362.8 289.9M365.6 287.6L367.4 288.7M370.2 286.4L372 287.5M374.8 285.2L376.6 286.3M379.4 284L381.1 285.1M383.9 282.8L385.7 283.9M388.5 281.6L390.3 282.7M393.1 280.4L394.9 281.5M397.7 279.2L399.4 280.3M402.2 278L404 279.1M406.8 276.8L408.6 277.9M411.4 275.6L413.2 276.7M416 274.4L417.7 275.5M420.5 273.2L422.3 274.3M425.1 272L426.9 273.1M429.7 270.8L431.5 271.9M434.3 269.6L436 270.7M438.8 268.4L440.6 269.5M443.4 267.2L445.2 268.4M448 266L449.8 267.2M452.6 264.8L454.3 266M457.1 263.6L458.9 264.8M461.7 262.4L463.5 263.6M466.3 261.2L468.1 262.4M470.9 260L472.6 261.2"/><path class="w" d="M202.7 331.8L207.3 330.6L211.9 329.4L216.4 328.2L221 327L225.6 325.8L230.2 324.6L234.7 323.4L239.3 322.2L243.9 321L248.5 319.8L253 318.6L257.6 317.4L262.2 316.2L266.8 315L271.3 313.8L275.9 312.6L280.5 311.4L285.1 310.2L289.6 309L294.2 307.8L298.8 306.6L303.4 305.4L307.9 304.2L312.5 303L317.1 301.9L321.7 300.7L326.2 299.5L330.8 298.3L335.4 297.1L340 295.9L344.5 294.7L349.1 293.5L353.7 292.3L358.3 291.1L362.8 289.9L367.4 288.7L372 287.5L376.6 286.3L381.1 285.1L385.7 283.9L390.3 282.7L394.9 281.5L399.4 280.3L404 279.1L408.6 277.9L413.2 276.7L417.7 275.5L422.3 274.3L426.9 273.1L431.5 271.9L436 270.7L440.6 269.5L445.2 268.4L449.8 267.2L454.3 266L458.9 264.8L463.5 263.6L468.1 262.4L472.6 261.2L474.4 262.3L469.9 263.5L465.3 264.7L460.7 265.9L456.1 267.1L451.6 268.3L447 269.5L442.4 270.7L437.8 271.9L433.3 273.1L428.7 274.3L424.1 275.5L419.5 276.7L415 277.9L410.4 279.1L405.8 280.2L401.2 281.4L396.7 282.6L392.1 283.8L387.5 285L382.9 286.2L378.4 287.4L373.8 288.6L369.2 289.8L364.6 291L360.1 292.2L355.5 293.4L350.9 294.6L346.3 295.8L341.8 297L337.2 298.2L332.6 299.4L328 300.6L323.5 301.8L318.9 303L314.3 304.2L309.7 305.4L305.2 306.6L300.6 307.8L296 309L291.4 310.2L286.9 311.4L282.3 312.6L277.7 313.8L273.1 314.9L268.6 316.1L264 317.3L259.4 318.5L254.8 319.7L250.3 320.9L245.7 322.1L241.1 323.3L236.5 324.5L232 325.7L227.4 326.9L222.8 328.1L218.2 329.3L213.7 330.5L209.1 331.7L204.5 332.9z"/><path class="k0" d="M202.7 331.8L207.3 330.6L211.9 329.4L216.4 328.2L221 327L225.6 325.8L230.2 324.6L234.7 323.4L239.3 322.2L243.9 321L248.5 319.8L253 318.6L257.6 317.4L262.2 316.2L266.8 315L271.3 313.8L275.9 312.6L280.5 311.4L285.1 310.2L289.6 309L294.2 307.8L298.8 306.6L303.4 305.4L307.9 304.2L312.5 303L317.1 301.9L321.7 300.7L326.2 299.5L330.8 298.3L335.4 297.1L340 295.9L344.5 294.7L349.1 293.5L353.7 292.3L358.3 291.1L362.8 289.9L367.4 288.7L372 287.5L376.6 286.3L381.1 285.1L385.7 283.9L390.3 282.7L394.9 281.5L399.4 280.3L404 279.1L408.6 277.9L413.2 276.7L417.7 275.5L422.3 274.3L426.9 273.1L431.5 271.9L436 270.7L440.6 269.5L445.2 268.4L449.8 267.2L454.3 266L458.9 264.8L463.5 263.6L468.1 262.4L472.6 261.2M202.7 331.8L204.5 332.9M207.3 330.6L209.1 331.7M211.9 329.4L213.7 330.5M216.4 328.2L218.2 329.3M221 327L222.8 328.1M225.6 325.8L227.4 326.9M230.2 324.6L232 325.7M234.7 323.4L236.5 324.5M239.3 322.2L241.1 323.3M243.9 321L245.7 322.1M248.5 319.8L250.3 320.9M253 318.6L254.8 319.7M257.6 317.4L259.4 318.5M262.2 316.2L264 317.3M266.8 315L268.6 316.1M271.3 313.8L273.1 314.9M275.9 312.6L277.7 313.8M280.5 311.4L282.3 312.6M285.1 310.2L286.9 311.4M289.6 309L291.4 310.2M294.2 307.8L296 309M298.8 306.6L300.6 307.8M303.4 305.4L305.2 306.6M307.9 304.2L309.7 305.4M312.5 303L314.3 304.2M317.1 301.9L318.9 303M321.7 300.7L323.5 301.8M326.2 299.5L328 300.6M330.8 298.3L332.6 299.4M335.4 297.1L337.2 298.2M340 295.9L341.8 297M344.5 294.7L346.3 295.8M349.1 293.5L350.9 294.6M353.7 292.3L355.5 293.4M358.3 291.1L360.1 292.2M362.8 289.9L364.6 291M367.4 288.7L369.2 289.8M372 287.5L373.8 288.6M376.6 286.3L378.4 287.4M381.1 285.1L382.9 286.2M385.7 283.9L387.5 285M390.3 282.7L392.1 283.8M394.9 281.5L396.7 282.6M399.4 280.3L401.2 281.4M404 279.1L405.8 280.2M408.6 277.9L410.4 279.1M413.2 276.7L415 277.9M417.7 275.5L419.5 276.7M422.3 274.3L424.1 275.5M426.9 273.1L428.7 274.3M431.5 271.9L433.3 273.1M436 270.7L437.8 271.9M440.6 269.5L442.4 270.7M445.2 268.4L447 269.5M449.8 267.2L451.6 268.3M454.3 266L456.1 267.1M458.9 264.8L460.7 265.9M463.5 263.6L465.3 264.7M468.1 262.4L469.9 263.5M472.6 261.2L474.4 262.3"/><path class="w" d="M204.5 332.9L209.1 331.7L213.7 330.5L218.2 329.3L222.8 328.1L227.4 326.9L232 325.7L236.5 324.5L241.1 323.3L245.7 322.1L250.3 320.9L254.8 319.7L259.4 318.5L264 317.3L268.6 316.1L273.1 314.9L277.7 313.8L282.3 312.6L286.9 311.4L291.4 310.2L296 309L300.6 307.8L305.2 306.6L309.7 305.4L314.3 304.2L318.9 303L323.5 301.8L328 300.6L332.6 299.4L337.2 298.2L341.8 297L346.3 295.8L350.9 294.6L355.5 293.4L360.1 292.2L364.6 291L369.2 289.8L373.8 288.6L378.4 287.4L382.9 286.2L387.5 285L392.1 283.8L396.7 282.6L401.2 281.4L405.8 280.2L410.4 279.1L415 277.9L419.5 276.7L424.1 275.5L428.7 274.3L433.3 273.1L437.8 271.9L442.4 270.7L447 269.5L451.6 268.3L456.1 267.1L460.7 265.9L465.3 264.7L469.9 263.5L474.4 262.3L476.2 263.4L471.6 264.6L467.1 265.8L462.5 267L457.9 268.2L453.4 269.4L448.8 270.6L444.2 271.8L439.6 273L435 274.2L430.5 275.4L425.9 276.6L421.3 277.8L416.8 279L412.2 280.2L407.6 281.4L403 282.6L398.4 283.8L393.9 285L389.3 286.2L384.7 287.4L380.1 288.6L375.6 289.7L371 290.9L366.4 292.1L361.9 293.3L357.3 294.5L352.7 295.7L348.1 296.9L343.5 298.1L339 299.3L334.4 300.5L329.8 301.7L325.2 302.9L320.7 304.1L316.1 305.3L311.5 306.5L306.9 307.7L302.4 308.9L297.8 310.1L293.2 311.3L288.6 312.5L284.1 313.7L279.5 314.9L274.9 316.1L270.3 317.3L265.8 318.5L261.2 319.7L256.6 320.9L252 322.1L247.5 323.2L242.9 324.4L238.3 325.6L233.8 326.8L229.2 328L224.6 329.2L220 330.4L215.4 331.6L210.9 332.8L206.3 334z"/><path class="k0" d="M204.5 332.9L209.1 331.7L213.7 330.5L218.2 329.3L222.8 328.1L227.4 326.9L232 325.7L236.5 324.5L241.1 323.3L245.7 322.1L250.3 320.9L254.8 319.7L259.4 318.5L264 317.3L268.6 316.1L273.1 314.9L277.7 313.8L282.3 312.6L286.9 311.4L291.4 310.2L296 309L300.6 307.8L305.2 306.6L309.7 305.4L314.3 304.2L318.9 303L323.5 301.8L328 300.6L332.6 299.4L337.2 298.2L341.8 297L346.3 295.8L350.9 294.6L355.5 293.4L360.1 292.2L364.6 291L369.2 289.8L373.8 288.6L378.4 287.4L382.9 286.2L387.5 285L392.1 283.8L396.7 282.6L401.2 281.4L405.8 280.2L410.4 279.1L415 277.9L419.5 276.7L424.1 275.5L428.7 274.3L433.3 273.1L437.8 271.9L442.4 270.7L447 269.5L451.6 268.3L456.1 267.1L460.7 265.9L465.3 264.7L469.9 263.5L474.4 262.3M204.5 332.9L206.3 334M209.1 331.7L210.9 332.8M213.7 330.5L215.4 331.6M218.2 329.3L220 330.4M222.8 328.1L224.6 329.2M227.4 326.9L229.2 328M232 325.7L233.8 326.8M236.5 324.5L238.3 325.6M241.1 323.3L242.9 324.4M245.7 322.1L247.5 323.2M250.3 320.9L252 322.1M254.8 319.7L256.6 320.9M259.4 318.5L261.2 319.7M264 317.3L265.8 318.5M268.6 316.1L270.3 317.3M273.1 314.9L274.9 316.1M277.7 313.8L279.5 314.9M282.3 312.6L284.1 313.7M286.9 311.4L288.6 312.5M291.4 310.2L293.2 311.3M296 309L297.8 310.1M300.6 307.8L302.4 308.9M305.2 306.6L306.9 307.7M309.7 305.4L311.5 306.5M314.3 304.2L316.1 305.3M318.9 303L320.7 304.1M323.5 301.8L325.2 302.9M328 300.6L329.8 301.7M332.6 299.4L334.4 300.5M337.2 298.2L339 299.3M341.8 297L343.5 298.1M346.3 295.8L348.1 296.9M350.9 294.6L352.7 295.7M355.5 293.4L357.3 294.5M360.1 292.2L361.9 293.3M364.6 291L366.4 292.1M369.2 289.8L371 290.9M373.8 288.6L375.6 289.7M378.4 287.4L380.1 288.6M382.9 286.2L384.7 287.4M387.5 285L389.3 286.2M392.1 283.8L393.9 285M396.7 282.6L398.4 283.8M401.2 281.4L403 282.6M405.8 280.2L407.6 281.4M410.4 279.1L412.2 280.2M415 277.9L416.8 279M419.5 276.7L421.3 277.8M424.1 275.5L425.9 276.6M428.7 274.3L430.5 275.4M433.3 273.1L435 274.2M437.8 271.9L439.6 273M442.4 270.7L444.2 271.8M447 269.5L448.8 270.6M451.6 268.3L453.4 269.4M456.1 267.1L457.9 268.2M460.7 265.9L462.5 267M465.3 264.7L467.1 265.8M469.9 263.5L471.6 264.6M474.4 262.3L476.2 263.4"/><path class="w" d="M206.3 334L210.9 332.8L215.4 331.6L220 330.4L224.6 329.2L229.2 328L233.8 326.8L238.3 325.6L242.9 324.4L247.5 323.2L252 322.1L256.6 320.9L261.2 319.7L265.8 318.5L270.3 317.3L274.9 316.1L279.5 314.9L284.1 313.7L288.6 312.5L293.2 311.3L297.8 310.1L302.4 308.9L306.9 307.7L311.5 306.5L316.1 305.3L320.7 304.1L325.2 302.9L329.8 301.7L334.4 300.5L339 299.3L343.5 298.1L348.1 296.9L352.7 295.7L357.3 294.5L361.9 293.3L366.4 292.1L371 290.9L375.6 289.7L380.1 288.6L384.7 287.4L389.3 286.2L393.9 285L398.4 283.8L403 282.6L407.6 281.4L412.2 280.2L416.8 279L421.3 277.8L425.9 276.6L430.5 275.4L435 274.2L439.6 273L444.2 271.8L448.8 270.6L453.4 269.4L457.9 268.2L462.5 267L467.1 265.8L471.6 264.6L476.2 263.4L478 264.6L473.4 265.8L468.9 267L464.3 268.2L459.7 269.4L455.1 270.5L450.6 271.7L446 272.9L441.4 274.1L436.8 275.3L432.3 276.5L427.7 277.7L423.1 278.9L418.5 280.1L414 281.3L409.4 282.5L404.8 283.7L400.2 284.9L395.7 286.1L391.1 287.3L386.5 288.5L381.9 289.7L377.4 290.9L372.8 292.1L368.2 293.3L363.6 294.5L359.1 295.7L354.5 296.9L349.9 298L345.3 299.2L340.8 300.4L336.2 301.6L331.6 302.8L327 304L322.5 305.2L317.9 306.4L313.3 307.6L308.7 308.8L304.2 310L299.6 311.2L295 312.4L290.4 313.6L285.9 314.8L281.3 316L276.7 317.2L272.1 318.4L267.6 319.6L263 320.8L258.4 322L253.8 323.2L249.3 324.4L244.7 325.6L240.1 326.8L235.5 328L231 329.2L226.4 330.3L221.8 331.5L217.2 332.7L212.7 333.9L208.1 335.1z"/><path class="k0" d="M206.3 334L210.9 332.8L215.4 331.6L220 330.4L224.6 329.2L229.2 328L233.8 326.8L238.3 325.6L242.9 324.4L247.5 323.2L252 322.1L256.6 320.9L261.2 319.7L265.8 318.5L270.3 317.3L274.9 316.1L279.5 314.9L284.1 313.7L288.6 312.5L293.2 311.3L297.8 310.1L302.4 308.9L306.9 307.7L311.5 306.5L316.1 305.3L320.7 304.1L325.2 302.9L329.8 301.7L334.4 300.5L339 299.3L343.5 298.1L348.1 296.9L352.7 295.7L357.3 294.5L361.9 293.3L366.4 292.1L371 290.9L375.6 289.7L380.1 288.6L384.7 287.4L389.3 286.2L393.9 285L398.4 283.8L403 282.6L407.6 281.4L412.2 280.2L416.8 279L421.3 277.8L425.9 276.6L430.5 275.4L435 274.2L439.6 273L444.2 271.8L448.8 270.6L453.4 269.4L457.9 268.2L462.5 267L467.1 265.8L471.6 264.6L476.2 263.4M206.3 334L208.1 335.1M210.9 332.8L212.7 333.9M215.4 331.6L217.2 332.7M220 330.4L221.8 331.5M224.6 329.2L226.4 330.3M229.2 328L231 329.2M233.8 326.8L235.5 328M238.3 325.6L240.1 326.8M242.9 324.4L244.7 325.6M247.5 323.2L249.3 324.4M252 322.1L253.8 323.2M256.6 320.9L258.4 322M261.2 319.7L263 320.8M265.8 318.5L267.6 319.6M270.3 317.3L272.1 318.4M274.9 316.1L276.7 317.2M279.5 314.9L281.3 316M284.1 313.7L285.9 314.8M288.6 312.5L290.4 313.6M293.2 311.3L295 312.4M297.8 310.1L299.6 311.2M302.4 308.9L304.2 310M306.9 307.7L308.7 308.8M311.5 306.5L313.3 307.6M316.1 305.3L317.9 306.4M320.7 304.1L322.5 305.2M325.2 302.9L327 304M329.8 301.7L331.6 302.8M334.4 300.5L336.2 301.6M339 299.3L340.8 300.4M343.5 298.1L345.3 299.2M348.1 296.9L349.9 298M352.7 295.7L354.5 296.9M357.3 294.5L359.1 295.7M361.9 293.3L363.6 294.5M366.4 292.1L368.2 293.3M371 290.9L372.8 292.1M375.6 289.7L377.4 290.9M380.1 288.6L381.9 289.7M384.7 287.4L386.5 288.5M389.3 286.2L391.1 287.3M393.9 285L395.7 286.1M398.4 283.8L400.2 284.9M403 282.6L404.8 283.7M407.6 281.4L409.4 282.5M412.2 280.2L414 281.3M416.8 279L418.5 280.1M421.3 277.8L423.1 278.9M425.9 276.6L427.7 277.7M430.5 275.4L432.3 276.5M435 274.2L436.8 275.3M439.6 273L441.4 274.1M444.2 271.8L446 272.9M448.8 270.6L450.6 271.7M453.4 269.4L455.1 270.5M457.9 268.2L459.7 269.4M462.5 267L464.3 268.2M467.1 265.8L468.9 267M471.6 264.6L473.4 265.8M476.2 263.4L478 264.6"/><path class="w" d="M208.1 335.1L212.7 333.9L217.2 332.7L221.8 331.5L226.4 330.3L231 329.2L235.5 328L240.1 326.8L244.7 325.6L249.3 324.4L253.8 323.2L258.4 322L263 320.8L267.6 319.6L272.1 318.4L276.7 317.2L281.3 316L285.9 314.8L290.4 313.6L295 312.4L299.6 311.2L304.2 310L308.7 308.8L313.3 307.6L317.9 306.4L322.5 305.2L327 304L331.6 302.8L336.2 301.6L340.8 300.4L345.3 299.2L349.9 298L354.5 296.9L359.1 295.7L363.6 294.5L368.2 293.3L372.8 292.1L377.4 290.9L381.9 289.7L386.5 288.5L391.1 287.3L395.7 286.1L400.2 284.9L404.8 283.7L409.4 282.5L414 281.3L418.5 280.1L423.1 278.9L427.7 277.7L432.3 276.5L436.8 275.3L441.4 274.1L446 272.9L450.6 271.7L455.1 270.5L459.7 269.4L464.3 268.2L468.9 267L473.4 265.8L478 264.6L479.8 265.7L475.2 266.9L470.7 268.1L466.1 269.3L461.5 270.5L456.9 271.7L452.4 272.9L447.8 274.1L443.2 275.3L438.6 276.5L434.1 277.6L429.5 278.8L424.9 280L420.3 281.2L415.8 282.4L411.2 283.6L406.6 284.8L402 286L397.5 287.2L392.9 288.4L388.3 289.6L383.7 290.8L379.2 292L374.6 293.2L370 294.4L365.4 295.6L360.9 296.8L356.3 298L351.7 299.2L347.1 300.4L342.6 301.6L338 302.8L333.4 304L328.8 305.1L324.3 306.3L319.7 307.5L315.1 308.7L310.5 309.9L306 311.1L301.4 312.3L296.8 313.5L292.2 314.7L287.7 315.9L283.1 317.1L278.5 318.3L273.9 319.5L269.4 320.7L264.8 321.9L260.2 323.1L255.6 324.3L251.1 325.5L246.5 326.7L241.9 327.9L237.3 329.1L232.8 330.3L228.2 331.5L223.6 332.7L219 333.9L214.5 335.1L209.9 336.2z"/><path class="k0" d="M208.1 335.1L212.7 333.9L217.2 332.7L221.8 331.5L226.4 330.3L231 329.2L235.5 328L240.1 326.8L244.7 325.6L249.3 324.4L253.8 323.2L258.4 322L263 320.8L267.6 319.6L272.1 318.4L276.7 317.2L281.3 316L285.9 314.8L290.4 313.6L295 312.4L299.6 311.2L304.2 310L308.7 308.8L313.3 307.6L317.9 306.4L322.5 305.2L327 304L331.6 302.8L336.2 301.6L340.8 300.4L345.3 299.2L349.9 298L354.5 296.9L359.1 295.7L363.6 294.5L368.2 293.3L372.8 292.1L377.4 290.9L381.9 289.7L386.5 288.5L391.1 287.3L395.7 286.1L400.2 284.9L404.8 283.7L409.4 282.5L414 281.3L418.5 280.1L423.1 278.9L427.7 277.7L432.3 276.5L436.8 275.3L441.4 274.1L446 272.9L450.6 271.7L455.1 270.5L459.7 269.4L464.3 268.2L468.9 267L473.4 265.8L478 264.6M208.1 335.1L209.9 336.2M212.7 333.9L214.5 335.1M217.2 332.7L219 333.9M221.8 331.5L223.6 332.7M226.4 330.3L228.2 331.5M231 329.2L232.8 330.3M235.5 328L237.3 329.1M240.1 326.8L241.9 327.9M244.7 325.6L246.5 326.7M249.3 324.4L251.1 325.5M253.8 323.2L255.6 324.3M258.4 322L260.2 323.1M263 320.8L264.8 321.9M267.6 319.6L269.4 320.7M272.1 318.4L273.9 319.5M276.7 317.2L278.5 318.3M281.3 316L283.1 317.1M285.9 314.8L287.7 315.9M290.4 313.6L292.2 314.7M295 312.4L296.8 313.5M299.6 311.2L301.4 312.3M304.2 310L306 311.1M308.7 308.8L310.5 309.9M313.3 307.6L315.1 308.7M317.9 306.4L319.7 307.5M322.5 305.2L324.3 306.3M327 304L328.8 305.1M331.6 302.8L333.4 304M336.2 301.6L338 302.8M340.8 300.4L342.6 301.6M345.3 299.2L347.1 300.4M349.9 298L351.7 299.2M354.5 296.9L356.3 298M359.1 295.7L360.9 296.8M363.6 294.5L365.4 295.6M368.2 293.3L370 294.4M372.8 292.1L374.6 293.2M377.4 290.9L379.2 292M381.9 289.7L383.7 290.8M386.5 288.5L388.3 289.6M391.1 287.3L392.9 288.4M395.7 286.1L397.5 287.2M400.2 284.9L402 286M404.8 283.7L406.6 284.8M409.4 282.5L411.2 283.6M414 281.3L415.8 282.4M418.5 280.1L420.3 281.2M423.1 278.9L424.9 280M427.7 277.7L429.5 278.8M432.3 276.5L434.1 277.6M436.8 275.3L438.6 276.5M441.4 274.1L443.2 275.3M446 272.9L447.8 274.1M450.6 271.7L452.4 272.9M455.1 270.5L456.9 271.7M459.7 269.4L461.5 270.5M464.3 268.2L466.1 269.3M468.9 267L470.7 268.1M473.4 265.8L475.2 266.9M478 264.6L479.8 265.7"/><path class="w" d="M209.9 336.2L214.5 335.1L219 333.9L223.6 332.7L228.2 331.5L232.8 330.3L237.3 329.1L241.9 327.9L246.5 326.7L251.1 325.5L255.6 324.3L260.2 323.1L264.8 321.9L269.4 320.7L273.9 319.5L278.5 318.3L283.1 317.1L287.7 315.9L292.2 314.7L296.8 313.5L301.4 312.3L306 311.1L310.5 309.9L315.1 308.7L319.7 307.5L324.3 306.3L328.8 305.1L333.4 304L338 302.8L342.6 301.6L347.1 300.4L351.7 299.2L356.3 298L360.9 296.8L365.4 295.6L370 294.4L374.6 293.2L379.2 292L383.7 290.8L388.3 289.6L392.9 288.4L397.5 287.2L402 286L406.6 284.8L411.2 283.6L415.8 282.4L420.3 281.2L424.9 280L429.5 278.8L434.1 277.6L438.6 276.5L443.2 275.3L447.8 274.1L452.4 272.9L456.9 271.7L461.5 270.5L466.1 269.3L470.7 268.1L475.2 266.9L479.8 265.7L481.6 266.8L477 268L472.4 269.2L467.9 270.4L463.3 271.6L458.7 272.8L454.1 274L449.6 275.2L445 276.4L440.4 277.6L435.8 278.8L431.3 280L426.7 281.2L422.1 282.4L417.5 283.6L413 284.7L408.4 285.9L403.8 287.1L399.2 288.3L394.7 289.5L390.1 290.7L385.5 291.9L380.9 293.1L376.4 294.3L371.8 295.5L367.2 296.7L362.6 297.9L358.1 299.1L353.5 300.3L348.9 301.5L344.3 302.7L339.8 303.9L335.2 305.1L330.6 306.3L326 307.5L321.5 308.7L316.9 309.9L312.3 311.1L307.7 312.2L303.2 313.4L298.6 314.6L294 315.8L289.4 317L284.9 318.2L280.3 319.4L275.7 320.6L271.1 321.8L266.6 323L262 324.2L257.4 325.4L252.8 326.6L248.3 327.8L243.7 329L239.1 330.2L234.5 331.4L230 332.6L225.4 333.8L220.8 335L216.2 336.2L211.7 337.4z"/><path class="k0" d="M209.9 336.2L214.5 335.1L219 333.9L223.6 332.7L228.2 331.5L232.8 330.3L237.3 329.1L241.9 327.9L246.5 326.7L251.1 325.5L255.6 324.3L260.2 323.1L264.8 321.9L269.4 320.7L273.9 319.5L278.5 318.3L283.1 317.1L287.7 315.9L292.2 314.7L296.8 313.5L301.4 312.3L306 311.1L310.5 309.9L315.1 308.7L319.7 307.5L324.3 306.3L328.8 305.1L333.4 304L338 302.8L342.6 301.6L347.1 300.4L351.7 299.2L356.3 298L360.9 296.8L365.4 295.6L370 294.4L374.6 293.2L379.2 292L383.7 290.8L388.3 289.6L392.9 288.4L397.5 287.2L402 286L406.6 284.8L411.2 283.6L415.8 282.4L420.3 281.2L424.9 280L429.5 278.8L434.1 277.6L438.6 276.5L443.2 275.3L447.8 274.1L452.4 272.9L456.9 271.7L461.5 270.5L466.1 269.3L470.7 268.1L475.2 266.9L479.8 265.7M209.9 336.2L211.7 337.4M214.5 335.1L216.2 336.2M219 333.9L220.8 335M223.6 332.7L225.4 333.8M228.2 331.5L230 332.6M232.8 330.3L234.5 331.4M237.3 329.1L239.1 330.2M241.9 327.9L243.7 329M246.5 326.7L248.3 327.8M251.1 325.5L252.8 326.6M255.6 324.3L257.4 325.4M260.2 323.1L262 324.2M264.8 321.9L266.6 323M269.4 320.7L271.1 321.8M273.9 319.5L275.7 320.6M278.5 318.3L280.3 319.4M283.1 317.1L284.9 318.2M287.7 315.9L289.4 317M292.2 314.7L294 315.8M296.8 313.5L298.6 314.6M301.4 312.3L303.2 313.4M306 311.1L307.7 312.2M310.5 309.9L312.3 311.1M315.1 308.7L316.9 309.9M319.7 307.5L321.5 308.7M324.3 306.3L326 307.5M328.8 305.1L330.6 306.3M333.4 304L335.2 305.1M338 302.8L339.8 303.9M342.6 301.6L344.3 302.7M347.1 300.4L348.9 301.5M351.7 299.2L353.5 300.3M356.3 298L358.1 299.1M360.9 296.8L362.6 297.9M365.4 295.6L367.2 296.7M370 294.4L371.8 295.5M374.6 293.2L376.4 294.3M379.2 292L380.9 293.1M383.7 290.8L385.5 291.9M388.3 289.6L390.1 290.7M392.9 288.4L394.7 289.5M397.5 287.2L399.2 288.3M402 286L403.8 287.1M406.6 284.8L408.4 285.9M411.2 283.6L413 284.7M415.8 282.4L417.5 283.6M420.3 281.2L422.1 282.4M424.9 280L426.7 281.2M429.5 278.8L431.3 280M434.1 277.6L435.8 278.8M438.6 276.5L440.4 277.6M443.2 275.3L445 276.4M447.8 274.1L449.6 275.2M452.4 272.9L454.1 274M456.9 271.7L458.7 272.8M461.5 270.5L463.3 271.6M466.1 269.3L467.9 270.4M470.7 268.1L472.4 269.2M475.2 266.9L477 268M479.8 265.7L481.6 266.8"/><path class="w" d="M211.7 337.4L216.2 336.2L220.8 335L225.4 333.8L230 332.6L234.5 331.4L239.1 330.2L243.7 329L248.3 327.8L252.8 326.6L257.4 325.4L262 324.2L266.6 323L271.1 321.8L275.7 320.6L280.3 319.4L284.9 318.2L289.4 317L294 315.8L298.6 314.6L303.2 313.4L307.7 312.2L312.3 311.1L316.9 309.9L321.5 308.7L326 307.5L330.6 306.3L335.2 305.1L339.8 303.9L344.3 302.7L348.9 301.5L353.5 300.3L358.1 299.1L362.6 297.9L367.2 296.7L371.8 295.5L376.4 294.3L380.9 293.1L385.5 291.9L390.1 290.7L394.7 289.5L399.2 288.3L403.8 287.1L408.4 285.9L413 284.7L417.5 283.6L422.1 282.4L426.7 281.2L431.3 280L435.8 278.8L440.4 277.6L445 276.4L449.6 275.2L454.1 274L458.7 272.8L463.3 271.6L467.9 270.4L472.4 269.2L477 268L481.6 266.8L483.4 267.9L478.8 269.1L474.2 270.3L469.7 271.5L465.1 272.7L460.5 273.9L455.9 275.1L451.4 276.3L446.8 277.5L442.2 278.7L437.6 279.9L433.1 281.1L428.5 282.3L423.9 283.5L419.3 284.7L414.8 285.9L410.2 287.1L405.6 288.3L401 289.5L396.5 290.7L391.9 291.8L387.3 293L382.7 294.2L378.2 295.4L373.6 296.6L369 297.8L364.4 299L359.9 300.2L355.3 301.4L350.7 302.6L346.1 303.8L341.6 305L337 306.2L332.4 307.4L327.8 308.6L323.3 309.8L318.7 311L314.1 312.2L309.5 313.4L305 314.6L300.4 315.8L295.8 317L291.2 318.1L286.7 319.3L282.1 320.5L277.5 321.7L272.9 322.9L268.4 324.1L263.8 325.3L259.2 326.5L254.6 327.7L250.1 328.9L245.5 330.1L240.9 331.3L236.3 332.5L231.8 333.7L227.2 334.9L222.6 336.1L218 337.3L213.5 338.5z"/><path class="k0" d="M211.7 337.4L216.2 336.2L220.8 335L225.4 333.8L230 332.6L234.5 331.4L239.1 330.2L243.7 329L248.3 327.8L252.8 326.6L257.4 325.4L262 324.2L266.6 323L271.1 321.8L275.7 320.6L280.3 319.4L284.9 318.2L289.4 317L294 315.8L298.6 314.6L303.2 313.4L307.7 312.2L312.3 311.1L316.9 309.9L321.5 308.7L326 307.5L330.6 306.3L335.2 305.1L339.8 303.9L344.3 302.7L348.9 301.5L353.5 300.3L358.1 299.1L362.6 297.9L367.2 296.7L371.8 295.5L376.4 294.3L380.9 293.1L385.5 291.9L390.1 290.7L394.7 289.5L399.2 288.3L403.8 287.1L408.4 285.9L413 284.7L417.5 283.6L422.1 282.4L426.7 281.2L431.3 280L435.8 278.8L440.4 277.6L445 276.4L449.6 275.2L454.1 274L458.7 272.8L463.3 271.6L467.9 270.4L472.4 269.2L477 268L481.6 266.8M211.7 337.4L213.5 338.5M216.2 336.2L218 337.3M220.8 335L222.6 336.1M225.4 333.8L227.2 334.9M230 332.6L231.8 333.7M234.5 331.4L236.3 332.5M239.1 330.2L240.9 331.3M243.7 329L245.5 330.1M248.3 327.8L250.1 328.9M252.8 326.6L254.6 327.7M257.4 325.4L259.2 326.5M262 324.2L263.8 325.3M266.6 323L268.4 324.1M271.1 321.8L272.9 322.9M275.7 320.6L277.5 321.7M280.3 319.4L282.1 320.5M284.9 318.2L286.7 319.3M289.4 317L291.2 318.1M294 315.8L295.8 317M298.6 314.6L300.4 315.8M303.2 313.4L305 314.6M307.7 312.2L309.5 313.4M312.3 311.1L314.1 312.2M316.9 309.9L318.7 311M321.5 308.7L323.3 309.8M326 307.5L327.8 308.6M330.6 306.3L332.4 307.4M335.2 305.1L337 306.2M339.8 303.9L341.6 305M344.3 302.7L346.1 303.8M348.9 301.5L350.7 302.6M353.5 300.3L355.3 301.4M358.1 299.1L359.9 300.2M362.6 297.9L364.4 299M367.2 296.7L369 297.8M371.8 295.5L373.6 296.6M376.4 294.3L378.2 295.4M380.9 293.1L382.7 294.2M385.5 291.9L387.3 293M390.1 290.7L391.9 291.8M394.7 289.5L396.5 290.7M399.2 288.3L401 289.5M403.8 287.1L405.6 288.3M408.4 285.9L410.2 287.1M413 284.7L414.8 285.9M417.5 283.6L419.3 284.7M422.1 282.4L423.9 283.5M426.7 281.2L428.5 282.3M431.3 280L433.1 281.1M435.8 278.8L437.6 279.9M440.4 277.6L442.2 278.7M445 276.4L446.8 277.5M449.6 275.2L451.4 276.3M454.1 274L455.9 275.1M458.7 272.8L460.5 273.9M463.3 271.6L465.1 272.7M467.9 270.4L469.7 271.5M472.4 269.2L474.2 270.3M477 268L478.8 269.1M481.6 266.8L483.4 267.9"/><path class="w" d="M213.5 338.5L218 337.3L222.6 336.1L227.2 334.9L231.8 333.7L236.3 332.5L240.9 331.3L245.5 330.1L250.1 328.9L254.6 327.7L259.2 326.5L263.8 325.3L268.4 324.1L272.9 322.9L277.5 321.7L282.1 320.5L286.7 319.3L291.2 318.1L295.8 317L300.4 315.8L305 314.6L309.5 313.4L314.1 312.2L318.7 311L323.3 309.8L327.8 308.6L332.4 307.4L337 306.2L341.6 305L346.1 303.8L350.7 302.6L355.3 301.4L359.9 300.2L364.4 299L369 297.8L373.6 296.6L378.2 295.4L382.7 294.2L387.3 293L391.9 291.8L396.5 290.7L401 289.5L405.6 288.3L410.2 287.1L414.8 285.9L419.3 284.7L423.9 283.5L428.5 282.3L433.1 281.1L437.6 279.9L442.2 278.7L446.8 277.5L451.4 276.3L455.9 275.1L460.5 273.9L465.1 272.7L469.7 271.5L474.2 270.3L478.8 269.1L483.4 267.9L485.2 269.1L480.6 270.3L476 271.5L471.4 272.6L466.9 273.8L462.3 275L457.7 276.2L453.1 277.4L448.6 278.6L444 279.8L439.4 281L434.9 282.2L430.3 283.4L425.7 284.6L421.1 285.8L416.6 287L412 288.2L407.4 289.4L402.8 290.6L398.2 291.8L393.7 293L389.1 294.2L384.5 295.4L380 296.6L375.4 297.7L370.8 298.9L366.2 300.1L361.6 301.3L357.1 302.5L352.5 303.7L347.9 304.9L343.4 306.1L338.8 307.3L334.2 308.5L329.6 309.7L325.1 310.9L320.5 312.1L315.9 313.3L311.3 314.5L306.8 315.7L302.2 316.9L297.6 318.1L293 319.3L288.4 320.5L283.9 321.7L279.3 322.9L274.7 324L270.1 325.2L265.6 326.4L261 327.6L256.4 328.8L251.8 330L247.3 331.2L242.7 332.4L238.1 333.6L233.6 334.8L229 336L224.4 337.2L219.8 338.4L215.2 339.6z"/><path class="k0" d="M213.5 338.5L218 337.3L222.6 336.1L227.2 334.9L231.8 333.7L236.3 332.5L240.9 331.3L245.5 330.1L250.1 328.9L254.6 327.7L259.2 326.5L263.8 325.3L268.4 324.1L272.9 322.9L277.5 321.7L282.1 320.5L286.7 319.3L291.2 318.1L295.8 317L300.4 315.8L305 314.6L309.5 313.4L314.1 312.2L318.7 311L323.3 309.8L327.8 308.6L332.4 307.4L337 306.2L341.6 305L346.1 303.8L350.7 302.6L355.3 301.4L359.9 300.2L364.4 299L369 297.8L373.6 296.6L378.2 295.4L382.7 294.2L387.3 293L391.9 291.8L396.5 290.7L401 289.5L405.6 288.3L410.2 287.1L414.8 285.9L419.3 284.7L423.9 283.5L428.5 282.3L433.1 281.1L437.6 279.9L442.2 278.7L446.8 277.5L451.4 276.3L455.9 275.1L460.5 273.9L465.1 272.7L469.7 271.5L474.2 270.3L478.8 269.1L483.4 267.9M213.5 338.5L215.2 339.6M218 337.3L219.8 338.4M222.6 336.1L224.4 337.2M227.2 334.9L229 336M231.8 333.7L233.6 334.8M236.3 332.5L238.1 333.6M240.9 331.3L242.7 332.4M245.5 330.1L247.3 331.2M250.1 328.9L251.8 330M254.6 327.7L256.4 328.8M259.2 326.5L261 327.6M263.8 325.3L265.6 326.4M268.4 324.1L270.1 325.2M272.9 322.9L274.7 324M277.5 321.7L279.3 322.9M282.1 320.5L283.9 321.7M286.7 319.3L288.4 320.5M291.2 318.1L293 319.3M295.8 317L297.6 318.1M300.4 315.8L302.2 316.9M305 314.6L306.8 315.7M309.5 313.4L311.3 314.5M314.1 312.2L315.9 313.3M318.7 311L320.5 312.1M323.3 309.8L325.1 310.9M327.8 308.6L329.6 309.7M332.4 307.4L334.2 308.5M337 306.2L338.8 307.3M341.6 305L343.4 306.1M346.1 303.8L347.9 304.9M350.7 302.6L352.5 303.7M355.3 301.4L357.1 302.5M359.9 300.2L361.6 301.3M364.4 299L366.2 300.1M369 297.8L370.8 298.9M373.6 296.6L375.4 297.7M378.2 295.4L380 296.6M382.7 294.2L384.5 295.4M387.3 293L389.1 294.2M391.9 291.8L393.7 293M396.5 290.7L398.2 291.8M401 289.5L402.8 290.6M405.6 288.3L407.4 289.4M410.2 287.1L412 288.2M414.8 285.9L416.6 287M419.3 284.7L421.1 285.8M423.9 283.5L425.7 284.6M428.5 282.3L430.3 283.4M433.1 281.1L434.9 282.2M437.6 279.9L439.4 281M442.2 278.7L444 279.8M446.8 277.5L448.6 278.6M451.4 276.3L453.1 277.4M455.9 275.1L457.7 276.2M460.5 273.9L462.3 275M465.1 272.7L466.9 273.8M469.7 271.5L471.4 272.6M474.2 270.3L476 271.5M478.8 269.1L480.6 270.3M483.4 267.9L485.2 269.1"/><path class="w" d="M215.2 339.6L219.8 338.4L224.4 337.2L229 336L233.6 334.8L238.1 333.6L242.7 332.4L247.3 331.2L251.8 330L256.4 328.8L261 327.6L265.6 326.4L270.1 325.2L274.7 324L279.3 322.9L283.9 321.7L288.4 320.5L293 319.3L297.6 318.1L302.2 316.9L306.8 315.7L311.3 314.5L315.9 313.3L320.5 312.1L325.1 310.9L329.6 309.7L334.2 308.5L338.8 307.3L343.4 306.1L347.9 304.9L352.5 303.7L357.1 302.5L361.6 301.3L366.2 300.1L370.8 298.9L375.4 297.7L380 296.6L384.5 295.4L389.1 294.2L393.7 293L398.2 291.8L402.8 290.6L407.4 289.4L412 288.2L416.6 287L421.1 285.8L425.7 284.6L430.3 283.4L434.9 282.2L439.4 281L444 279.8L448.6 278.6L453.1 277.4L457.7 276.2L462.3 275L466.9 273.8L471.4 272.6L476 271.5L480.6 270.3L485.2 269.1L487 270.2L482.4 271.4L477.8 272.6L473.2 273.8L468.7 275L464.1 276.2L459.5 277.4L454.9 278.5L450.4 279.7L445.8 280.9L441.2 282.1L436.6 283.3L432.1 284.5L427.5 285.7L422.9 286.9L418.3 288.1L413.8 289.3L409.2 290.5L404.6 291.7L400 292.9L395.5 294.1L390.9 295.3L386.3 296.5L381.7 297.7L377.2 298.9L372.6 300.1L368 301.3L363.4 302.5L358.9 303.6L354.3 304.8L349.7 306L345.1 307.2L340.6 308.4L336 309.6L331.4 310.8L326.8 312L322.3 313.2L317.7 314.4L313.1 315.6L308.5 316.8L304 318L299.4 319.2L294.8 320.4L290.2 321.6L285.7 322.8L281.1 324L276.5 325.2L271.9 326.4L267.4 327.6L262.8 328.7L258.2 329.9L253.6 331.1L249.1 332.3L244.5 333.5L239.9 334.7L235.3 335.9L230.8 337.1L226.2 338.3L221.6 339.5L217 340.7z"/><path class="k0" d="M215.2 339.6L219.8 338.4L224.4 337.2L229 336L233.6 334.8L238.1 333.6L242.7 332.4L247.3 331.2L251.8 330L256.4 328.8L261 327.6L265.6 326.4L270.1 325.2L274.7 324L279.3 322.9L283.9 321.7L288.4 320.5L293 319.3L297.6 318.1L302.2 316.9L306.8 315.7L311.3 314.5L315.9 313.3L320.5 312.1L325.1 310.9L329.6 309.7L334.2 308.5L338.8 307.3L343.4 306.1L347.9 304.9L352.5 303.7L357.1 302.5L361.6 301.3L366.2 300.1L370.8 298.9L375.4 297.7L380 296.6L384.5 295.4L389.1 294.2L393.7 293L398.2 291.8L402.8 290.6L407.4 289.4L412 288.2L416.6 287L421.1 285.8L425.7 284.6L430.3 283.4L434.9 282.2L439.4 281L444 279.8L448.6 278.6L453.1 277.4L457.7 276.2L462.3 275L466.9 273.8L471.4 272.6L476 271.5L480.6 270.3L485.2 269.1M215.2 339.6L217 340.7M219.8 338.4L221.6 339.5M224.4 337.2L226.2 338.3M229 336L230.8 337.1M233.6 334.8L235.3 335.9M238.1 333.6L239.9 334.7M242.7 332.4L244.5 333.5M247.3 331.2L249.1 332.3M251.8 330L253.6 331.1M256.4 328.8L258.2 329.9M261 327.6L262.8 328.7M265.6 326.4L267.4 327.6M270.1 325.2L271.9 326.4M274.7 324L276.5 325.2M279.3 322.9L281.1 324M283.9 321.7L285.7 322.8M288.4 320.5L290.2 321.6M293 319.3L294.8 320.4M297.6 318.1L299.4 319.2M302.2 316.9L304 318M306.8 315.7L308.5 316.8M311.3 314.5L313.1 315.6M315.9 313.3L317.7 314.4M320.5 312.1L322.3 313.2M325.1 310.9L326.8 312M329.6 309.7L331.4 310.8M334.2 308.5L336 309.6M338.8 307.3L340.6 308.4M343.4 306.1L345.1 307.2M347.9 304.9L349.7 306M352.5 303.7L354.3 304.8M357.1 302.5L358.9 303.6M361.6 301.3L363.4 302.5M366.2 300.1L368 301.3M370.8 298.9L372.6 300.1M375.4 297.7L377.2 298.9M380 296.6L381.7 297.7M384.5 295.4L386.3 296.5M389.1 294.2L390.9 295.3M393.7 293L395.5 294.1M398.2 291.8L400 292.9M402.8 290.6L404.6 291.7M407.4 289.4L409.2 290.5M412 288.2L413.8 289.3M416.6 287L418.3 288.1M421.1 285.8L422.9 286.9M425.7 284.6L427.5 285.7M430.3 283.4L432.1 284.5M434.9 282.2L436.6 283.3M439.4 281L441.2 282.1M444 279.8L445.8 280.9M448.6 278.6L450.4 279.7M453.1 277.4L454.9 278.5M457.7 276.2L459.5 277.4M462.3 275L464.1 276.2M466.9 273.8L468.7 275M471.4 272.6L473.2 273.8M476 271.5L477.8 272.6M480.6 270.3L482.4 271.4M485.2 269.1L487 270.2"/><path class="w" d="M217 340.7L221.6 339.5L226.2 338.3L230.8 337.1L235.3 335.9L239.9 334.7L244.5 333.5L249.1 332.3L253.6 331.1L258.2 329.9L262.8 328.7L267.4 327.6L271.9 326.4L276.5 325.2L281.1 324L285.7 322.8L290.2 321.6L294.8 320.4L299.4 319.2L304 318L308.5 316.8L313.1 315.6L317.7 314.4L322.3 313.2L326.8 312L331.4 310.8L336 309.6L340.6 308.4L345.1 307.2L349.7 306L354.3 304.8L358.9 303.6L363.4 302.5L368 301.3L372.6 300.1L377.2 298.9L381.7 297.7L386.3 296.5L390.9 295.3L395.5 294.1L400 292.9L404.6 291.7L409.2 290.5L413.8 289.3L418.3 288.1L422.9 286.9L427.5 285.7L432.1 284.5L436.6 283.3L441.2 282.1L445.8 280.9L450.4 279.7L454.9 278.5L459.5 277.4L464.1 276.2L468.7 275L473.2 273.8L477.8 272.6L482.4 271.4L487 270.2L488.8 271.3L484.2 272.5L479.6 273.7L475 274.9L470.5 276.1L465.9 277.3L461.3 278.5L456.7 279.7L452.2 280.9L447.6 282.1L443 283.2L438.4 284.4L433.9 285.6L429.3 286.8L424.7 288L420.1 289.2L415.6 290.4L411 291.6L406.4 292.8L401.8 294L397.3 295.2L392.7 296.4L388.1 297.6L383.5 298.8L379 300L374.4 301.2L369.8 302.4L365.2 303.6L360.7 304.8L356.1 306L351.5 307.2L346.9 308.3L342.4 309.5L337.8 310.7L333.2 311.9L328.6 313.1L324.1 314.3L319.5 315.5L314.9 316.7L310.3 317.9L305.8 319.1L301.2 320.3L296.6 321.5L292 322.7L287.5 323.9L282.9 325.1L278.3 326.3L273.7 327.5L269.2 328.7L264.6 329.9L260 331.1L255.4 332.3L250.9 333.5L246.3 334.6L241.7 335.8L237.1 337L232.6 338.2L228 339.4L223.4 340.6L218.8 341.8z"/><path class="k0" d="M217 340.7L221.6 339.5L226.2 338.3L230.8 337.1L235.3 335.9L239.9 334.7L244.5 333.5L249.1 332.3L253.6 331.1L258.2 329.9L262.8 328.7L267.4 327.6L271.9 326.4L276.5 325.2L281.1 324L285.7 322.8L290.2 321.6L294.8 320.4L299.4 319.2L304 318L308.5 316.8L313.1 315.6L317.7 314.4L322.3 313.2L326.8 312L331.4 310.8L336 309.6L340.6 308.4L345.1 307.2L349.7 306L354.3 304.8L358.9 303.6L363.4 302.5L368 301.3L372.6 300.1L377.2 298.9L381.7 297.7L386.3 296.5L390.9 295.3L395.5 294.1L400 292.9L404.6 291.7L409.2 290.5L413.8 289.3L418.3 288.1L422.9 286.9L427.5 285.7L432.1 284.5L436.6 283.3L441.2 282.1L445.8 280.9L450.4 279.7L454.9 278.5L459.5 277.4L464.1 276.2L468.7 275L473.2 273.8L477.8 272.6L482.4 271.4L487 270.2M217 340.7L218.8 341.8M221.6 339.5L223.4 340.6M226.2 338.3L228 339.4M230.8 337.1L232.6 338.2M235.3 335.9L237.1 337M239.9 334.7L241.7 335.8M244.5 333.5L246.3 334.6M249.1 332.3L250.9 333.5M253.6 331.1L255.4 332.3M258.2 329.9L260 331.1M262.8 328.7L264.6 329.9M267.4 327.6L269.2 328.7M271.9 326.4L273.7 327.5M276.5 325.2L278.3 326.3M281.1 324L282.9 325.1M285.7 322.8L287.5 323.9M290.2 321.6L292 322.7M294.8 320.4L296.6 321.5M299.4 319.2L301.2 320.3M304 318L305.8 319.1M308.5 316.8L310.3 317.9M313.1 315.6L314.9 316.7M317.7 314.4L319.5 315.5M322.3 313.2L324.1 314.3M326.8 312L328.6 313.1M331.4 310.8L333.2 311.9M336 309.6L337.8 310.7M340.6 308.4L342.4 309.5M345.1 307.2L346.9 308.3M349.7 306L351.5 307.2M354.3 304.8L356.1 306M358.9 303.6L360.7 304.8M363.4 302.5L365.2 303.6M368 301.3L369.8 302.4M372.6 300.1L374.4 301.2M377.2 298.9L379 300M381.7 297.7L383.5 298.8M386.3 296.5L388.1 297.6M390.9 295.3L392.7 296.4M395.5 294.1L397.3 295.2M400 292.9L401.8 294M404.6 291.7L406.4 292.8M409.2 290.5L411 291.6M413.8 289.3L415.6 290.4M418.3 288.1L420.1 289.2M422.9 286.9L424.7 288M427.5 285.7L429.3 286.8M432.1 284.5L433.9 285.6M436.6 283.3L438.4 284.4M441.2 282.1L443 283.2M445.8 280.9L447.6 282.1M450.4 279.7L452.2 280.9M454.9 278.5L456.7 279.7M459.5 277.4L461.3 278.5M464.1 276.2L465.9 277.3M468.7 275L470.5 276.1M473.2 273.8L475 274.9M477.8 272.6L479.6 273.7M482.4 271.4L484.2 272.5M487 270.2L488.8 271.3"/><path class="w" d="M218.8 341.8L223.4 340.6L228 339.4L232.6 338.2L237.1 337L241.7 335.8L246.3 334.6L250.9 333.5L255.4 332.3L260 331.1L264.6 329.9L269.2 328.7L273.7 327.5L278.3 326.3L282.9 325.1L287.5 323.9L292 322.7L296.6 321.5L301.2 320.3L305.8 319.1L310.3 317.9L314.9 316.7L319.5 315.5L324.1 314.3L328.6 313.1L333.2 311.9L337.8 310.7L342.4 309.5L346.9 308.3L351.5 307.2L356.1 306L360.7 304.8L365.2 303.6L369.8 302.4L374.4 301.2L379 300L383.5 298.8L388.1 297.6L392.7 296.4L397.3 295.2L401.8 294L406.4 292.8L411 291.6L415.6 290.4L420.1 289.2L424.7 288L429.3 286.8L433.9 285.6L438.4 284.4L443 283.2L447.6 282.1L452.2 280.9L456.7 279.7L461.3 278.5L465.9 277.3L470.5 276.1L475 274.9L479.6 273.7L484.2 272.5L488.8 271.3L490.5 272.4L486 273.6L481.4 274.8L476.8 276L472.2 277.2L467.7 278.4L463.1 279.6L458.5 280.8L453.9 282L449.4 283.2L444.8 284.4L440.2 285.6L435.6 286.8L431.1 288L426.5 289.1L421.9 290.3L417.3 291.5L412.8 292.7L408.2 293.9L403.6 295.1L399 296.3L394.5 297.5L389.9 298.7L385.3 299.9L380.7 301.1L376.2 302.3L371.6 303.5L367 304.7L362.4 305.9L357.9 307.1L353.3 308.3L348.7 309.5L344.1 310.7L339.6 311.9L335 313.1L330.4 314.2L325.8 315.4L321.3 316.6L316.7 317.8L312.1 319L307.5 320.2L303 321.4L298.4 322.6L293.8 323.8L289.2 325L284.7 326.2L280.1 327.4L275.5 328.6L270.9 329.8L266.4 331L261.8 332.2L257.2 333.4L252.6 334.6L248.1 335.8L243.5 337L238.9 338.2L234.3 339.3L229.8 340.5L225.2 341.7L220.6 342.9z"/><path class="k0" d="M218.8 341.8L223.4 340.6L228 339.4L232.6 338.2L237.1 337L241.7 335.8L246.3 334.6L250.9 333.5L255.4 332.3L260 331.1L264.6 329.9L269.2 328.7L273.7 327.5L278.3 326.3L282.9 325.1L287.5 323.9L292 322.7L296.6 321.5L301.2 320.3L305.8 319.1L310.3 317.9L314.9 316.7L319.5 315.5L324.1 314.3L328.6 313.1L333.2 311.9L337.8 310.7L342.4 309.5L346.9 308.3L351.5 307.2L356.1 306L360.7 304.8L365.2 303.6L369.8 302.4L374.4 301.2L379 300L383.5 298.8L388.1 297.6L392.7 296.4L397.3 295.2L401.8 294L406.4 292.8L411 291.6L415.6 290.4L420.1 289.2L424.7 288L429.3 286.8L433.9 285.6L438.4 284.4L443 283.2L447.6 282.1L452.2 280.9L456.7 279.7L461.3 278.5L465.9 277.3L470.5 276.1L475 274.9L479.6 273.7L484.2 272.5L488.8 271.3M218.8 341.8L220.6 342.9M223.4 340.6L225.2 341.7M228 339.4L229.8 340.5M232.6 338.2L234.3 339.3M237.1 337L238.9 338.2M241.7 335.8L243.5 337M246.3 334.6L248.1 335.8M250.9 333.5L252.6 334.6M255.4 332.3L257.2 333.4M260 331.1L261.8 332.2M264.6 329.9L266.4 331M269.2 328.7L270.9 329.8M273.7 327.5L275.5 328.6M278.3 326.3L280.1 327.4M282.9 325.1L284.7 326.2M287.5 323.9L289.2 325M292 322.7L293.8 323.8M296.6 321.5L298.4 322.6M301.2 320.3L303 321.4M305.8 319.1L307.5 320.2M310.3 317.9L312.1 319M314.9 316.7L316.7 317.8M319.5 315.5L321.3 316.6M324.1 314.3L325.8 315.4M328.6 313.1L330.4 314.2M333.2 311.9L335 313.1M337.8 310.7L339.6 311.9M342.4 309.5L344.1 310.7M346.9 308.3L348.7 309.5M351.5 307.2L353.3 308.3M356.1 306L357.9 307.1M360.7 304.8L362.4 305.9M365.2 303.6L367 304.7M369.8 302.4L371.6 303.5M374.4 301.2L376.2 302.3M379 300L380.7 301.1M383.5 298.8L385.3 299.9M388.1 297.6L389.9 298.7M392.7 296.4L394.5 297.5M397.3 295.2L399 296.3M401.8 294L403.6 295.1M406.4 292.8L408.2 293.9M411 291.6L412.8 292.7M415.6 290.4L417.3 291.5M420.1 289.2L421.9 290.3M424.7 288L426.5 289.1M429.3 286.8L431.1 288M433.9 285.6L435.6 286.8M438.4 284.4L440.2 285.6M443 283.2L444.8 284.4M447.6 282.1L449.4 283.2M452.2 280.9L453.9 282M456.7 279.7L458.5 280.8M461.3 278.5L463.1 279.6M465.9 277.3L467.7 278.4M470.5 276.1L472.2 277.2M475 274.9L476.8 276M479.6 273.7L481.4 274.8M484.2 272.5L486 273.6M488.8 271.3L490.5 272.4"/><path class="w" d="M220.6 342.9L225.2 341.7L229.8 340.5L234.3 339.3L238.9 338.2L243.5 337L248.1 335.8L252.6 334.6L257.2 333.4L261.8 332.2L266.4 331L270.9 329.8L275.5 328.6L280.1 327.4L284.7 326.2L289.2 325L293.8 323.8L298.4 322.6L303 321.4L307.5 320.2L312.1 319L316.7 317.8L321.3 316.6L325.8 315.4L330.4 314.2L335 313.1L339.6 311.9L344.1 310.7L348.7 309.5L353.3 308.3L357.9 307.1L362.4 305.9L367 304.7L371.6 303.5L376.2 302.3L380.7 301.1L385.3 299.9L389.9 298.7L394.5 297.5L399 296.3L403.6 295.1L408.2 293.9L412.8 292.7L417.3 291.5L421.9 290.3L426.5 289.1L431.1 288L435.6 286.8L440.2 285.6L444.8 284.4L449.4 283.2L453.9 282L458.5 280.8L463.1 279.6L467.7 278.4L472.2 277.2L476.8 276L481.4 274.8L486 273.6L490.5 272.4L492.3 273.5L487.8 274.7L483.2 275.9L478.6 277.1L474 278.3L469.5 279.5L464.9 280.7L460.3 281.9L455.7 283.1L451.2 284.3L446.6 285.5L442 286.7L437.4 287.9L432.9 289.1L428.3 290.3L423.7 291.5L419.1 292.7L414.6 293.8L410 295L405.4 296.2L400.8 297.4L396.3 298.6L391.7 299.8L387.1 301L382.5 302.2L378 303.4L373.4 304.6L368.8 305.8L364.2 307L359.7 308.2L355.1 309.4L350.5 310.6L345.9 311.8L341.4 313L336.8 314.2L332.2 315.4L327.6 316.6L323.1 317.8L318.5 318.9L313.9 320.1L309.3 321.3L304.8 322.5L300.2 323.7L295.6 324.9L291 326.1L286.5 327.3L281.9 328.5L277.3 329.7L272.7 330.9L268.2 332.1L263.6 333.3L259 334.5L254.4 335.7L249.9 336.9L245.3 338.1L240.7 339.3L236.1 340.5L231.6 341.7L227 342.9L222.4 344z"/><path class="k0" d="M220.6 342.9L225.2 341.7L229.8 340.5L234.3 339.3L238.9 338.2L243.5 337L248.1 335.8L252.6 334.6L257.2 333.4L261.8 332.2L266.4 331L270.9 329.8L275.5 328.6L280.1 327.4L284.7 326.2L289.2 325L293.8 323.8L298.4 322.6L303 321.4L307.5 320.2L312.1 319L316.7 317.8L321.3 316.6L325.8 315.4L330.4 314.2L335 313.1L339.6 311.9L344.1 310.7L348.7 309.5L353.3 308.3L357.9 307.1L362.4 305.9L367 304.7L371.6 303.5L376.2 302.3L380.7 301.1L385.3 299.9L389.9 298.7L394.5 297.5L399 296.3L403.6 295.1L408.2 293.9L412.8 292.7L417.3 291.5L421.9 290.3L426.5 289.1L431.1 288L435.6 286.8L440.2 285.6L444.8 284.4L449.4 283.2L453.9 282L458.5 280.8L463.1 279.6L467.7 278.4L472.2 277.2L476.8 276L481.4 274.8L486 273.6L490.5 272.4M220.6 342.9L222.4 344M225.2 341.7L227 342.9M229.8 340.5L231.6 341.7M234.3 339.3L236.1 340.5M238.9 338.2L240.7 339.3M243.5 337L245.3 338.1M248.1 335.8L249.9 336.9M252.6 334.6L254.4 335.7M257.2 333.4L259 334.5M261.8 332.2L263.6 333.3M266.4 331L268.2 332.1M270.9 329.8L272.7 330.9M275.5 328.6L277.3 329.7M280.1 327.4L281.9 328.5M284.7 326.2L286.5 327.3M289.2 325L291 326.1M293.8 323.8L295.6 324.9M298.4 322.6L300.2 323.7M303 321.4L304.8 322.5M307.5 320.2L309.3 321.3M312.1 319L313.9 320.1M316.7 317.8L318.5 318.9M321.3 316.6L323.1 317.8M325.8 315.4L327.6 316.6M330.4 314.2L332.2 315.4M335 313.1L336.8 314.2M339.6 311.9L341.4 313M344.1 310.7L345.9 311.8M348.7 309.5L350.5 310.6M353.3 308.3L355.1 309.4M357.9 307.1L359.7 308.2M362.4 305.9L364.2 307M367 304.7L368.8 305.8M371.6 303.5L373.4 304.6M376.2 302.3L378 303.4M380.7 301.1L382.5 302.2M385.3 299.9L387.1 301M389.9 298.7L391.7 299.8M394.5 297.5L396.3 298.6M399 296.3L400.8 297.4M403.6 295.1L405.4 296.2M408.2 293.9L410 295M412.8 292.7L414.6 293.8M417.3 291.5L419.1 292.7M421.9 290.3L423.7 291.5M426.5 289.1L428.3 290.3M431.1 288L432.9 289.1M435.6 286.8L437.4 287.9M440.2 285.6L442 286.7M444.8 284.4L446.6 285.5M449.4 283.2L451.2 284.3M453.9 282L455.7 283.1M458.5 280.8L460.3 281.9M463.1 279.6L464.9 280.7M467.7 278.4L469.5 279.5M472.2 277.2L474 278.3M476.8 276L478.6 277.1M481.4 274.8L483.2 275.9M486 273.6L487.8 274.7M490.5 272.4L492.3 273.5"/><path class="w" d="M222.4 344L227 342.9L231.6 341.7L236.1 340.5L240.7 339.3L245.3 338.1L249.9 336.9L254.4 335.7L259 334.5L263.6 333.3L268.2 332.1L272.7 330.9L277.3 329.7L281.9 328.5L286.5 327.3L291 326.1L295.6 324.9L300.2 323.7L304.8 322.5L309.3 321.3L313.9 320.1L318.5 318.9L323.1 317.8L327.6 316.6L332.2 315.4L336.8 314.2L341.4 313L345.9 311.8L350.5 310.6L355.1 309.4L359.7 308.2L364.2 307L368.8 305.8L373.4 304.6L378 303.4L382.5 302.2L387.1 301L391.7 299.8L396.3 298.6L400.8 297.4L405.4 296.2L410 295L414.6 293.8L419.1 292.7L423.7 291.5L428.3 290.3L432.9 289.1L437.4 287.9L442 286.7L446.6 285.5L451.2 284.3L455.7 283.1L460.3 281.9L464.9 280.7L469.5 279.5L474 278.3L478.6 277.1L483.2 275.9L487.8 274.7L492.3 273.5L494.1 274.6L489.6 275.8L485 277L480.4 278.2L475.8 279.4L471.2 280.6L466.7 281.8L462.1 283L457.5 284.2L452.9 285.4L448.4 286.6L443.8 287.8L439.2 289L434.6 290.2L430.1 291.4L425.5 292.6L420.9 293.8L416.4 295L411.8 296.2L407.2 297.4L402.6 298.5L398 299.7L393.5 300.9L388.9 302.1L384.3 303.3L379.8 304.5L375.2 305.7L370.6 306.9L366 308.1L361.4 309.3L356.9 310.5L352.3 311.7L347.7 312.9L343.1 314.1L338.6 315.3L334 316.5L329.4 317.7L324.9 318.9L320.3 320.1L315.7 321.3L311.1 322.5L306.6 323.6L302 324.8L297.4 326L292.8 327.2L288.2 328.4L283.7 329.6L279.1 330.8L274.5 332L269.9 333.2L265.4 334.4L260.8 335.6L256.2 336.8L251.6 338L247.1 339.2L242.5 340.4L237.9 341.6L233.3 342.8L228.8 344L224.2 345.2z"/><path class="k0" d="M222.4 344L227 342.9L231.6 341.7L236.1 340.5L240.7 339.3L245.3 338.1L249.9 336.9L254.4 335.7L259 334.5L263.6 333.3L268.2 332.1L272.7 330.9L277.3 329.7L281.9 328.5L286.5 327.3L291 326.1L295.6 324.9L300.2 323.7L304.8 322.5L309.3 321.3L313.9 320.1L318.5 318.9L323.1 317.8L327.6 316.6L332.2 315.4L336.8 314.2L341.4 313L345.9 311.8L350.5 310.6L355.1 309.4L359.7 308.2L364.2 307L368.8 305.8L373.4 304.6L378 303.4L382.5 302.2L387.1 301L391.7 299.8L396.3 298.6L400.8 297.4L405.4 296.2L410 295L414.6 293.8L419.1 292.7L423.7 291.5L428.3 290.3L432.9 289.1L437.4 287.9L442 286.7L446.6 285.5L451.2 284.3L455.7 283.1L460.3 281.9L464.9 280.7L469.5 279.5L474 278.3L478.6 277.1L483.2 275.9L487.8 274.7L492.3 273.5M222.4 344L224.2 345.2M227 342.9L228.8 344M231.6 341.7L233.3 342.8M236.1 340.5L237.9 341.6M240.7 339.3L242.5 340.4M245.3 338.1L247.1 339.2M249.9 336.9L251.6 338M254.4 335.7L256.2 336.8M259 334.5L260.8 335.6M263.6 333.3L265.4 334.4M268.2 332.1L269.9 333.2M272.7 330.9L274.5 332M277.3 329.7L279.1 330.8M281.9 328.5L283.7 329.6M286.5 327.3L288.2 328.4M291 326.1L292.8 327.2M295.6 324.9L297.4 326M300.2 323.7L302 324.8M304.8 322.5L306.6 323.6M309.3 321.3L311.1 322.5M313.9 320.1L315.7 321.3M318.5 318.9L320.3 320.1M323.1 317.8L324.9 318.9M327.6 316.6L329.4 317.7M332.2 315.4L334 316.5M336.8 314.2L338.6 315.3M341.4 313L343.1 314.1M345.9 311.8L347.7 312.9M350.5 310.6L352.3 311.7M355.1 309.4L356.9 310.5M359.7 308.2L361.4 309.3M364.2 307L366 308.1M368.8 305.8L370.6 306.9M373.4 304.6L375.2 305.7M378 303.4L379.8 304.5M382.5 302.2L384.3 303.3M387.1 301L388.9 302.1M391.7 299.8L393.5 300.9M396.3 298.6L398 299.7M400.8 297.4L402.6 298.5M405.4 296.2L407.2 297.4M410 295L411.8 296.2M414.6 293.8L416.4 295M419.1 292.7L420.9 293.8M423.7 291.5L425.5 292.6M428.3 290.3L430.1 291.4M432.9 289.1L434.6 290.2M437.4 287.9L439.2 289M442 286.7L443.8 287.8M446.6 285.5L448.4 286.6M451.2 284.3L452.9 285.4M455.7 283.1L457.5 284.2M460.3 281.9L462.1 283M464.9 280.7L466.7 281.8M469.5 279.5L471.2 280.6M474 278.3L475.8 279.4M478.6 277.1L480.4 278.2M483.2 275.9L485 277M487.8 274.7L489.6 275.8M492.3 273.5L494.1 274.6"/><path class="w" d="M224.2 345.2L228.8 344L233.3 342.8L237.9 341.6L242.5 340.4L247.1 339.2L251.6 338L256.2 336.8L260.8 335.6L265.4 334.4L269.9 333.2L274.5 332L279.1 330.8L283.7 329.6L288.2 328.4L292.8 327.2L297.4 326L302 324.8L306.6 323.6L311.1 322.5L315.7 321.3L320.3 320.1L324.9 318.9L329.4 317.7L334 316.5L338.6 315.3L343.1 314.1L347.7 312.9L352.3 311.7L356.9 310.5L361.4 309.3L366 308.1L370.6 306.9L375.2 305.7L379.8 304.5L384.3 303.3L388.9 302.1L393.5 300.9L398 299.7L402.6 298.5L407.2 297.4L411.8 296.2L416.4 295L420.9 293.8L425.5 292.6L430.1 291.4L434.6 290.2L439.2 289L443.8 287.8L448.4 286.6L452.9 285.4L457.5 284.2L462.1 283L466.7 281.8L471.2 280.6L475.8 279.4L480.4 278.2L485 277L489.6 275.8L494.1 274.6L495.9 275.8L491.3 277L486.8 278.2L482.2 279.3L477.6 280.5L473 281.7L468.5 282.9L463.9 284.1L459.3 285.3L454.7 286.5L450.2 287.7L445.6 288.9L441 290.1L436.4 291.3L431.9 292.5L427.3 293.7L422.7 294.9L418.1 296.1L413.6 297.3L409 298.5L404.4 299.7L399.8 300.9L395.3 302.1L390.7 303.2L386.1 304.4L381.5 305.6L377 306.8L372.4 308L367.8 309.2L363.2 310.4L358.7 311.6L354.1 312.8L349.5 314L344.9 315.2L340.4 316.4L335.8 317.6L331.2 318.8L326.6 320L322.1 321.2L317.5 322.4L312.9 323.6L308.3 324.8L303.8 326L299.2 327.2L294.6 328.3L290 329.5L285.5 330.7L280.9 331.9L276.3 333.1L271.7 334.3L267.2 335.5L262.6 336.7L258 337.9L253.4 339.1L248.9 340.3L244.3 341.5L239.7 342.7L235.1 343.9L230.6 345.1L226 346.3z"/><path class="k0" d="M224.2 345.2L228.8 344L233.3 342.8L237.9 341.6L242.5 340.4L247.1 339.2L251.6 338L256.2 336.8L260.8 335.6L265.4 334.4L269.9 333.2L274.5 332L279.1 330.8L283.7 329.6L288.2 328.4L292.8 327.2L297.4 326L302 324.8L306.6 323.6L311.1 322.5L315.7 321.3L320.3 320.1L324.9 318.9L329.4 317.7L334 316.5L338.6 315.3L343.1 314.1L347.7 312.9L352.3 311.7L356.9 310.5L361.4 309.3L366 308.1L370.6 306.9L375.2 305.7L379.8 304.5L384.3 303.3L388.9 302.1L393.5 300.9L398 299.7L402.6 298.5L407.2 297.4L411.8 296.2L416.4 295L420.9 293.8L425.5 292.6L430.1 291.4L434.6 290.2L439.2 289L443.8 287.8L448.4 286.6L452.9 285.4L457.5 284.2L462.1 283L466.7 281.8L471.2 280.6L475.8 279.4L480.4 278.2L485 277L489.6 275.8L494.1 274.6M224.2 345.2L226 346.3M228.8 344L230.6 345.1M233.3 342.8L235.1 343.9M237.9 341.6L239.7 342.7M242.5 340.4L244.3 341.5M247.1 339.2L248.9 340.3M251.6 338L253.4 339.1M256.2 336.8L258 337.9M260.8 335.6L262.6 336.7M265.4 334.4L267.2 335.5M269.9 333.2L271.7 334.3M274.5 332L276.3 333.1M279.1 330.8L280.9 331.9M283.7 329.6L285.5 330.7M288.2 328.4L290 329.5M292.8 327.2L294.6 328.3M297.4 326L299.2 327.2M302 324.8L303.8 326M306.6 323.6L308.3 324.8M311.1 322.5L312.9 323.6M315.7 321.3L317.5 322.4M320.3 320.1L322.1 321.2M324.9 318.9L326.6 320M329.4 317.7L331.2 318.8M334 316.5L335.8 317.6M338.6 315.3L340.4 316.4M343.1 314.1L344.9 315.2M347.7 312.9L349.5 314M352.3 311.7L354.1 312.8M356.9 310.5L358.7 311.6M361.4 309.3L363.2 310.4M366 308.1L367.8 309.2M370.6 306.9L372.4 308M375.2 305.7L377 306.8M379.8 304.5L381.5 305.6M384.3 303.3L386.1 304.4M388.9 302.1L390.7 303.2M393.5 300.9L395.3 302.1M398 299.7L399.8 300.9M402.6 298.5L404.4 299.7M407.2 297.4L409 298.5M411.8 296.2L413.6 297.3M416.4 295L418.1 296.1M420.9 293.8L422.7 294.9M425.5 292.6L427.3 293.7M430.1 291.4L431.9 292.5M434.6 290.2L436.4 291.3M439.2 289L441 290.1M443.8 287.8L445.6 288.9M448.4 286.6L450.2 287.7M452.9 285.4L454.7 286.5M457.5 284.2L459.3 285.3M462.1 283L463.9 284.1M466.7 281.8L468.5 282.9M471.2 280.6L473 281.7M475.8 279.4L477.6 280.5M480.4 278.2L482.2 279.3M485 277L486.8 278.2M489.6 275.8L491.3 277M494.1 274.6L495.9 275.8"/><path class="w" d="M226 346.3L230.6 345.1L235.1 343.9L239.7 342.7L244.3 341.5L248.9 340.3L253.4 339.1L258 337.9L262.6 336.7L267.2 335.5L271.7 334.3L276.3 333.1L280.9 331.9L285.5 330.7L290 329.5L294.6 328.3L299.2 327.2L303.8 326L308.3 324.8L312.9 323.6L317.5 322.4L322.1 321.2L326.6 320L331.2 318.8L335.8 317.6L340.4 316.4L344.9 315.2L349.5 314L354.1 312.8L358.7 311.6L363.2 310.4L367.8 309.2L372.4 308L377 306.8L381.5 305.6L386.1 304.4L390.7 303.2L395.3 302.1L399.8 300.9L404.4 299.7L409 298.5L413.6 297.3L418.1 296.1L422.7 294.9L427.3 293.7L431.9 292.5L436.4 291.3L441 290.1L445.6 288.9L450.2 287.7L454.7 286.5L459.3 285.3L463.9 284.1L468.5 282.9L473 281.7L477.6 280.5L482.2 279.3L486.8 278.2L491.3 277L495.9 275.8L497.7 276.9L493.1 278.1L488.6 279.3L484 280.5L479.4 281.7L474.8 282.9L470.3 284L465.7 285.2L461.1 286.4L456.5 287.6L452 288.8L447.4 290L442.8 291.2L438.2 292.4L433.7 293.6L429.1 294.8L424.5 296L419.9 297.2L415.4 298.4L410.8 299.6L406.2 300.8L401.6 302L397.1 303.2L392.5 304.4L387.9 305.6L383.3 306.8L378.8 307.9L374.2 309.1L369.6 310.3L365 311.5L360.5 312.7L355.9 313.9L351.3 315.1L346.7 316.3L342.2 317.5L337.6 318.7L333 319.9L328.4 321.1L323.9 322.3L319.3 323.5L314.7 324.7L310.1 325.9L305.6 327.1L301 328.3L296.4 329.5L291.8 330.7L287.3 331.9L282.7 333L278.1 334.2L273.5 335.4L269 336.6L264.4 337.8L259.8 339L255.2 340.2L250.7 341.4L246.1 342.6L241.5 343.8L236.9 345L232.4 346.2L227.8 347.4z"/><path class="k0" d="M226 346.3L230.6 345.1L235.1 343.9L239.7 342.7L244.3 341.5L248.9 340.3L253.4 339.1L258 337.9L262.6 336.7L267.2 335.5L271.7 334.3L276.3 333.1L280.9 331.9L285.5 330.7L290 329.5L294.6 328.3L299.2 327.2L303.8 326L308.3 324.8L312.9 323.6L317.5 322.4L322.1 321.2L326.6 320L331.2 318.8L335.8 317.6L340.4 316.4L344.9 315.2L349.5 314L354.1 312.8L358.7 311.6L363.2 310.4L367.8 309.2L372.4 308L377 306.8L381.5 305.6L386.1 304.4L390.7 303.2L395.3 302.1L399.8 300.9L404.4 299.7L409 298.5L413.6 297.3L418.1 296.1L422.7 294.9L427.3 293.7L431.9 292.5L436.4 291.3L441 290.1L445.6 288.9L450.2 287.7L454.7 286.5L459.3 285.3L463.9 284.1L468.5 282.9L473 281.7L477.6 280.5L482.2 279.3L486.8 278.2L491.3 277L495.9 275.8M226 346.3L227.8 347.4M230.6 345.1L232.4 346.2M235.1 343.9L236.9 345M239.7 342.7L241.5 343.8M244.3 341.5L246.1 342.6M248.9 340.3L250.7 341.4M253.4 339.1L255.2 340.2M258 337.9L259.8 339M262.6 336.7L264.4 337.8M267.2 335.5L269 336.6M271.7 334.3L273.5 335.4M276.3 333.1L278.1 334.2M280.9 331.9L282.7 333M285.5 330.7L287.3 331.9M290 329.5L291.8 330.7M294.6 328.3L296.4 329.5M299.2 327.2L301 328.3M303.8 326L305.6 327.1M308.3 324.8L310.1 325.9M312.9 323.6L314.7 324.7M317.5 322.4L319.3 323.5M322.1 321.2L323.9 322.3M326.6 320L328.4 321.1M331.2 318.8L333 319.9M335.8 317.6L337.6 318.7M340.4 316.4L342.2 317.5M344.9 315.2L346.7 316.3M349.5 314L351.3 315.1M354.1 312.8L355.9 313.9M358.7 311.6L360.5 312.7M363.2 310.4L365 311.5M367.8 309.2L369.6 310.3M372.4 308L374.2 309.1M377 306.8L378.8 307.9M381.5 305.6L383.3 306.8M386.1 304.4L387.9 305.6M390.7 303.2L392.5 304.4M395.3 302.1L397.1 303.2M399.8 300.9L401.6 302M404.4 299.7L406.2 300.8M409 298.5L410.8 299.6M413.6 297.3L415.4 298.4M418.1 296.1L419.9 297.2M422.7 294.9L424.5 296M427.3 293.7L429.1 294.8M431.9 292.5L433.7 293.6M436.4 291.3L438.2 292.4M441 290.1L442.8 291.2M445.6 288.9L447.4 290M450.2 287.7L452 288.8M454.7 286.5L456.5 287.6M459.3 285.3L461.1 286.4M463.9 284.1L465.7 285.2M468.5 282.9L470.3 284M473 281.7L474.8 282.9M477.6 280.5L479.4 281.7M482.2 279.3L484 280.5M486.8 278.2L488.6 279.3M491.3 277L493.1 278.1M495.9 275.8L497.7 276.9"/><path class="w" d="M227.8 347.4L232.4 346.2L236.9 345L241.5 343.8L246.1 342.6L250.7 341.4L255.2 340.2L259.8 339L264.4 337.8L269 336.6L273.5 335.4L278.1 334.2L282.7 333L287.3 331.9L291.8 330.7L296.4 329.5L301 328.3L305.6 327.1L310.1 325.9L314.7 324.7L319.3 323.5L323.9 322.3L328.4 321.1L333 319.9L337.6 318.7L342.2 317.5L346.7 316.3L351.3 315.1L355.9 313.9L360.5 312.7L365 311.5L369.6 310.3L374.2 309.1L378.8 307.9L383.3 306.8L387.9 305.6L392.5 304.4L397.1 303.2L401.6 302L406.2 300.8L410.8 299.6L415.4 298.4L419.9 297.2L424.5 296L429.1 294.8L433.7 293.6L438.2 292.4L442.8 291.2L447.4 290L452 288.8L456.5 287.6L461.1 286.4L465.7 285.2L470.3 284L474.8 282.9L479.4 281.7L484 280.5L488.6 279.3L493.1 278.1L497.7 276.9L499.5 278L494.9 279.2L490.3 280.4L485.8 281.6L481.2 282.8L476.6 284L472 285.2L467.5 286.4L462.9 287.6L458.3 288.7L453.7 289.9L449.2 291.1L444.6 292.3L440 293.5L435.4 294.7L430.9 295.9L426.3 297.1L421.7 298.3L417.1 299.5L412.6 300.7L408 301.9L403.4 303.1L398.8 304.3L394.3 305.5L389.7 306.7L385.1 307.9L380.5 309.1L376 310.3L371.4 311.5L366.8 312.6L362.2 313.8L357.7 315L353.1 316.2L348.5 317.4L343.9 318.6L339.4 319.8L334.8 321L330.2 322.2L325.6 323.4L321.1 324.6L316.5 325.8L311.9 327L307.3 328.2L302.8 329.4L298.2 330.6L293.6 331.8L289 333L284.5 334.2L279.9 335.4L275.3 336.6L270.7 337.7L266.2 338.9L261.6 340.1L257 341.3L252.4 342.5L247.9 343.7L243.3 344.9L238.7 346.1L234.1 347.3L229.6 348.5z"/><path class="k0" d="M227.8 347.4L232.4 346.2L236.9 345L241.5 343.8L246.1 342.6L250.7 341.4L255.2 340.2L259.8 339L264.4 337.8L269 336.6L273.5 335.4L278.1 334.2L282.7 333L287.3 331.9L291.8 330.7L296.4 329.5L301 328.3L305.6 327.1L310.1 325.9L314.7 324.7L319.3 323.5L323.9 322.3L328.4 321.1L333 319.9L337.6 318.7L342.2 317.5L346.7 316.3L351.3 315.1L355.9 313.9L360.5 312.7L365 311.5L369.6 310.3L374.2 309.1L378.8 307.9L383.3 306.8L387.9 305.6L392.5 304.4L397.1 303.2L401.6 302L406.2 300.8L410.8 299.6L415.4 298.4L419.9 297.2L424.5 296L429.1 294.8L433.7 293.6L438.2 292.4L442.8 291.2L447.4 290L452 288.8L456.5 287.6L461.1 286.4L465.7 285.2L470.3 284L474.8 282.9L479.4 281.7L484 280.5L488.6 279.3L493.1 278.1L497.7 276.9M227.8 347.4L229.6 348.5M232.4 346.2L234.1 347.3M236.9 345L238.7 346.1M241.5 343.8L243.3 344.9M246.1 342.6L247.9 343.7M250.7 341.4L252.4 342.5M255.2 340.2L257 341.3M259.8 339L261.6 340.1M264.4 337.8L266.2 338.9M269 336.6L270.7 337.7M273.5 335.4L275.3 336.6M278.1 334.2L279.9 335.4M282.7 333L284.5 334.2M287.3 331.9L289 333M291.8 330.7L293.6 331.8M296.4 329.5L298.2 330.6M301 328.3L302.8 329.4M305.6 327.1L307.3 328.2M310.1 325.9L311.9 327M314.7 324.7L316.5 325.8M319.3 323.5L321.1 324.6M323.9 322.3L325.6 323.4M328.4 321.1L330.2 322.2M333 319.9L334.8 321M337.6 318.7L339.4 319.8M342.2 317.5L343.9 318.6M346.7 316.3L348.5 317.4M351.3 315.1L353.1 316.2M355.9 313.9L357.7 315M360.5 312.7L362.2 313.8M365 311.5L366.8 312.6M369.6 310.3L371.4 311.5M374.2 309.1L376 310.3M378.8 307.9L380.5 309.1M383.3 306.8L385.1 307.9M387.9 305.6L389.7 306.7M392.5 304.4L394.3 305.5M397.1 303.2L398.8 304.3M401.6 302L403.4 303.1M406.2 300.8L408 301.9M410.8 299.6L412.6 300.7M415.4 298.4L417.1 299.5M419.9 297.2L421.7 298.3M424.5 296L426.3 297.1M429.1 294.8L430.9 295.9M433.7 293.6L435.4 294.7M438.2 292.4L440 293.5M442.8 291.2L444.6 292.3M447.4 290L449.2 291.1M452 288.8L453.7 289.9M456.5 287.6L458.3 288.7M461.1 286.4L462.9 287.6M465.7 285.2L467.5 286.4M470.3 284L472 285.2M474.8 282.9L476.6 284M479.4 281.7L481.2 282.8M484 280.5L485.8 281.6M488.6 279.3L490.3 280.4M493.1 278.1L494.9 279.2M497.7 276.9L499.5 278"/><path class="w" d="M229.6 348.5L234.1 347.3L238.7 346.1L243.3 344.9L247.9 343.7L252.4 342.5L257 341.3L261.6 340.1L266.2 338.9L270.7 337.7L275.3 336.6L279.9 335.4L284.5 334.2L289 333L293.6 331.8L298.2 330.6L302.8 329.4L307.3 328.2L311.9 327L316.5 325.8L321.1 324.6L325.6 323.4L330.2 322.2L334.8 321L339.4 319.8L343.9 318.6L348.5 317.4L353.1 316.2L357.7 315L362.2 313.8L366.8 312.6L371.4 311.5L376 310.3L380.5 309.1L385.1 307.9L389.7 306.7L394.3 305.5L398.8 304.3L403.4 303.1L408 301.9L412.6 300.7L417.1 299.5L421.7 298.3L426.3 297.1L430.9 295.9L435.4 294.7L440 293.5L444.6 292.3L449.2 291.1L453.7 289.9L458.3 288.7L462.9 287.6L467.5 286.4L472 285.2L476.6 284L481.2 282.8L485.8 281.6L490.3 280.4L494.9 279.2L499.5 278L501.3 279.1L496.7 280.3L492.1 281.5L487.6 282.7L483 283.9L478.4 285.1L473.8 286.3L469.3 287.5L464.7 288.7L460.1 289.9L455.5 291.1L451 292.3L446.4 293.4L441.8 294.6L437.2 295.8L432.7 297L428.1 298.2L423.5 299.4L418.9 300.6L414.4 301.8L409.8 303L405.2 304.2L400.6 305.4L396.1 306.6L391.5 307.8L386.9 309L382.3 310.2L377.8 311.4L373.2 312.6L368.6 313.8L364 315L359.5 316.2L354.9 317.3L350.3 318.5L345.7 319.7L341.2 320.9L336.6 322.1L332 323.3L327.4 324.5L322.9 325.7L318.3 326.9L313.7 328.1L309.1 329.3L304.6 330.5L300 331.7L295.4 332.9L290.8 334.1L286.3 335.3L281.7 336.5L277.1 337.7L272.5 338.9L268 340.1L263.4 341.3L258.8 342.4L254.2 343.6L249.7 344.8L245.1 346L240.5 347.2L235.9 348.4L231.4 349.6z"/><path class="k0" d="M229.6 348.5L234.1 347.3L238.7 346.1L243.3 344.9L247.9 343.7L252.4 342.5L257 341.3L261.6 340.1L266.2 338.9L270.7 337.7L275.3 336.6L279.9 335.4L284.5 334.2L289 333L293.6 331.8L298.2 330.6L302.8 329.4L307.3 328.2L311.9 327L316.5 325.8L321.1 324.6L325.6 323.4L330.2 322.2L334.8 321L339.4 319.8L343.9 318.6L348.5 317.4L353.1 316.2L357.7 315L362.2 313.8L366.8 312.6L371.4 311.5L376 310.3L380.5 309.1L385.1 307.9L389.7 306.7L394.3 305.5L398.8 304.3L403.4 303.1L408 301.9L412.6 300.7L417.1 299.5L421.7 298.3L426.3 297.1L430.9 295.9L435.4 294.7L440 293.5L444.6 292.3L449.2 291.1L453.7 289.9L458.3 288.7L462.9 287.6L467.5 286.4L472 285.2L476.6 284L481.2 282.8L485.8 281.6L490.3 280.4L494.9 279.2L499.5 278M229.6 348.5L231.4 349.6M234.1 347.3L235.9 348.4M238.7 346.1L240.5 347.2M243.3 344.9L245.1 346M247.9 343.7L249.7 344.8M252.4 342.5L254.2 343.6M257 341.3L258.8 342.4M261.6 340.1L263.4 341.3M266.2 338.9L268 340.1M270.7 337.7L272.5 338.9M275.3 336.6L277.1 337.7M279.9 335.4L281.7 336.5M284.5 334.2L286.3 335.3M289 333L290.8 334.1M293.6 331.8L295.4 332.9M298.2 330.6L300 331.7M302.8 329.4L304.6 330.5M307.3 328.2L309.1 329.3M311.9 327L313.7 328.1M316.5 325.8L318.3 326.9M321.1 324.6L322.9 325.7M325.6 323.4L327.4 324.5M330.2 322.2L332 323.3M334.8 321L336.6 322.1M339.4 319.8L341.2 320.9M343.9 318.6L345.7 319.7M348.5 317.4L350.3 318.5M353.1 316.2L354.9 317.3M357.7 315L359.5 316.2M362.2 313.8L364 315M366.8 312.6L368.6 313.8M371.4 311.5L373.2 312.6M376 310.3L377.8 311.4M380.5 309.1L382.3 310.2M385.1 307.9L386.9 309M389.7 306.7L391.5 307.8M394.3 305.5L396.1 306.6M398.8 304.3L400.6 305.4M403.4 303.1L405.2 304.2M408 301.9L409.8 303M412.6 300.7L414.4 301.8M417.1 299.5L418.9 300.6M421.7 298.3L423.5 299.4M426.3 297.1L428.1 298.2M430.9 295.9L432.7 297M435.4 294.7L437.2 295.8M440 293.5L441.8 294.6M444.6 292.3L446.4 293.4M449.2 291.1L451 292.3M453.7 289.9L455.5 291.1M458.3 288.7L460.1 289.9M462.9 287.6L464.7 288.7M467.5 286.4L469.3 287.5M472 285.2L473.8 286.3M476.6 284L478.4 285.1M481.2 282.8L483 283.9M485.8 281.6L487.6 282.7M490.3 280.4L492.1 281.5M494.9 279.2L496.7 280.3M499.5 278L501.3 279.1"/><path class="w" d="M231.4 349.6L235.9 348.4L240.5 347.2L245.1 346L249.7 344.8L254.2 343.6L258.8 342.4L263.4 341.3L268 340.1L272.5 338.9L277.1 337.7L281.7 336.5L286.3 335.3L290.8 334.1L295.4 332.9L300 331.7L304.6 330.5L309.1 329.3L313.7 328.1L318.3 326.9L322.9 325.7L327.4 324.5L332 323.3L336.6 322.1L341.2 320.9L345.7 319.7L350.3 318.5L354.9 317.3L359.5 316.2L364 315L368.6 313.8L373.2 312.6L377.8 311.4L382.3 310.2L386.9 309L391.5 307.8L396.1 306.6L400.6 305.4L405.2 304.2L409.8 303L414.4 301.8L418.9 300.6L423.5 299.4L428.1 298.2L432.7 297L437.2 295.8L441.8 294.6L446.4 293.4L451 292.3L455.5 291.1L460.1 289.9L464.7 288.7L469.3 287.5L473.8 286.3L478.4 285.1L483 283.9L487.6 282.7L492.1 281.5L496.7 280.3L501.3 279.1L503.1 280.2L498.5 281.4L493.9 282.6L489.3 283.8L484.8 285L480.2 286.2L475.6 287.4L471 288.6L466.5 289.8L461.9 291L457.3 292.2L452.8 293.4L448.2 294.6L443.6 295.8L439 297L434.4 298.1L429.9 299.3L425.3 300.5L420.7 301.7L416.1 302.9L411.6 304.1L407 305.3L402.4 306.5L397.9 307.7L393.3 308.9L388.7 310.1L384.1 311.3L379.5 312.5L375 313.7L370.4 314.9L365.8 316.1L361.2 317.3L356.7 318.5L352.1 319.7L347.5 320.9L342.9 322L338.4 323.2L333.8 324.4L329.2 325.6L324.6 326.8L320.1 328L315.5 329.2L310.9 330.4L306.3 331.6L301.8 332.8L297.2 334L292.6 335.2L288 336.4L283.5 337.6L278.9 338.8L274.3 340L269.8 341.2L265.2 342.4L260.6 343.6L256 344.8L251.4 345.9L246.9 347.1L242.3 348.3L237.7 349.5L233.1 350.7z"/><path class="k0" d="M231.4 349.6L235.9 348.4L240.5 347.2L245.1 346L249.7 344.8L254.2 343.6L258.8 342.4L263.4 341.3L268 340.1L272.5 338.9L277.1 337.7L281.7 336.5L286.3 335.3L290.8 334.1L295.4 332.9L300 331.7L304.6 330.5L309.1 329.3L313.7 328.1L318.3 326.9L322.9 325.7L327.4 324.5L332 323.3L336.6 322.1L341.2 320.9L345.7 319.7L350.3 318.5L354.9 317.3L359.5 316.2L364 315L368.6 313.8L373.2 312.6L377.8 311.4L382.3 310.2L386.9 309L391.5 307.8L396.1 306.6L400.6 305.4L405.2 304.2L409.8 303L414.4 301.8L418.9 300.6L423.5 299.4L428.1 298.2L432.7 297L437.2 295.8L441.8 294.6L446.4 293.4L451 292.3L455.5 291.1L460.1 289.9L464.7 288.7L469.3 287.5L473.8 286.3L478.4 285.1L483 283.9L487.6 282.7L492.1 281.5L496.7 280.3L501.3 279.1M231.4 349.6L233.1 350.7M235.9 348.4L237.7 349.5M240.5 347.2L242.3 348.3M245.1 346L246.9 347.1M249.7 344.8L251.4 345.9M254.2 343.6L256 344.8M258.8 342.4L260.6 343.6M263.4 341.3L265.2 342.4M268 340.1L269.8 341.2M272.5 338.9L274.3 340M277.1 337.7L278.9 338.8M281.7 336.5L283.5 337.6M286.3 335.3L288 336.4M290.8 334.1L292.6 335.2M295.4 332.9L297.2 334M300 331.7L301.8 332.8M304.6 330.5L306.3 331.6M309.1 329.3L310.9 330.4M313.7 328.1L315.5 329.2M318.3 326.9L320.1 328M322.9 325.7L324.6 326.8M327.4 324.5L329.2 325.6M332 323.3L333.8 324.4M336.6 322.1L338.4 323.2M341.2 320.9L342.9 322M345.7 319.7L347.5 320.9M350.3 318.5L352.1 319.7M354.9 317.3L356.7 318.5M359.5 316.2L361.2 317.3M364 315L365.8 316.1M368.6 313.8L370.4 314.9M373.2 312.6L375 313.7M377.8 311.4L379.5 312.5M382.3 310.2L384.1 311.3M386.9 309L388.7 310.1M391.5 307.8L393.3 308.9M396.1 306.6L397.9 307.7M400.6 305.4L402.4 306.5M405.2 304.2L407 305.3M409.8 303L411.6 304.1M414.4 301.8L416.1 302.9M418.9 300.6L420.7 301.7M423.5 299.4L425.3 300.5M428.1 298.2L429.9 299.3M432.7 297L434.4 298.1M437.2 295.8L439 297M441.8 294.6L443.6 295.8M446.4 293.4L448.2 294.6M451 292.3L452.8 293.4M455.5 291.1L457.3 292.2M460.1 289.9L461.9 291M464.7 288.7L466.5 289.8M469.3 287.5L471 288.6M473.8 286.3L475.6 287.4M478.4 285.1L480.2 286.2M483 283.9L484.8 285M487.6 282.7L489.3 283.8M492.1 281.5L493.9 282.6M496.7 280.3L498.5 281.4M501.3 279.1L503.1 280.2"/><path class="w" d="M233.1 350.7L237.7 349.5L242.3 348.3L246.9 347.1L251.4 345.9L256 344.8L260.6 343.6L265.2 342.4L269.8 341.2L274.3 340L278.9 338.8L283.5 337.6L288 336.4L292.6 335.2L297.2 334L301.8 332.8L306.3 331.6L310.9 330.4L315.5 329.2L320.1 328L324.6 326.8L329.2 325.6L333.8 324.4L338.4 323.2L342.9 322L347.5 320.9L352.1 319.7L356.7 318.5L361.2 317.3L365.8 316.1L370.4 314.9L375 313.7L379.5 312.5L384.1 311.3L388.7 310.1L393.3 308.9L397.9 307.7L402.4 306.5L407 305.3L411.6 304.1L416.1 302.9L420.7 301.7L425.3 300.5L429.9 299.3L434.4 298.1L439 297L443.6 295.8L448.2 294.6L452.8 293.4L457.3 292.2L461.9 291L466.5 289.8L471 288.6L475.6 287.4L480.2 286.2L484.8 285L489.3 283.8L493.9 282.6L498.5 281.4L503.1 280.2L504.9 281.3L500.3 282.5L495.7 283.7L491.1 284.9L486.6 286.1L482 287.3L477.4 288.5L472.8 289.7L468.3 290.9L463.7 292.1L459.1 293.3L454.5 294.5L450 295.7L445.4 296.9L440.8 298.1L436.2 299.3L431.7 300.5L427.1 301.7L422.5 302.8L417.9 304L413.4 305.2L408.8 306.4L404.2 307.6L399.6 308.8L395.1 310L390.5 311.2L385.9 312.4L381.3 313.6L376.8 314.8L372.2 316L367.6 317.2L363 318.4L358.5 319.6L353.9 320.8L349.3 322L344.7 323.2L340.2 324.4L335.6 325.6L331 326.7L326.4 327.9L321.9 329.1L317.3 330.3L312.7 331.5L308.1 332.7L303.6 333.9L299 335.1L294.4 336.3L289.8 337.5L285.3 338.7L280.7 339.9L276.1 341.1L271.5 342.3L267 343.5L262.4 344.7L257.8 345.9L253.2 347.1L248.7 348.3L244.1 349.5L239.5 350.6L234.9 351.8z"/><path class="k0" d="M233.1 350.7L237.7 349.5L242.3 348.3L246.9 347.1L251.4 345.9L256 344.8L260.6 343.6L265.2 342.4L269.8 341.2L274.3 340L278.9 338.8L283.5 337.6L288 336.4L292.6 335.2L297.2 334L301.8 332.8L306.3 331.6L310.9 330.4L315.5 329.2L320.1 328L324.6 326.8L329.2 325.6L333.8 324.4L338.4 323.2L342.9 322L347.5 320.9L352.1 319.7L356.7 318.5L361.2 317.3L365.8 316.1L370.4 314.9L375 313.7L379.5 312.5L384.1 311.3L388.7 310.1L393.3 308.9L397.9 307.7L402.4 306.5L407 305.3L411.6 304.1L416.1 302.9L420.7 301.7L425.3 300.5L429.9 299.3L434.4 298.1L439 297L443.6 295.8L448.2 294.6L452.8 293.4L457.3 292.2L461.9 291L466.5 289.8L471 288.6L475.6 287.4L480.2 286.2L484.8 285L489.3 283.8L493.9 282.6L498.5 281.4L503.1 280.2M233.1 350.7L234.9 351.8M237.7 349.5L239.5 350.6M242.3 348.3L244.1 349.5M246.9 347.1L248.7 348.3M251.4 345.9L253.2 347.1M256 344.8L257.8 345.9M260.6 343.6L262.4 344.7M265.2 342.4L267 343.5M269.8 341.2L271.5 342.3M274.3 340L276.1 341.1M278.9 338.8L280.7 339.9M283.5 337.6L285.3 338.7M288 336.4L289.8 337.5M292.6 335.2L294.4 336.3M297.2 334L299 335.1M301.8 332.8L303.6 333.9M306.3 331.6L308.1 332.7M310.9 330.4L312.7 331.5M315.5 329.2L317.3 330.3M320.1 328L321.9 329.1M324.6 326.8L326.4 327.9M329.2 325.6L331 326.7M333.8 324.4L335.6 325.6M338.4 323.2L340.2 324.4M342.9 322L344.7 323.2M347.5 320.9L349.3 322M352.1 319.7L353.9 320.8M356.7 318.5L358.5 319.6M361.2 317.3L363 318.4M365.8 316.1L367.6 317.2M370.4 314.9L372.2 316M375 313.7L376.8 314.8M379.5 312.5L381.3 313.6M384.1 311.3L385.9 312.4M388.7 310.1L390.5 311.2M393.3 308.9L395.1 310M397.9 307.7L399.6 308.8M402.4 306.5L404.2 307.6M407 305.3L408.8 306.4M411.6 304.1L413.4 305.2M416.1 302.9L417.9 304M420.7 301.7L422.5 302.8M425.3 300.5L427.1 301.7M429.9 299.3L431.7 300.5M434.4 298.1L436.2 299.3M439 297L440.8 298.1M443.6 295.8L445.4 296.9M448.2 294.6L450 295.7M452.8 293.4L454.5 294.5M457.3 292.2L459.1 293.3M461.9 291L463.7 292.1M466.5 289.8L468.3 290.9M471 288.6L472.8 289.7M475.6 287.4L477.4 288.5M480.2 286.2L482 287.3M484.8 285L486.6 286.1M489.3 283.8L491.1 284.9M493.9 282.6L495.7 283.7M498.5 281.4L500.3 282.5M503.1 280.2L504.9 281.3"/><path class="w" d="M234.9 351.8L239.5 350.6L244.1 349.5L248.7 348.3L253.2 347.1L257.8 345.9L262.4 344.7L267 343.5L271.5 342.3L276.1 341.1L280.7 339.9L285.3 338.7L289.8 337.5L294.4 336.3L299 335.1L303.6 333.9L308.1 332.7L312.7 331.5L317.3 330.3L321.9 329.1L326.4 327.9L331 326.7L335.6 325.6L340.2 324.4L344.7 323.2L349.3 322L353.9 320.8L358.5 319.6L363 318.4L367.6 317.2L372.2 316L376.8 314.8L381.3 313.6L385.9 312.4L390.5 311.2L395.1 310L399.6 308.8L404.2 307.6L408.8 306.4L413.4 305.2L417.9 304L422.5 302.8L427.1 301.7L431.7 300.5L436.2 299.3L440.8 298.1L445.4 296.9L450 295.7L454.5 294.5L459.1 293.3L463.7 292.1L468.3 290.9L472.8 289.7L477.4 288.5L482 287.3L486.6 286.1L491.1 284.9L495.7 283.7L500.3 282.5L504.9 281.3L506.7 282.5L502.1 283.6L497.5 284.8L492.9 286L488.4 287.2L483.8 288.4L479.2 289.6L474.6 290.8L470.1 292L465.5 293.2L460.9 294.4L456.3 295.6L451.8 296.8L447.2 298L442.6 299.2L438 300.4L433.5 301.6L428.9 302.8L424.3 304L419.7 305.2L415.2 306.4L410.6 307.5L406 308.7L401.4 309.9L396.9 311.1L392.3 312.3L387.7 313.5L383.1 314.7L378.6 315.9L374 317.1L369.4 318.3L364.8 319.5L360.3 320.7L355.7 321.9L351.1 323.1L346.5 324.3L342 325.5L337.4 326.7L332.8 327.9L328.2 329.1L323.7 330.3L319.1 331.4L314.5 332.6L309.9 333.8L305.4 335L300.8 336.2L296.2 337.4L291.6 338.6L287.1 339.8L282.5 341L277.9 342.2L273.3 343.4L268.8 344.6L264.2 345.8L259.6 347L255 348.2L250.5 349.4L245.9 350.6L241.3 351.8L236.7 353z"/><path class="k0" d="M234.9 351.8L239.5 350.6L244.1 349.5L248.7 348.3L253.2 347.1L257.8 345.9L262.4 344.7L267 343.5L271.5 342.3L276.1 341.1L280.7 339.9L285.3 338.7L289.8 337.5L294.4 336.3L299 335.1L303.6 333.9L308.1 332.7L312.7 331.5L317.3 330.3L321.9 329.1L326.4 327.9L331 326.7L335.6 325.6L340.2 324.4L344.7 323.2L349.3 322L353.9 320.8L358.5 319.6L363 318.4L367.6 317.2L372.2 316L376.8 314.8L381.3 313.6L385.9 312.4L390.5 311.2L395.1 310L399.6 308.8L404.2 307.6L408.8 306.4L413.4 305.2L417.9 304L422.5 302.8L427.1 301.7L431.7 300.5L436.2 299.3L440.8 298.1L445.4 296.9L450 295.7L454.5 294.5L459.1 293.3L463.7 292.1L468.3 290.9L472.8 289.7L477.4 288.5L482 287.3L486.6 286.1L491.1 284.9L495.7 283.7L500.3 282.5L504.9 281.3M234.9 351.8L236.7 353M239.5 350.6L241.3 351.8M244.1 349.5L245.9 350.6M248.7 348.3L250.5 349.4M253.2 347.1L255 348.2M257.8 345.9L259.6 347M262.4 344.7L264.2 345.8M267 343.5L268.8 344.6M271.5 342.3L273.3 343.4M276.1 341.1L277.9 342.2M280.7 339.9L282.5 341M285.3 338.7L287.1 339.8M289.8 337.5L291.6 338.6M294.4 336.3L296.2 337.4M299 335.1L300.8 336.2M303.6 333.9L305.4 335M308.1 332.7L309.9 333.8M312.7 331.5L314.5 332.6M317.3 330.3L319.1 331.4M321.9 329.1L323.7 330.3M326.4 327.9L328.2 329.1M331 326.7L332.8 327.9M335.6 325.6L337.4 326.7M340.2 324.4L342 325.5M344.7 323.2L346.5 324.3M349.3 322L351.1 323.1M353.9 320.8L355.7 321.9M358.5 319.6L360.3 320.7M363 318.4L364.8 319.5M367.6 317.2L369.4 318.3M372.2 316L374 317.1M376.8 314.8L378.6 315.9M381.3 313.6L383.1 314.7M385.9 312.4L387.7 313.5M390.5 311.2L392.3 312.3M395.1 310L396.9 311.1M399.6 308.8L401.4 309.9M404.2 307.6L406 308.7M408.8 306.4L410.6 307.5M413.4 305.2L415.2 306.4M417.9 304L419.7 305.2M422.5 302.8L424.3 304M427.1 301.7L428.9 302.8M431.7 300.5L433.5 301.6M436.2 299.3L438 300.4M440.8 298.1L442.6 299.2M445.4 296.9L447.2 298M450 295.7L451.8 296.8M454.5 294.5L456.3 295.6M459.1 293.3L460.9 294.4M463.7 292.1L465.5 293.2M468.3 290.9L470.1 292M472.8 289.7L474.6 290.8M477.4 288.5L479.2 289.6M482 287.3L483.8 288.4M486.6 286.1L488.4 287.2M491.1 284.9L492.9 286M495.7 283.7L497.5 284.8M500.3 282.5L502.1 283.6M504.9 281.3L506.7 282.5"/><path class="w" d="M236.7 353L241.3 351.8L245.9 350.6L250.5 349.4L255 348.2L259.6 347L264.2 345.8L268.8 344.6L273.3 343.4L277.9 342.2L282.5 341L287.1 339.8L291.6 338.6L296.2 337.4L300.8 336.2L305.4 335L309.9 333.8L314.5 332.6L319.1 331.4L323.7 330.3L328.2 329.1L332.8 327.9L337.4 326.7L342 325.5L346.5 324.3L351.1 323.1L355.7 321.9L360.3 320.7L364.8 319.5L369.4 318.3L374 317.1L378.6 315.9L383.1 314.7L387.7 313.5L392.3 312.3L396.9 311.1L401.4 309.9L406 308.7L410.6 307.5L415.2 306.4L419.7 305.2L424.3 304L428.9 302.8L433.5 301.6L438 300.4L442.6 299.2L447.2 298L451.8 296.8L456.3 295.6L460.9 294.4L465.5 293.2L470.1 292L474.6 290.8L479.2 289.6L483.8 288.4L488.4 287.2L492.9 286L497.5 284.8L502.1 283.6L506.7 282.5L508.4 283.6L503.9 284.8L499.3 286L494.7 287.2L490.1 288.3L485.6 289.5L481 290.7L476.4 291.9L471.8 293.1L467.3 294.3L462.7 295.5L458.1 296.7L453.5 297.9L449 299.1L444.4 300.3L439.8 301.5L435.2 302.7L430.7 303.9L426.1 305.1L421.5 306.3L416.9 307.5L412.4 308.7L407.8 309.9L403.2 311.1L398.6 312.2L394.1 313.4L389.5 314.6L384.9 315.8L380.3 317L375.8 318.2L371.2 319.4L366.6 320.6L362 321.8L357.5 323L352.9 324.2L348.3 325.4L343.7 326.6L339.2 327.8L334.6 329L330 330.2L325.4 331.4L320.9 332.6L316.3 333.8L311.7 335L307.1 336.1L302.6 337.3L298 338.5L293.4 339.7L288.8 340.9L284.3 342.1L279.7 343.3L275.1 344.5L270.5 345.7L266 346.9L261.4 348.1L256.8 349.3L252.2 350.5L247.7 351.7L243.1 352.9L238.5 354.1z"/><path class="k0" d="M236.7 353L241.3 351.8L245.9 350.6L250.5 349.4L255 348.2L259.6 347L264.2 345.8L268.8 344.6L273.3 343.4L277.9 342.2L282.5 341L287.1 339.8L291.6 338.6L296.2 337.4L300.8 336.2L305.4 335L309.9 333.8L314.5 332.6L319.1 331.4L323.7 330.3L328.2 329.1L332.8 327.9L337.4 326.7L342 325.5L346.5 324.3L351.1 323.1L355.7 321.9L360.3 320.7L364.8 319.5L369.4 318.3L374 317.1L378.6 315.9L383.1 314.7L387.7 313.5L392.3 312.3L396.9 311.1L401.4 309.9L406 308.7L410.6 307.5L415.2 306.4L419.7 305.2L424.3 304L428.9 302.8L433.5 301.6L438 300.4L442.6 299.2L447.2 298L451.8 296.8L456.3 295.6L460.9 294.4L465.5 293.2L470.1 292L474.6 290.8L479.2 289.6L483.8 288.4L488.4 287.2L492.9 286L497.5 284.8L502.1 283.6L506.7 282.5M236.7 353L238.5 354.1M241.3 351.8L243.1 352.9M245.9 350.6L247.7 351.7M250.5 349.4L252.2 350.5M255 348.2L256.8 349.3M259.6 347L261.4 348.1M264.2 345.8L266 346.9M268.8 344.6L270.5 345.7M273.3 343.4L275.1 344.5M277.9 342.2L279.7 343.3M282.5 341L284.3 342.1M287.1 339.8L288.8 340.9M291.6 338.6L293.4 339.7M296.2 337.4L298 338.5M300.8 336.2L302.6 337.3M305.4 335L307.1 336.1M309.9 333.8L311.7 335M314.5 332.6L316.3 333.8M319.1 331.4L320.9 332.6M323.7 330.3L325.4 331.4M328.2 329.1L330 330.2M332.8 327.9L334.6 329M337.4 326.7L339.2 327.8M342 325.5L343.7 326.6M346.5 324.3L348.3 325.4M351.1 323.1L352.9 324.2M355.7 321.9L357.5 323M360.3 320.7L362 321.8M364.8 319.5L366.6 320.6M369.4 318.3L371.2 319.4M374 317.1L375.8 318.2M378.6 315.9L380.3 317M383.1 314.7L384.9 315.8M387.7 313.5L389.5 314.6M392.3 312.3L394.1 313.4M396.9 311.1L398.6 312.2M401.4 309.9L403.2 311.1M406 308.7L407.8 309.9M410.6 307.5L412.4 308.7M415.2 306.4L416.9 307.5M419.7 305.2L421.5 306.3M424.3 304L426.1 305.1M428.9 302.8L430.7 303.9M433.5 301.6L435.2 302.7M438 300.4L439.8 301.5M442.6 299.2L444.4 300.3M447.2 298L449 299.1M451.8 296.8L453.5 297.9M456.3 295.6L458.1 296.7M460.9 294.4L462.7 295.5M465.5 293.2L467.3 294.3M470.1 292L471.8 293.1M474.6 290.8L476.4 291.9M479.2 289.6L481 290.7M483.8 288.4L485.6 289.5M488.4 287.2L490.1 288.3M492.9 286L494.7 287.2M497.5 284.8L499.3 286M502.1 283.6L503.9 284.8M506.7 282.5L508.4 283.6"/><path class="w" d="M238.5 354.1L243.1 352.9L247.7 351.7L252.2 350.5L256.8 349.3L261.4 348.1L266 346.9L270.5 345.7L275.1 344.5L279.7 343.3L284.3 342.1L288.8 340.9L293.4 339.7L298 338.5L302.6 337.3L307.1 336.1L311.7 335L316.3 333.8L320.9 332.6L325.4 331.4L330 330.2L334.6 329L339.2 327.8L343.7 326.6L348.3 325.4L352.9 324.2L357.5 323L362 321.8L366.6 320.6L371.2 319.4L375.8 318.2L380.3 317L384.9 315.8L389.5 314.6L394.1 313.4L398.6 312.2L403.2 311.1L407.8 309.9L412.4 308.7L416.9 307.5L421.5 306.3L426.1 305.1L430.7 303.9L435.2 302.7L439.8 301.5L444.4 300.3L449 299.1L453.5 297.9L458.1 296.7L462.7 295.5L467.3 294.3L471.8 293.1L476.4 291.9L481 290.7L485.6 289.5L490.1 288.3L494.7 287.2L499.3 286L503.9 284.8L508.4 283.6L510.2 284.7L505.7 285.9L501.1 287.1L496.5 288.3L491.9 289.5L487.4 290.7L482.8 291.9L478.2 293L473.6 294.2L469.1 295.4L464.5 296.6L459.9 297.8L455.3 299L450.8 300.2L446.2 301.4L441.6 302.6L437 303.8L432.5 305L427.9 306.2L423.3 307.4L418.7 308.6L414.2 309.8L409.6 311L405 312.2L400.4 313.4L395.9 314.6L391.3 315.8L386.7 316.9L382.1 318.1L377.6 319.3L373 320.5L368.4 321.7L363.8 322.9L359.3 324.1L354.7 325.3L350.1 326.5L345.5 327.7L341 328.9L336.4 330.1L331.8 331.3L327.2 332.5L322.7 333.7L318.1 334.9L313.5 336.1L308.9 337.3L304.4 338.5L299.8 339.7L295.2 340.8L290.6 342L286.1 343.2L281.5 344.4L276.9 345.6L272.3 346.8L267.8 348L263.2 349.2L258.6 350.4L254 351.6L249.5 352.8L244.9 354L240.3 355.2z"/><path class="k0" d="M238.5 354.1L243.1 352.9L247.7 351.7L252.2 350.5L256.8 349.3L261.4 348.1L266 346.9L270.5 345.7L275.1 344.5L279.7 343.3L284.3 342.1L288.8 340.9L293.4 339.7L298 338.5L302.6 337.3L307.1 336.1L311.7 335L316.3 333.8L320.9 332.6L325.4 331.4L330 330.2L334.6 329L339.2 327.8L343.7 326.6L348.3 325.4L352.9 324.2L357.5 323L362 321.8L366.6 320.6L371.2 319.4L375.8 318.2L380.3 317L384.9 315.8L389.5 314.6L394.1 313.4L398.6 312.2L403.2 311.1L407.8 309.9L412.4 308.7L416.9 307.5L421.5 306.3L426.1 305.1L430.7 303.9L435.2 302.7L439.8 301.5L444.4 300.3L449 299.1L453.5 297.9L458.1 296.7L462.7 295.5L467.3 294.3L471.8 293.1L476.4 291.9L481 290.7L485.6 289.5L490.1 288.3L494.7 287.2L499.3 286L503.9 284.8L508.4 283.6M238.5 354.1L240.3 355.2M243.1 352.9L244.9 354M247.7 351.7L249.5 352.8M252.2 350.5L254 351.6M256.8 349.3L258.6 350.4M261.4 348.1L263.2 349.2M266 346.9L267.8 348M270.5 345.7L272.3 346.8M275.1 344.5L276.9 345.6M279.7 343.3L281.5 344.4M284.3 342.1L286.1 343.2M288.8 340.9L290.6 342M293.4 339.7L295.2 340.8M298 338.5L299.8 339.7M302.6 337.3L304.4 338.5M307.1 336.1L308.9 337.3M311.7 335L313.5 336.1M316.3 333.8L318.1 334.9M320.9 332.6L322.7 333.7M325.4 331.4L327.2 332.5M330 330.2L331.8 331.3M334.6 329L336.4 330.1M339.2 327.8L341 328.9M343.7 326.6L345.5 327.7M348.3 325.4L350.1 326.5M352.9 324.2L354.7 325.3M357.5 323L359.3 324.1M362 321.8L363.8 322.9M366.6 320.6L368.4 321.7M371.2 319.4L373 320.5M375.8 318.2L377.6 319.3M380.3 317L382.1 318.1M384.9 315.8L386.7 316.9M389.5 314.6L391.3 315.8M394.1 313.4L395.9 314.6M398.6 312.2L400.4 313.4M403.2 311.1L405 312.2M407.8 309.9L409.6 311M412.4 308.7L414.2 309.8M416.9 307.5L418.7 308.6M421.5 306.3L423.3 307.4M426.1 305.1L427.9 306.2M430.7 303.9L432.5 305M435.2 302.7L437 303.8M439.8 301.5L441.6 302.6M444.4 300.3L446.2 301.4M449 299.1L450.8 300.2M453.5 297.9L455.3 299M458.1 296.7L459.9 297.8M462.7 295.5L464.5 296.6M467.3 294.3L469.1 295.4M471.8 293.1L473.6 294.2M476.4 291.9L478.2 293M481 290.7L482.8 291.9M485.6 289.5L487.4 290.7M490.1 288.3L491.9 289.5M494.7 287.2L496.5 288.3M499.3 286L501.1 287.1M503.9 284.8L505.7 285.9M508.4 283.6L510.2 284.7"/><path class="w" d="M240.3 355.2L244.9 354L249.5 352.8L254 351.6L258.6 350.4L263.2 349.2L267.8 348L272.3 346.8L276.9 345.6L281.5 344.4L286.1 343.2L290.6 342L295.2 340.8L299.8 339.7L304.4 338.5L308.9 337.3L313.5 336.1L318.1 334.9L322.7 333.7L327.2 332.5L331.8 331.3L336.4 330.1L341 328.9L345.5 327.7L350.1 326.5L354.7 325.3L359.3 324.1L363.8 322.9L368.4 321.7L373 320.5L377.6 319.3L382.1 318.1L386.7 316.9L391.3 315.8L395.9 314.6L400.4 313.4L405 312.2L409.6 311L414.2 309.8L418.7 308.6L423.3 307.4L427.9 306.2L432.5 305L437 303.8L441.6 302.6L446.2 301.4L450.8 300.2L455.3 299L459.9 297.8L464.5 296.6L469.1 295.4L473.6 294.2L478.2 293L482.8 291.9L487.4 290.7L491.9 289.5L496.5 288.3L501.1 287.1L505.7 285.9L510.2 284.7L512 285.8L507.5 287L502.9 288.2L498.3 289.4L493.7 290.6L489.1 291.8L484.6 293L480 294.2L475.4 295.4L470.9 296.5L466.3 297.7L461.7 298.9L457.1 300.1L452.6 301.3L448 302.5L443.4 303.7L438.8 304.9L434.2 306.1L429.7 307.3L425.1 308.5L420.5 309.7L415.9 310.9L411.4 312.1L406.8 313.3L402.2 314.5L397.6 315.7L393.1 316.9L388.5 318.1L383.9 319.3L379.4 320.4L374.8 321.6L370.2 322.8L365.6 324L361.1 325.2L356.5 326.4L351.9 327.6L347.3 328.8L342.8 330L338.2 331.2L333.6 332.4L329 333.6L324.4 334.8L319.9 336L315.3 337.2L310.7 338.4L306.1 339.6L301.6 340.8L297 342L292.4 343.2L287.9 344.3L283.3 345.5L278.7 346.7L274.1 347.9L269.6 349.1L265 350.3L260.4 351.5L255.8 352.7L251.2 353.9L246.7 355.1L242.1 356.3z"/><path class="k0" d="M240.3 355.2L244.9 354L249.5 352.8L254 351.6L258.6 350.4L263.2 349.2L267.8 348L272.3 346.8L276.9 345.6L281.5 344.4L286.1 343.2L290.6 342L295.2 340.8L299.8 339.7L304.4 338.5L308.9 337.3L313.5 336.1L318.1 334.9L322.7 333.7L327.2 332.5L331.8 331.3L336.4 330.1L341 328.9L345.5 327.7L350.1 326.5L354.7 325.3L359.3 324.1L363.8 322.9L368.4 321.7L373 320.5L377.6 319.3L382.1 318.1L386.7 316.9L391.3 315.8L395.9 314.6L400.4 313.4L405 312.2L409.6 311L414.2 309.8L418.7 308.6L423.3 307.4L427.9 306.2L432.5 305L437 303.8L441.6 302.6L446.2 301.4L450.8 300.2L455.3 299L459.9 297.8L464.5 296.6L469.1 295.4L473.6 294.2L478.2 293L482.8 291.9L487.4 290.7L491.9 289.5L496.5 288.3L501.1 287.1L505.7 285.9L510.2 284.7M240.3 355.2L242.1 356.3M244.9 354L246.7 355.1M249.5 352.8L251.2 353.9M254 351.6L255.8 352.7M258.6 350.4L260.4 351.5M263.2 349.2L265 350.3M267.8 348L269.6 349.1M272.3 346.8L274.1 347.9M276.9 345.6L278.7 346.7M281.5 344.4L283.3 345.5M286.1 343.2L287.9 344.3M290.6 342L292.4 343.2M295.2 340.8L297 342M299.8 339.7L301.6 340.8M304.4 338.5L306.1 339.6M308.9 337.3L310.7 338.4M313.5 336.1L315.3 337.2M318.1 334.9L319.9 336M322.7 333.7L324.4 334.8M327.2 332.5L329 333.6M331.8 331.3L333.6 332.4M336.4 330.1L338.2 331.2M341 328.9L342.8 330M345.5 327.7L347.3 328.8M350.1 326.5L351.9 327.6M354.7 325.3L356.5 326.4M359.3 324.1L361.1 325.2M363.8 322.9L365.6 324M368.4 321.7L370.2 322.8M373 320.5L374.8 321.6M377.6 319.3L379.4 320.4M382.1 318.1L383.9 319.3M386.7 316.9L388.5 318.1M391.3 315.8L393.1 316.9M395.9 314.6L397.6 315.7M400.4 313.4L402.2 314.5M405 312.2L406.8 313.3M409.6 311L411.4 312.1M414.2 309.8L415.9 310.9M418.7 308.6L420.5 309.7M423.3 307.4L425.1 308.5M427.9 306.2L429.7 307.3M432.5 305L434.2 306.1M437 303.8L438.8 304.9M441.6 302.6L443.4 303.7M446.2 301.4L448 302.5M450.8 300.2L452.6 301.3M455.3 299L457.1 300.1M459.9 297.8L461.7 298.9M464.5 296.6L466.3 297.7M469.1 295.4L470.9 296.5M473.6 294.2L475.4 295.4M478.2 293L480 294.2M482.8 291.9L484.6 293M487.4 290.7L489.1 291.8M491.9 289.5L493.7 290.6M496.5 288.3L498.3 289.4M501.1 287.1L502.9 288.2M505.7 285.9L507.5 287M510.2 284.7L512 285.8"/><path class="k0" d="M242.1 356.3L246.7 355.1L251.2 353.9L255.8 352.7L260.4 351.5L265 350.3L269.6 349.1L274.1 347.9L278.7 346.7L283.3 345.5L287.9 344.3L292.4 343.2L297 342L301.6 340.8L306.1 339.6L310.7 338.4L315.3 337.2L319.9 336L324.4 334.8L329 333.6L333.6 332.4L338.2 331.2L342.8 330L347.3 328.8L351.9 327.6L356.5 326.4L361.1 325.2L365.6 324L370.2 322.8L374.8 321.6L379.4 320.4L383.9 319.3L388.5 318.1L393.1 316.9L397.6 315.7L402.2 314.5L406.8 313.3L411.4 312.1L415.9 310.9L420.5 309.7L425.1 308.5L429.7 307.3L434.2 306.1L438.8 304.9L443.4 303.7L448 302.5L452.6 301.3L457.1 300.1L461.7 298.9L466.3 297.7L470.9 296.5L475.4 295.4L480 294.2L484.6 293L489.1 291.8L493.7 290.6L498.3 289.4L502.9 288.2L507.5 287L512 285.8"/></g>
<path d="M63.7 144V241" stroke="#3a62f0" stroke-width="1.3" fill="none"/>
<path d="M63.1 244.9 L63.1 74.7 M63.1 244.9 L242.1 356.3 M242.1 356.3 L516.6 284.6 M63.1 244.9 L57.2 241.2 M63.1 210.9 L57.2 207.2 M63.1 176.8 L57.2 173.1 M63.1 142.8 L57.2 139.1 M63.1 108.7 L57.2 105 M63.1 74.7 L57.2 71 M63.1 244.9 L56.3 246.7 M107.8 272.8 L101.1 274.5 M152.6 300.6 L145.8 302.4 M197.3 328.4 L190.6 330.2 M242.1 356.3 L235.3 358.1 M242.1 356.3 L248 360 M287.9 344.4 L293.8 348 M333.6 332.4 L339.5 336.1 M379.4 320.4 L385.3 324.1 M425.1 308.5 L431 312.2 M470.9 296.6 L476.8 300.2 M516.6 284.6 L522.5 288.3" stroke="#262626" stroke-width="1" fill="none"/>
<g font-family="Liberation Sans, Arial, sans-serif" fill="#262626" font-size="13px"><text x="52.9" y="243.5" text-anchor="end">0</text><text x="52.9" y="209.5" text-anchor="end">0.5</text><text x="52.9" y="175.4" text-anchor="end">1</text><text x="52.9" y="141.4" text-anchor="end">1.5</text><text x="52.9" y="107.3" text-anchor="end">2</text><text x="52.9" y="73.3" text-anchor="end">2.5</text><text x="50.7" y="260.3" text-anchor="end">0</text><text x="95.5" y="288.1" text-anchor="end">500</text><text x="140.2" y="316" text-anchor="end">1000</text><text x="185" y="343.8" text-anchor="end">1500</text><text x="229.7" y="371.7" text-anchor="end">2000</text><text x="252" y="375.8" text-anchor="start">0</text><text x="297.8" y="363.8" text-anchor="start">50</text><text x="343.5" y="351.9" text-anchor="start">100</text><text x="389.3" y="339.9" text-anchor="start">150</text><text x="435" y="328" text-anchor="start">200</text><text x="480.8" y="316" text-anchor="start">250</text><text x="526.5" y="304.1" text-anchor="start">300</text><text x="9.6" y="49">× 10<tspan dy="-6" font-size="10.4px">-3</tspan></text></g><g font-family="Liberation Sans, Arial, sans-serif" fill="#262626" font-size="16.4px"><text x="93.4" y="363.6" text-anchor="middle">Chain length</text><text x="407" y="387.1" text-anchor="middle">Time(min)</text><text transform="translate(14.8,163.5) rotate(-90)" text-anchor="middle">Molecular Weight Fraction</text></g>
</svg>
</body></html>
